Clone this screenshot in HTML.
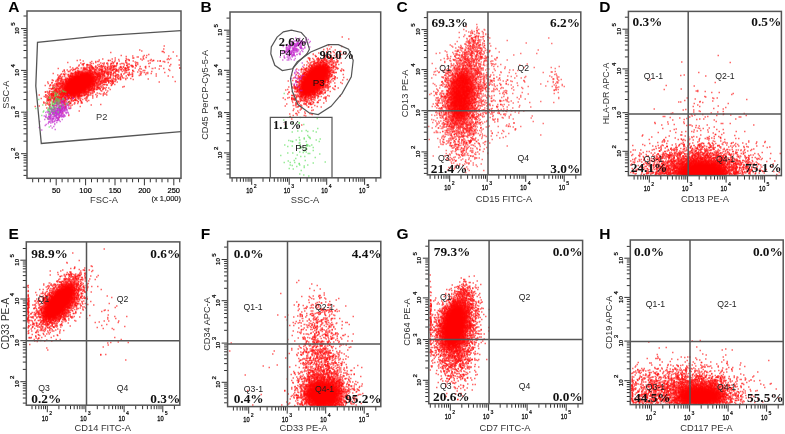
<!DOCTYPE html><html><head><meta charset="utf-8"><style>html,body{margin:0;padding:0;background:#fff;overflow:hidden}svg{display:block}</style></head><body><div id="w"><svg width="785" height="434" viewBox="0 0 785 434">
<rect width="785" height="434" fill="#fff"/>
<defs><filter id="b1" x="-50%" y="-50%" width="200%" height="200%"><feGaussianBlur stdDeviation="1"/></filter><filter id="b2" x="-50%" y="-50%" width="200%" height="200%"><feGaussianBlur stdDeviation="2"/></filter><filter id="b3" x="-50%" y="-50%" width="200%" height="200%"><feGaussianBlur stdDeviation="3"/></filter><filter id="b4" x="-50%" y="-50%" width="200%" height="200%"><feGaussianBlur stdDeviation="4"/></filter></defs>
<svg x="27" y="11" width="154" height="167.3" viewBox="27 11 154 167.3" overflow="hidden">
<ellipse cx="79" cy="84" rx="18" ry="11" transform="rotate(-30 79 84)" fill="#ff0000" opacity="1" filter="url(#b2)"/>
<path transform="scale(.5)" d="M220 105h3m18 6h3m7 2h3m38-2h3m1-2h3m37 3h3m-135 6h3m44-1h3m-2 2h3m11-3h3m4-2h3m-1 0h3m7 2h3m45 3h3m-1-2h3m-204 8h3m16-4h3m9 1h3m14 1h3m31-2h3m4 2h3m11-1h3m-3 0h3m12 3h3m28-5h3m39 3h3m-1 0h3m-2 1h3m-171 2h3m2 2h3m-3 0h3m-1-1h3m3 3h3m0 0h3m0-1h3m-1-2h3m13 2h3m1 2h3m8-4h3m6 0h3m0-1h3m-3 5h3m-2-4h3m-1 4h3m3-5h3m3 2h3m10-1h3m-3 4h3m-2 0h3m-2-3h3m0 1h3m-3-1h3m1 3h3m-3 0h3m-1 0h3m4-4h3m1-1h3m22 0h3m55 4h3m-221 4h3m2 2h3m3 1h3m3-5h3m2 4h3m8-2h3m3 3h3m-2 0h3m-1-5h3m-1 1h3m-3 4h3m-2-2h3m-1 2h3m0-3h3m1 2h3m-2 1h3m3-3h3m2-1h3m0 1h3m2 1h3m0-2h3m0 4h3m-1-4h3m-1 2h3m-1-2h3m-2 1h3m2-2h3m-3 1h3m6 1h3m0 3h3m0-3h3m0 2h3m0 1h3m-1-4h3m-2 1h3m-1 0h3m4 0h3m2 2h3m7-3h3m7 1h3m66 2h3m-237 7h3m6-3h3m8 1h3m0-2h3m7 4h3m3 0h3m-1-3h3m-2-2h3m0 0h3m1 1h3m-3 0h3m0 3h3m-3-1h3m-1-2h3m-2 1h3m1 3h3m4-3h3m3-1h3m-2 2h3m-2-2h3m0-1h3m-2 4h3m-2 0h3m-2-2h3m0 3h3m-3 0h3m3-5h3m3 0h3m2 3h3m-2-1h3m3 2h3m-3-2h3m1 2h3m-2-1h3m8 1h3m14-1h3m35 2h3m-200 4h3m12 2h3m3-1h3m6 1h3m1 0h3m-1-3h3m-2 2h3m-3-1h3m3-2h3m-1-1h3m-3 4h3m-3-1h3m-2 2h3m0 0h3m-2-4h3m-3 2h3m-2-2h3m2 4h3m-2-5h3m-3 5h3m-3 0h3m-2-1h3m-3-1h3m-2-3h3m-1 2h3m2 3h3m-2-4h3m-2 3h3m2 1h3m-3 0h3m-2 0h3m-2-2h3m0 1h3m-2-2h3m-2 3h3m-1-4h3m-2-1h3m-3 2h3m-2 3h3m-3-4h3m-2 3h3m-3-1h3m-2 2h3m-2-2h3m-2 2h3m-1 0h3m-2-3h3m-1-1h3m-3 4h3m0-2h3m-1-1h3m-3 0h3m-3 3h3m-2-1h3m-1-1h3m-3-3h3m-3 5h3m-3-2h3m-1-1h3m1 0h3m-1 3h3m-3-4h3m-2-1h3m8 3h3m0-3h3m2 5h3m-2 0h3m3-1h3m4-2h3m-1-1h3m-1 0h3m-1 4h3m6 0h3m8-5h3m2 4h3m-168 2h3m1 2h3m-2-1h3m15 1h3m-1 1h3m-3-3h3m0 2h3m-2 2h3m0 1h3m-3 0h3m-1-1h3m-3 0h3m1-1h3m-2-1h3m-2-1h3m-3 3h3m-1-1h3m-2 2h3m0 0h3m-3-2h3m-3-3h3m-2 0h3m-1 0h3m-3 3h3m-3-1h3m-2-1h3m-2 1h3m1 3h3m-3-3h3m1 1h3m-2-3h3m-2 1h3m0-1h3m-3 0h3m-3 3h3m-2 1h3m-3-2h3m-3 1h3m-2 2h3m1-5h3m-2 4h3m-2 1h3m0-2h3m0 2h3m-2-5h3m-3 4h3m-2 0h3m-3-1h3m-2 0h3m-1-1h3m-2-2h3m-2 2h3m-3 3h3m-3 0h3m13-4h3m-1 4h3m-1 0h3m-2-4h3m-3 1h3m5 0h3m-2 0h3m-1-2h3m-1 4h3m3 1h3m-3-2h3m-1-1h3m20 0h3m-164 8h3m5 1h3m0-3h3m-1-1h3m3 1h3m3 1h3m0 0h3m2 0h3m-2 1h3m-2-4h3m-2 3h3m-2 1h3m-3 1h3m-2-3h3m-3 2h3m-3 1h3m-2-2h3m1 1h3m-2-1h3m-3 0h3m-2-2h3m-3 0h3m-3 0h3m-2 4h3m-2-2h3m-3-3h3m-3 2h3m-3 1h3m-2 2h3m-3-4h3m-2 4h3m-3-5h3m-2 1h3m-2 2h3m-3 0h3m-3 0h3m-1 2h3m-3-5h3m-3 0h3m-3 1h3m-2-1h3m-3 5h3m-2-1h3m-2-2h3m-2-2h3m-2 3h3m-3-1h3m-3-1h3m-2 1h3m-3 2h3m-2-4h3m-3 4h3m-2 1h3m-2-5h3m-2 4h3m-3 0h3m0-2h3m-3-1h3m-1-1h3m-3 0h3m-2 2h3m-3 1h3m-3-3h3m-2 3h3m-3-3h3m-3 4h3m-2-1h3m-2 0h3m-3 0h3m1 1h3m-3-1h3m-2-1h3m-3 1h3m-2-3h3m-3 5h3m-3 0h3m-2-3h3m-1-2h3m-3 2h3m-3 2h3m0-2h3m-2 0h3m-2 2h3m-1-1h3m-3-3h3m-2 3h3m-2-3h3m2 0h3m-3 3h3m-3-1h3m7-1h3m-2-1h3m-3 2h3m-3 2h3m-3 0h3m0-4h3m14 4h3m4-3h3m0 2h3m11-3h3m9 3h3m27-1h3m-196 8h3m5-3h3m0 1h3m1 2h3m-2 1h3m-2-1h3m0 1h3m-3-2h3m-2 2h3m-1-4h3m-2 4h3m0-2h3m-3 1h3m-3-2h3m-2 3h3m-2-5h3m-3 0h3m-1 5h3m0-1h3m-2-2h3m-2 0h3m-2-2h3m-1 0h3m-3 4h3m-2-4h3m-3 3h3m-2-3h3m-2 4h3m-3-3h3m-2 3h3m-3-1h3m-2-1h3m-3 0h3m-2-1h3m-3 0h3m-3 2h3m-2 1h3m-2 1h3m-3 0h3m0-1h3m-3 1h3m-2-4h3m-2 0h3m-3 4h3m-2-5h3m-2 2h3m-3 2h3m-2-3h3m-2 0h3m-2 0h3m-3 0h3m-2 2h3m-1 1h3m-2-2h3m-3 1h3m-2 2h3m-3-4h3m-3 0h3m-2-1h3m-3 1h3m-2 4h3m-2-1h3m0 1h3m0 0h3m-2-3h3m-2-1h3m-2 2h3m-3 0h3m-2 2h3m-3-4h3m-3 4h3m-2-1h3m-3-2h3m-3-2h3m-2 2h3m-2 1h3m-3 0h3m-3 0h3m-2-1h3m-3 2h3m-2-3h3m-2 2h3m-2-1h3m-1-1h3m-2 2h3m-2-1h3m-1 0h3m-3-1h3m-1 3h3m-1 0h3m-2-3h3m2 1h3m-1-1h3m-2 3h3m1-2h3m0 1h3m2-3h3m-2 4h3m0-4h3m-2 5h3m-1-3h3m-2 1h3m-2-3h3m-138 9h3m7-1h3m5 1h3m1-2h3m-1 3h3m-3 0h3m-1-3h3m-3 4h3m-3-2h3m-2 0h3m-2-3h3m0 5h3m-1-2h3m-2 2h3m1-3h3m-3 1h3m0 2h3m0 0h3m-2-3h3m-1-2h3m-3 1h3m-2-1h3m-3 1h3m-1 2h3m-2 2h3m-3 0h3m-2-5h3m-3 5h3m-3-3h3m-3 0h3m-2 1h3m-2 0h3m-3 2h3m-3-3h3m-2 2h3m-3-1h3m-3 0h3m-2 2h3m-2 0h3m-3 0h3m-2-5h3m-3 5h3m-2-4h3m-3 2h3m-1 2h3m0-5h3m-3 5h3m-2-2h3m-3-3h3m-2 3h3m-3 1h3m-3-2h3m-3 2h3m-3-4h3m-3 0h3m-2 0h3m-3 2h3m-3-1h3m-3 4h3m-1-4h3m-3 1h3m-3 2h3m-1-4h3m-1 3h3m-3-1h3m-3 3h3m-2-1h3m-2-3h3m-2 1h3m-3 0h3m-3 2h3m-3-1h3m-2 1h3m-2 1h3m-1 0h3m-2-4h3m-3 1h3m-3-2h3m-3 4h3m-2 0h3m-2-4h3m-1 3h3m-3-2h3m-3 3h3m-3-3h3m-2 0h3m-3 4h3m-2-3h3m-2 0h3m-3-2h3m-2 3h3m-3-3h3m-3 1h3m-3 3h3m-3-2h3m-3 0h3m-2 3h3m-3-3h3m-2-2h3m0 0h3m-3 3h3m-3 1h3m-2-4h3m-3 3h3m-1-2h3m-3 1h3m-3-2h3m-1 0h3m-2 1h3m-2-1h3m-2 2h3m5 3h3m-2-5h3m-2 4h3m-2 0h3m2-3h3m2 0h3m-3 1h3m7 0h3m22 3h3m-148 5h3m-2-1h3m-2 1h3m-3-1h3m-1-1h3m-1 0h3m0 0h3m-1 1h3m-3 1h3m-2 0h3m-2-1h3m-1 0h3m-2-1h3m-2-2h3m5 0h3m-2 1h3m-2 3h3m-2-2h3m-2-1h3m-2 0h3m-2-1h3m-3 3h3m-3 2h3m-2 0h3m-3-3h3m-1 3h3m-2-3h3m-3 1h3m-3 0h3m-1-2h3m-2 1h3m-2 0h3m-3 0h3m-2 3h3m-2-2h3m-3 2h3m-2-3h3m-2 0h3m-2 3h3m-1 0h3m-2-5h3m-2 3h3m-3-2h3m-1-1h3m-3 3h3m-2-3h3m-2 0h3m-2 1h3m-2 4h3m-2-5h3m-2 4h3m-2-4h3m-2 0h3m-3 3h3m-1-2h3m-3 3h3m-2 0h3m-3-4h3m-2 0h3m-3 4h3m-2-4h3m-2 3h3m-3 2h3m-2-2h3m-3-3h3m-2 1h3m1 0h3m-1 1h3m-3-1h3m-2 3h3m-3 1h3m-1-5h3m-3 4h3m-2-4h3m-3 5h3m0 0h3m-2-1h3m-2-2h3m-2 0h3m-1 0h3m-2 3h3m-2-3h3m0 3h3m-1 0h3m-2-4h3m-2 0h3m0 1h3m-2 3h3m0-4h3m0 3h3m1-1h3m-1-2h3m2 1h3m0 3h3m22-5h3m-150 9h3m1 0h3m1 0h3m0-2h3m-2 1h3m-2-2h3m-2 3h3m-2 2h3m-3-3h3m1-2h3m-2 1h3m-2 3h3m-2 1h3m-3-4h3m-3 2h3m-2-2h3m-2 4h3m-3-5h3m-1 0h3m-3 0h3m-2 4h3m-3-3h3m-3 1h3m-3 3h3m-2-5h3m-2 5h3m-3-2h3m2-1h3m-2 3h3m-2-4h3m-3 3h3m-3-2h3m-1 3h3m-3-3h3m-2 3h3m-1-2h3m-2 2h3m-3 0h3m-3-4h3m-3 1h3m-3 3h3m-3-5h3m-3 2h3m-2 1h3m-3-1h3m-3-2h3m-2 4h3m-2-3h3m-2-1h3m-3 3h3m-2 0h3m-2-3h3m-3 0h3m-2 1h3m-3 0h3m-3 2h3m-3-2h3m-3-1h3m-2 3h3m-2-3h3m-3 4h3m-3-3h3m-2 3h3m-1-4h3m-3 3h3m-1-2h3m-2-1h3m-3 1h3m-2 4h3m-2 0h3m-3-5h3m0 2h3m-3-2h3m-2 4h3m-3-1h3m-3-3h3m-2 3h3m-3 2h3m-2-1h3m-3-2h3m-3 1h3m-3-2h3m-2 1h3m-3 2h3m-2-1h3m-1-1h3m-3 2h3m-2-1h3m-3-3h3m-2 2h3m-2 2h3m-3-3h3m-2 2h3m0 2h3m1-4h3m-1 0h3m-2 0h3m3 1h3m-2 1h3m10-2h3m-126 9h3m10 0h3m0 1h3m0-2h3m-2-2h3m-1 3h3m-1-3h3m-3 1h3m-1 3h3m-2 0h3m-3-1h3m-1-2h3m-3 3h3m-3-3h3m-1 2h3m-2-2h3m-3 3h3m-1 0h3m-1-5h3m-2 5h3m-3 0h3m2-3h3m-3 2h3m-2-3h3m-2 3h3m-2-1h3m1-1h3m-3 0h3m-3 0h3m-3-2h3m-1 2h3m-3-2h3m-2 2h3m-2 1h3m-3-1h3m1 0h3m-2-2h3m-3 1h3m-3 1h3m-3 2h3m-3-3h3m0 3h3m-3-3h3m-1 3h3m-2-2h3m-2 0h3m-3 1h3m0-3h3m-3 5h3m-2-5h3m-1 3h3m-3 2h3m-2-4h3m-3 4h3m-3-4h3m-3 1h3m-2-2h3m-3 2h3m-2-2h3m-3 3h3m-3 2h3m0-4h3m-3 4h3m-3 0h3m-1-4h3m-3 2h3m-2 2h3m-3-3h3m6 0h3m-2-1h3m-3 1h3m-2-1h3m-3 3h3m3-4h3m-2 5h3m1-5h3m-2 2h3m-3 2h3m1-3h3m13 1h3m-112 6h3m0 0h3m-2 0h3m-2 1h3m-3 0h3m-2 0h3m-1-2h3m-1 0h3m-3 1h3m1 0h3m-2 3h3m-2 0h3m-3-5h3m-2 3h3m-2-1h3m-3-1h3m-2 1h3m-2-1h3m-1-1h3m-2 4h3m-3-1h3m-1-1h3m-3-1h3m-1 1h3m-2-2h3m-1 3h3m-3-3h3m0 1h3m-1-1h3m-3 0h3m-2 3h3m-2-1h3m-3 2h3m-2-4h3m-2 2h3m-2-2h3m0 1h3m-2 4h3m-1-2h3m0 2h3m-1-3h3m-2 1h3m0-3h3m-2 2h3m3-1h3m-2 0h3m-3 3h3m-3-4h3m-2 5h3m-2-5h3m-2 4h3m-3-2h3m-2 0h3m-2-1h3m-2-1h3m-3 5h3m-2-5h3m-3 0h3m7 4h3m-1 0h3m-2-3h3m-84 5h3m-2 0h3m-3 3h3m-1-1h3m-2 2h3m-3 0h3m-1-3h3m-3 0h3m-2 3h3m-3 0h3m2 0h3m-1-4h3m2 0h3m-2 4h3m-3-2h3m-1-1h3m-1 2h3m-2-1h3m5-1h3m-3 3h3m0-3h3m-1-1h3m1 0h3m10 2h3m0 0h3m1 3h3m1-5h3m-3 3h3m-1 2h3m8-3h3m1 1h3m-93 5h3m0 0h3m6 2h3m-3 1h3m3-5h3m-3 2h3m-2-2h3m4 4h3m7-4h3m-2 0h3m-1 0h3m-2 1h3m-3 2h3m-1 0h3m1-3h3m1 0h3m-1 3h3m-1-2h3m5 0h3m10 1h3m36 3h3m-134 4h3m5-1h3m10-2h3m4 0h3m-2 2h3m-3 1h3m3-3h3m10 5h3m8-2h3m-2 1h3m8-2h3m0-2h3m35 0h3m-92 6h3m12 1h3m13 1h3m2-1h3m6 0h3m-23 18h3" stroke="#ff0000" stroke-width="3" stroke-opacity="0.6" fill="none"/>
<path transform="scale(.5)" d="M327 92h3m-52 8h3m1 2h3m38 1h3m1 2h3m15-1h3m-63 9h3m-1-2h3m62 1h3m-132 6h3m10 1h3m41-1h3m54 1h3m-181 1h3m28 3h3m1 0h3m-1 0h3m-2-3h3m26 5h3m0-5h3m18 2h3m-3 3h3m4-5h3m5 2h3m31-1h3m4 0h3m10 1h3m13 3h3m-181 5h3m3-1h3m-2 0h3m-2 2h3m4-1h3m-1 0h3m4 1h3m1-4h3m6 3h3m3-4h3m-2 5h3m9-5h3m-2 4h3m-3-3h3m3 2h3m-3 2h3m9-4h3m35 4h3m23-4h3m-184 10h3m37 0h3m9-2h3m-3 1h3m4-2h3m0 1h3m-2-3h3m-1 3h3m-2-2h3m-2 0h3m-1 2h3m11 2h3m-3-4h3m2 2h3m-3-3h3m-3 1h3m-2 0h3m-3 4h3m2 0h3m-3-4h3m2 3h3m0 0h3m0 0h3m-3 0h3m-1-4h3m1 1h3m0-1h3m5 4h3m-2 1h3m-2-3h3m-2-1h3m2 1h3m2 3h3m2-1h3m32-3h3m10 4h3m-2 0h3m14-5h3m-197 10h3m-3-1h3m5 2h3m11-4h3m15 0h3m-2 1h3m0-1h3m-1 3h3m2-1h3m0 0h3m-2-3h3m-1 1h3m0 3h3m-2-2h3m6 1h3m-3 0h3m0 0h3m-3-1h3m-2 2h3m-3 0h3m-1-3h3m-2 4h3m-3 0h3m0 0h3m-3 0h3m-2-1h3m-2-2h3m-2 2h3m1-1h3m1-2h3m-2 1h3m-3-2h3m-2 3h3m-1 0h3m0-3h3m-1 1h3m0 3h3m-2-3h3m-1 3h3m5-2h3m-1 3h3m4-5h3m-2 3h3m1-2h3m7 4h3m-2 0h3m7-3h3m0 3h3m-155 6h3m-2-5h3m12 4h3m2 0h3m-2 0h3m-2-2h3m-2 0h3m0-2h3m-2 0h3m-3 2h3m2-2h3m-3 5h3m-1-1h3m-2-2h3m-2 1h3m-1 1h3m-1-1h3m-2-3h3m-3 1h3m-2 4h3m-2-1h3m-2 0h3m-3-1h3m-3 0h3m-2-1h3m-1 2h3m-2-3h3m-3 1h3m-2 1h3m-3 1h3m-2 0h3m-2-4h3m-2 4h3m-3 1h3m-3 0h3m-3 0h3m-2-2h3m-2 0h3m-3 2h3m1-5h3m0 1h3m0 2h3m-1 1h3m-1 0h3m-1-3h3m-2 3h3m-2 1h3m-2 0h3m-1-4h3m0 3h3m-1-3h3m1 2h3m-2-3h3m0 4h3m-2-2h3m0-1h3m-3 4h3m-2-4h3m-2 3h3m3-3h3m10 4h3m2-1h3m8 1h3m-3-2h3m3-1h3m-2 2h3m13-4h3m-1 0h3m5 5h3m8-2h3m-189 8h3m-2-2h3m16-3h3m1 2h3m0 2h3m-1-4h3m-1 3h3m0-1h3m-3 1h3m-3 2h3m-1 0h3m-2-2h3m-1 0h3m-1 2h3m2 0h3m-2 0h3m-1-2h3m-2 0h3m-1-3h3m-2 3h3m-2-1h3m-1 2h3m-3-4h3m-1 0h3m-3 1h3m-2 0h3m0-1h3m-2 4h3m-3-3h3m-2 2h3m-2-2h3m-3 0h3m-2-1h3m-1 5h3m-2-1h3m-2 1h3m-2 0h3m0-2h3m1 2h3m-3-5h3m-3 4h3m-2-3h3m-2-1h3m-2 3h3m-3-2h3m-3-1h3m-2 4h3m-2-1h3m-3 2h3m-2-1h3m-3-2h3m1 2h3m-2-3h3m-2 1h3m-1-2h3m-3 0h3m-2 2h3m-3 0h3m-3-2h3m2 4h3m-3-1h3m-2 0h3m2 1h3m3-4h3m2 5h3m-3-4h3m3 0h3m4 4h3m-3-3h3m5 0h3m2-1h3m18 0h3m0-1h3m61 4h3m-242 7h3m5-2h3m-1 1h3m0-4h3m-1 0h3m-2 1h3m-1 2h3m-3 2h3m-2-2h3m-2 1h3m2-4h3m-3 3h3m-2-2h3m0 1h3m-1 2h3m2-2h3m-2 3h3m-1 0h3m-3 0h3m-2-3h3m-2 2h3m-2-1h3m-3-1h3m-2 3h3m-2-5h3m-2 4h3m-3-1h3m-3-3h3m-2 4h3m-2-4h3m-2 1h3m-3 1h3m-2-1h3m-3 1h3m-2 0h3m-3-1h3m-3 3h3m-2-3h3m-2 3h3m-3-2h3m-2 0h3m-2 3h3m-1-5h3m-3 0h3m-3 5h3m-3-4h3m-2 3h3m-3-2h3m-2 3h3m-3-5h3m-2 5h3m-2 0h3m-3-1h3m-2-4h3m-2 3h3m-3 0h3m-3-1h3m-2 0h3m-1 3h3m-2-4h3m-1 0h3m-3 0h3m-1 1h3m-3 3h3m-2 0h3m-1-5h3m-3 0h3m-3 5h3m0-1h3m-2-4h3m-3 3h3m-2 0h3m-2-2h3m-1 4h3m-1-5h3m-2 4h3m-2 0h3m0-1h3m-2 0h3m-3 2h3m-2-4h3m-1 4h3m-3-1h3m-1-3h3m1-1h3m-2 5h3m-1-1h3m0 1h3m-3-3h3m-3-1h3m-2 1h3m-2 3h3m-2-4h3m-3 0h3m-3 1h3m-2 3h3m-2 0h3m-3-5h3m-2 1h3m-3 1h3m0-1h3m-1-1h3m2 0h3m2 2h3m-2 2h3m1-2h3m2 1h3m-3-1h3m17-1h3m-169 7h3m-2 3h3m5-2h3m5 2h3m0 0h3m1-1h3m-2-4h3m-2 1h3m-1-1h3m-3 1h3m-1 4h3m-1 0h3m-3-1h3m2-3h3m-2 4h3m-3 0h3m-3-3h3m-1-1h3m-2 4h3m-3-2h3m-1 1h3m-3-1h3m-2 1h3m-3-1h3m-2-2h3m0 3h3m-3 0h3m-2-2h3m-2-2h3m-2 3h3m-2 0h3m-1 2h3m-3-1h3m-2-4h3m-2 0h3m-3 2h3m-3-1h3m-3 2h3m-3 1h3m-1 1h3m-3-5h3m-2 4h3m-3-4h3m-3 2h3m-2-1h3m-3 1h3m-2 3h3m-2 0h3m-2-5h3m-2 1h3m-2 0h3m-3 0h3m-2-1h3m-3 5h3m-3 0h3m-3-2h3m-3 1h3m-1 1h3m-2-4h3m-3 3h3m-3-4h3m-2 0h3m-2 5h3m-2 0h3m-3-4h3m-2 4h3m-2 0h3m-3-5h3m-2 0h3m-3 1h3m-3-1h3m-2 3h3m-2-1h3m-3 3h3m-2-4h3m-3 3h3m-2 0h3m-2-2h3m-1 1h3m-3 0h3m-3 2h3m-3 0h3m-2-3h3m-2 3h3m-2-3h3m-3-2h3m-3 0h3m-2 0h3m-2 1h3m-3 1h3m-2-1h3m-1 2h3m-3 1h3m-2 1h3m-3-4h3m-3-1h3m-2 4h3m-3-2h3m-3-1h3m-1-1h3m-2 0h3m-2 4h3m-2 0h3m1-3h3m1 0h3m-3 2h3m-3 1h3m-2 1h3m-3-2h3m-3 0h3m-2 2h3m-2-5h3m-3 0h3m-2 4h3m-3-1h3m-2-3h3m-3 3h3m-2-2h3m1 1h3m-2-1h3m3 1h3m4-2h3m-2 5h3m-2-1h3m-2-3h3m0 0h3m1 1h3m81 0h3m-222 8h3m-1-2h3m1 1h3m-2-1h3m2 3h3m-3-1h3m-2-1h3m-3 2h3m-1-4h3m-3 1h3m3-2h3m1 3h3m-3 0h3m-1-2h3m-1 4h3m0-2h3m0-2h3m-2 2h3m-3-2h3m-3 1h3m-3 1h3m-3-2h3m-2-1h3m-3 4h3m-3 0h3m-2-2h3m-3 1h3m-2 1h3m-1-1h3m-2 0h3m-3-3h3m-1 1h3m-3 2h3m-3-2h3m-2 4h3m-3-2h3m-2-2h3m-3 4h3m0 0h3m-2-2h3m-3-1h3m-2-1h3m-2 3h3m-2-4h3m-3 3h3m-2-1h3m-3 3h3m-3-5h3m-2 0h3m-2 4h3m-2 1h3m-2-4h3m-3 3h3m-3-3h3m-3 4h3m-2 0h3m-2-1h3m-3-2h3m-3 1h3m-2 2h3m-2-1h3m-3-4h3m-2 2h3m-3-1h3m-2-1h3m-2 2h3m-3-2h3m-3 2h3m-2-1h3m-3 3h3m-2-1h3m-2 0h3m-2-3h3m-3 4h3m-3 1h3m-2-1h3m-2-4h3m-3 5h3m-3 0h3m-2-1h3m-2-2h3m-3 3h3m-2-2h3m-2 0h3m-1-3h3m-3 3h3m-1-1h3m0 3h3m0-5h3m-2 1h3m-2 1h3m-1 3h3m-3-3h3m-3-2h3m-2 4h3m-2 0h3m-2 0h3m-1 0h3m-3-4h3m-3 0h3m-1 5h3m-2-3h3m-1-1h3m4 1h3m2-1h3m9 2h3m4-2h3m-134 8h3m-1 0h3m-1 1h3m0-1h3m-1-1h3m-2 3h3m-3-4h3m0 4h3m0-3h3m-1 3h3m-2-2h3m0-1h3m-3 0h3m-1-1h3m-1 1h3m-2 1h3m0 2h3m-3-2h3m-2 1h3m-3-3h3m-1-1h3m-3 5h3m-2-1h3m-3-4h3m-3 4h3m-2-1h3m-3-2h3m-3 1h3m0 2h3m-1-1h3m-3-1h3m-2 3h3m-3-2h3m-2 1h3m-3-3h3m-2 2h3m-3-1h3m-2 1h3m-3 2h3m-3-1h3m-1-3h3m-3 4h3m-3-4h3m-1 1h3m-3-2h3m-3 4h3m-1-3h3m-2 4h3m-3 0h3m-1-3h3m-2 3h3m-2-4h3m-3-1h3m-2 5h3m-3 0h3m-3-5h3m-3 3h3m-2 0h3m-2 1h3m-2-2h3m-1-2h3m-3 1h3m-2 0h3m-3 0h3m-1 3h3m-2-2h3m1 2h3m-2-3h3m-3 0h3m-2 1h3m-3 2h3m-2 1h3m-3-4h3m-3 4h3m2-4h3m-2 1h3m-2 2h3m-1-2h3m1 1h3m-2-3h3m-1 5h3m-2 0h3m-2 0h3m-2-3h3m-3 0h3m0 3h3m-2-1h3m-3-3h3m0 1h3m-1-1h3m-3 3h3m-1-1h3m5-1h3m-121 8h3m1-1h3m1 2h3m4-2h3m0-2h3m-3 3h3m-1 1h3m-1-5h3m-1 4h3m-1 0h3m-1-1h3m-2 2h3m-2-1h3m-2 0h3m1-1h3m-2 1h3m-3 0h3m-3-4h3m-2 5h3m-3-5h3m-2 3h3m-2 2h3m-3-3h3m-2-2h3m-3 1h3m-3 4h3m-2 0h3m-3 0h3m-2-2h3m-3 1h3m-2 1h3m-3-5h3m-3 5h3m-2-5h3m-2 4h3m-2-4h3m-3 2h3m-1 1h3m-3 0h3m-1 0h3m-2 0h3m-2-1h3m-3 1h3m-3-3h3m-3 2h3m-2 2h3m-2-2h3m-2 1h3m-3-3h3m-2 1h3m-3 4h3m-2 0h3m-1-2h3m-2 2h3m-3-4h3m-2 2h3m-1-3h3m-3 0h3m-1 4h3m-3 1h3m-3-5h3m-1 3h3m-3 1h3m-3-3h3m0-1h3m-3 2h3m-3 2h3m-2-4h3m-1 0h3m-3 1h3m0-1h3m-3 1h3m-1 3h3m-2-3h3m-3 0h3m2 3h3m0-2h3m-3 2h3m-2-4h3m-2 0h3m-1 1h3m-3-1h3m0 2h3m-2 3h3m0-1h3m17 1h3m2 0h3m-125 5h3m1-4h3m3 2h3m-1 3h3m-2-4h3m-2 1h3m-2-2h3m-2 5h3m1-2h3m-2 0h3m-2-1h3m2 0h3m-2-2h3m-2 0h3m-2 2h3m-1-1h3m-2 0h3m-3 3h3m-2-4h3m-3 3h3m-3-3h3m-3 4h3m-3 0h3m-3-1h3m-2 1h3m-1-2h3m-3 1h3m-3-1h3m-3-2h3m-1 1h3m-2 4h3m-2-5h3m-2 0h3m-2 2h3m-3-1h3m-2 4h3m-1 0h3m-2-5h3m-1 0h3m-3 2h3m-2 2h3m-3-2h3m-3 0h3m-3 3h3m-2-4h3m-1 2h3m-2-3h3m-2 4h3m-2-1h3m-3-3h3m-3 1h3m-2 4h3m-2-5h3m-1 2h3m-3-2h3m-2 0h3m-2 2h3m-2 0h3m0 3h3m-2-1h3m-3 0h3m-2-3h3m-3 3h3m1 0h3m-2-4h3m-3 5h3m0 0h3m0-2h3m-1-3h3m-2 3h3m0-1h3m3-2h3m0 5h3m3-2h3m0 2h3m1-4h3m5 1h3m2 0h3m-132 9h3m19-2h3m-2 1h3m-1 1h3m0-2h3m0 2h3m0-3h3m-1 2h3m0 0h3m-2 0h3m-1-1h3m-2-3h3m-2 0h3m0 2h3m-2 1h3m-3 2h3m3 0h3m-1-2h3m-3 2h3m-2-4h3m-2 0h3m-2 0h3m-3 4h3m-2-5h3m-2 4h3m-3-1h3m-3-2h3m0 3h3m-2-2h3m0-2h3m-2 4h3m1-4h3m-1 1h3m-3 1h3m9 3h3m0-1h3m-2-3h3m9 0h3m5 1h3m-103 8h3m-2-4h3m-1 3h3m-1-2h3m0-1h3m2 0h3m-2 2h3m-2 0h3m-3 1h3m-3-2h3m-1 0h3m-2-1h3m-3 3h3m-2-1h3m-2-2h3m-3 1h3m-2-1h3m-2 1h3m-3 0h3m4 3h3m-3-3h3m-1 3h3m-3-2h3m-3 2h3m-2-1h3m-3-2h3m-3 4h3m-2-4h3m0 2h3m-1 1h3m4 1h3m1-3h3m-3 1h3m-3 0h3m-2-3h3m1 3h3m0-2h3m-3 1h3m1 1h3m-3 0h3m4 0h3m1-2h3m3 1h3m0 3h3m-90 1h3m3 3h3m11-3h3m-1 2h3m-3-2h3m1 2h3m-2 1h3m-2 1h3m1-3h3m-2 2h3m-1-3h3m-2 4h3m1-3h3m-1-1h3m-3 5h3m5-5h3m0 3h3m5 1h3m-2-1h3m12-1h3m-58 5h3m0 1h3m15-2h3m-2 3h3m2-3h3m-3 0h3m21 3h3m-44 4h3m-1 4h3m7-5h3m7 0h3" stroke="#ff0000" stroke-width="3" stroke-opacity="0.6" fill="none"/>
<path transform="scale(.5)" d="M326 98h3m-4 5h3m-64 9h3m-38 4h3m23 3h3m6-3h3m19 2h3m2-3h3m7 4h3m36-2h3m-164 8h3m8 0h3m22-4h3m1 0h3m6 2h3m19-2h3m4 0h3m9 3h3m0 1h3m20-3h3m5 0h3m-1-1h3m6 1h3m2 0h3m35-2h3m-195 8h3m5 1h3m28-2h3m-1 3h3m-2-3h3m-3-1h3m11 1h3m8 3h3m-2-3h3m6 0h3m-2 0h3m0 0h3m-2 3h3m2 1h3m6 0h3m6-1h3m1-1h3m63 0h3m-191 7h3m-2-1h3m9 1h3m1 1h3m-2-1h3m-1 1h3m2-1h3m2-1h3m0 1h3m2-2h3m-3-2h3m-2 2h3m-1 1h3m0-2h3m3 1h3m3 2h3m2-2h3m3-1h3m-1 2h3m2 0h3m-3-1h3m-1-1h3m-1 4h3m8-2h3m4 2h3m-1-1h3m1-1h3m5-2h3m-1-1h3m-2 1h3m3-1h3m4 5h3m9-1h3m4-3h3m9 3h3m6-4h3m5 5h3m9-5h3m18 4h3m-235 4h3m7 3h3m-2 0h3m-2-2h3m-1-2h3m1 0h3m2 4h3m1-2h3m-2 1h3m-2 1h3m18-1h3m-2 0h3m-2-2h3m-1 2h3m-3 0h3m2-4h3m-1 4h3m-2-3h3m-3-1h3m-1 0h3m-2 2h3m-2 3h3m-2 0h3m4-4h3m-2 4h3m-3-3h3m-1 2h3m2 1h3m-2-5h3m-2 2h3m1-1h3m-1 4h3m2-5h3m-2 2h3m0-1h3m-2-1h3m1 2h3m-1 0h3m-1-1h3m1 0h3m0 0h3m1 1h3m-3-1h3m0 0h3m-2 3h3m-1-1h3m0-1h3m-1-1h3m4 2h3m14-3h3m1 3h3m0 0h3m26-3h3m16 1h3m-1 2h3m-219 7h3m2 1h3m0-1h3m8-1h3m-2 0h3m0 0h3m2-3h3m-3 0h3m0 2h3m0 2h3m-2-1h3m-2-3h3m-1 3h3m1 2h3m-3 0h3m-2 0h3m0-1h3m-1 1h3m-2 0h3m-3-1h3m-2 1h3m-2-2h3m-2-1h3m-3 0h3m-3 3h3m-2-1h3m0-3h3m-1 0h3m-2 1h3m-3-2h3m-2 0h3m-2 2h3m-1 2h3m-2 0h3m0-1h3m-3 0h3m-3-3h3m-2 3h3m-3-3h3m-2 5h3m-2-4h3m-2 1h3m-2 2h3m-2-3h3m-3-1h3m-1 4h3m-2 0h3m0-3h3m-1 3h3m2-2h3m0-2h3m-1 5h3m-2-3h3m-2 3h3m-3-3h3m-2-1h3m0 4h3m-2-5h3m-3 2h3m-2-2h3m1 3h3m-2-3h3m1 3h3m3-3h3m18 1h3m0 4h3m18-2h3m3-2h3m1 1h3m0 1h3m-3-2h3m14 3h3m14-3h3m-212 8h3m0 2h3m-2-2h3m1 0h3m-2-1h3m5 1h3m-1 2h3m-1-3h3m-2 0h3m-1 3h3m-3-3h3m1 1h3m-3 1h3m-2-1h3m-3 0h3m-2 0h3m-1-3h3m-2 1h3m-1 2h3m-2 0h3m0 2h3m-1-4h3m-1 2h3m-2 1h3m-3-2h3m-1 1h3m-1-3h3m-3 5h3m-3-3h3m-2 3h3m-3 0h3m-3-1h3m-1 1h3m-3 0h3m-3-3h3m1 2h3m-3 0h3m-2-1h3m-3-3h3m-3 2h3m-2-1h3m-2 1h3m1-1h3m-2 2h3m-2 2h3m-2-2h3m-2-3h3m-3 2h3m-2-1h3m-2 3h3m-3-1h3m-3 0h3m-1 1h3m-2 1h3m-1-1h3m-3-4h3m-3 3h3m-2-2h3m-3 0h3m-3 4h3m-2-2h3m-1-2h3m-3 1h3m-2 1h3m-2-2h3m-1 0h3m-3 0h3m-3 2h3m-3 0h3m-2 1h3m-2-2h3m-3 1h3m-1-3h3m-2 5h3m-1-3h3m-3-1h3m-2 2h3m9-3h3m2 2h3m2 1h3m0-3h3m-1 3h3m18-3h3m4 3h3m45-1h3m21 0h3m-224 9h3m-1-1h3m-3-4h3m0 2h3m-1 2h3m-3 1h3m5 0h3m0 0h3m-1-4h3m-2 4h3m-1 0h3m-2-3h3m-2-1h3m-2 4h3m-3 0h3m-2-2h3m-2 1h3m-2-2h3m-2 0h3m-3 2h3m-2 0h3m-2-3h3m-3 0h3m-2-1h3m-2 4h3m-3-3h3m-2 1h3m-3 0h3m-3 3h3m-2 0h3m-3 0h3m-3 0h3m-1 0h3m-2-2h3m-3 2h3m-3-3h3m-3-2h3m-3 3h3m-2-3h3m-3 2h3m-2 2h3m-3 1h3m-2-1h3m-2-2h3m-3 2h3m-2 1h3m2-5h3m-2 0h3m-3 5h3m-3 0h3m-2-3h3m1 0h3m-1-2h3m-3 1h3m-1 1h3m-3-1h3m-3 0h3m-1 2h3m-2 0h3m-2-2h3m-3 2h3m-2 2h3m-2-4h3m-2 4h3m-3-3h3m0 1h3m-3 0h3m-2 1h3m-1 0h3m-3-3h3m-2 1h3m0 2h3m-2 1h3m-3-4h3m-3 3h3m-2-2h3m1 2h3m-3-3h3m-2 1h3m1 3h3m-3-3h3m-1 0h3m-3 1h3m-2 1h3m-2-4h3m-3 5h3m0-1h3m-2-3h3m-2 0h3m-1 3h3m-3-3h3m-2 1h3m-3 1h3m-1-2h3m-2 4h3m-2 0h3m0 0h3m-2 0h3m-2-2h3m-1 2h3m-2-3h3m0 0h3m3-2h3m2 0h3m3 0h3m-2 0h3m1 1h3m-3 2h3m-138 5h3m-2 3h3m-3 0h3m1-5h3m-2 5h3m0-2h3m-2-1h3m2-2h3m-2 3h3m-1-2h3m-3-1h3m-1 3h3m-3 1h3m-2-3h3m-3 0h3m-3 2h3m-2 2h3m-2-3h3m-3 2h3m-2-1h3m-3 1h3m-2-3h3m-3 3h3m-1-3h3m-1 3h3m-1-4h3m-3 0h3m-1 3h3m-2 1h3m-3-2h3m-2 1h3m-2-1h3m-2 3h3m-3-3h3m-3 3h3m-3 0h3m0-4h3m-3-1h3m-2 2h3m-2 0h3m-1-1h3m-2 1h3m-3 3h3m-2-1h3m-2 1h3m-2-4h3m-3 2h3m-3-3h3m-2 5h3m-3 0h3m1-2h3m-2-2h3m-1 1h3m-3-1h3m-2 1h3m-3 1h3m-2 0h3m-2 2h3m-2-2h3m-3 0h3m-2 0h3m-2-3h3m-2 0h3m0 1h3m-2 0h3m-2 4h3m-2-5h3m-1 1h3m-2 4h3m-3-4h3m0 1h3m-1 2h3m-1-1h3m-1 0h3m-1-2h3m-3 4h3m-2-5h3m3 0h3m-2 3h3m-2 0h3m-2-2h3m-3-1h3m0 2h3m-1-2h3m0 2h3m1-1h3m0-1h3m-1 4h3m121-3h3m-246 10h3m-1-5h3m1 0h3m-1 0h3m-3 4h3m2-2h3m-3 3h3m-2-3h3m-3-2h3m-2 1h3m-2 2h3m-3 2h3m-2-5h3m-2 4h3m-2-2h3m-1-1h3m-1 0h3m-3 1h3m-2 1h3m-1-1h3m-3-2h3m-2 5h3m-3-3h3m-2 3h3m-3-2h3m-2-2h3m-3 1h3m-2-2h3m-1 5h3m-3-1h3m-3-1h3m-1 1h3m-3-4h3m-2 3h3m-3 1h3m-2 1h3m-3 0h3m-2-5h3m-3 4h3m0-3h3m-2 0h3m-2-1h3m-2 4h3m-1-2h3m-3-1h3m-2 1h3m-3 3h3m-3-3h3m-3-2h3m-3 2h3m-2 0h3m-3 2h3m-1-2h3m-3 0h3m-2 3h3m-3-1h3m-3 0h3m-2-3h3m-3 1h3m-2 0h3m-3-2h3m-2 2h3m-3 2h3m-2 0h3m-3-2h3m-2 1h3m-2 2h3m-2-5h3m-3 0h3m-3 5h3m-2 0h3m-3-2h3m-3-2h3m-3 2h3m-2 0h3m-3-2h3m-2-1h3m-3 3h3m-3 0h3m0 1h3m-2-3h3m-3 1h3m-2 0h3m-3 1h3m-3 2h3m-3-3h3m-2 1h3m-3-1h3m-3 0h3m-2 1h3m-3 0h3m-3-2h3m-2-1h3m-3 1h3m-3-1h3m-2 4h3m-3-3h3m-2-1h3m-2 0h3m-3 1h3m-3 0h3m-2 1h3m-3 2h3m-3-3h3m-3 4h3m-1 0h3m-3-3h3m-3 1h3m-1 1h3m-3-4h3m-2 1h3m-2 1h3m-2 2h3m-3-4h3m-3 0h3m-3 0h3m-1 1h3m-3 4h3m-2-1h3m3-1h3m-3-3h3m-1 2h3m-3-2h3m-1 2h3m-2-1h3m4 0h3m4 1h3m7-2h3m-122 8h3m-3-2h3m3 4h3m-2 0h3m3-4h3m-2 4h3m-3 1h3m-1-2h3m-1-3h3m-1 2h3m-2-1h3m-3 1h3m0 1h3m-1 0h3m-1-3h3m-3 5h3m-2-3h3m-3-2h3m-2 0h3m-3 4h3m-1-4h3m-3 0h3m-2 4h3m-3-3h3m-2-1h3m-3 4h3m-3-4h3m-3 4h3m-1-1h3m-3-2h3m-3 1h3m-2-2h3m-3 4h3m-2 1h3m-3-2h3m-1 2h3m-3 0h3m-3-3h3m-2-1h3m-2-1h3m-3 3h3m-2 2h3m-2-4h3m-2 1h3m-2-2h3m-3 4h3m-3 0h3m-2 1h3m-3-5h3m-3 4h3m-3 1h3m-2-1h3m-3-4h3m-3 0h3m-2 0h3m-3 4h3m-3 1h3m-2-2h3m-3-3h3m-1 4h3m-2-3h3m-3 4h3m-3-2h3m-3-2h3m-2 0h3m-3 4h3m-2-3h3m-2-1h3m-2 0h3m-3 0h3m-2 1h3m-3 2h3m-2-3h3m-1 0h3m0-1h3m-3 2h3m-2 3h3m-2-5h3m-2 4h3m-2 1h3m-3 0h3m1-5h3m-2 1h3m-3-1h3m-2 1h3m-2-1h3m-3 4h3m0 0h3m-2-3h3m-2 1h3m-1 1h3m-3 1h3m4-4h3m-2 0h3m-2 3h3m6 2h3m-2-3h3m-3-2h3m-118 10h3m5-2h3m5 2h3m0 1h3m-2-5h3m-3 2h3m-2-2h3m-2 3h3m-3-1h3m-2-1h3m-3 2h3m-1 2h3m-2-1h3m-2-3h3m-3 0h3m-1 2h3m0-1h3m-3 1h3m-1-3h3m-2 1h3m-3 0h3m-3 3h3m-2-2h3m-1 0h3m-2 3h3m-2-1h3m-2 1h3m-3-5h3m-2 1h3m-3 1h3m-3 3h3m-2-3h3m-3-1h3m-3-1h3m-2 0h3m-2 4h3m-2-3h3m-2 2h3m-2-1h3m-3 1h3m-3-3h3m-2 3h3m-2-2h3m-3 4h3m-3 0h3m-3-4h3m-1 4h3m-3-5h3m-3 4h3m-2-4h3m-3 2h3m-2 3h3m-2-2h3m-3 0h3m-3 1h3m-2-2h3m-3-1h3m-2 0h3m-3-1h3m-3 3h3m-1-3h3m-3 4h3m-2-2h3m-3 1h3m-3-3h3m-3 0h3m-2 4h3m-3 0h3m-3-1h3m-2-3h3m-3 3h3m0-3h3m-2 0h3m-3 3h3m-2-2h3m-3 4h3m-3-2h3m-2 2h3m0 0h3m3-3h3m-3-1h3m-3 0h3m-1 3h3m-2 1h3m-3-2h3m-1 0h3m0-1h3m-2 3h3m-2-4h3m3-1h3m-1 1h3m14 1h3m5-2h3m1 2h3m-120 9h3m-3 0h3m2-1h3m-3-2h3m-1-2h3m-3 4h3m-2-3h3m-2 1h3m1 2h3m-2-3h3m-3 2h3m-3-2h3m-3 1h3m-2-1h3m-1-1h3m-3 1h3m-3 0h3m-2 0h3m-2 0h3m-3 4h3m-3 0h3m-3-1h3m-3-2h3m0 0h3m-2 2h3m-2-3h3m-2 0h3m-2 2h3m-3-3h3m-2 4h3m-2-2h3m-2-1h3m-2 2h3m-3-1h3m-3-2h3m-3 4h3m-2-3h3m-1 4h3m-1-2h3m-3 1h3m-2-4h3m-2 0h3m-3 3h3m-2-2h3m-3 4h3m-3-4h3m-2-1h3m-2 0h3m-3 0h3m-3 3h3m0 1h3m-1-3h3m-3 3h3m-3-1h3m-1 2h3m-2-3h3m-2 1h3m-2 2h3m0-5h3m1 3h3m-1 1h3m-2-4h3m-3 5h3m-2 0h3m-3-4h3m5-1h3m-1 5h3m0-3h3m0 2h3m0 0h3m13-4h3m9 5h3m-1-3h3m2 2h3m-128 3h3m0 1h3m2 2h3m-2-2h3m0 2h3m-2 1h3m0 0h3m-3-3h3m-1-2h3m-2 5h3m-2 0h3m-3 0h3m-1 0h3m-3-3h3m-3 1h3m-3-1h3m-1-1h3m-1 1h3m-2 3h3m-2 0h3m-1-3h3m-3 0h3m-2 3h3m-2-5h3m-3 2h3m-3-1h3m-1 2h3m-2 0h3m-3-2h3m-3 3h3m-1-4h3m-1 4h3m-1 1h3m-2-1h3m-1-4h3m-3 2h3m-2 0h3m-3 0h3m-2-2h3m-2 3h3m-2 1h3m-3-3h3m5 2h3m-1 1h3m-2-4h3m-1 2h3m-3-2h3m4 1h3m0-1h3m-1 0h3m-1 0h3m19 4h3m-91 4h3m-3-1h3m-3 1h3m-2-2h3m-1 0h3m-2 2h3m4-1h3m-1 1h3m-2 2h3m-2-3h3m-2 4h3m0-1h3m-2 1h3m0-4h3m-2 1h3m-3 1h3m-1-2h3m2 3h3m0-2h3m-1-1h3m3 4h3m1-1h3m-2-2h3m-1 2h3m1-3h3m-2 2h3m3-3h3m-65 10h3m-3-3h3m-2 3h3m0-3h3m-2 4h3m11-3h3m-1 2h3m-3 0h3m-1-1h3m-1-3h3m2 0h3m1 0h3m-2 4h3m3-3h3m2 2h3m11 0h3m-2-3h3m4 0h3m-68 7h3m3-1h3m-1 1h3m10 2h3m1-1h3m-3 1h3m12-3h3m-42 6h3m23 10h3m30-4h3m-24 9h3" stroke="#ff0000" stroke-width="3" stroke-opacity="0.6" fill="none"/>
<path transform="scale(.5)" d="M110 196h3m17-3h3m11 3h3m-29 4h3m-2 2h3m2-4h3m-2 3h3m-2-1h3m-20 5h3m0 0h3m-2 2h3m-2 2h3m0-5h3m3 2h3m-3 0h3m6 3h3m0-3h3m-33 5h3m-2 1h3m6 2h3m0-4h3m-2 2h3m3 3h3m-3-5h3m3 2h3m-38 6h3m2 2h3m-2-3h3m-2 3h3m-1 1h3m-2-1h3m-3 1h3m-1-2h3m-2 2h3m-3-1h3m1 0h3m-3-2h3m-2 3h3m-3-1h3m-2-2h3m-3-1h3m-2 3h3m-3-2h3m-2 2h3m-3-3h3m-2 0h3m-1 3h3m-2-2h3m-2-1h3m-3 1h3m-1-1h3m0 3h3m-3-4h3m0 1h3m-3 2h3m-1 1h3m4-3h3m-52 8h3m3-2h3m-1 0h3m1 1h3m-1 3h3m-2-3h3m-1-2h3m-1 4h3m-2-2h3m-2 3h3m-2-1h3m3-2h3m-2 1h3m-3-3h3m-3 0h3m-1 5h3m0-4h3m-1-1h3m-2 1h3m-2 0h3m-1 2h3m-2 2h3m-38 6h3m-2-1h3m-1-3h3m-2 4h3m-3-2h3m-2-1h3m-2-1h3m-2 0h3m-2 0h3m-3 4h3m-1 0h3m0-5h3m-3 1h3m-3 1h3m-3 2h3m-1-4h3m-3 3h3m-1-2h3m-2-1h3m-3 1h3m-2 1h3m-1-2h3m-2 3h3m-2-1h3m-2 2h3m-2-3h3m-2-1h3m-3 4h3m-2-2h3m-1 2h3m-2 1h3m-41 6h3m3-1h3m1-3h3m-2 2h3m0-1h3m-3-2h3m-3 1h3m-1 3h3m-1-1h3m1-1h3m-1 0h3m-1 0h3m-3 0h3m-1 3h3m7-5h3m-33 10h3m0-2h3m-3 1h3m-1-1h3m-2-1h3m3 1h3m0-1h3m-1 0h3m-21 6h3m2-1h3m5 1h3m-3 2h3m-8 7h3m0-3h3" stroke="#c020cc" stroke-width="3" stroke-opacity="0.6" fill="none"/>
<path transform="scale(.5)" d="M125 197h3m17 0h3m-41 4h3m3-3h3m-1 1h3m15 1h3m-27 5h3m-1 0h3m2 2h3m2 0h3m-2-3h3m-1 5h3m-2-3h3m-2-2h3m3 3h3m-1 2h3m-39 4h3m5 2h3m-1 0h3m-2-5h3m-1 1h3m3 4h3m0-2h3m-1-1h3m-2-1h3m-2 1h3m-2 0h3m-2 3h3m-2 0h3m-3-1h3m0 0h3m-2 1h3m2-2h3m-39 4h3m-2-1h3m-2 4h3m-3 0h3m-1-1h3m-2 0h3m0-2h3m-2-1h3m-2 5h3m-3 0h3m-2 0h3m-1-4h3m-1-1h3m0 0h3m-3 5h3m-2-2h3m-2-3h3m-1 4h3m-2-4h3m1 4h3m-1 1h3m-1-2h3m-2-3h3m-39 7h3m0 4h3m-1-4h3m-1 0h3m0 3h3m-2-3h3m-3 0h3m-2 3h3m-2-3h3m-3 3h3m-2-4h3m-2 2h3m-2-2h3m-3 1h3m-1 0h3m-3 3h3m-3-4h3m0 4h3m-2-1h3m-2-1h3m-2 1h3m-2-2h3m-2 1h3m-1-2h3m5 3h3m-2-1h3m-38 5h3m4-1h3m-3 0h3m-2 0h3m-2 5h3m-3-2h3m-3-1h3m-2 2h3m-1 0h3m-1 0h3m-3-4h3m-2 2h3m0 0h3m-2 3h3m-2 0h3m3 0h3m0-3h3m-1 2h3m-42 2h3m-2 1h3m3 3h3m-2-3h3m-3 2h3m-1 0h3m1 0h3m2 2h3m0-3h3m-3-2h3m-1 5h3m-2-1h3m-3-1h3m-3 0h3m-15 8h3m-3-1h3m7-3h3m-3-1h3m-27 11h3m-15 4h3" stroke="#c020cc" stroke-width="3" stroke-opacity="0.6" fill="none"/>
<path transform="scale(.5)" d="M136 189h3m-17 12h3m8-3h3m-28 9h3m2 0h3m-1-2h3m4-1h3m0 5h3m-3 0h3m-3 0h3m1-4h3m-27 9h3m-3 0h3m-3-3h3m-2 2h3m-3 1h3m-2-1h3m2-2h3m-2 1h3m-2-1h3m-2 0h3m-2 0h3m-2 1h3m-3-1h3m-3 4h3m-2-4h3m-2 1h3m-1 3h3m-3-2h3m-3-1h3m-3 3h3m-2-4h3m-3 1h3m-3 3h3m0-2h3m-2 1h3m-2-4h3m3 1h3m-38 5h3m-2 2h3m0 1h3m-1 0h3m0-1h3m-2-2h3m-1 0h3m-2 1h3m-2 4h3m-2-2h3m-3-2h3m-3 2h3m-3 2h3m-2-1h3m-3 0h3m-3-1h3m-1-2h3m-3 2h3m-3 0h3m-2-1h3m-2-1h3m-3 2h3m-2 2h3m-3 0h3m-2 0h3m-3 0h3m-2-1h3m-1-4h3m-2 5h3m-3-2h3m-1-2h3m-2 2h3m3 1h3m0-4h3m-46 7h3m-2 2h3m-1 2h3m-1-1h3m-1 0h3m0-2h3m-2 0h3m-3 0h3m-3 3h3m-2-3h3m-3 3h3m-2-1h3m-2-4h3m-3 3h3m-2 2h3m-2-3h3m-3 2h3m-2-2h3m-1 3h3m-3-2h3m-1 1h3m-3-4h3m-3 0h3m-2 0h3m-2 4h3m-3-3h3m-2 0h3m-3 1h3m-2 2h3m-1-2h3m-2-1h3m-3 2h3m-2-3h3m-2 2h3m-2 2h3m8-1h3m-3 1h3m-51 6h3m0 1h3m-2-3h3m2 3h3m0-5h3m-2 3h3m3-2h3m-1-1h3m-2 3h3m-2 0h3m-1-3h3m1 5h3m-3-5h3m0 3h3m-1 0h3m-2 2h3m-3-5h3m1 1h3m-2 3h3m6-3h3m-45 6h3m-2 1h3m-2 3h3m-3-4h3m0-1h3m-2 5h3m0 0h3m-1-2h3m-3 1h3m-2-2h3m2-2h3m-2 1h3m-2 0h3m-1 0h3m-3 2h3m-2-1h3m-1-2h3m1 0h3m-2 5h3m-48 4h3m16 1h3m4-2h3m-2 2h3m-1-1h3m2 2h3m0-5h3m-1 1h3m-1 2h3m-31 6h3m6 3h3m-21 8h3m24-1h3" stroke="#c020cc" stroke-width="3" stroke-opacity="0.6" fill="none"/>
<path transform="scale(.5)" d="M124 181h3m0 2h3m-20 5h3m0-1h3m-19 9h3m9-3h3m-1 4h3m0 0h3m-41 2h3m35 3h3m9-4h3m-29 11h3m5-3h3m20 2h3m-1-1h3m-52 3h3m19 4h3m2 1h3m5-1h3m-28 6h3m2-1h3m-2-1h3m-1-1h3m2-1h3m-1 3h3m-27 5h3m9-2h3m-18 9h3m11-2h3m-2 25h3" stroke="#55dd55" stroke-width="3" stroke-opacity="0.6" fill="none"/>
<path transform="scale(.5)" d="M105 184h3m1 6h3m5 1h3m-21 6h3m3-1h3m2 7h3m-3-4h3m-2 0h3m4 2h3m3-3h3m-35 8h3m7 0h3m0 2h3m1-1h3m2 0h3m-17 6h3m0 1h3m10 1h3m5-5h3m-32 6h3m-1 2h3m3 0h3m13-1h3m-24 6h3m-2 3h3m-3 1h3m1-5h3m9 2h3m-3 1h3m-12 4h3" stroke="#55dd55" stroke-width="3" stroke-opacity="0.6" fill="none"/>
<path transform="scale(.5)" d="M106 175h3m0 10h3m7-1h3m3-1h3m2 1h3m-24 7h3m0 0h3m-17 3h3m1 8h3m4-1h3m-2 0h3m1-2h3m-2 4h3m-2-4h3m-2 1h3m-16 4h3m-3 5h3m0 0h3m0-3h3m3-2h3m-1 3h3m16-3h3m-42 8h3m14-2h3m-3 0h3m-48 7h3m22 3h3m-12 2h3m18 1h3m-16 14h3" stroke="#55dd55" stroke-width="3" stroke-opacity="0.6" fill="none"/>
</svg>
<svg x="230" y="12" width="150.7" height="165.8" viewBox="230 12 150.7 165.8" overflow="hidden">
<ellipse cx="314" cy="80" rx="21" ry="11" transform="rotate(-50 314 80)" fill="#ff0000" opacity="1" filter="url(#b2)"/>
<path transform="scale(.5)" d="M654 100h3m1-2h3m-25 8h3m13-2h3m5 2h3m2-3h3m12 0h3m-70 5h3m9 1h3m-3-1h3m3 5h3m15-1h3m1 0h3m15-4h3m8 1h3m-67 9h3m3-1h3m-1 2h3m3-1h3m-1-1h3m0 1h3m3 0h3m0 1h3m0 0h3m-3-3h3m0 3h3m1-3h3m1 3h3m-1-1h3m-2 0h3m6 1h3m3-2h3m-68 6h3m5 2h3m-2-1h3m0-1h3m0-1h3m2-2h3m-3 5h3m-2 0h3m-2-5h3m2 4h3m-2 1h3m-2-4h3m-1 1h3m-3 1h3m0-3h3m7 5h3m-3 0h3m-1-2h3m2-1h3m0 0h3m1 2h3m-2 1h3m-63 5h3m0-4h3m4 5h3m3-5h3m-3 5h3m-1-5h3m6 4h3m8 0h3m-2-3h3m7 2h3m-3 1h3m6-2h3m8-2h3m-68 7h3m6 1h3m-1 0h3m-3 3h3m-1 0h3m-1-4h3m0 0h3m-2 1h3m-3 1h3m-3 0h3m1-3h3m-3 5h3m-3-5h3m1 4h3m-3-4h3m-3 2h3m-2 2h3m-2 1h3m-3-4h3m-2 1h3m-3 0h3m0-1h3m0 3h3m-3 1h3m-2-3h3m-3-2h3m-2 5h3m-3-2h3m-2 2h3m-2-1h3m-3-3h3m-3 3h3m-1 0h3m-2-1h3m-2 2h3m-1-2h3m0 2h3m-3-4h3m-2 1h3m-3 1h3m2 1h3m-2 0h3m0 1h3m-77 3h3m3-2h3m2 0h3m-3 4h3m1-3h3m-3-1h3m-2 4h3m-2 0h3m-1-1h3m-3-3h3m-1 5h3m-2-4h3m-2-1h3m0 4h3m0-4h3m-3 4h3m-3-1h3m-3-2h3m-2 1h3m-2 0h3m-3-2h3m-3 5h3m-2 0h3m-2 0h3m-3-5h3m-1 1h3m-2 2h3m-2-1h3m-2 1h3m-3 0h3m-2-3h3m1 0h3m-3 4h3m-1-3h3m-2-1h3m-2 4h3m-3 1h3m-2-3h3m-2-1h3m-3 0h3m-2 2h3m-2 0h3m-1 1h3m-2-3h3m-1 0h3m-2 4h3m-1-1h3m-1-3h3m15 2h3m3 0h3m-98 8h3m-1-4h3m-2 1h3m4-2h3m1 5h3m-3-4h3m-3-1h3m-1 3h3m-1-2h3m0 4h3m-3-1h3m-3 0h3m2-1h3m-3-2h3m-2-1h3m-2 5h3m-3-2h3m-2 0h3m-2 2h3m-2-3h3m-2-2h3m-2 5h3m-3-3h3m-2 0h3m-3 2h3m-2-3h3m-2 3h3m-3-3h3m-2 2h3m0-2h3m-3-1h3m-2 4h3m-3-2h3m-2 0h3m-3 3h3m-3-1h3m-3 1h3m-2 0h3m-3-1h3m-2 1h3m-2-4h3m-3-1h3m-2 3h3m-3 2h3m-2-5h3m-1 1h3m-2-1h3m-3 0h3m-2 2h3m-3 3h3m-3-3h3m-2 1h3m-2 0h3m-3 2h3m-3-4h3m-2 0h3m-2 2h3m-3 0h3m-1 2h3m-3 0h3m-2-4h3m-1 3h3m-3 1h3m-1-1h3m-1-2h3m-2-2h3m-1 4h3m3-4h3m0 1h3m-3 1h3m-3 0h3m1-1h3m-77 10h3m-1-1h3m-1 0h3m1-2h3m-1 1h3m-2 1h3m-2 1h3m-3 0h3m2-2h3m-3 1h3m-1 0h3m-2-3h3m-3 2h3m0 2h3m-2-3h3m-3 3h3m-2-4h3m-3 3h3m-3-2h3m-3 2h3m-3-2h3m-1 2h3m-3-2h3m-3-2h3m-2 2h3m-1 1h3m-3-2h3m-2 4h3m-3-4h3m-3 3h3m-3-1h3m-2 0h3m-3-3h3m-3 3h3m-1 1h3m-3-4h3m-2 5h3m-3-4h3m-2-1h3m-3 2h3m-3 3h3m-2-5h3m-2 1h3m-3 0h3m-3 3h3m-2-2h3m-3 2h3m-1-1h3m-2 1h3m-3 0h3m-2-3h3m-3 4h3m-2-3h3m-2-2h3m-2 2h3m-2 2h3m-3 1h3m-2 0h3m-3-2h3m-3-3h3m-2 5h3m-3-1h3m-3 0h3m-3-3h3m0 1h3m-3-2h3m-2 3h3m-3 1h3m-2 1h3m-2-1h3m-1-4h3m-2 3h3m-1-1h3m1 1h3m-2 0h3m4 1h3m14 1h3m-95 3h3m5-1h3m1 3h3m-1-4h3m-2 1h3m-3 0h3m-2 1h3m-2-2h3m-2 5h3m-1-5h3m-2 2h3m-3 1h3m0-2h3m-3 1h3m-2 2h3m-2-4h3m-2 0h3m-3 2h3m-2-1h3m-2 4h3m-3-2h3m-2-3h3m-3 1h3m-2-1h3m-2 5h3m-1-4h3m-3 2h3m-3 2h3m-1-4h3m-3 3h3m-3-1h3m-3 1h3m-3-1h3m-1 0h3m-3 1h3m-2-3h3m-3 4h3m-2-2h3m-3 1h3m-3 1h3m-2-1h3m-3 1h3m-3-1h3m0-1h3m-2 0h3m-3-3h3m-2 2h3m-3 2h3m-2-2h3m-3 2h3m-2-3h3m-2 0h3m-2 0h3m2 3h3m-2-2h3m0 3h3m-3-4h3m-1 0h3m-2-1h3m-3 1h3m7 0h3m-1 1h3m-3 1h3m22 0h3m-104 5h3m3-2h3m-3 0h3m-1 0h3m1 3h3m0-2h3m-3 3h3m-2-4h3m-3 1h3m-2 3h3m-2 0h3m-1-3h3m-1-1h3m-3 4h3m-3-4h3m-2 2h3m-2 2h3m-2 1h3m-3 0h3m-3-1h3m-1-2h3m-3 2h3m-3-1h3m-2-1h3m-2-2h3m-2 5h3m-3-4h3m-2 0h3m-3 1h3m-3-2h3m-2 3h3m-2-2h3m-3 4h3m-3-5h3m-2 5h3m-3-5h3m-1 3h3m-2-2h3m-2 0h3m-3-1h3m-2 0h3m-3 0h3m-2 0h3m-3 0h3m-2 4h3m-3-4h3m-3 1h3m-2 4h3m-3-1h3m-2-2h3m-3 2h3m-3-3h3m-2 1h3m-3 2h3m-2-4h3m-3 5h3m-3-5h3m0 2h3m-2-1h3m-3-1h3m-2 2h3m-1 2h3m-2-4h3m-1 1h3m-2 3h3m-3-2h3m-2-2h3m-3 0h3m3 1h3m1 1h3m-2-2h3m-3 3h3m2-3h3m-86 6h3m2 2h3m12 2h3m-2-2h3m1 2h3m-3 0h3m-3-1h3m-2 2h3m-1-4h3m-3 4h3m-2 0h3m-3-3h3m-3 1h3m-1 1h3m-3-1h3m-2-2h3m-1-1h3m-3 4h3m-2 1h3m-3-3h3m-2-1h3m-3-1h3m-2 2h3m-3-2h3m-1 4h3m-1-2h3m-2 1h3m-3-3h3m-2 3h3m-3-1h3m-3 2h3m-3-1h3m-3-3h3m-2 1h3m-3-1h3m-2 4h3m-2-4h3m-1 5h3m-3 0h3m-2-2h3m-3-2h3m-2 3h3m-2-1h3m-3 2h3m-1-1h3m-2 0h3m-2-4h3m-3 1h3m-3-1h3m-1 0h3m-2 5h3m-2-4h3m-2 1h3m-3 0h3m-1-1h3m-2 3h3m-3 1h3m2-1h3m-2-2h3m-1 0h3m-1 2h3m-1-4h3m-2 5h3m-2 0h3m7 0h3m-89 3h3m2-1h3m-2 4h3m-2-2h3m-1 2h3m-3-4h3m-2 1h3m1-1h3m-2 2h3m-2 0h3m2-1h3m-3-1h3m-1 1h3m-1 2h3m-3-3h3m-3 2h3m-2 0h3m-2 2h3m-2-1h3m-3 1h3m-2-5h3m-3 0h3m-3 0h3m-2 5h3m-3-2h3m-3-1h3m-2 1h3m-3 2h3m-2-2h3m-1-3h3m-1 2h3m-2-2h3m-2 4h3m-3-4h3m-3 3h3m-3 1h3m-2-4h3m-1 4h3m-3-2h3m-3-2h3m-2 0h3m-2 4h3m-2-4h3m0 2h3m-2-2h3m-2 1h3m-2 2h3m0-3h3m-2 3h3m-2 0h3m3-2h3m0-1h3m-2 1h3m13 1h3m-1 2h3m-1 1h3m4-3h3m-102 9h3m14-2h3m-3-3h3m2 1h3m-1 2h3m-2-3h3m-2 2h3m-1 1h3m-2 1h3m0 0h3m-3-2h3m-3 0h3m-2 1h3m-3 1h3m-2-1h3m-3 0h3m-2-1h3m-3 2h3m-3 0h3m0-3h3m-1 4h3m-2 0h3m-3-1h3m0-2h3m-2-1h3m-3 0h3m-2 1h3m-2 2h3m-3-3h3m-3 2h3m-2 1h3m-3-2h3m-3-2h3m-3 3h3m-2 2h3m-3-5h3m-2 2h3m-3 2h3m-1 1h3m-3-5h3m1 4h3m-3 0h3m-2 0h3m-3-4h3m-2 0h3m-2 3h3m-2-1h3m-2-2h3m0 3h3m-3 2h3m-2 0h3m-2-3h3m5 0h3m1-1h3m-2-1h3m1 3h3m-79 8h3m0-2h3m10-3h3m1 3h3m-2 1h3m-1-4h3m-3 5h3m-2-3h3m-2 1h3m-1-2h3m-2 3h3m-3-2h3m-3-1h3m-3 1h3m0-2h3m-3 4h3m-1-4h3m-2 3h3m-2 1h3m-2 0h3m2-1h3m0 0h3m-2-1h3m-2 0h3m-3 0h3m-2 2h3m0-2h3m-2-1h3m-3-1h3m2 0h3m-3 2h3m0-1h3m0 1h3m-66 8h3m4 1h3m-1-3h3m1-1h3m2 0h3m-1 0h3m-1 0h3m1 4h3m-2-3h3m3-1h3m-3-1h3m-2 0h3m2 5h3m-1-3h3m2 1h3m-2 1h3m4-3h3m7 3h3m0 0h3m27-4h3m-95 7h3m-1 1h3m3 3h3m1 0h3m-3-5h3m4 0h3m-3 1h3m-1 3h3m1 1h3m8-4h3m10 2h3m11-3h3m-63 10h3m0-2h3m11 0h3m0 1h3m-1-2h3m-3-1h3m1 2h3m0 0h3m-1 3h3m0-1h3m-1-3h3m6 0h3m8 1h3m-58 8h3m1-1h3m3-2h3m-2 1h3m17 3h3m3-4h3m2 2h3m5 1h3m-58 4h3m12 0h3m-14 9h3m1-5h3m-19 6h3m12 2h3m25-2h3m-1 1h3" stroke="#ff0000" stroke-width="3" stroke-opacity="0.6" fill="none"/>
<path transform="scale(.5)" d="M696 78h3m-53 21h3m3 6h3m-1 2h3m21-4h3m-52 8h3m14-1h3m-2 3h3m-1-2h3m3 2h3m-43 3h3m17 2h3m10-1h3m1-3h3m0 1h3m-1 1h3m2 1h3m-2 2h3m-1-3h3m2-1h3m-39 8h3m-2-2h3m-3 0h3m-2-1h3m0 4h3m-1-4h3m1 5h3m-3-1h3m-1-4h3m-3 5h3m-2 0h3m0-3h3m0 1h3m0-2h3m-1 2h3m-3 1h3m-1-4h3m-2 0h3m-3 4h3m-2 0h3m-1 1h3m5-3h3m-2 2h3m-3-2h3m-70 8h3m7 1h3m-2-1h3m-3-1h3m-2-3h3m4 4h3m-3-4h3m-2 3h3m-3-2h3m-2-1h3m-2 1h3m3 0h3m-3 3h3m-3-3h3m-1 3h3m-2 1h3m-1-5h3m2 4h3m-1 0h3m0 0h3m-2 0h3m-2-1h3m3-1h3m2 2h3m-3-3h3m-2-1h3m-3 1h3m3 4h3m-2-2h3m2 0h3m-77 8h3m1-2h3m1 2h3m6-1h3m-1 1h3m-2-4h3m-2 2h3m-2-2h3m2 2h3m-3-2h3m-2 4h3m-3-4h3m-3 2h3m-2 2h3m-3-5h3m3 4h3m-1-1h3m-3-2h3m3-1h3m0 5h3m-2 0h3m-3 0h3m-2 0h3m-3-2h3m-3 2h3m-2-2h3m-1-1h3m-1-2h3m-2 2h3m-2 1h3m5-1h3m-2-1h3m-77 5h3m8 1h3m3 1h3m-3 0h3m-3 0h3m1 3h3m1 0h3m-1-1h3m-2 1h3m0-2h3m-3 1h3m-1 0h3m-3-1h3m-2 2h3m-3-4h3m-3 2h3m-2-2h3m-2 1h3m-2 1h3m-3 0h3m-2 2h3m-3-5h3m-3 1h3m-3-1h3m-2 4h3m-1-2h3m-3 0h3m-2 3h3m-2 0h3m-3-4h3m-1 0h3m-3-1h3m-3 3h3m-2-3h3m-3 2h3m-1 2h3m-2-1h3m-2-3h3m-3 3h3m-2 1h3m-3-4h3m0 1h3m-2 1h3m-2-2h3m1 4h3m-2 0h3m-2-1h3m-3 2h3m-3-5h3m-3 3h3m0 2h3m-2-2h3m-2-1h3m-3 1h3m-1 0h3m-1 0h3m3-2h3m10-1h3m-79 10h3m-1-3h3m-3 1h3m-2-1h3m0 2h3m0 2h3m-3-1h3m-2-4h3m-2 4h3m-3-3h3m-2 4h3m-2-4h3m-2 4h3m-2-4h3m-3 2h3m-3 2h3m-3 0h3m-2-1h3m0-2h3m-2 2h3m-2 1h3m-3-5h3m-3 5h3m-3 0h3m-2-2h3m-1-2h3m-2 2h3m-3-2h3m-3-1h3m-2 3h3m-3-3h3m-2 3h3m-3 0h3m-2-2h3m-2 3h3m-3-1h3m-3-3h3m-3 2h3m-2 2h3m-3 0h3m-3-3h3m-3 4h3m-1-4h3m-2 2h3m-1 2h3m-3-5h3m-2 2h3m-2-1h3m-3 0h3m-2 3h3m-3-1h3m-3 0h3m-3 2h3m-1-1h3m-3-4h3m-2 1h3m-3 0h3m-2-1h3m-3 1h3m-2 2h3m-2-3h3m-2 2h3m-1-1h3m1 1h3m-1 1h3m0-2h3m-2 4h3m-1-4h3m2 0h3m12 4h3m-91 4h3m4 0h3m-3-1h3m-2 2h3m0-4h3m0 0h3m0 5h3m-3-3h3m-2-1h3m-3 2h3m-3 0h3m-3-2h3m-2 0h3m-3 2h3m-3 1h3m-2-4h3m-1 0h3m-3 3h3m-1 0h3m-2-3h3m-3 5h3m-3-4h3m-2 3h3m-2 0h3m-2 1h3m-3-2h3m-2-1h3m-3 2h3m-3-2h3m-3 0h3m-2 2h3m-3-3h3m-2 2h3m-2 1h3m-3 0h3m-3-4h3m-3 0h3m-1 1h3m-3 3h3m-3-3h3m-3-1h3m-2 0h3m-2 4h3m-3-2h3m-3-2h3m-3 0h3m-3 2h3m-1 2h3m-2-2h3m-2 0h3m-2 0h3m0 0h3m-2-1h3m-3 0h3m-3 4h3m-2-1h3m-2-3h3m-3 3h3m-1-1h3m-3 2h3m-2-4h3m-2-1h3m-2 4h3m-2-1h3m-2 1h3m-2-3h3m0 4h3m-2-4h3m-2 1h3m-2 3h3m1-4h3m2 1h3m-1 2h3m-70 6h3m-2-4h3m-2 2h3m-1 0h3m-3-2h3m-1 4h3m-3-3h3m-3 3h3m-2 0h3m-3 0h3m-3-1h3m-3 2h3m-2 0h3m-2-2h3m-3 1h3m-2 1h3m0-2h3m-3 0h3m-3 2h3m-2-4h3m-2 1h3m-2 3h3m-3 0h3m-3-4h3m-3 1h3m-1-2h3m-3 3h3m-3 2h3m-3-2h3m-3-1h3m-2 3h3m-3-1h3m-1-4h3m-3 1h3m-2 0h3m-3 2h3m-3-1h3m-2 3h3m-3-1h3m-3 0h3m-2-4h3m-3 1h3m-2 1h3m-2 3h3m-3-4h3m-3 3h3m-2-1h3m-2 1h3m-3 0h3m-3 1h3m-1-3h3m-2 2h3m-3 0h3m-2-3h3m-3 4h3m-2-4h3m0 1h3m-2 1h3m-2-1h3m-2 3h3m-3-3h3m-2 3h3m-2-2h3m-1 0h3m-2-2h3m-2 0h3m-3 4h3m-2-4h3m-3 1h3m-3-2h3m-2 2h3m-2 2h3m-2-2h3m-1-1h3m-1 3h3m4-1h3m3-3h3m-3 1h3m2-1h3m8 4h3m-97 2h3m-1 1h3m0 1h3m-3 0h3m-2 0h3m-1 0h3m1-1h3m-2 1h3m-2 3h3m-2-3h3m-3 1h3m-2-1h3m0 2h3m-2-1h3m-2 2h3m-3 0h3m0-3h3m-2 1h3m-3-3h3m-2 1h3m-3 0h3m0 2h3m-3 2h3m-2-3h3m-2-2h3m-2 4h3m-2-1h3m-2-2h3m-3-1h3m-3 3h3m-3-1h3m-2 2h3m-3 1h3m-2-1h3m-3-1h3m-1 2h3m-3-3h3m-3 2h3m-1 0h3m-3 1h3m-2 0h3m-2 0h3m-3-2h3m0 1h3m-1 1h3m-3-3h3m-3-1h3m-2 4h3m-3-5h3m-3 0h3m0 3h3m-2 1h3m-3-4h3m-2 3h3m-3-3h3m-2 0h3m-3 3h3m-2-3h3m-3 4h3m0-3h3m3 2h3m-1-2h3m-3 3h3m24 1h3m-99 5h3m-3 0h3m4 1h3m0-3h3m0-1h3m-1 4h3m0-2h3m-3-2h3m1 2h3m-2 2h3m-3-1h3m-2-1h3m-3-1h3m-2 0h3m-3 1h3m-3-2h3m-2-1h3m-3 0h3m-1 0h3m-3 0h3m-3 2h3m-1 1h3m-3-3h3m-2 1h3m-2 1h3m-3 1h3m-3 1h3m-2-1h3m-3-3h3m-3 1h3m-3-1h3m-2 2h3m-3 1h3m-3 0h3m-2-3h3m-3 2h3m-3 0h3m-2 3h3m-3-5h3m-2 2h3m-3-1h3m-2 1h3m-2 3h3m-3-4h3m-1-1h3m-2 0h3m-2 3h3m-1-3h3m-3 3h3m-1 2h3m-2-1h3m-3-3h3m-2 3h3m-3 0h3m-2 0h3m-3 0h3m-2 1h3m-3-1h3m-2-4h3m-2 0h3m-3 3h3m-1 1h3m-2 0h3m-2-2h3m-2 3h3m-3-5h3m-3 5h3m-2-5h3m-2 0h3m-2 2h3m-2 3h3m-3 0h3m-2-3h3m-2 2h3m-1-1h3m-2 1h3m-81 2h3m4 0h3m3 2h3m-3-2h3m2 0h3m-2 5h3m1-5h3m-1 0h3m-1 1h3m0 4h3m-2-1h3m-3 0h3m-3 1h3m-1-2h3m-3 2h3m-3-2h3m-1 1h3m-3 0h3m-1 1h3m-2-1h3m-1-3h3m-3 2h3m-2 2h3m-3-3h3m-2 2h3m-3-3h3m-2 2h3m-3 2h3m-3-3h3m-2-2h3m-3 2h3m-3 3h3m-3 0h3m-3-2h3m-2-1h3m-2-2h3m-2 0h3m-3 2h3m-2 0h3m-2-2h3m-2 3h3m-1 0h3m-2-3h3m-2 4h3m-2-2h3m-3-1h3m-2 2h3m-2 2h3m-3-2h3m-3-3h3m0 4h3m-3-3h3m-1 0h3m3 0h3m-2-1h3m0 5h3m-1-4h3m0 1h3m0-1h3m-89 5h3m4 4h3m13-1h3m0 1h3m-2-4h3m-3 3h3m-2-3h3m-2 3h3m-1 2h3m-1-4h3m-1 0h3m-3 2h3m-2-1h3m-2 1h3m-3-2h3m-2 3h3m-1-4h3m-3 2h3m-3 1h3m-2 1h3m-3-4h3m-1 2h3m-2-1h3m-3 0h3m-3-1h3m-2 2h3m-2 1h3m-2-3h3m-1 3h3m-2-3h3m-3 4h3m-2-1h3m0 0h3m-2-2h3m-3 1h3m-3-2h3m-2 0h3m-3 5h3m-2-3h3m-3 1h3m-3 1h3m-1 1h3m0 0h3m-2-3h3m1-2h3m-2 4h3m-1-2h3m0 1h3m-2 2h3m-1-4h3m-2 0h3m-1 4h3m-78 3h3m12 2h3m9-4h3m-3 4h3m1 0h3m-3 0h3m-2-1h3m0-1h3m5 3h3m-2-2h3m-3-2h3m-2 3h3m-3-3h3m-3 2h3m-2 1h3m0-4h3m-1 0h3m-3 1h3m-2 3h3m-3-3h3m-2-1h3m-2 2h3m-3-2h3m3 5h3m1-3h3m-3-2h3m7 0h3m3 5h3m-83 5h3m5 0h3m4 1h3m-2 0h3m-2 0h3m4-2h3m-2-1h3m-2-1h3m-2-1h3m-1 2h3m1 1h3m0 0h3m-3-2h3m4 4h3m-1-4h3m4 3h3m-2-4h3m-1 1h3m-50 6h3m-1 0h3m0-1h3m1 0h3m5 3h3m-1 0h3m-2-3h3m0 4h3m1-3h3m-1-1h3m3 4h3m1-2h3m15 0h3m-70 8h3m31 0h3m-1 0h3m9 0h3m-2-4h3m10 0h3m-68 8h3m22 2h3m0-2h3m15 2h3m7 6h3m-32 5h3m9-1h3m7 3h3m-19 23h3" stroke="#ff0000" stroke-width="3" stroke-opacity="0.6" fill="none"/>
<path transform="scale(.5)" d="M683 74h3m-30 17h3m2 3h3m18-1h3m-32 4h3m13 3h3m-27 3h3m19 2h3m16 2h3m1 0h3m-63 6h3m21 0h3m3-1h3m-3-1h3m4 0h3m4-1h3m-60 8h3m-3-2h3m-2 1h3m14-1h3m9 1h3m8-1h3m1-1h3m9-1h3m3 2h3m19-2h3m-87 7h3m6 2h3m3 2h3m0-2h3m-1-3h3m-1 5h3m-1 0h3m-3-4h3m-1 1h3m-2 1h3m0 2h3m-1-4h3m-1 0h3m-3 3h3m6-2h3m5 3h3m2-3h3m-57 8h3m-2 1h3m0-1h3m-1-2h3m-3 0h3m2-2h3m-2 2h3m-2 3h3m1-3h3m-3-2h3m-2 2h3m-2 2h3m3-2h3m-3 3h3m-2-5h3m-2 3h3m-3-2h3m0 4h3m-3-3h3m-2 3h3m-2-2h3m-3-1h3m0-2h3m4 4h3m1 1h3m-3-4h3m-3-1h3m-57 9h3m-3 2h3m2-3h3m0 2h3m-2 0h3m-2-3h3m-1 3h3m0 0h3m-3 0h3m1-1h3m-2-2h3m-3 0h3m-1 3h3m-2-2h3m-2-1h3m-2 2h3m-3-3h3m-2 5h3m-3 0h3m-2 0h3m-3-3h3m-2 0h3m-3 2h3m-1-1h3m-1 1h3m-2-1h3m-3-1h3m-2 3h3m-1-3h3m-3-1h3m-1 3h3m-3 0h3m-2 1h3m0-3h3m-3 1h3m5 0h3m2-2h3m-2 0h3m-1 1h3m-2 1h3m-2 0h3m-3 0h3m-74 4h3m2 1h3m0-2h3m-2 3h3m4-1h3m-1 1h3m-1 1h3m-1-3h3m-2 2h3m-3-1h3m-2 2h3m-2 0h3m0-4h3m-3 0h3m-3 4h3m-3-1h3m-1-2h3m-3-1h3m1 0h3m-2 0h3m-1 3h3m-3-3h3m-2 3h3m-3 2h3m-2-4h3m-3 4h3m-3-4h3m-3 0h3m-1 0h3m-3 2h3m-2-2h3m-3 0h3m-2 4h3m-3 0h3m-2-4h3m1-1h3m-3 0h3m-3 3h3m-3 0h3m-2 2h3m-3-2h3m-3 1h3m-3-3h3m-3 0h3m-2 3h3m-2-2h3m-3 2h3m-2-3h3m-1 3h3m-3-1h3m8 0h3m4-3h3m5 4h3m1-2h3m-84 9h3m-3-1h3m0 0h3m-2-3h3m-1 4h3m0-5h3m1 1h3m-1 2h3m-1-3h3m-3 2h3m-3-2h3m-2 3h3m-2-2h3m-2 3h3m-3-2h3m-3-2h3m-2 1h3m-3 1h3m-3-2h3m-2 5h3m-2 0h3m-3-3h3m-2-1h3m-3 0h3m-3 3h3m-3 0h3m-3-1h3m-2 2h3m-3-3h3m-3 0h3m-3-1h3m-3 3h3m-2-2h3m-2 3h3m-1-1h3m-2 1h3m-3-3h3m-2 1h3m-2 1h3m-3-2h3m-2-2h3m-3 1h3m-2 2h3m-3 1h3m-3-2h3m-2 2h3m-2-4h3m-3 4h3m-2 1h3m-3-3h3m-2-2h3m-2 0h3m-3 4h3m-3-2h3m-3-2h3m-2 5h3m-2-1h3m-3-2h3m-3 3h3m-3 0h3m-3-2h3m-2 0h3m-3 1h3m0-2h3m-1 2h3m-3-3h3m-1 4h3m-3-3h3m0-2h3m0 4h3m-3-4h3m-1 5h3m2-5h3m-87 6h3m4 5h3m3-4h3m-3 1h3m2-1h3m-1 3h3m-3 1h3m-2-1h3m-2 1h3m-3-2h3m-1 0h3m-2 2h3m-3-2h3m-2 1h3m0-1h3m-2 0h3m-3-3h3m0 5h3m-3-5h3m-1 3h3m-2 1h3m-1 1h3m-2-1h3m-3 1h3m-1-1h3m-3-3h3m-2 2h3m-3 1h3m-2-2h3m-3-1h3m-3 1h3m-3 2h3m-1 1h3m-3-4h3m-3 1h3m-2 3h3m-2-2h3m-3 1h3m-3-4h3m-2 5h3m-3 0h3m-3-3h3m-2 0h3m-3-1h3m-2 1h3m-2 1h3m-2 2h3m-3-4h3m-3 4h3m-2-4h3m-3 0h3m-3 2h3m-1 2h3m-2 0h3m-2-3h3m-3 3h3m-2-2h3m-2-3h3m-2 2h3m-2-1h3m-2 1h3m-3-1h3m0 1h3m-2 0h3m-2-2h3m-1 1h3m-2-1h3m-3 4h3m-2-2h3m-3 2h3m-3 1h3m1-5h3m-3 1h3m0 2h3m-3-1h3m-2 0h3m-3-1h3m-2 0h3m-81 10h3m-1-5h3m7 0h3m-1 4h3m-2-4h3m-2 5h3m-1-2h3m-3-2h3m1-1h3m-3 2h3m-3 0h3m-1 2h3m-1-4h3m-3 1h3m-3 3h3m-2-4h3m-3 2h3m-3 1h3m-3-1h3m-1 0h3m-2-2h3m-2 4h3m-2-1h3m-3-3h3m-2 0h3m-3 0h3m-2 4h3m-3-2h3m-2-2h3m-2 5h3m-2 0h3m-2 0h3m-3-3h3m-3 2h3m-2 0h3m-2-2h3m-3 3h3m-3-5h3m-3 0h3m-3 2h3m-3 1h3m-3 1h3m-3-3h3m-2-1h3m-3 1h3m-2 3h3m-2-4h3m-3 0h3m-2 0h3m-3 5h3m-3-4h3m-2 3h3m-1-2h3m-3 2h3m-3 1h3m-1-4h3m-2 3h3m0-2h3m-3 2h3m-2-1h3m-2-2h3m-3 4h3m-3-1h3m-2 1h3m-3 0h3m-2-5h3m-2 3h3m-1-2h3m0 1h3m3 1h3m-3-2h3m-1 4h3m-3-4h3m-3 1h3m-2 1h3m5-2h3m-92 5h3m13 0h3m0 2h3m0 3h3m2-1h3m-3 1h3m-2 0h3m-3-4h3m-2 4h3m-3-3h3m-2 3h3m-2 0h3m-2-2h3m-3 1h3m0 1h3m-3 0h3m-3-1h3m0-1h3m-3-1h3m-2 0h3m-3 3h3m0 0h3m-3-5h3m-2 1h3m-2-1h3m-3 2h3m-2 0h3m-2 2h3m-3-4h3m-2 1h3m-3 0h3m-3 2h3m-2 0h3m-3-3h3m-2 2h3m-3-1h3m-3 3h3m-2-2h3m-3 0h3m-2 2h3m-3 0h3m-1-3h3m-2-1h3m-3 1h3m-3-1h3m-2 4h3m-2-3h3m-3-1h3m-2 5h3m-3-5h3m-3 0h3m-2 0h3m-3 1h3m-2 3h3m-2-4h3m-3 0h3m-2 4h3m-2-2h3m-3-2h3m-2 5h3m-2-4h3m-3 1h3m-2 3h3m-3-1h3m-3-2h3m-2 1h3m-2 1h3m-2-2h3m-3 2h3m-2 1h3m-3-1h3m-2 0h3m-2-3h3m0 1h3m1 1h3m0-2h3m9 3h3m9-1h3m-96 8h3m-2 0h3m1-3h3m1 3h3m-3-1h3m-1-1h3m1-3h3m-2 0h3m-1 4h3m0-3h3m-2-1h3m-2 2h3m-2 2h3m-3 0h3m-2-2h3m-1-1h3m-2 1h3m-3 0h3m-3 0h3m-3 1h3m-3 2h3m0-1h3m-3-2h3m-3-2h3m-1 5h3m-3-4h3m-3 1h3m-2 0h3m-3 2h3m-2 1h3m-3-5h3m-3 3h3m-3 1h3m-2-4h3m-2 3h3m-2-3h3m-3 0h3m-2 0h3m-2 4h3m-3 0h3m-2 0h3m-2 1h3m-3-2h3m-2-1h3m-3 3h3m-2 0h3m-1-1h3m-3-4h3m-3 1h3m-3 1h3m-2-1h3m0-1h3m-3 4h3m-3 1h3m-3-1h3m-3-3h3m-2-1h3m-3 2h3m-3-1h3m-1-1h3m-3 5h3m-2-4h3m-3 3h3m-2-2h3m-1 2h3m-3 1h3m7-4h3m12 3h3m-98 7h3m9-3h3m-1 1h3m-1-1h3m-2 0h3m-1-1h3m-3 1h3m2 3h3m-2 0h3m-2-1h3m-2 0h3m0-1h3m-3-1h3m0 2h3m-3 0h3m-1 0h3m0 0h3m-2-4h3m-3 3h3m-3-3h3m-2 2h3m-3 1h3m-3-3h3m-3 5h3m-1-2h3m-3-2h3m-1 1h3m-3 0h3m-1-2h3m-2 0h3m-1 4h3m-2-3h3m-3 4h3m-3-5h3m-2 4h3m-3 0h3m-3 1h3m-2-2h3m-2 1h3m-3-2h3m-3-1h3m-3-1h3m-1 0h3m-3 0h3m-3 4h3m-1-2h3m-3 1h3m-3-1h3m-1 0h3m-3 3h3m-1-3h3m-2 0h3m-2 0h3m-3-1h3m0 1h3m-2 2h3m-2-2h3m-3 0h3m-1-1h3m-3 4h3m-1-1h3m4-4h3m-1 3h3m-3-1h3m-75 7h3m2 0h3m0 1h3m0-3h3m4 0h3m-3 3h3m-1-2h3m-2 3h3m-3-4h3m-2 0h3m-2 4h3m-3 0h3m-2-5h3m-2 1h3m-1 4h3m-2 0h3m-2-1h3m-3 0h3m-2 1h3m-2-3h3m-3-2h3m-2 0h3m-3 1h3m-2-1h3m-2 4h3m-2-3h3m-3 2h3m-1 1h3m0 1h3m-1-5h3m-2 3h3m-1 2h3m-2-1h3m-3-2h3m-2 0h3m-2-1h3m-3-1h3m-1 1h3m3 4h3m-1 0h3m5 0h3m-70 6h3m0 0h3m3 0h3m-1-1h3m0 1h3m-1-3h3m-1 2h3m-1 0h3m-2-3h3m1-1h3m-3 0h3m-2 0h3m0 5h3m-3-5h3m-3 2h3m-3-2h3m-2 3h3m-3-2h3m0-1h3m-3 4h3m-3 0h3m-2-4h3m-3 3h3m-2-1h3m-2-2h3m-1 4h3m-2 1h3m-2-3h3m-2-1h3m-2-1h3m-3 3h3m0 1h3m-2-2h3m0 3h3m0-4h3m-1 2h3m-2-2h3m1-1h3m-79 10h3m9-1h3m5 1h3m-2 1h3m-3-5h3m3 2h3m-3 0h3m-2-2h3m1 1h3m1 0h3m-3 1h3m-1 2h3m3 0h3m-2-3h3m-2 1h3m0 1h3m-2-3h3m-2 4h3m1-1h3m-2-1h3m-1 1h3m-2-1h3m0 0h3m4 2h3m-3-4h3m-2 1h3m3 0h3m5 1h3m-2 3h3m-2-3h3m3-2h3m-91 7h3m10-1h3m-2 4h3m1-2h3m4 2h3m-3 1h3m2-5h3m-1 3h3m0 0h3m1 0h3m-2-2h3m-3 2h3m-2 2h3m-1-3h3m-2 2h3m-2-1h3m-2-3h3m2 0h3m-2 2h3m0 3h3m-1-4h3m-1 1h3m20 2h3m-70 3h3m3 0h3m-2 2h3m2-3h3m-2 3h3m9 2h3m-1-1h3m-1-4h3m0 4h3m-1-1h3m-2 2h3m-3-3h3m-2 2h3m2-3h3m5 0h3m-51 6h3m1 0h3m-1-1h3m6 0h3m-3 0h3m9 1h3m1 3h3m-34 7h3m11-1h3m-1-4h3m18 5h3m-33 6h3m14 0h3m-33 6h3m3-2h3m19 0h3m0 1h3m-31 6h3m-16 10h3" stroke="#ff0000" stroke-width="3" stroke-opacity="0.6" fill="none"/>
<path transform="scale(.5)" d="M580 80h3m4 2h3m13 0h3m-24 3h3m-3 0h3m-1 2h3m1 0h3m2 2h3m-2-3h3m-3-1h3m1 4h3m-2-1h3m-31 7h3m1 0h3m-2-3h3m0 0h3m-2-2h3m-3 2h3m-2-2h3m-3 1h3m-1 1h3m1 1h3m-1 1h3m-1-2h3m1 0h3m1 0h3m-3 1h3m-2-2h3m-3 4h3m15-1h3m-49 6h3m-2-3h3m-2-1h3m-2 3h3m-1 1h3m-2-4h3m3 4h3m-3 1h3m-3-2h3m-3 2h3m-2-5h3m-2 4h3m-3-3h3m-1-1h3m-2 1h3m-3-1h3m-2 0h3m-1 2h3m-3 3h3m-1 0h3m-1-1h3m1-3h3m-1 4h3m0-3h3m0-2h3m-39 7h3m3 0h3m-1 4h3m-2 0h3m-2-3h3m-3-1h3m-2 1h3m0 2h3m-3 0h3m1-2h3m-1-2h3m-3 2h3m-3 0h3m4 0h3m2-1h3m-40 9h3m7-1h3m-2-3h3m0 4h3m-2-2h3m-3 2h3m0-4h3m-1 2h3m8-1h3m-42 5h3m5 1h3m5 1h3m-2 1h3m4-3h3m3 3h3m-28 3h3m9 0h3m8 0h3m0 31h3m9 1h3m0-1h3m-26 6h3m8-1h3m2 1h3m0 1h3m-17 12h3m9 11h3" stroke="#c020cc" stroke-width="3" stroke-opacity="0.6" fill="none"/>
<path transform="scale(.5)" d="M611 76h3m-22 4h3m5 3h3m16 0h3m-39 6h3m0-2h3m1 2h3m-2 0h3m-2-3h3m-3 1h3m-1-1h3m-2 2h3m-1 0h3m-3-1h3m-3-1h3m0 1h3m-2-2h3m-2-1h3m-1 5h3m0-4h3m0-1h3m-2 0h3m3 1h3m-43 6h3m-2 3h3m5-4h3m-2 5h3m-2-3h3m0 0h3m2-2h3m-1 5h3m-2 0h3m-1-3h3m-3 2h3m-28 4h3m-2 0h3m-2 2h3m-3-1h3m2-3h3m-1 5h3m-3-1h3m-3 1h3m-2-3h3m-2 3h3m-3-4h3m0 4h3m-3-1h3m9-3h3m-42 10h3m-3-4h3m0 1h3m-3-1h3m0 1h3m-3 2h3m-3-4h3m-2 0h3m0 2h3m-2-1h3m-1 0h3m-2 2h3m-2-2h3m-2 4h3m-1-1h3m1-2h3m-1-1h3m7 4h3m-29 1h3m-1 1h3m1-1h3m-1 0h3m2 4h3m-2-1h3m-2 0h3m-3-1h3m0 2h3m0-3h3m-2 0h3m-23 5h3m5 5h3m6 21h3m-2 3h3m-6 2h3m-2 9h3m-1 3h3m3 1h3m-10 7h3m-1 8h3m7 8h3" stroke="#c020cc" stroke-width="3" stroke-opacity="0.6" fill="none"/>
<path transform="scale(.5)" d="M590 76h3m5 1h3m-17 6h3m3-1h3m-2 0h3m-2 0h3m1-1h3m0 1h3m1 1h3m4-3h3m2-1h3m-45 10h3m5-1h3m4 0h3m-1 0h3m-3 0h3m1 0h3m-3 0h3m-2-2h3m-2 1h3m1-1h3m-1-2h3m-3 4h3m1-2h3m5 2h3m-52 5h3m4 0h3m2-2h3m0 2h3m-1-3h3m2 1h3m0 1h3m-3 0h3m-3-2h3m0 1h3m-1-1h3m3 5h3m-3 0h3m4-1h3m-40 4h3m-2-2h3m-1 4h3m-1 1h3m-2-3h3m-1-2h3m0 5h3m-3 0h3m0-4h3m-2 3h3m0 0h3m-2-3h3m-3 1h3m-2 3h3m-3-1h3m-3 0h3m-3 1h3m-2-4h3m-1 2h3m3-3h3m-1 0h3m-37 8h3m-1 0h3m3 0h3m0 3h3m-2-2h3m-3-2h3m-1-1h3m-3 4h3m1-1h3m-2 1h3m-3 1h3m4-4h3m-22 8h3m-1 2h3m2-5h3m-1 2h3m-1 0h3m-2-2h3m9 0h3m-34 8h3m-3 0h3m8 0h3m-9 4h3m27 6h3m-2 7h3m-11 7h3m-11 7h3m4-1h3m-1 2h3m1 7h3m-13 8h3m3-1h3m-13 6h3m2 1h3m2 6h3" stroke="#c020cc" stroke-width="3" stroke-opacity="0.6" fill="none"/>
<path transform="scale(.5)" d="M567 187h3m63 50h3m-52 10h3m10-1h3m6 3h3m-7 13h3m6-1h3m0 2h3m-1 11h3m-21 6h3m18-3h3m9 3h3m5-2h3m-62 4h3m28 1h3m-40 10h3m37-3h3m5 0h3m-16 9h3m-5 3h3m-50 9h3m11-5h3m52 9h3m-45 6h3m-11 9h3m1 1h3m20 19h3" stroke="#55dd55" stroke-width="3" stroke-opacity="0.6" fill="none"/>
<path transform="scale(.5)" d="M566 240h3m28 6h3m-31 10h3m11 8h3m45 0h3m-20 7h3m-41 10h3m12-1h3m13-4h3m-26 7h3m12 6h3m10 0h3m-15 7h3m-2-1h3m7-1h3m-2 4h3m-4 6h3m11-3h3m-44 5h3m51 2h3m-41 5h3m6 8h3m-45 4h3m9 0h3m6 0h3m6 3h3m-8 5h3m3-3h3m6 5h3m-33 2h3m21 4h3" stroke="#55dd55" stroke-width="3" stroke-opacity="0.6" fill="none"/>
<path transform="scale(.5)" d="M578 234h3m18 1h3m-31 19h3m60 3h3m-43 5h3m28 0h3m-31 13h3m18 0h3m-14 3h3m-27 5h3m11 3h3m-2-1h3m36-2h3m-72 7h3m12 2h3m26-2h3m-1 2h3m1 0h3m-23 2h3m5 1h3m16 0h3m-30 9h3m4 1h3m-15 5h3m19-3h3m0 0h3m-31 10h3m15-4h3m-36 9h3m19 5h3m25-1h3m21-2h3m-45 8h3m4-2h3m-32 8h3m10 10h3m15 4h3" stroke="#55dd55" stroke-width="3" stroke-opacity="0.6" fill="none"/>
</svg>
<svg x="427.4" y="12" width="153.39999999999998" height="162.8" viewBox="427.4 12 153.39999999999998 162.8" overflow="hidden">
<ellipse cx="461" cy="96" rx="25" ry="12" transform="rotate(-84 461 96)" fill="#ff0000" opacity="0.9" filter="url(#b3)"/>
<path transform="scale(.5)" d="M926 59h3m7 5h3m24-1h3m-26 4h3m0-1h3m-20 7h3m12 4h3m-3-1h3m-1 1h3m-1-2h3m2-2h3m-1 0h3m-1 0h3m-2 0h3m2 1h3m3-1h3m5 1h3m1 2h3m-45 6h3m3 0h3m-2 0h3m-1-1h3m0 2h3m-2-1h3m-2-2h3m4 2h3m-3-2h3m0 0h3m4 2h3m5-2h3m-69 8h3m19-4h3m3 3h3m-3-3h3m9 2h3m-2 1h3m3-3h3m-2 0h3m-1 5h3m-3-5h3m-58 10h3m13-3h3m-2 2h3m11-2h3m-2 4h3m-3 0h3m0-3h3m3-2h3m-3 0h3m-1 1h3m1-1h3m3 1h3m-3 1h3m-2-2h3m4 4h3m-3 0h3m12-2h3m-60 4h3m-3 1h3m3 1h3m-2 2h3m-1-4h3m4 3h3m-2 2h3m-3-4h3m6 0h3m-3 2h3m1-1h3m-3-1h3m5-1h3m14 5h3m94-1h3m-189 2h3m12 3h3m7-2h3m7 3h3m1-1h3m0-1h3m-2 1h3m-1 1h3m-2-3h3m-2 0h3m4 0h3m-3 3h3m-2-1h3m3-2h3m-1-1h3m-1 2h3m-2-2h3m-1 5h3m-1-4h3m-3 3h3m0-4h3m8 3h3m0-1h3m-2 0h3m17 0h3m40 3h3m-143 6h3m5-1h3m2-4h3m1 2h3m1 0h3m-2 0h3m2-1h3m-2 3h3m1 0h3m-1-3h3m-2 4h3m2-3h3m-3-1h3m-1 3h3m-1 0h3m0-4h3m-3 0h3m-3 0h3m2 5h3m-3-4h3m-2 0h3m5 4h3m18-1h3m-92 6h3m-2-4h3m13 1h3m-1 2h3m-1 0h3m12 1h3m0-1h3m1 2h3m5-1h3m-1 1h3m4 0h3m-1-3h3m-2 0h3m-3-2h3m-1 5h3m-3 0h3m-3-5h3m0 0h3m-2 0h3m2 3h3m1-1h3m0-2h3m-97 6h3m5 3h3m16-3h3m-2 1h3m7-1h3m-2 0h3m-1 1h3m3 3h3m-2-1h3m-2 2h3m-2 0h3m-2-4h3m-1 0h3m-2-1h3m-2 4h3m0-4h3m-3 2h3m0 1h3m-2 0h3m-1 0h3m-2 0h3m-2-3h3m-3 3h3m3-3h3m-3 0h3m6 4h3m3-2h3m0-2h3m-110 7h3m35 3h3m-2 1h3m4 0h3m1-2h3m0-3h3m3 3h3m-2 2h3m-2-5h3m4 5h3m-3 0h3m-2-1h3m-2 1h3m-2-3h3m-3 0h3m0-2h3m-2 4h3m-3-2h3m-2 1h3m-3 1h3m-1-4h3m1 3h3m1 1h3m-2-4h3m-2 4h3m2-3h3m-1 0h3m-1 3h3m5 1h3m10-4h3m1 1h3m0 1h3m-1-1h3m7 1h3m35 1h3m-171 7h3m34-3h3m-2 3h3m1 0h3m-2-1h3m-1-1h3m-3-2h3m4 4h3m-1-1h3m-2-2h3m-3-2h3m-2 0h3m1 2h3m-1-2h3m-3 5h3m3-4h3m-2 1h3m-2 1h3m-2-2h3m-2-1h3m-2 0h3m-2 5h3m0-4h3m3 4h3m-3-2h3m2-2h3m2 4h3m-1 0h3m-3-1h3m5 1h3m-3-5h3m10 1h3m78 2h3m47-2h3m-247 9h3m15-2h3m0-2h3m-2 5h3m2-1h3m8-1h3m-2-3h3m-3 3h3m-3 2h3m-2-4h3m-2 3h3m-3-4h3m-1 0h3m-1 2h3m1-1h3m-3 4h3m-1-5h3m-3 2h3m-3 1h3m1-3h3m-1 4h3m-1 0h3m-2-4h3m-1 2h3m-3 1h3m-2-1h3m-1 2h3m-2-3h3m-2 3h3m-3-4h3m-2 0h3m-3 4h3m-2-3h3m-3 4h3m3-2h3m0 0h3m0-2h3m-1 3h3m59-2h3m13 1h3m72 2h3m-246 6h3m8-5h3m10 1h3m-3 3h3m2-4h3m-2 0h3m0 2h3m1 2h3m1-2h3m-2 0h3m-3 1h3m-2-1h3m-2 0h3m-3 3h3m-2-3h3m-1 1h3m2-1h3m-3 3h3m0-1h3m-3 0h3m-2-2h3m-2 3h3m0-4h3m-3 4h3m-1-3h3m-1 1h3m1-2h3m-3 1h3m-3 1h3m-2 1h3m-3-3h3m-2-1h3m-2 3h3m0 0h3m-3 2h3m-2 0h3m2 0h3m-2-2h3m0 1h3m-3-1h3m-1-2h3m-3-1h3m-3 5h3m-3-2h3m-2 2h3m-1-2h3m-3-3h3m-1 0h3m-1 4h3m-3-1h3m-1 2h3m8-4h3m9 0h3m121 4h3m-241 1h3m11 5h3m2-5h3m6 2h3m3-2h3m-3 4h3m-1-4h3m-3 1h3m0 2h3m-3 1h3m-3 0h3m-2 0h3m1-2h3m-3-2h3m-2 4h3m-1-4h3m-2 2h3m-2-1h3m-3 3h3m-1-3h3m-2 3h3m-3-4h3m-2 1h3m-2 4h3m-2-3h3m-2 0h3m-3 0h3m-2 1h3m-2 2h3m-3-5h3m-3 0h3m-3 5h3m1-4h3m-1 1h3m-1 1h3m-2-3h3m-1 2h3m-2 2h3m-1 0h3m-1-1h3m-3-1h3m-2-2h3m1 3h3m-3-3h3m1 4h3m-1-1h3m-3 2h3m0-3h3m-1 3h3m-3-2h3m0 0h3m-1 0h3m-2 2h3m23-1h3m19-2h3m4 1h3m8-1h3m63 0h3m-211 4h3m-2 4h3m-3-3h3m-1 4h3m-2 0h3m-2-4h3m5 1h3m-1 3h3m-3 0h3m-1-2h3m-3 2h3m0-3h3m-3-2h3m0 0h3m-3 5h3m-2-3h3m-2 1h3m-2-1h3m-1-1h3m-1 2h3m-2-2h3m-3 1h3m-2 3h3m-2-1h3m-2 1h3m-3-1h3m-2-2h3m-3 1h3m-2 2h3m-3-1h3m0-3h3m-2 2h3m-3-2h3m-2-1h3m-3 5h3m-2-2h3m-3 0h3m-1 0h3m0 0h3m-3-3h3m-2 1h3m-2 3h3m0-4h3m-1 1h3m-3 4h3m-2-5h3m-1 3h3m1-2h3m-2 0h3m10 0h3m3-1h3m1 2h3m-3 0h3m2 2h3m-2 1h3m-1 0h3m9-1h3m1 0h3m11 0h3m89-2h3m6 1h3m-1 2h3m-254 6h3m14-3h3m9 0h3m-3 0h3m3-2h3m-2 5h3m-3 0h3m-1-2h3m-3 0h3m0-1h3m-2-2h3m-3 4h3m-3 1h3m-1-3h3m-1-1h3m-3-1h3m-2 4h3m1-4h3m-1 4h3m-3-4h3m-2 3h3m-3-3h3m-1 0h3m0 2h3m-1 0h3m-1 3h3m-1-2h3m-3-2h3m-2 4h3m-1-5h3m-3 4h3m-2-4h3m-1 5h3m-3-1h3m-2 0h3m-3-3h3m1 0h3m-3 3h3m-2-2h3m-2 0h3m-1-2h3m1 2h3m-3-2h3m-1 4h3m1 1h3m1-3h3m-2-2h3m4 5h3m6-1h3m32 1h3m33-5h3m-179 10h3m8-2h3m-1-2h3m-3 4h3m4-1h3m1-3h3m-2 1h3m-3 2h3m0-1h3m-3 1h3m-2 2h3m-1-1h3m-3-3h3m-2 0h3m-3-1h3m-2 1h3m4 2h3m-2-3h3m-2 3h3m-1 1h3m-1 0h3m-2 1h3m-3-2h3m-1-1h3m2 2h3m-2 0h3m-2 1h3m-2-2h3m-3 2h3m-1-3h3m-3 3h3m0-1h3m-3-3h3m-3 2h3m-1 2h3m1-5h3m-3 4h3m-2-1h3m0 2h3m-3-5h3m-2 3h3m-3 2h3m-2-4h3m-2 2h3m-2-1h3m-2-1h3m-1-1h3m2 5h3m-2-4h3m1-1h3m-3 5h3m0-3h3m-2 3h3m-2-2h3m-2-1h3m-2 2h3m-1-3h3m5 1h3m13 1h3m4-1h3m77-2h3m24 2h3m1 1h3m9 0h3m-3-2h3m1 4h3m-252 3h3m18-1h3m-3 2h3m-2-1h3m-3 0h3m-2 3h3m0-3h3m-2 1h3m-1-3h3m-1 0h3m-2 1h3m-2 0h3m-2 1h3m-3 1h3m-2 1h3m-1 0h3m-2-3h3m3 3h3m-3-2h3m-3-1h3m-2 1h3m-3 2h3m-3-2h3m-1-2h3m-3 5h3m0 0h3m-2-5h3m-1 2h3m-1 1h3m-3 2h3m0-4h3m-3 4h3m-3-4h3m-2 4h3m-1 0h3m-3-3h3m-1 0h3m-3-1h3m-3 2h3m0 2h3m1-5h3m-3 2h3m0 1h3m2 0h3m-1-3h3m-3 4h3m-2 0h3m-1-1h3m0-1h3m2 1h3m-3-2h3m-1 0h3m0 1h3m12 3h3m0-2h3m5 0h3m19 0h3m0-3h3m16 3h3m63 2h3m-2-3h3m-1-1h3m0-1h3m-245 6h3m7 2h3m6 0h3m4 1h3m2-1h3m-3-1h3m-3 0h3m-2 1h3m-3-1h3m-2 3h3m-2 1h3m-2 0h3m0-3h3m-2-1h3m-2 1h3m-2 2h3m-2 0h3m-3-3h3m-2 4h3m-2-4h3m-3 0h3m-3-1h3m-2 5h3m0-1h3m-3 0h3m-2-4h3m-3 4h3m-1 1h3m-2-3h3m-2-2h3m-3 3h3m-3-3h3m-2 0h3m-1 2h3m-2 3h3m-3 0h3m-3-4h3m-2 0h3m-3 4h3m-3-3h3m-2-1h3m-1 0h3m-2 1h3m-3 1h3m-2-3h3m-1 0h3m-3 2h3m-3 1h3m2-1h3m-2 3h3m-2 0h3m-3-4h3m6 1h3m2 2h3m-2-4h3m-2 2h3m21 1h3m16 2h3m-1-3h3m2 0h3m100 3h3m-260 4h3m11 0h3m3 0h3m-2-3h3m2 1h3m-1 2h3m2-1h3m-2 0h3m-2 2h3m0 0h3m-3 0h3m0-4h3m-2 2h3m-3-2h3m0 2h3m-2 3h3m-1 0h3m-3-2h3m-1-1h3m-3 0h3m0-2h3m-2 3h3m-3 0h3m-2 0h3m-3 1h3m-2-2h3m-2 1h3m-3 0h3m-2 1h3m-3-3h3m-2 0h3m-2-1h3m-3 3h3m-2-1h3m-3 3h3m-3-1h3m-3-3h3m0 4h3m1-3h3m-1 0h3m-3 2h3m0-1h3m-1 1h3m-3 1h3m-3-3h3m-2 0h3m-2 1h3m-1 1h3m2-4h3m-1 5h3m-2 0h3m-1-1h3m-3 0h3m-1-3h3m-3-1h3m2 0h3m-3 0h3m1 1h3m0 1h3m48-1h3m92 0h3m-239 9h3m7-1h3m-3-3h3m0 1h3m-2 3h3m-3-1h3m-1-2h3m-2 3h3m-2-3h3m5 1h3m0-1h3m-2 1h3m-3 0h3m-1-1h3m-1 1h3m-3-2h3m-3 4h3m-2-1h3m-2-3h3m-1 4h3m-3-1h3m-3 2h3m-1-3h3m-3 0h3m-2 3h3m-3-5h3m-2 0h3m-3 1h3m-3 1h3m-2 0h3m-2-1h3m-3 1h3m-2-2h3m-2 4h3m-3-2h3m-3 3h3m0-4h3m-2 0h3m-2 0h3m-3 0h3m-3 2h3m-2-1h3m-3 2h3m-3-4h3m-3 4h3m-1 1h3m-1-1h3m-3 0h3m-1 1h3m-2 0h3m-3-5h3m-3 5h3m-2-3h3m-1 0h3m-1 3h3m-1-2h3m-3 0h3m4-2h3m-2 1h3m-2-2h3m-2 5h3m-2-4h3m5 3h3m-1-2h3m2-2h3m0 0h3m4 4h3m2-3h3m1 3h3m-108 5h3m2-1h3m-2 2h3m-2 1h3m-1-1h3m-1-1h3m-2-2h3m-3-1h3m-2 3h3m0 2h3m-2-3h3m0-1h3m0 0h3m1 4h3m-2-2h3m-3 1h3m-2-3h3m-1 0h3m-3 2h3m-1 2h3m-2-2h3m-2 0h3m-3 2h3m-3-5h3m-3 4h3m-1-2h3m-2-2h3m-3 4h3m-2-4h3m-3 4h3m-2-4h3m-3 3h3m-2-1h3m-2 0h3m-3-1h3m-3 0h3m-2 4h3m-3-5h3m-2 5h3m-3-3h3m-3 2h3m-2 0h3m-2 0h3m-3-4h3m0 5h3m-3-3h3m-1-1h3m-2 1h3m-2-2h3m-1 3h3m-3 2h3m2-2h3m-2-2h3m-2 4h3m0-5h3m-2 3h3m-2-3h3m1 2h3m-1-2h3m-3 3h3m-3 0h3m-3 2h3m0 0h3m1-2h3m-1 2h3m-1-1h3m-1-1h3m16 2h3m13-2h3m-2 1h3m4-1h3m1-2h3m-2 2h3m-1 2h3m-3-3h3m64 3h3m-210 5h3m0-2h3m4-1h3m6 2h3m-1-1h3m-2-1h3m1 1h3m-2 2h3m-3 1h3m-2-3h3m-1 1h3m-3 2h3m-2-3h3m-3 3h3m0-2h3m-3 2h3m-2-2h3m-3-1h3m-1 1h3m-3-3h3m2 0h3m0 0h3m-2 1h3m-1 2h3m3-3h3m-1 5h3m-2-2h3m-1-2h3m-3 2h3m-1-1h3m-2 1h3m0 2h3m-1-2h3m0 1h3m1-4h3m6 4h3m3 0h3m-1 1h3m1-5h3m-3 1h3m7 3h3m-118 5h3m6-3h3m-1 1h3m5 4h3m-1-4h3m2 0h3m2-1h3m-3 1h3m1 1h3m-1 1h3m-3-3h3m-2 0h3m0 0h3m-2 1h3m-2 1h3m-1-1h3m-1-1h3m-2 2h3m-3-1h3m-2 1h3m3-1h3m-3 0h3m-3 4h3m-3-3h3m-2-2h3m-2 0h3m-2 2h3m1 0h3m-3 0h3m-2-2h3m-2 5h3m-1-5h3m-2 4h3m-3 0h3m-3-4h3m-2 5h3m-3-1h3m-2-3h3m1 4h3m-2-4h3m0 0h3m0 0h3m-2 4h3m-2 0h3m1-5h3m7 2h3m-2 0h3m29 1h3m-1 0h3m16 1h3m-144 2h3m4 2h3m3 3h3m8-4h3m-3-1h3m0 5h3m-2-1h3m0-1h3m-2-1h3m-2-2h3m-3 2h3m-3 0h3m-2 0h3m-1 3h3m-2-5h3m-3 5h3m-1 0h3m-1-1h3m-3-2h3m2 0h3m-1 2h3m-2 1h3m-2-3h3m-2-2h3m-2 2h3m-3 0h3m-2 1h3m-3-1h3m-2 1h3m-1 2h3m-2-2h3m-2 0h3m0-1h3m-1 0h3m-3 1h3m-2 0h3m1-2h3m-1 3h3m-3-1h3m-2-2h3m0-1h3m0 2h3m0-1h3m-3 3h3m-2 1h3m-3-5h3m0 3h3m4 1h3m0 0h3m14-3h3m9 2h3m22 2h3m-146 3h3m-3 2h3m2 0h3m5-1h3m-2-1h3m3-1h3m-3 2h3m-1-2h3m-3-1h3m0 0h3m-2 3h3m2-2h3m-3 4h3m-3-2h3m-1-3h3m-3 0h3m-2 5h3m-2-2h3m-3 0h3m-3-3h3m1 5h3m-3-2h3m-2 1h3m0-2h3m-3 1h3m-3-3h3m-2 0h3m-1 2h3m-3 0h3m-3-1h3m-2-1h3m-2 1h3m-2 0h3m3 1h3m0 3h3m0-3h3m-3 0h3m-2 3h3m-1-2h3m-3-1h3m-1-1h3m-3-1h3m-1 4h3m-1-3h3m0 0h3m-2 3h3m16 1h3m9-4h3m-3 0h3m11 0h3m-2 4h3m5-5h3m4 1h3m21 3h3m7-4h3m-177 8h3m3 1h3m6-1h3m5 0h3m-2 0h3m-2 0h3m-3 2h3m-2-1h3m2 2h3m-1-5h3m-2 5h3m-3-3h3m-2 3h3m-3-1h3m-3-1h3m1 0h3m-3 2h3m-1-4h3m-2 0h3m-2 3h3m-2-1h3m-2 2h3m0-3h3m-2 1h3m-3 0h3m-2 2h3m-3-2h3m-3 0h3m-3 1h3m-1 0h3m-3-4h3m-1 4h3m-2 1h3m-3-4h3m-3 1h3m1-2h3m-2 1h3m-1 3h3m-3-3h3m-2 4h3m5-2h3m1-1h3m2 3h3m12 0h3m30-4h3m6 2h3m8-2h3m-3 1h3m-134 7h3m-2 1h3m-1-4h3m1 5h3m-2-3h3m-2-1h3m-2 4h3m-3-2h3m-1 1h3m1 0h3m0-2h3m-2-2h3m-3 1h3m-3 4h3m-3-2h3m-2 0h3m-1-1h3m-2 2h3m-2-4h3m-2 2h3m-1-1h3m0 4h3m-3-1h3m-2 0h3m-3-1h3m-1-3h3m0 3h3m-3 1h3m2 0h3m-3-3h3m-2 1h3m-2 0h3m-2-2h3m-2 4h3m-2 1h3m0-4h3m-3 2h3m3-3h3m-2 0h3m0 4h3m-2-1h3m0-3h3m8 0h3m-3 0h3m12 1h3m35 1h3m-154 4h3m17 1h3m-2 0h3m1 1h3m0 2h3m-2-3h3m-3 2h3m-2-2h3m1 0h3m-2 4h3m-3-2h3m-3 2h3m-2 0h3m-2-5h3m-2 3h3m-3 2h3m-2-4h3m-2 3h3m-3-2h3m-3-2h3m-2 1h3m0 2h3m0-3h3m-3 0h3m-3 0h3m-1 1h3m0 0h3m-2 0h3m-2 1h3m1 1h3m-2-2h3m-2 1h3m-1-2h3m-1 2h3m-2 1h3m0-2h3m-1-1h3m6 4h3m2 1h3m15-1h3m17 0h3m3-4h3m-114 7h3m-3 1h3m1 2h3m2 0h3m-2-2h3m-3-1h3m-3 2h3m3-1h3m-1-1h3m-2 4h3m1-5h3m-2 3h3m-3-3h3m-1 0h3m-2 2h3m-1 1h3m-1-2h3m0-1h3m-2 2h3m-1 0h3m-2 1h3m-3 1h3m-2-2h3m-1 1h3m-3 0h3m-2-3h3m-1 2h3m-2-2h3m0 3h3m-2 1h3m-2 0h3m1 0h3m-1-3h3m-3 3h3m0-2h3m1 1h3m-3 0h3m-2-2h3m9-1h3m-2 4h3m54-2h3m6-2h3m-154 10h3m1-4h3m-1 5h3m7-3h3m0-2h3m-2 5h3m-1-5h3m-3 5h3m-3-4h3m-1 0h3m-3 3h3m-2 1h3m-2-4h3m-2 2h3m-3-2h3m1 0h3m-3 4h3m2-5h3m-2 3h3m1-1h3m0 1h3m-3 1h3m-3-4h3m-2 2h3m0-2h3m-2 2h3m-3 1h3m2-3h3m-1 5h3m-2-1h3m2 0h3m1-3h3m-3 3h3m2-3h3m1-1h3m7 4h3m32-3h3m18-1h3m-135 11h3m2-2h3m-3 0h3m-1 1h3m-2-1h3m-1 0h3m1 1h3m-3 0h3m-3-4h3m-1 5h3m0-5h3m-1 5h3m4-1h3m10 1h3m-2-5h3m-2 1h3m-2-1h3m-2 2h3m-1 2h3m-1-1h3m-2 1h3m0-4h3m-2 4h3m-1-2h3m-1 0h3m-2 1h3m0 2h3m0-4h3m1 2h3m2 0h3m4-3h3m36 3h3m-128 4h3m7 3h3m-3 1h3m0-4h3m12 4h3m-2-5h3m-1 3h3m3-1h3m3 0h3m1-1h3m-1 2h3m1-2h3m-1-1h3m-2 0h3m0 3h3m-3 1h3m-3-3h3m-2 2h3m3 1h3m-2 1h3m1-2h3m-2-2h3m1 2h3m5 1h3m29-3h3m-113 6h3m-2 2h3m-2 2h3m12-4h3m5 3h3m-1-2h3m-3-2h3m-2 2h3m0 3h3m-1-2h3m-1 0h3m-1-3h3m-3 1h3m-2 3h3m-3 0h3m-1-2h3m-2 1h3m4 0h3m-2 2h3m-1-4h3m5 2h3m11-2h3m2 3h3m15-2h3m-110 5h3m2 3h3m3-1h3m8-1h3m3-1h3m-1 0h3m3 2h3m9 2h3m-2-1h3m14 1h3m-2 0h3m-2-5h3m-2 4h3m-2 0h3m-1-2h3m-2 2h3m-71 4h3m3 1h3m7-3h3m1 5h3m-2-2h3m4-3h3m-1 4h3m14-1h3m-2-1h3m-3 2h3m-1 0h3m-2 1h3m-1-2h3m2-3h3m-2 3h3m-3 1h3m-2-2h3m-3 1h3m6 2h3m0-4h3m3 4h3m-77 2h3m-1 0h3m3-1h3m5 0h3m0 4h3m4-3h3m-2 4h3m-2-4h3m2 1h3m6 0h3m0 3h3m-1-3h3m8 0h3m0 0h3m12 3h3m6-4h3m42 3h3m-113 4h3m1-1h3m0 3h3m13-1h3m3 1h3m0-3h3m15 3h3m11 0h3m-69 5h3m5 0h3m9-1h3m1-1h3m-1 0h3m1 4h3m7-4h3m10 3h3m-59 4h3m1-2h3m6 1h3m1 2h3m-1 2h3m2-1h3m-1-3h3m6 3h3m0 1h3m9-3h3m23-1h3m-3-1h3m-78 9h3m22-3h3m10 4h3m5-4h3m0 3h3m1 1h3m-63 3h3m2 1h3m7-1h3m0 3h3m8-2h3m5 3h3m16-5h3m-49 9h3m30-1h3m-1 0h3m-3 0h3m-8 8h3m10-4h3m3 0h3m-26 7h3" stroke="#ff0000" stroke-width="3" stroke-opacity="0.52" fill="none"/>
<path transform="scale(.5)" d="M917 65h3m11-3h3m6 2h3m9-3h3m-2 2h3m-15 8h3m0-4h3m1 2h3m1-3h3m2 1h3m5 1h3m2 1h3m-3-1h3m2 1h3m-46 8h3m2-4h3m-1-1h3m1 5h3m3-3h3m-2 3h3m-3-3h3m2 3h3m-3-2h3m-2-3h3m4 2h3m-53 9h3m17-1h3m-3-4h3m0 5h3m-1-4h3m-3 3h3m1-3h3m0 2h3m-3 1h3m6-1h3m8-3h3m45 3h3m-86 7h3m1-3h3m3 0h3m-3 0h3m1 4h3m-2-1h3m-3-3h3m-1-1h3m-2 1h3m1 3h3m-2-2h3m-2-1h3m7 2h3m-3-1h3m11 1h3m121 0h3m-203 5h3m11 2h3m20-3h3m-2 4h3m-1-2h3m-2-1h3m-2 2h3m-2 0h3m-2 0h3m-3 0h3m0 0h3m-2-1h3m-1 0h3m0-2h3m9 4h3m-2-4h3m-52 5h3m-1 1h3m11 1h3m-1-1h3m-2 2h3m0 2h3m0-4h3m-2 2h3m-3-1h3m-2 2h3m-2 0h3m2 0h3m2-4h3m-2 0h3m-1 1h3m-1 4h3m4 0h3m-3-4h3m-94 9h3m28-4h3m-1 5h3m-2-4h3m0-1h3m0 3h3m1-3h3m0 2h3m1 2h3m9 1h3m-2-5h3m-3 3h3m-3-1h3m2-2h3m-2 1h3m-2-1h3m1 3h3m1 2h3m1 0h3m2-4h3m-2 4h3m-3-2h3m8-3h3m91 5h3m-182 2h3m10-1h3m1 0h3m-2 2h3m2 0h3m4 2h3m1 1h3m-2-5h3m-2 3h3m0-2h3m4 2h3m0-3h3m-2 3h3m5 2h3m-3-2h3m5 1h3m-2-3h3m0-1h3m-3 5h3m60-3h3m-114 7h3m0 0h3m-3 1h3m-2 0h3m1 1h3m-3-4h3m-2 2h3m-3-1h3m-1-2h3m-1 1h3m-3 3h3m-3-4h3m-3 1h3m-2 0h3m-2 4h3m-3-1h3m1-1h3m-2 1h3m-3-3h3m3 0h3m-3 0h3m-1 2h3m-2 0h3m2-3h3m-3 5h3m-2-1h3m-2-2h3m5 1h3m-1-3h3m-2 2h3m4 1h3m-2 0h3m-2-2h3m1-1h3m10 4h3m-2 1h3m0-3h3m-97 5h3m5-1h3m2 4h3m-2 1h3m2-3h3m-1-2h3m-3 1h3m-2 4h3m-2-3h3m-1-2h3m-1 3h3m-2-2h3m0 2h3m-1 2h3m1-4h3m-2 0h3m-2 4h3m0-2h3m-3 0h3m-2 1h3m-2-4h3m2 5h3m-3-5h3m1 1h3m-3 2h3m-3-3h3m2 1h3m-2 1h3m-3 0h3m6 2h3m3-3h3m5 2h3m-1-1h3m-1 0h3m3-2h3m20 0h3m-134 11h3m18 0h3m-1 0h3m4-4h3m-1 2h3m0-3h3m-2 2h3m4-2h3m-1 3h3m-1 2h3m2-1h3m-2 1h3m0 0h3m0-3h3m-2 3h3m-3 0h3m-3-1h3m0-4h3m-2 4h3m-3 0h3m0 1h3m-3 0h3m-1-1h3m-3-3h3m11 3h3m-2-4h3m13 5h3m68-3h3m-151 9h3m1-1h3m0 0h3m-2 0h3m0-2h3m-2-2h3m-2 3h3m-3-2h3m3 2h3m-2-3h3m0 5h3m-2-1h3m-3-1h3m-2 2h3m1 0h3m-2-2h3m-3-3h3m-2 1h3m-1 0h3m-1 2h3m-3 2h3m3 0h3m-2-4h3m7 1h3m-1-1h3m0 3h3m44-2h3m97 3h3m-243 6h3m11-2h3m12-1h3m-2 1h3m-1 2h3m-3-1h3m2 0h3m-3-4h3m-1 1h3m-1-1h3m-1 1h3m-2-1h3m-3 4h3m1-3h3m-2-1h3m-2 0h3m2 0h3m-2 0h3m-3 5h3m0-1h3m-2-3h3m-2 1h3m-2-1h3m-2 4h3m-3 0h3m-2-5h3m-2 4h3m4-4h3m-3 1h3m0 3h3m-1-1h3m-2-1h3m-1-1h3m-2 3h3m0-2h3m0 2h3m-3-2h3m-2-2h3m-2 0h3m-1 4h3m0-2h3m-1 0h3m2 0h3m14-2h3m35 2h3m-161 4h3m6 1h3m14 2h3m2-2h3m3 3h3m4-2h3m-1 2h3m-2-4h3m-1 0h3m-2 3h3m-2-3h3m-3 3h3m0-3h3m-1 4h3m-2-4h3m-3 2h3m-2 0h3m-3 2h3m-3 0h3m-1-4h3m-1 3h3m-1 0h3m-3 0h3m-2 0h3m-3 2h3m-2-4h3m-2 1h3m4 0h3m0 2h3m3-3h3m0 3h3m-3-4h3m-1 2h3m-1 1h3m1-1h3m8 3h3m-1 0h3m126-5h3m5 4h3m-226 3h3m0 1h3m1 1h3m-2-3h3m-1 1h3m-1 0h3m-1 4h3m-2-5h3m3 3h3m2-2h3m-1 1h3m0 0h3m-1 0h3m1 3h3m-3-5h3m-3 2h3m-2 3h3m-3-4h3m0 2h3m-2-2h3m-2 4h3m-3-1h3m-1 1h3m-2-5h3m3 4h3m-2 0h3m-2-1h3m-2-3h3m-1 3h3m-2-2h3m-3 3h3m-2-3h3m-3 2h3m-1-3h3m1 4h3m2-4h3m-1 5h3m5-3h3m-2-2h3m0 3h3m-1-1h3m1 2h3m67 1h3m51-1h3m8 0h3m-226 2h3m5 5h3m-2 0h3m-1-4h3m1 1h3m-3 0h3m-2 2h3m1 1h3m-2-1h3m-2-1h3m-3 0h3m-2 0h3m1 2h3m-3-4h3m-2-1h3m-2 1h3m-2-1h3m-1 0h3m-2 0h3m-2 0h3m-3 0h3m-3 0h3m-2 3h3m-3 0h3m-1-2h3m-1 2h3m0 1h3m-2-1h3m-2 0h3m-3 0h3m-3 2h3m-1-1h3m-3-3h3m-1-1h3m-3 4h3m-3-3h3m-2 3h3m-3-1h3m3 1h3m0 0h3m-1 1h3m-3-4h3m-2 0h3m-3 2h3m1-1h3m0 2h3m5-1h3m-2 2h3m-2-1h3m15 1h3m-3-4h3m8 0h3m28-1h3m10 0h3m61 2h3m-2 0h3m4-1h3m-233 7h3m-1 2h3m1-4h3m-2 1h3m1 3h3m3-3h3m-2 2h3m-3-3h3m-3 2h3m-3 1h3m-1-1h3m-3 3h3m-1-1h3m-1-2h3m-1 3h3m-3-2h3m-3-3h3m-1 5h3m-1-5h3m-3 1h3m-3 1h3m-2-1h3m-2-1h3m-2 5h3m2 0h3m-3-1h3m-3-1h3m-1 0h3m-3-3h3m-2 0h3m-3 1h3m-3 1h3m-2 2h3m-2-4h3m-2 5h3m0-1h3m-3-4h3m-2 4h3m-2 1h3m-2-3h3m-3 0h3m-2 3h3m-2-2h3m2-2h3m-2 2h3m-2-1h3m-1 1h3m-2 0h3m4-1h3m-2 3h3m9-1h3m-2 0h3m-1-2h3m8 0h3m-1-2h3m-1 2h3m1-2h3m8 5h3m4-5h3m25 4h3m74 1h3m-1-3h3m-1 2h3m-249 3h3m8 2h3m-1-1h3m3-1h3m1 0h3m1 1h3m-2 1h3m3-2h3m-3-1h3m1 3h3m-2 2h3m-2 0h3m2-4h3m1 3h3m-1-2h3m-2-2h3m-1 1h3m-2-1h3m-3 3h3m-1-3h3m-2 4h3m-1-4h3m3 0h3m-3 0h3m-1 5h3m-1-4h3m-1 1h3m-2 1h3m-1-3h3m-2 4h3m-1-2h3m-3 0h3m-1 0h3m-2 1h3m-2 2h3m2 0h3m-2-4h3m-3 0h3m2 2h3m4-1h3m6 0h3m0-2h3m0 2h3m1-2h3m-3 3h3m-1 2h3m23-4h3m3 1h3m-152 8h3m13-4h3m-2 0h3m2 0h3m-1 3h3m-2 0h3m0-1h3m-1 0h3m-3 0h3m-3 2h3m-1 0h3m-2-1h3m-1 1h3m-1 1h3m0-2h3m2-2h3m-3 0h3m-1 3h3m-1 0h3m-1-2h3m-3 1h3m-3-3h3m-2 5h3m-3-2h3m-2-3h3m-3 0h3m-3 1h3m-3 4h3m-2-5h3m-3 0h3m-1 1h3m-1-1h3m-2 1h3m-3-1h3m-2 3h3m-3-3h3m-2 1h3m-3 1h3m-2 2h3m-3 0h3m-2-2h3m-2 2h3m-2-4h3m0 4h3m-2-4h3m-2 2h3m-2 2h3m-1 1h3m-2-3h3m-2 1h3m1-3h3m1 0h3m-3 5h3m-3-3h3m1 1h3m-2 1h3m0-2h3m0 1h3m-3-1h3m0 2h3m-2-3h3m3 3h3m14 1h3m6-4h3m105-1h3m-243 11h3m2-3h3m4 0h3m-3 2h3m8-2h3m-1-1h3m-2 3h3m-3 1h3m-2-5h3m2 0h3m-1 0h3m-3 4h3m-2-4h3m-3 1h3m-2 0h3m-2 1h3m-3-1h3m-2 3h3m-2 0h3m-1-3h3m-3 3h3m-3 1h3m2-4h3m-3 1h3m-3 3h3m0-3h3m-2-1h3m-1-1h3m-2 3h3m-3-2h3m-2 0h3m-3 3h3m-2-1h3m-2 2h3m-2 0h3m-3-3h3m-1 0h3m-3 2h3m-2 1h3m-1-4h3m-2 1h3m-1 0h3m-1-1h3m-2 3h3m-1 0h3m-2-3h3m-2 3h3m-2-3h3m-1 3h3m-3-1h3m-3 0h3m-2 1h3m-3-1h3m-3 2h3m-2-1h3m-2 1h3m-1-4h3m0 1h3m-1-2h3m-2 2h3m0-2h3m2 1h3m4 2h3m0 0h3m32 2h3m-2-4h3m13-1h3m78 1h3m1-1h3m-244 8h3m8 2h3m2-3h3m4 0h3m-3 2h3m-2 2h3m-1 0h3m0-5h3m-1 0h3m-1 3h3m-3 2h3m-1-1h3m-3 0h3m-1-2h3m-3 0h3m1 1h3m0-2h3m-3 2h3m-3 1h3m-2 0h3m-3 0h3m-1-4h3m-2 3h3m-3 2h3m-1-1h3m-2-1h3m-1 0h3m-3 1h3m-2-1h3m-2-2h3m-1 2h3m-3 2h3m-3-1h3m-2-4h3m-1 0h3m-2 2h3m-1 3h3m-3-1h3m-3-3h3m-3 2h3m0-2h3m-1 0h3m1 2h3m-2 1h3m-3-2h3m-3 2h3m-3-4h3m-2 3h3m0-1h3m-2 2h3m1 0h3m-1-3h3m-2 3h3m-2-4h3m-2 5h3m-3-1h3m0-3h3m6 3h3m-3 1h3m2-1h3m-1 1h3m25-4h3m17 0h3m13 4h3m-170 5h3m4 1h3m-2-5h3m-2 1h3m2 1h3m0 1h3m-3-3h3m-2 4h3m1-1h3m-2 0h3m-3 2h3m0-2h3m-3 1h3m-1-1h3m-3 1h3m3-3h3m-2 3h3m-3-2h3m-2-2h3m-3 2h3m0 0h3m-3 2h3m-2-4h3m-2 4h3m-3-4h3m0 5h3m-3-5h3m-3 1h3m-1 1h3m-1 1h3m-3 2h3m-3-5h3m-3 2h3m-2-1h3m-2 3h3m-1 0h3m-1-2h3m-2 3h3m-1-4h3m-2 2h3m-3-3h3m-1 4h3m1 1h3m-1-3h3m0 0h3m-2 0h3m-1 0h3m-1 2h3m-1 1h3m-2 0h3m-2-5h3m-2 2h3m-2-1h3m-2-1h3m-3 2h3m-2 1h3m-1 2h3m0 0h3m-1-2h3m5-3h3m8 5h3m-2-5h3m21 1h3m5 4h3m23-3h3m-170 8h3m-2-1h3m-2-2h3m-2 2h3m-2-3h3m7 5h3m5-1h3m-2-4h3m-2 1h3m-3-1h3m-2 1h3m-3 1h3m-1 1h3m-1-3h3m-1 1h3m1 2h3m-2 0h3m0 2h3m-2-3h3m-1 3h3m-1-5h3m-3 5h3m-2-2h3m-3-3h3m-2 1h3m-3 0h3m-2 1h3m-3 2h3m-3 0h3m-2-2h3m-3 2h3m-1 1h3m-3 0h3m0-2h3m-2-3h3m-3 0h3m-2 4h3m-2 1h3m-3 0h3m-3-1h3m-3-3h3m5 2h3m1 2h3m-3-3h3m-2 3h3m-2-2h3m-3-3h3m-3 2h3m-2 2h3m-2-2h3m-2 3h3m0-5h3m-3 1h3m-2-1h3m8 1h3m-2 4h3m1-3h3m1 1h3m12 0h3m-2-1h3m0 2h3m7 1h3m35-5h3m-175 10h3m5-2h3m-1-1h3m10 1h3m0 0h3m0-1h3m0-1h3m1 5h3m-3-5h3m-2 1h3m-3 2h3m-1-3h3m-2 1h3m-2 0h3m-1-1h3m-3 3h3m-2-1h3m0-1h3m-2 2h3m-2-2h3m-1 0h3m-3 2h3m-1-1h3m-3-2h3m-1 5h3m-2-3h3m-3-1h3m-1-1h3m-2 5h3m-1-2h3m-3 2h3m-2-4h3m-2 2h3m-1 2h3m-1-2h3m0-3h3m-2 2h3m-3 3h3m-3-5h3m-2 3h3m-2 2h3m-1-2h3m-1-3h3m-1 3h3m-3-2h3m0-1h3m-2 3h3m-2-2h3m0-1h3m-3 4h3m2-3h3m1 0h3m7 1h3m26 3h3m-134 4h3m3-1h3m6-1h3m-1-1h3m-2 3h3m-1 2h3m-3-1h3m-3-1h3m-2 2h3m-1 0h3m-3-2h3m-2-1h3m-2-1h3m-1-1h3m-3 4h3m-2-2h3m-1 3h3m-1 0h3m-2-2h3m-1 0h3m-1-1h3m-1 3h3m-3-3h3m-2-2h3m-2 3h3m-2-1h3m-1-1h3m-3 4h3m-2-5h3m-3 2h3m-1-2h3m-2 0h3m-2 2h3m-3-2h3m0 1h3m-2 1h3m-2-1h3m-2 0h3m-3 3h3m-3-1h3m-1-1h3m0 3h3m-3-1h3m0 0h3m-2-2h3m-2 2h3m5-3h3m-2 3h3m0-2h3m-2 3h3m-1-4h3m0 4h3m-1-1h3m-2-3h3m-1 0h3m12 1h3m-2 0h3m17 3h3m9-2h3m8-3h3m18 4h3m-162 2h3m0 0h3m-1 2h3m5 0h3m0 3h3m0-4h3m-3 3h3m-1-1h3m0 0h3m-3 0h3m4 0h3m-1 2h3m-3-1h3m-2 0h3m1-3h3m0 2h3m-3 1h3m-1-1h3m-3-1h3m-3 3h3m-1-5h3m-3 1h3m-2-1h3m-3 0h3m-3 0h3m-2 2h3m-2-1h3m-1 3h3m-2-2h3m-3-2h3m-2 4h3m1-2h3m-2 3h3m-3 0h3m-1-4h3m2-1h3m-1 4h3m-2-3h3m-3 3h3m-2-3h3m-1 2h3m0-3h3m3 3h3m-1-3h3m4 4h3m-1-4h3m-3 4h3m2-3h3m1 3h3m21-1h3m2-1h3m4 1h3m-146 6h3m-2-2h3m-1 3h3m6-4h3m1 0h3m0 3h3m-2-1h3m-2 2h3m1 0h3m-3-2h3m-3 1h3m-2 1h3m1 0h3m-2 0h3m-2-4h3m-3 4h3m-1 0h3m-2-2h3m-2-2h3m-3 3h3m-2 1h3m-2-3h3m-2 4h3m-2-4h3m-1 2h3m-3 2h3m-2 0h3m-2-3h3m0-2h3m-2 4h3m-3-1h3m-3-3h3m-2 3h3m-2-1h3m-2 2h3m-3 0h3m-2-3h3m1 3h3m-3-1h3m-3 2h3m-3-3h3m0-1h3m-3 2h3m-2-1h3m-3-2h3m0 4h3m-1-4h3m-2 1h3m-1-1h3m-3 4h3m-2 0h3m-1-4h3m0 4h3m10-3h3m15-1h3m32 0h3m-135 6h3m-2 3h3m0-1h3m-3 2h3m0-1h3m-2-3h3m0 0h3m-1 3h3m-3-1h3m5 2h3m-2-1h3m-2 0h3m1 2h3m-3-4h3m-2 4h3m-3-2h3m-3-3h3m-2 4h3m-2-4h3m-1 4h3m1-4h3m-3 3h3m-2-3h3m-2 3h3m-2 0h3m-3-3h3m-2 1h3m-2 0h3m-1 3h3m-2 0h3m-3-3h3m-3 2h3m-2 1h3m-1 0h3m-3-4h3m-2 2h3m-3-1h3m-2 1h3m-2 0h3m-3-1h3m-1 2h3m-3 1h3m-2-1h3m0-3h3m-3 1h3m-1 4h3m-2-3h3m1 0h3m-2 3h3m-2 0h3m-2 0h3m-3-2h3m-3-2h3m-2 3h3m4 1h3m-1-1h3m-2 0h3m-2-3h3m-3 4h3m1-3h3m0 2h3m17-4h3m-2 5h3m19-4h3m1-1h3m50 4h3m-204 7h3m14-4h3m2-1h3m2 5h3m-2-4h3m-2 3h3m-3-2h3m2-1h3m-2-1h3m-1 0h3m-2 2h3m-1-1h3m-3 2h3m-2-3h3m-3 5h3m-2-5h3m-2 4h3m2-4h3m-2 2h3m-2 1h3m2-3h3m-3 1h3m-3 4h3m-2-4h3m-3 1h3m-3 2h3m-1-2h3m-1-2h3m-1 3h3m-3-2h3m-2 3h3m-3-4h3m-1 4h3m-2-1h3m-3-2h3m-2 3h3m-2 0h3m8-4h3m-3 1h3m-2 4h3m-2-2h3m-3-3h3m-2 1h3m-3 2h3m-2-2h3m0 0h3m0-1h3m-3 4h3m-1 1h3m-2-5h3m-3 0h3m-1 3h3m0 2h3m27-1h3m2 0h3m8-2h3m17 2h3m-164 7h3m3-3h3m3 1h3m1-1h3m7 1h3m0 2h3m-1 0h3m1 0h3m-2-5h3m0 2h3m-2-1h3m-3 3h3m-3-2h3m-2-2h3m0 4h3m-2-2h3m-2-1h3m-2 4h3m-2 0h3m-3-4h3m1 1h3m-2-1h3m-1 3h3m-3-1h3m-2-2h3m-3 3h3m-2-4h3m1 5h3m-1-1h3m3 1h3m1 0h3m-3-1h3m2 1h3m8-1h3m-3-1h3m1-2h3m-1 4h3m0-1h3m8-3h3m9-1h3m-116 6h3m-3 4h3m2-4h3m6 0h3m-3 3h3m-1 0h3m-1-1h3m2 0h3m2 0h3m0 3h3m-2-4h3m-1 0h3m-2 4h3m-2-1h3m-2-2h3m-2-1h3m-3 0h3m-1-1h3m-3 3h3m-2 2h3m-2-1h3m-1 0h3m-1-3h3m-1-1h3m-3 2h3m-3 1h3m-2 0h3m-3-2h3m-2-1h3m-1 3h3m-2 1h3m1-3h3m-1-1h3m-2 5h3m-2-1h3m-2-3h3m-3 0h3m-2 3h3m-3-1h3m2-1h3m5 3h3m-1-5h3m59 4h3m12-4h3m-167 10h3m17-2h3m-2 3h3m-2-5h3m-2 2h3m3-1h3m1 0h3m-1-1h3m0 2h3m-1 1h3m-2-3h3m-2 3h3m-2 1h3m-1-1h3m4-2h3m-3 1h3m-2 3h3m-1-1h3m-2-1h3m-3 0h3m-2-1h3m-3-2h3m-2 1h3m1 0h3m-1 3h3m0 1h3m-1-4h3m-2 3h3m-2-3h3m-3-1h3m0 4h3m-1-1h3m-3 0h3m-3 2h3m-1-2h3m-2 1h3m-2 0h3m-1-3h3m29-1h3m31 0h3m11 2h3m-136 7h3m-2-3h3m0 2h3m3 0h3m-2 2h3m3 0h3m-2-2h3m-1 1h3m-1 0h3m-3-1h3m-2 1h3m-3-3h3m-3 5h3m-2 0h3m5-5h3m-3 0h3m-3 2h3m-2 1h3m-3 0h3m3-3h3m-2 2h3m-3-2h3m0 1h3m-2-1h3m-3 0h3m-2 3h3m-1-3h3m0 4h3m-3-2h3m1-2h3m-2 3h3m-1 1h3m29 0h3m22 1h3m20-3h3m-2-2h3m-159 7h3m17-1h3m-3 1h3m1 0h3m0 2h3m0-2h3m1 3h3m-3 1h3m2-3h3m-3-2h3m1 3h3m2-2h3m0 4h3m6-1h3m-1 0h3m8-1h3m-1-3h3m7 5h3m21-3h3m16 1h3m11 0h3m-136 6h3m9-3h3m3 1h3m0 3h3m9-4h3m5 2h3m-2 2h3m-3-4h3m-3 3h3m-2-3h3m5 1h3m9-1h3m15 1h3m4 2h3m31 2h3m-151 4h3m22-3h3m14 4h3m-3-2h3m-1 2h3m0-2h3m-2-1h3m9 2h3m2 0h3m-1 1h3m-2 0h3m7 1h3m6-3h3m3-2h3m2 4h3m4-3h3m33-1h3m-107 10h3m-1-1h3m1 1h3m5-3h3m-2 0h3m3-1h3m-2 1h3m3 0h3m-3 4h3m-3-2h3m1-3h3m-3 4h3m1-4h3m-1 4h3m-3 1h3m2-1h3m-2-4h3m-2 3h3m-1-3h3m8 1h3m0 3h3m7 0h3m0-2h3m4-2h3m-78 9h3m-2 0h3m0 0h3m4-2h3m-1 0h3m-1 4h3m-3-4h3m2 2h3m3-2h3m-1 4h3m6 0h3m6-2h3m-44 5h3m2 2h3m-1-3h3m-2 1h3m-2 2h3m-1 1h3m-3-5h3m2 2h3m4 0h3m13 1h3m11 2h3m11-4h3m-84 6h3m10 1h3m3-2h3m-2 1h3m-3 0h3m7 3h3m0-2h3m-2-2h3m3 0h3m-3 2h3m-3-2h3m5 2h3m0 2h3m-1-3h3m-3 1h3m3 3h3m-58 6h3m1-1h3m15 0h3m1-1h3m3 2h3m-2-2h3m-3 2h3m3-4h3m13 2h3m-65 3h3m2 5h3m10-2h3m0-1h3m4 2h3m21-4h3m7 4h3m-54 4h3m1-1h3m-2 2h3m2 1h3m24-3h3m-38 5h3m24 4h3m1-2h3m1 2h3m22 0h3m-55 4h3m5-1h3m33 2h3m-57 3h3m26 1h3m6 4h3m-10 4h3" stroke="#ff0000" stroke-width="3" stroke-opacity="0.52" fill="none"/>
<path transform="scale(.5)" d="M931 53h3m18-4h3m-3 8h3m-2-3h3m0 5h3m8 0h3m-28 2h3m-2 3h3m1-1h3m3-2h3m9 4h3m0-5h3m-43 10h3m21 1h3m0-5h3m-2 1h3m-42 8h3m17-3h3m-2 0h3m1 4h3m3-1h3m-2-2h3m-3 2h3m13-2h3m7 1h3m118 2h3m-155 3h3m-1 1h3m-3 2h3m-2-2h3m-1 1h3m4-1h3m8 2h3m-42 6h3m5-2h3m-2 2h3m-2-2h3m-1 1h3m2-3h3m-1 3h3m2 2h3m-1-3h3m-2 1h3m1 2h3m5-2h3m81-1h3m-155 4h3m18 5h3m7-1h3m-2-4h3m0 2h3m1 1h3m-2-1h3m1 2h3m-1-3h3m-2 1h3m-3-2h3m-2 5h3m-2 0h3m1 0h3m0-1h3m-1-4h3m-2 2h3m2-2h3m1 1h3m-60 5h3m0 5h3m-2-1h3m-1 0h3m1 0h3m1-3h3m1 4h3m-2-1h3m3-3h3m-2 4h3m-3 0h3m2-3h3m0-2h3m-3 0h3m-2 1h3m8-1h3m-1 5h3m-2-5h3m-1 3h3m-1-1h3m7 2h3m14-3h3m-122 10h3m18-3h3m33-2h3m-3 4h3m0 1h3m-2-3h3m0-2h3m-1 2h3m-2 3h3m-3 0h3m-3-2h3m0 1h3m-3-1h3m-2 1h3m-2-3h3m-2 0h3m-3 4h3m-1-1h3m3-3h3m-2 2h3m-3 2h3m-1-5h3m0 3h3m0 0h3m-71 7h3m12 1h3m-2-1h3m-3 1h3m1-3h3m2 2h3m1 0h3m-2 0h3m-3-2h3m-2-1h3m2-1h3m-2 5h3m-3-4h3m3-1h3m-1 1h3m0 0h3m-3 2h3m5 0h3m-2 2h3m-1-3h3m0 1h3m1-2h3m3 0h3m1 4h3m-3-1h3m1 1h3m-89 4h3m5 0h3m1 0h3m3 2h3m1 0h3m4-3h3m2-1h3m1-1h3m-2 3h3m-2-2h3m-3 4h3m-2-1h3m-2-3h3m-2 4h3m0-3h3m-3 3h3m2-2h3m-2 0h3m-1 1h3m-2-4h3m-2 2h3m-3 0h3m3 1h3m-2 1h3m1 0h3m3-4h3m-2 4h3m-3-1h3m-3-3h3m0 2h3m8-1h3m15 0h3m-108 10h3m9-3h3m8-1h3m-1 1h3m-1 0h3m2-1h3m5 3h3m0-3h3m-3 4h3m-2-5h3m-2 3h3m-1 0h3m-2-2h3m-1 3h3m2-3h3m-2 0h3m-2 3h3m-3 1h3m-1-2h3m-3-2h3m4 3h3m-1-3h3m9 0h3m-2 1h3m1 1h3m-75 4h3m2 1h3m4-2h3m1 5h3m-1 0h3m-3-3h3m0-1h3m-2 1h3m-1 1h3m-1-2h3m-2 4h3m-2 0h3m-1-4h3m-2 2h3m-3-2h3m0 3h3m-3-4h3m-1 1h3m-2 3h3m-2-2h3m10-2h3m-2 0h3m0 5h3m-3-3h3m-2 1h3m0-1h3m3 1h3m4 0h3m-1-1h3m5 0h3m-90 5h3m1 1h3m4 1h3m0-3h3m0 0h3m2 1h3m-1-1h3m2 4h3m-3-4h3m0 5h3m1 0h3m-3-2h3m-3 2h3m1-5h3m-2 5h3m-2-4h3m0-1h3m-2 4h3m0 1h3m0 0h3m-3 0h3m-2-4h3m-2 0h3m-2 4h3m-2-4h3m-2 4h3m-1-1h3m1-1h3m-2 2h3m-3 0h3m31-4h3m11 4h3m36-2h3m51 0h3m-218 8h3m-1-3h3m2 3h3m0 0h3m-1-4h3m2 1h3m3 0h3m-3 3h3m-2-1h3m3-3h3m-3 1h3m-2-2h3m0 4h3m-1-3h3m-3 1h3m-2 2h3m-1-3h3m-1 4h3m-2-3h3m-2-2h3m-2 2h3m-2 2h3m-2 1h3m-3-5h3m0 5h3m-2-3h3m2 3h3m-1-5h3m-2 0h3m0 0h3m-2 5h3m-1-3h3m-2 1h3m-1 2h3m-2-1h3m-2-1h3m-3-2h3m3-1h3m12 0h3m-3 0h3m10 3h3m-100 6h3m0-1h3m-3 2h3m5-3h3m-3 1h3m-2 2h3m-3 1h3m3-1h3m-2-1h3m-2 0h3m2 1h3m-2-2h3m-3 0h3m0 2h3m-3-3h3m1 3h3m0 0h3m1-4h3m-3 3h3m-2-2h3m-1-1h3m-1 0h3m-2 3h3m-3-3h3m-2 2h3m-3 0h3m-1 0h3m-1 3h3m-2-3h3m-1 0h3m-1-2h3m-1 2h3m-2 3h3m-3-1h3m-2 0h3m-1-2h3m-2 0h3m-2 0h3m-1-2h3m-2 1h3m-1 2h3m-2 1h3m1-1h3m31-3h3m-2 1h3m13 0h3m10 2h3m52-2h3m13-1h3m-222 10h3m0 0h3m6 1h3m4-5h3m1 3h3m-3 1h3m-1 0h3m-3-3h3m-2 4h3m-2-3h3m2-1h3m-2 3h3m-3-4h3m-3 1h3m1 4h3m-2-2h3m-3 1h3m-2-4h3m-2 3h3m-3 1h3m-2-3h3m-3 3h3m-3-4h3m-1 1h3m0 2h3m-3-1h3m-2 1h3m-3 0h3m-3 2h3m-1-2h3m-3-3h3m-2 0h3m-2 3h3m-3-1h3m-1 2h3m0 0h3m-2-1h3m0-2h3m1 2h3m-2 2h3m3-5h3m0 3h3m-2 2h3m5-5h3m0 4h3m1-3h3m4 2h3m-2-3h3m3 0h3m9 0h3m49 3h3m59-2h3m1 3h3m-257 2h3m21 0h3m-1 4h3m-1 0h3m-2-2h3m-2 0h3m-1-2h3m-2 4h3m-2 1h3m0-3h3m-3 0h3m3 3h3m-3-4h3m-2 2h3m4-1h3m-3 3h3m-2-1h3m-2-4h3m0 0h3m-2 4h3m-1-4h3m-3 4h3m-3-4h3m-2 5h3m-2 0h3m-2-5h3m-2 5h3m-2-4h3m-2 2h3m-3 2h3m-2-3h3m-2 2h3m-3-2h3m-3 0h3m-2 1h3m-3 1h3m-3-1h3m-2-1h3m-2-2h3m-2 3h3m-2-2h3m-2 0h3m-2 2h3m-3 2h3m-3-3h3m-2 0h3m1 0h3m-3-1h3m-2 1h3m-2 3h3m-2-5h3m-3 3h3m-1-3h3m0 2h3m-3-2h3m-2 4h3m-2-3h3m-2 3h3m5-1h3m-1 0h3m2-2h3m3 1h3m0 2h3m8-3h3m8-1h3m13 4h3m29 1h3m72-2h3m-241 4h3m3 0h3m0 2h3m1 1h3m2-3h3m-2 0h3m-2 2h3m-3 2h3m-2-3h3m-2 3h3m-3-3h3m-2 2h3m-1-3h3m-3 1h3m-1-1h3m-1 3h3m-3-4h3m1 5h3m-3-2h3m-2-1h3m-2-2h3m0 3h3m-1 1h3m-2-4h3m-3 5h3m-3-5h3m-2 2h3m-2 0h3m-2 0h3m-3 1h3m-3-2h3m-1 3h3m-2-3h3m-2 2h3m-3-3h3m-3 4h3m-3 1h3m-1-4h3m-3 0h3m-3 4h3m-3-4h3m-2 2h3m-1 2h3m-2-5h3m-2 3h3m-2 1h3m-2-4h3m-3 3h3m-1 2h3m-3 0h3m2-2h3m-3 0h3m-1-3h3m-1 3h3m1-2h3m-1 2h3m-2 1h3m-1-2h3m2 1h3m-2-2h3m-3-1h3m3 4h3m-1-4h3m-1 5h3m2-5h3m27 1h3m6-1h3m0 1h3m22 1h3m43-1h3m8 0h3m-3 2h3m6-1h3m-227 9h3m0 0h3m2 0h3m1-2h3m-3 1h3m-2 1h3m0-4h3m-3 2h3m-2-2h3m-1 3h3m-3-4h3m-1 5h3m0-3h3m-2-2h3m-3 0h3m-2 2h3m-3 1h3m-1 0h3m-3-1h3m-1 2h3m-3 1h3m-3-3h3m1-2h3m-3 2h3m-2 2h3m0-2h3m-3-2h3m-2 0h3m-3 0h3m0 5h3m0 0h3m2-4h3m-2 1h3m-2 2h3m0-4h3m-2 5h3m4-3h3m-1 3h3m-3 0h3m-2-2h3m-1-1h3m-2 3h3m-1 0h3m5-5h3m0 5h3m-3-2h3m25-2h3m8-1h3m20 3h3m18 2h3m32-1h3m10 1h3m-214 1h3m1 4h3m-1 0h3m3-1h3m-2 1h3m-3-3h3m-1 4h3m-3-1h3m-3 0h3m-2-3h3m-2 0h3m-3-1h3m-2 3h3m-3-2h3m-3 0h3m-2 3h3m-1 1h3m-2-3h3m-3 2h3m0-3h3m0 0h3m-3 2h3m0-2h3m-1 1h3m-3 1h3m-3 0h3m-3-2h3m-2 2h3m-2 1h3m-3-4h3m-3 2h3m1 3h3m-2 0h3m-3-5h3m-3 0h3m-3 2h3m-3-2h3m-2 4h3m0-1h3m-3 0h3m-2 1h3m-3 0h3m-2-2h3m-3 2h3m-2-1h3m-3 1h3m-2-2h3m-3-1h3m-1-1h3m-2 3h3m-2-2h3m-3 3h3m-2 0h3m-3-1h3m-3-1h3m-1-1h3m-2 4h3m-2-1h3m-3-2h3m-3-2h3m-2 2h3m-2 2h3m-2-1h3m0-2h3m-2 3h3m-3-3h3m-2 2h3m-3-3h3m2 0h3m11 3h3m7 0h3m16-1h3m34-1h3m70 4h3m-252 4h3m4 2h3m16-4h3m-1 4h3m-3-3h3m-2 0h3m-3 2h3m2-2h3m-2 1h3m-1 2h3m-2-2h3m0 2h3m-1-1h3m-3 1h3m-1-2h3m-3 1h3m-3-1h3m-2 2h3m-3-2h3m-3 1h3m-2-2h3m-3 3h3m-1-3h3m-1 1h3m-3 1h3m-3 1h3m-3 0h3m-1 0h3m-3-1h3m4-1h3m-1 2h3m-1-1h3m-1-2h3m-2 1h3m-2-2h3m-2 2h3m-1 0h3m-3-1h3m-3-2h3m-3 0h3m1 5h3m-3-5h3m-3 1h3m-2 1h3m-3-2h3m-2 0h3m6 2h3m-2 3h3m4-2h3m1-3h3m3 0h3m3 3h3m3 0h3m-2-1h3m0-2h3m8 2h3m11 3h3m29 0h3m61-5h3m-249 7h3m3 4h3m1-5h3m7 1h3m8 2h3m-2-3h3m-1 1h3m0 2h3m-3-3h3m-1 3h3m-1 1h3m-3-4h3m-2 0h3m0 1h3m1 0h3m-3 3h3m-2-2h3m-3 0h3m-2-1h3m-3 3h3m-1 1h3m-3-5h3m-3 3h3m-2 1h3m-2-4h3m0 5h3m-2-5h3m-2 5h3m-1-1h3m-2-4h3m-2 1h3m-2 3h3m-3-3h3m-2 4h3m3-3h3m-2 0h3m-3 3h3m-1-2h3m-2-3h3m0 4h3m-3-3h3m-1 4h3m2-4h3m-2 3h3m-2-4h3m-2 3h3m-2-2h3m-3 3h3m0 0h3m-3-3h3m-3 3h3m-1-3h3m6 1h3m19 3h3m8-4h3m6 2h3m45-1h3m-183 7h3m5-2h3m2-1h3m-3 1h3m-2 4h3m-2-4h3m-1 2h3m-2-2h3m1 3h3m0-2h3m0 3h3m-2 0h3m-2-1h3m-2-1h3m-3 0h3m-2 2h3m-1-4h3m-3 1h3m-1-2h3m-3 4h3m-1 0h3m-2 0h3m-1-2h3m-2 0h3m-2 2h3m-3-1h3m-2-2h3m-3 0h3m-2 4h3m-1 0h3m-3 0h3m-3-3h3m-1 3h3m-1 0h3m-3-2h3m-1-2h3m-3-1h3m-3 5h3m-2-4h3m-2 3h3m-2 0h3m-3-4h3m1 5h3m-3-3h3m-3 2h3m1-3h3m-2 1h3m-1-1h3m-3 4h3m1-5h3m-1 4h3m2-3h3m-3 2h3m16 0h3m27 0h3m9 0h3m16 0h3m80 0h3m-3 2h3m-249 3h3m3 2h3m6-3h3m3 4h3m-1-2h3m-2 2h3m-2-4h3m3 1h3m-3-1h3m3 4h3m0-5h3m-3 5h3m-3 0h3m-2-2h3m-2-2h3m-3 0h3m0 2h3m-3-2h3m-2 2h3m-3 1h3m-3-2h3m-3-1h3m-2 0h3m-3 2h3m-3 0h3m-1-2h3m-1 2h3m-3 2h3m-2-5h3m-1 0h3m-2 0h3m-3 1h3m-2 0h3m-2 2h3m-3-2h3m-2 1h3m0 3h3m1-2h3m-3 2h3m-1-1h3m5-2h3m-1-1h3m-1 1h3m-2-2h3m2 5h3m1-3h3m2 3h3m-2-1h3m13 0h3m-2 0h3m14-1h3m0 1h3m16 0h3m25-4h3m-182 9h3m6-1h3m1 1h3m3 2h3m0-1h3m6-2h3m-3 3h3m-1-3h3m-2-2h3m-2 3h3m-2-1h3m-3-2h3m-3 3h3m-3-3h3m0 3h3m-3 0h3m-2-3h3m-2 2h3m-3 2h3m0 0h3m-3 1h3m-1-3h3m-3-2h3m-2 5h3m-3-1h3m-2 1h3m-2-3h3m-1 0h3m-2-1h3m-3 2h3m-1-2h3m-2 2h3m-2-2h3m-3 2h3m-2-1h3m-2-2h3m-3 5h3m-2-2h3m1-1h3m-2-2h3m-3 1h3m-3 3h3m-1 0h3m-2 0h3m-3 1h3m-2-4h3m-2 0h3m-3 2h3m-1-3h3m-1 3h3m0-2h3m-3 2h3m-1-2h3m-1 0h3m2-1h3m3 2h3m2 3h3m-1 0h3m2-4h3m-2 4h3m-2 0h3m16 0h3m3 0h3m4 0h3m6-5h3m6 2h3m7-2h3m20 1h3m45 0h3m-236 5h3m9 4h3m1 0h3m2-2h3m-2 1h3m1-1h3m0-1h3m0-1h3m-2 1h3m-3-1h3m-1 0h3m-2 4h3m-2 0h3m-2-4h3m-3 3h3m1-3h3m-3 1h3m-1 1h3m-3-2h3m-2 0h3m-3 5h3m-2-1h3m-3-1h3m-1-2h3m-2 1h3m-3 0h3m-3 3h3m-2-5h3m-2 3h3m-2 2h3m-3-3h3m-3 1h3m-3 0h3m-2-1h3m-2 2h3m-3-4h3m1 2h3m-2 0h3m-2 3h3m-3-3h3m-1 2h3m-2-2h3m1 2h3m-1-3h3m-2 2h3m-2 1h3m2-1h3m-3-2h3m3 1h3m2-1h3m0 1h3m1-2h3m8 0h3m-2 1h3m2 0h3m5 2h3m8-3h3m32 1h3m19 3h3m-187 3h3m2 1h3m-3 0h3m-2-2h3m-3 0h3m8 0h3m-3 2h3m-3-1h3m-2-1h3m-2 3h3m-1-2h3m-3 2h3m0-2h3m0 3h3m-3-1h3m-2 1h3m-2-3h3m-3 0h3m-1 4h3m-2-1h3m-3-4h3m-3 3h3m-3 0h3m-2 2h3m2-3h3m-2 3h3m-2 0h3m-3 0h3m-1-3h3m-3 2h3m-3-1h3m-3-1h3m0 1h3m-2 0h3m0 1h3m-3-4h3m-1 4h3m-2-2h3m-2-2h3m-3 1h3m0 1h3m-2-2h3m-3 2h3m-2-1h3m-2-1h3m-1 4h3m-1 1h3m-3-4h3m-3 3h3m-2-4h3m4 3h3m-3 2h3m-2-2h3m-3-1h3m-2-1h3m-2 1h3m4 3h3m17-2h3m1-1h3m-3 3h3m40-5h3m-148 7h3m-1 2h3m1-3h3m-2 3h3m1 2h3m-2 0h3m1-1h3m4-3h3m-2-1h3m2 1h3m-2 2h3m-3 1h3m-1-3h3m-3 0h3m-2 2h3m1-1h3m-3-1h3m-2 4h3m-2 0h3m-3-2h3m-3 2h3m-2-3h3m-1-1h3m-2 3h3m-2 0h3m0 0h3m0 0h3m-3-4h3m-2 5h3m-2 0h3m-3-3h3m-2 1h3m-2 2h3m5-5h3m-1 0h3m0 0h3m-1 2h3m1-1h3m-1 4h3m3 0h3m1-1h3m0-1h3m0-1h3m-2 3h3m-2-1h3m-1-2h3m0 1h3m2 0h3m0 0h3m-1-1h3m4 2h3m0 0h3m22-4h3m4 2h3m5-2h3m-178 8h3m3 1h3m6-3h3m8 1h3m-1 0h3m2-1h3m-3 5h3m5 0h3m-2-3h3m-2 0h3m-2 1h3m-2-2h3m-3 4h3m-3-1h3m1-3h3m-1 2h3m-3-3h3m-2 3h3m-2-3h3m2 4h3m-3 0h3m-3-1h3m0 0h3m-1 2h3m-2 0h3m-2-1h3m1 0h3m-3-3h3m0 0h3m-3 1h3m-3-2h3m-1 1h3m-3 4h3m-2-5h3m2 4h3m-3-1h3m-1-1h3m-2 2h3m-3-2h3m-2-2h3m-2 2h3m1-1h3m2 1h3m0 0h3m3-1h3m12-1h3m2 3h3m19-3h3m7 5h3m-147 3h3m5 0h3m0-2h3m-2 3h3m2 1h3m-1 0h3m-2-1h3m7-3h3m-3 0h3m-2 1h3m-3 4h3m-2-3h3m-2-1h3m1 2h3m-1-2h3m-3 2h3m-2 1h3m-2-4h3m-3 4h3m-2 1h3m-2-2h3m-3 1h3m-2-2h3m0-1h3m-2 1h3m-2 1h3m-1 1h3m-2 0h3m-2-4h3m-2 2h3m-2-1h3m-2 3h3m0 1h3m-2-2h3m2-2h3m-3 2h3m-3-2h3m-2 0h3m-3 2h3m2-3h3m1 4h3m-3-4h3m-2 1h3m-1 2h3m-3 1h3m30 0h3m16-3h3m55 1h3m-179 9h3m5-1h3m-2-4h3m0 3h3m2-2h3m-3 2h3m-3-2h3m0-1h3m1 4h3m-3 1h3m0-1h3m-3-3h3m-2 3h3m-1-3h3m-2 3h3m-3 1h3m-1 0h3m0-4h3m-1 2h3m-1-1h3m-1-2h3m-3 3h3m-3 2h3m0-4h3m-1 4h3m-1-2h3m2-1h3m-3 3h3m-2-2h3m-3 2h3m-2-2h3m-2-3h3m-2 2h3m-3 1h3m-2 2h3m3-1h3m-3-2h3m1 2h3m15-1h3m12-3h3m4 3h3m68 0h3m-194 5h3m11 0h3m-3-1h3m2 2h3m1 0h3m-2 1h3m-2-2h3m0 1h3m0-2h3m-1 1h3m-2 3h3m-2-1h3m-1-4h3m-3 2h3m-1 0h3m-2-2h3m-3 3h3m-1 2h3m3-2h3m-2-2h3m-3 1h3m-2 0h3m-1-1h3m1 1h3m-3-2h3m-2 2h3m-3 1h3m0 1h3m-2 0h3m-1-3h3m-3-1h3m-2 4h3m-2-3h3m-2 2h3m1-3h3m-1 4h3m0-2h3m-2-1h3m-2 1h3m-2 1h3m0-3h3m-1 2h3m-2-2h3m3 1h3m118 0h3m-232 6h3m11 0h3m3 3h3m8-2h3m-2 0h3m7-2h3m1 2h3m-2 2h3m-2-2h3m-3 0h3m-2 1h3m-3-1h3m-1-2h3m2 5h3m-1-2h3m-1 2h3m-2-5h3m-2 1h3m1 2h3m-1 0h3m-1 2h3m-1-1h3m0-3h3m-1 1h3m-2 2h3m2-3h3m-3 4h3m-2-3h3m-2-2h3m-1 4h3m-2-4h3m2 2h3m1 0h3m4 2h3m-2-1h3m7-1h3m1 0h3m37-1h3m1 0h3m18 0h3m-172 9h3m-2 1h3m9 0h3m13-4h3m2 0h3m-2 3h3m-2 1h3m-3-1h3m8 1h3m-3-4h3m-2 0h3m-2 3h3m2 0h3m1-4h3m0 2h3m-3 3h3m0-2h3m-3 1h3m0 0h3m-3-1h3m-1-1h3m5 1h3m0-3h3m8 2h3m64-2h3m-165 7h3m1 0h3m15 0h3m0 4h3m0-3h3m0 2h3m0 1h3m-1-5h3m1 5h3m1-2h3m-2 2h3m-3-3h3m1-1h3m-3-1h3m0 2h3m-2 2h3m-2-4h3m-3 5h3m-1-3h3m0-2h3m-2 2h3m-1-1h3m4-1h3m-1 0h3m-2 4h3m-1 1h3m-2-3h3m-2-2h3m-2 4h3m-2 1h3m-2-3h3m12-2h3m19 3h3m-97 6h3m7-2h3m0 3h3m3-1h3m4 0h3m-1 1h3m-1 1h3m0-2h3m2-1h3m0 0h3m-1 1h3m2-2h3m0 4h3m-3-5h3m25 1h3m21 0h3m15 2h3m67-3h3m-197 9h3m10-3h3m5 0h3m-3 5h3m1-3h3m3 1h3m-3-1h3m6-1h3m-2 1h3m-2 1h3m9 1h3m-1-4h3m-1 1h3m2 3h3m-3-2h3m31 1h3m-102 4h3m0 2h3m2-3h3m2 0h3m6 3h3m6-1h3m-2-1h3m-1 4h3m-3-1h3m6-3h3m1 3h3m-3-1h3m3-2h3m-1 1h3m-2-2h3m-3 2h3m-2-1h3m26 0h3m5 3h3m-101 2h3m15 3h3m0 2h3m3-1h3m-2-3h3m-2 1h3m3-1h3m-1 2h3m13-2h3m-2 1h3m12 3h3m5-5h3m-2 2h3m-85 4h3m34 5h3m-2-4h3m3 4h3m-1-3h3m-1 1h3m5-3h3m-2 3h3m4-1h3m-3 1h3m9-1h3m-33 8h3m0 0h3m-1-4h3m13 5h3m-2 0h3m11-5h3m4 3h3m-77 4h3m0 4h3m15-2h3m8 2h3m-3-5h3m-1 4h3m0-3h3m26 1h3m-95 4h3m34 5h3m14-3h3m18-2h3m1 1h3m10 3h3m-49 5h3m10-3h3m3 2h3m7 2h3m20-3h3m-60 7h3m4 3h3m2-1h3m9-4h3m12 2h3m-52 9h3m25-5h3m-33 10h3m10-2h3m-2-2h3m23 2h3m29 3h3" stroke="#ff0000" stroke-width="3" stroke-opacity="0.52" fill="none"/>
</svg>
<svg x="628.4" y="11.4" width="153.0" height="164.2" viewBox="628.4 11.4 153.0 164.2" overflow="hidden">
<ellipse cx="702" cy="172" rx="25" ry="12" transform="rotate(0 702 172)" fill="#ff0000" opacity="1" filter="url(#b3)"/>
<path transform="scale(.5)" d="M1362 124h3m31 21h3m-32 5h3m59 15h3m-105 14h3m61 3h3m0-1h3m65 8h3m0-2h3m-60 6h3m81 6h3m-108 8h3m-5 6h3m62 2h3m-146 3h3m55 2h3m58-3h3m16 1h3m-27 8h3m21-3h3m-123 10h3m60-3h3m23 3h3m74-2h3m-96 7h3m8-4h3m65 0h3m0 0h3m-149 10h3m7-4h3m84 3h3m-87 6h3m-26 8h3m56-5h3m12 5h3m-54 2h3m1-1h3m16 5h3m9 0h3m2-3h3m55-1h3m40 4h3m-141 2h3m33-1h3m41 5h3m13-3h3m-165 4h3m15 4h3m55-4h3m19 4h3m-2 1h3m14-5h3m14 3h3m19 2h3m-87 4h3m4 0h3m1 0h3m16 1h3m10-3h3m12 1h3m-1-2h3m4 0h3m23 3h3m19-2h3m-175 10h3m26-3h3m35 1h3m10 2h3m22-1h3m0 1h3m8 0h3m3-1h3m14-4h3m2 3h3m5 1h3m40-2h3m-3-2h3m12 5h3m-2-3h3m-251 7h3m21 0h3m13 1h3m14 0h3m-1-2h3m7 3h3m21-3h3m6 0h3m-2-1h3m4 3h3m4 1h3m-3-1h3m2-1h3m-2 0h3m6-1h3m8 1h3m-2 1h3m1 1h3m10-3h3m-2-1h3m5 3h3m6-4h3m-2 1h3m18 3h3m0-2h3m-1 3h3m13 0h3m2-5h3m-174 11h3m-3-5h3m-2 4h3m-3-2h3m16 2h3m-2-2h3m-1 3h3m1-2h3m0 2h3m-3-4h3m0 0h3m19-1h3m1 1h3m1 2h3m3 0h3m-2 0h3m0 0h3m-3-2h3m5 4h3m0-5h3m12 1h3m3 0h3m1 0h3m8 1h3m-3-2h3m2 5h3m-1 0h3m-3-2h3m2 2h3m78-4h3m-251 10h3m29-3h3m1-2h3m1 5h3m8-4h3m17 4h3m14-5h3m-3 0h3m0 3h3m2-1h3m0 2h3m4-3h3m1 4h3m-1-5h3m0 2h3m-3 1h3m-2 0h3m-1 2h3m4-2h3m-1-3h3m-1 3h3m-1-3h3m10 5h3m1 0h3m-2-3h3m-1 0h3m-1-1h3m12 4h3m8-2h3m3 1h3m0 1h3m11-4h3m10 0h3m20 4h3m-248 1h3m0 2h3m20 3h3m-2-2h3m0-3h3m8 5h3m1-2h3m-1-1h3m-1 1h3m-2 2h3m-3-2h3m-2-2h3m0 3h3m0 0h3m0 1h3m-2-2h3m-3 0h3m0 1h3m-3 0h3m-2 1h3m-3-2h3m-1 2h3m-1-3h3m-3-2h3m4 1h3m-3 3h3m0 0h3m-3-2h3m-3-1h3m-1 0h3m-3 2h3m-1-3h3m4 2h3m0 0h3m0 0h3m-3 2h3m-3 0h3m11 0h3m-3-3h3m-2 0h3m0 0h3m-1 2h3m-1-3h3m-3 3h3m-2-2h3m0 2h3m0 1h3m-3-1h3m0 2h3m-3-4h3m1 3h3m-2-1h3m-2 2h3m-3-1h3m-2-2h3m-3-2h3m1 4h3m-2-3h3m3 0h3m-2 1h3m-2 0h3m-3 2h3m3-4h3m-1 4h3m-2 0h3m0-3h3m-1-1h3m9 2h3m1 1h3m1 2h3m-2-2h3m-2-1h3m5-1h3m0 2h3m-2 1h3m8-2h3m0 3h3m5 0h3m41-4h3m-273 9h3m5-3h3m4 0h3m-1 4h3m2-5h3m6 5h3m3-1h3m-2-4h3m0 4h3m-1-2h3m1 2h3m-2 0h3m-1-3h3m-3 4h3m0 0h3m-3-3h3m5-2h3m3 4h3m-2-2h3m1 2h3m0-4h3m-1 5h3m-3-2h3m-3-2h3m2 0h3m8 1h3m0-2h3m-3 0h3m-2 5h3m0 0h3m-3-4h3m1 2h3m-3-1h3m-1 0h3m2 1h3m-3-1h3m-1-1h3m-3 2h3m-3 1h3m-2-4h3m2 0h3m-1 5h3m-3-4h3m-1 3h3m-1-3h3m1 2h3m-1 1h3m-3-3h3m-3 0h3m-1 3h3m-1 1h3m-1-4h3m-1 0h3m-2 2h3m-2 0h3m-2-3h3m-3 4h3m-1-1h3m-3 1h3m-2-1h3m-3-3h3m0 3h3m-3 0h3m4 1h3m0-1h3m-1 1h3m1-4h3m0 3h3m-1-2h3m-3-1h3m0 4h3m-1-1h3m-2 0h3m2-2h3m-2 1h3m0 2h3m-2 0h3m7 0h3m5-3h3m-2 0h3m-2 1h3m1-2h3m-2 1h3m9 2h3m17 2h3m4-3h3m-241 5h3m3 1h3m8 3h3m-1-2h3m0 1h3m0 1h3m-1-2h3m-2 0h3m1-2h3m1 2h3m0-2h3m7 3h3m3-1h3m0 2h3m-2 0h3m-1 0h3m-2 0h3m-3-5h3m-3 5h3m-2-5h3m-3 5h3m0-2h3m-1 0h3m-1 1h3m-3 0h3m0 0h3m-3-1h3m-2-3h3m-3 4h3m-3-2h3m-2 3h3m-1-3h3m-2 2h3m-1 0h3m-2-3h3m-2 0h3m-2 2h3m-3-3h3m-2 1h3m3 1h3m-2 0h3m-2-2h3m-3 4h3m0-1h3m-2 2h3m-3-2h3m0-1h3m-3-1h3m-1 3h3m-3 1h3m-1 0h3m-2-5h3m-3 0h3m-2 2h3m-3 3h3m-2-2h3m-2-2h3m-2 0h3m-3 4h3m-3-5h3m-2 0h3m-3 4h3m-1 1h3m-3-3h3m-3 1h3m-1-3h3m-1 3h3m-3 1h3m-3 1h3m0-5h3m-1 1h3m-3-1h3m-2 5h3m-2 0h3m-2-5h3m-2 1h3m-2 4h3m-3-4h3m-2 1h3m0 0h3m-3 1h3m-2 0h3m0 2h3m-3-1h3m-3 0h3m-2-2h3m-2 1h3m-1-1h3m-2 3h3m-2-1h3m-1-4h3m-3 0h3m-1 5h3m-2 0h3m-2-2h3m-1 0h3m-2 2h3m2-4h3m-3 0h3m-3 2h3m-2 2h3m-2 0h3m-2-4h3m-3 4h3m-2-4h3m-2 2h3m-2-2h3m0-1h3m-3 2h3m0 2h3m-1 0h3m-3 0h3m-2 1h3m-2-4h3m-3 0h3m-2 2h3m4 1h3m-2 1h3m-2-3h3m-2 1h3m-3-3h3m-1 3h3m-3 1h3m0 1h3m3-2h3m2 2h3m-2-1h3m3-1h3m3-3h3m4 1h3m3 2h3m7-2h3m-248 5h3m11 0h3m1 5h3m2-3h3m11 3h3m5-5h3m1 1h3m-3-1h3m2 3h3m0 1h3m-3 1h3m-2-5h3m0 5h3m-3 0h3m1-4h3m-2 1h3m-2-2h3m-2 0h3m0 4h3m-3 0h3m-1-1h3m-2 0h3m-3 2h3m-3 0h3m-3-3h3m-3-2h3m-1 5h3m-1-2h3m-1-3h3m1 3h3m-2-2h3m-3 2h3m-2 1h3m-1-2h3m-2 0h3m-2 2h3m-2 1h3m-3-4h3m-2 1h3m-2-2h3m-3 5h3m-3-4h3m-3 3h3m-2-1h3m-2 2h3m-2-4h3m-3 0h3m-2 4h3m-2 0h3m-2-4h3m-3-1h3m-2 2h3m-2 3h3m-2-1h3m-2-1h3m-3 2h3m-2-5h3m-3 2h3m-2-1h3m-3 4h3m-1-2h3m-2-2h3m-3 4h3m-2-5h3m-2 0h3m-2 2h3m-3 2h3m-2 0h3m-2-2h3m-2 2h3m-3 0h3m-2 0h3m-1 1h3m-2-4h3m-2-1h3m-2 4h3m-3 0h3m-1 1h3m-3-4h3m-3 4h3m-2-1h3m-3 0h3m-2 0h3m0 0h3m-2 1h3m-2-4h3m-2 2h3m-3-3h3m-3 4h3m-2 0h3m-2-4h3m-2 2h3m-3 0h3m-3-1h3m-1 1h3m-1-2h3m-3 3h3m-2 1h3m-2-2h3m-3 2h3m-2 0h3m-2 1h3m-2-5h3m-2 3h3m-2 0h3m-3 0h3m-3-3h3m-2 5h3m-3-2h3m-3 0h3m-3 1h3m0-4h3m-3 1h3m-1 3h3m-2 1h3m0-2h3m-2 1h3m-2 0h3m-3 1h3m-3-5h3m-1 4h3m-3-2h3m-2 3h3m-2-2h3m-3-1h3m-2 2h3m-2 0h3m-2 0h3m-3 1h3m-2 0h3m-3-2h3m-3-2h3m-2 1h3m-2-2h3m-2 1h3m-3 2h3m-2 0h3m-3 1h3m-3-1h3m-3-2h3m-2 4h3m-1-4h3m-2-1h3m-3 3h3m-2 0h3m-2-3h3m-1 1h3m-3 1h3m-3 1h3m-1 2h3m-1-2h3m1 2h3m-1-3h3m-3 3h3m0-5h3m-3 3h3m-2 2h3m-3-1h3m-2-4h3m-2 0h3m-1 0h3m-2 0h3m-1 5h3m-2-2h3m-1-1h3m-1 3h3m-3-2h3m-3 2h3m6-1h3m-3-3h3m-1 2h3m-2 2h3m-1-4h3m7 3h3m-2 1h3m0-5h3m-2 2h3m0 3h3m2-2h3m-229 7h3m13-1h3m5-1h3m-1 3h3m-1-3h3m0 3h3m4-2h3m-2 0h3m0-1h3m-3 1h3m5 2h3m-2-2h3m-2 0h3m-2 0h3m-2 2h3m4-1h3m-2-2h3m-3 0h3m-1-1h3m-2 2h3m-3 2h3m-2-5h3m-2 5h3m-3-2h3m-3 1h3m-2 1h3m-3-1h3m-3-2h3m-2 3h3m-2-3h3m-2 0h3m-3 0h3m-3 3h3m-3-3h3m0 3h3m-2 0h3m-3 0h3m0-2h3m-3 2h3m-2-3h3m-3 1h3m-2-2h3m-3 4h3m-2-1h3m-3-2h3m-3 1h3m-3 1h3m-1-2h3m-2 3h3m-1-3h3m-2 3h3m-2-4h3m-3 0h3m-2 3h3m-3-4h3m-3 5h3m-3-4h3m-3 1h3m-2 0h3m-2-1h3m-2 0h3m-3 1h3m-3-2h3m-2 0h3m-1 5h3m-2-1h3m-3-1h3m-2 2h3m-3-3h3m-3 0h3m-2 3h3m-1-3h3m-2 2h3m-3-2h3m-2-1h3m-1 2h3m-3-2h3m-2 0h3m-3 1h3m-2-1h3m-3 4h3m-1-5h3m-3 5h3m-3-5h3m-2 2h3m-1 3h3m-2-1h3m-2-3h3m-3 4h3m-3-1h3m-2-1h3m-3 0h3m-2-1h3m-2 3h3m-3 0h3m-2-4h3m-2 4h3m-2 0h3m-3-2h3m-3 0h3m-3 0h3m-3-2h3m-2 4h3m-3-1h3m-2-1h3m-2-2h3m-2 4h3m-2-4h3m-3 3h3m-3-1h3m-2 0h3m-3-1h3m-3 1h3m-2 0h3m-2 1h3m-3-3h3m-2-1h3m-3 3h3m-2 0h3m-3 2h3m-3-3h3m-3 1h3m-2 1h3m-2-1h3m-3 2h3m-2-3h3m-2 2h3m-2 1h3m-3-1h3m-3-1h3m-3-2h3m-3 3h3m-1 0h3m-3-3h3m-2-1h3m-3 0h3m-3 4h3m-2-1h3m-3-1h3m-2 2h3m-3-4h3m-2 5h3m-1-5h3m-2 4h3m-3 1h3m-2-4h3m-3 1h3m-3-2h3m-1 3h3m-3-1h3m-1-1h3m2 0h3m-3 2h3m-3-2h3m-2 4h3m-1-3h3m1-1h3m-2-1h3m-2 0h3m-3 0h3m-3 0h3m0 5h3m-3-2h3m-2 2h3m-2 0h3m-3-3h3m-3 3h3m-2-1h3m-2-3h3m-3 1h3m-2-1h3m-3 4h3m-1-3h3m-2-1h3m-1 3h3m-2 1h3m1-2h3m-2 2h3m-3-4h3m-3 2h3m-3 1h3m-3 1h3m2-3h3m-3 0h3m-2 2h3m-2 1h3m-3 0h3m-2-1h3m-2-3h3m-3 2h3m-1 2h3m2 0h3m-1-4h3m1 4h3m4-1h3m-2 1h3m-2-3h3m1 3h3m20-5h3m-258 10h3m3-1h3m-2 2h3m19 0h3m14-4h3m5 0h3m-2 0h3m-3-1h3m-3 0h3m3 3h3m-3-2h3m-3 2h3m-2 2h3m0-3h3m-1 3h3m-1-3h3m-3 3h3m-2-5h3m-2 5h3m-3-3h3m-1 0h3m-2-1h3m-2 0h3m0 3h3m-2 1h3m-2-5h3m-3 3h3m-3-3h3m-1 1h3m-2 4h3m-3-4h3m-1-1h3m-3 1h3m-2 4h3m2-5h3m-2 3h3m-2-3h3m-1 0h3m-2 1h3m-2 4h3m-3-1h3m-1-1h3m-3 2h3m-2-5h3m-1 4h3m-3-3h3m-2 1h3m-3 0h3m-2 2h3m-2-1h3m-2-3h3m-2 3h3m-3-2h3m-2-1h3m-2 4h3m-3-2h3m-3-2h3m-2 1h3m-3 2h3m-3-3h3m-2 1h3m-3 2h3m-3-1h3m-2 3h3m-3-4h3m-2 3h3m-3-1h3m-3 2h3m-2-3h3m-3 1h3m-3 0h3m-2-3h3m-3 2h3m-3-2h3m-1 4h3m-3-1h3m-2-1h3m-2 3h3m-3 0h3m-3-3h3m-2 1h3m-3-3h3m-1 5h3m-3 0h3m-1-5h3m-2 2h3m-3 2h3m-2-4h3m-3 4h3m-2-2h3m-2-1h3m-2 2h3m-3-3h3m-3 4h3m-2-1h3m-3 1h3m-3-2h3m-2 2h3m-3-2h3m-2-2h3m-2 5h3m-3-2h3m-2 1h3m-2-3h3m-3 0h3m-2 1h3m-1 1h3m-3 0h3m-3-1h3m-3 3h3m-2-1h3m0-1h3m-3 2h3m-2-1h3m-2-1h3m-2 2h3m-3-2h3m-3-3h3m-3 2h3m-2-1h3m-3 3h3m-3-1h3m-2 1h3m-3-4h3m-2 4h3m-3 1h3m-2-4h3m-3 2h3m-3-3h3m-2 4h3m-2-1h3m-2-1h3m-3 2h3m-2 1h3m-2-2h3m-3-3h3m-3 4h3m-3 0h3m-3 1h3m-2-2h3m-3-2h3m-3-1h3m-2 5h3m-3 0h3m-3-2h3m-2-3h3m-3 0h3m-1 3h3m-1-1h3m-2 2h3m-2-4h3m-3 4h3m-2 1h3m-2-5h3m-3 5h3m-3-5h3m-2 0h3m-3 0h3m0 3h3m-2 0h3m-3 1h3m-1 1h3m-3-5h3m-3 4h3m-2 0h3m-3-1h3m-2-1h3m0 0h3m1 2h3m-3-2h3m-1 3h3m-2-4h3m-3 3h3m0 1h3m-1-4h3m-1 1h3m-3 3h3m-3-1h3m-1 0h3m-2 0h3m-2-1h3m-3 1h3m-2 0h3m-2-1h3m-2-1h3m-3 3h3m-2-1h3m-3 0h3m-2-4h3m-2 5h3m-3-4h3m-3 2h3m-3 1h3m-3-3h3m-2 2h3m0 0h3m-3-1h3m4 1h3m1-3h3m1 1h3m-3 2h3m5-3h3m-1 2h3m-2 0h3m-2 2h3m2 1h3m-3-1h3m2-4h3m9 2h3m-257 7h3m24-3h3m-1 5h3m-2 0h3m-3-4h3m-3 0h3m-2 2h3m3-1h3m-2 1h3m-1 1h3m-3-1h3m4-2h3m-2 3h3m1-3h3m-2 2h3m-1 0h3m-2-3h3m-2 2h3m-3 0h3m-3-2h3m-2 2h3m-1 0h3m-3-1h3m0 4h3m-2-4h3m-2 3h3m-2-4h3m-3 4h3m-3 1h3m-2-4h3m1 3h3m-2 0h3m-2 0h3m-2-2h3m-2 2h3m-3-2h3m-3-2h3m1 4h3m-2 0h3m-3-1h3m-1-1h3m-2-1h3m-2 2h3m-3-3h3m-2 4h3m-3-4h3m-1 4h3m-3-1h3m-2-2h3m-3 0h3m-3 3h3m-3-4h3m-2 5h3m-3 0h3m-2 0h3m-2-3h3m-3 1h3m-2 1h3m-3-1h3m-2-1h3m-3 1h3m-2 1h3m-2 1h3m-2-3h3m-3 2h3m-2-1h3m-3 2h3m-2-2h3m-2-2h3m-3 1h3m-3 0h3m-2-1h3m-2 1h3m-3 2h3m-2-2h3m-3 3h3m-2-2h3m-3 1h3m-1-2h3m-1 3h3m-3-1h3m-3 0h3m-2 0h3m-1-4h3m-1 5h3m-3-2h3m-3 2h3m-2-4h3m-3-1h3m-3 4h3m-2-2h3m-3-1h3m-3 2h3m-3 2h3m-2-2h3m-2 1h3m-3-1h3m-2-1h3m-3 2h3m-3 1h3m-3-3h3m-3 3h3m-2-5h3m-2 4h3m-3-2h3m-2 0h3m-2 1h3m-2 0h3m-3 2h3m-3-2h3m-2 2h3m-3-3h3m-2 3h3m-3 0h3m-2 0h3m-3-4h3m-3 1h3m-3 0h3m-3-2h3m-2 1h3m-2-1h3m-3 1h3m-3 2h3m-3 2h3m-2-3h3m-3-1h3m-3 4h3m-2-2h3m-2 1h3m-3-4h3m-3 2h3m-3-1h3m-2 4h3m-3-5h3m-2 2h3m-2 2h3m-3-4h3m-3 1h3m-2 4h3m-3-2h3m-2 0h3m-3 0h3m-2-3h3m-3 0h3m-2 0h3m-3 4h3m-1 0h3m-3-4h3m-3 0h3m-3 3h3m-2 0h3m-3 2h3m-2-3h3m-3 2h3m-3-3h3m-2 2h3m-2 0h3m-3-3h3m-3 2h3m-2-2h3m-2 1h3m-2 0h3m-3 1h3m-3 2h3m-1-4h3m-3 5h3m-3-3h3m-3-2h3m-2 1h3m-2 3h3m-3 1h3m-1-1h3m-3-1h3m-2-3h3m-2 1h3m-3 0h3m-1 1h3m-2 2h3m-3-3h3m0 3h3m-3-4h3m-3 1h3m-2 0h3m-3-1h3m-3 0h3m-2 5h3m-1-5h3m-3 2h3m-2 3h3m-2 0h3m-3-3h3m-2 3h3m-1-3h3m-3 2h3m-2-3h3m0-1h3m-2 0h3m-2 0h3m-3 2h3m-3 2h3m-3-3h3m-2 1h3m-3-2h3m-3 1h3m-2 3h3m-2-4h3m-3 1h3m-2-1h3m-3 5h3m-1-4h3m-2 4h3m-2-5h3m-1 5h3m-3 0h3m-3 0h3m-2-1h3m-3 0h3m-2 1h3m-2-4h3m0 3h3m-3-2h3m-2 3h3m-2 0h3m-3 0h3m-1 0h3m2-2h3m-3 2h3m-1-4h3m-2-1h3m-2 5h3m-3-3h3m-2 2h3m-1-1h3m-3 0h3m-3-2h3m-1 2h3m1 2h3m2-3h3m2-1h3m5-1h3m-2 3h3m-1-1h3m3 1h3m2 1h3m11-3h3m-246 6h3m2 0h3m3-1h3m5 1h3m6 0h3m-2 0h3m2-1h3m16 1h3m0 0h3m-1-1h3m8 0h3m0 1h3m8-1h3m-3 0h3m-1 1h3m2-1h3m-3 1h3m-2-1h3m-3 0h3m-3 0h3m-1 0h3m-2 0h3m-2 1h3m4 0h3m3 0h3m-2 0h3m-2-1h3m1 0h3m-1 0h3m-2 1h3m-3-1h3m-2 1h3m0-1h3m-2 0h3m-3 0h3m-1 0h3m-2 1h3m-2-1h3m-2 0h3m-3 1h3m-2-1h3m-3 1h3m-1-1h3m-3 1h3m0-1h3m-1 0h3m-3 1h3m-2 0h3m2 0h3m-2 0h3m0-1h3m-2 1h3m2 0h3m-2-1h3m-1 0h3m-2 0h3m-2 1h3m-3-1h3m0 0h3m-1 0h3m-2 0h3m-1 0h3m-3 1h3m0-1h3m-1 1h3m-3-1h3m5 0h3m0 1h3m-2 0h3m-2 0h3m2-1h3" stroke="#ff0000" stroke-width="3" stroke-opacity="0.6" fill="none"/>
<path transform="scale(.5)" d="M1459 125h3m-102 26h3m-64 8h3m107 24h3m10 2h3m12 0h3m-67 11h3m48 0h3m-1 1h3m4-1h3m-68 5h3m53 1h3m-71 2h3m1 0h3m35 0h3m3 1h3m48 2h3m-64 3h3m1 3h3m-60 14h3m53-5h3m-1 1h3m32 1h3m50 3h3m-162 6h3m50-4h3m-1 3h3m59-3h3m-109 6h3m16 1h3m6 3h3m8-5h3m89 4h3m-165 7h3m116-5h3m-108 10h3m66 1h3m47-4h3m15 0h3m-72 8h3m12 2h3m19-3h3m-91 8h3m51 0h3m4-1h3m11-1h3m20 3h3m-25 1h3m11 5h3m10 0h3m-76 3h3m4 2h3m7-1h3m47 0h3m-142 6h3m27 0h3m31-1h3m0 3h3m2 0h3m4 0h3m-1-3h3m16 1h3m16 1h3m-2-3h3m-92 5h3m3 0h3m38 0h3m-3 2h3m6 2h3m7-2h3m0-2h3m5 5h3m7 0h3m-2-2h3m-3 1h3m5 1h3m1-4h3m30 4h3m1-2h3m16 1h3m41-1h3m-247 4h3m45 4h3m15-5h3m13 2h3m-2-1h3m-3 2h3m24 1h3m0-1h3m-2-3h3m-2 5h3m-2-4h3m16 0h3m-2 4h3m-2-1h3m1 0h3m9-1h3m12-1h3m19-1h3m-1 3h3m13 1h3m30-1h3m-199 4h3m3 3h3m2-1h3m3 1h3m18-1h3m1-2h3m5 0h3m-2-2h3m0 4h3m-2-1h3m2-3h3m1 2h3m-2 0h3m8-2h3m0 3h3m6-1h3m-1-2h3m0 1h3m0 2h3m-3 2h3m-1 0h3m24 0h3m-1-5h3m4 1h3m29-1h3m40 0h3m-276 6h3m12 0h3m9 3h3m2 0h3m18-1h3m8 1h3m9 2h3m-2-4h3m1 0h3m-1 1h3m1-2h3m-3 3h3m6 2h3m-1-2h3m-1 1h3m-1-2h3m6 2h3m0-1h3m0 2h3m-3-5h3m0 0h3m1 3h3m-2-1h3m3 1h3m0-3h3m7 2h3m-2-1h3m-3-1h3m-1 2h3m3-1h3m0-1h3m6 2h3m-1 3h3m-3-2h3m10 0h3m8 2h3m-1-5h3m4 3h3m3-3h3m6 1h3m-2-1h3m1 4h3m6-2h3m-233 7h3m9 2h3m12-2h3m18 1h3m0-2h3m-1 3h3m4 0h3m4-4h3m2 4h3m-1-4h3m-2 4h3m6-5h3m-2 2h3m-2-1h3m-2 1h3m-2-1h3m-2 2h3m1-3h3m-1 3h3m1-3h3m-3 0h3m2 2h3m6 1h3m2 2h3m-2 0h3m-1-4h3m-3 3h3m-2 1h3m0-1h3m-2-3h3m0-1h3m-3 0h3m-2 1h3m-1 3h3m0-4h3m2 2h3m-2-1h3m-1-1h3m-3 0h3m0 5h3m0-1h3m-3-2h3m2 1h3m-2-2h3m-2 4h3m-3 0h3m0-5h3m0 3h3m2-3h3m-3 4h3m-1 1h3m0 0h3m-3-4h3m-1 4h3m0-1h3m-1-4h3m0 3h3m0 2h3m6-3h3m-1 2h3m3-2h3m2-2h3m26 4h3m2 0h3m51-3h3m-276 8h3m6-2h3m11 4h3m0-4h3m-2 4h3m-1 0h3m-2-1h3m5-3h3m7 0h3m-1 2h3m-1 1h3m-3 0h3m5 1h3m-3-2h3m5 1h3m-2 0h3m-2-1h3m-2-2h3m-2 4h3m-2-2h3m-3-2h3m0 3h3m0-4h3m-2 3h3m-2-1h3m-3 1h3m1-3h3m1 3h3m-2-3h3m-2 4h3m-2 0h3m1-2h3m-2-1h3m-3-1h3m-2 3h3m-2 2h3m-1-1h3m-1-2h3m-3 0h3m2 2h3m-3 1h3m-2-4h3m-3 2h3m-2 1h3m-1 0h3m-2 0h3m-3-3h3m2 2h3m-2 0h3m0 1h3m-2 1h3m-3 0h3m-2-1h3m-2 1h3m0-4h3m-3 2h3m-3 0h3m-2-2h3m-1 2h3m-1 0h3m-1-1h3m1 2h3m-2 0h3m0 0h3m-2-4h3m-2 2h3m6 2h3m0 0h3m-3-4h3m-1 0h3m-3 1h3m0 3h3m-1 1h3m7-3h3m-3 0h3m-1 0h3m11-1h3m-1 3h3m8-3h3m4 4h3m-3-1h3m4-1h3m17 2h3m-266 5h3m5-2h3m-3-2h3m3 5h3m0-4h3m-2 3h3m13-3h3m7 4h3m-2-5h3m3 2h3m1-2h3m1 5h3m-2-1h3m-1 0h3m-2 1h3m5-5h3m-1 5h3m-2-1h3m-1 1h3m-3-5h3m-3 0h3m1 3h3m-3-1h3m-3 0h3m-2 2h3m-3-3h3m-1 4h3m-1-1h3m-3-4h3m0 4h3m-1 0h3m3 1h3m-2 0h3m-3 0h3m-3 0h3m0-1h3m-3-3h3m1 4h3m2-1h3m-1-4h3m-1 2h3m-2-2h3m-2 4h3m-3 1h3m-1-5h3m-2 3h3m-2 0h3m-3-1h3m-2-1h3m-3 2h3m-3 0h3m1 1h3m-2-2h3m-3 1h3m-2-3h3m-3 5h3m-2-3h3m-2 0h3m-2 2h3m-3-2h3m-1 3h3m-3-5h3m-2 2h3m-1 0h3m-2 2h3m-2 1h3m1-1h3m-3 0h3m-3 1h3m-2-5h3m-3 4h3m-3-3h3m-1 0h3m-2 2h3m-3 2h3m-2 0h3m-2 0h3m-1-5h3m-3 2h3m-3-2h3m-2 2h3m-3 1h3m-2 0h3m2 1h3m0-4h3m0 3h3m-2 1h3m-2 0h3m-1 0h3m-2-4h3m-1 5h3m-3-4h3m-1 4h3m-3-2h3m-3 1h3m-1-1h3m-2 0h3m-3-3h3m-2 0h3m-3 4h3m-2 0h3m-3 1h3m1-4h3m-3 3h3m-2-1h3m-2-1h3m-1 3h3m-1-1h3m0-2h3m-2 0h3m0 0h3m-2 2h3m-2 1h3m-2-5h3m-2 3h3m-2-1h3m-3 3h3m2 0h3m-3-4h3m2 2h3m-2-2h3m-2 1h3m1 0h3m-1 2h3m7-1h3m0 1h3m-2 1h3m-1-1h3m-3 0h3m-2 0h3m-1-2h3m20-2h3m1 1h3m8 4h3m-273 5h3m26-1h3m1-1h3m0 2h3m11 0h3m8 1h3m-1-5h3m-1 1h3m-3 3h3m-1-4h3m0 2h3m2-2h3m1 5h3m0-3h3m-1 0h3m2 1h3m-3-1h3m-3 1h3m-1-1h3m-1-1h3m-2 2h3m-1 2h3m0-2h3m-3 0h3m-2 0h3m-1 2h3m-3-3h3m-1-1h3m-3 0h3m-3-1h3m1 5h3m-1-3h3m0 2h3m-3-1h3m-3 2h3m-2-1h3m-3-2h3m-2 1h3m-3-2h3m-2 0h3m-3-1h3m-3 1h3m-3 4h3m-2-3h3m-3 2h3m-2-1h3m-1-1h3m-2-2h3m0 2h3m-2-2h3m-2 5h3m-2-1h3m-3 0h3m-2-4h3m-2 1h3m-1 1h3m-2 0h3m-2-1h3m-1 3h3m-3 0h3m-2 0h3m-1-1h3m-3-1h3m-3 0h3m-2 2h3m-3-3h3m-1 0h3m-2 2h3m-3 0h3m-3 2h3m0-1h3m-3-1h3m-3 2h3m0 0h3m-3-5h3m-3 3h3m-2 0h3m-3 1h3m-3 0h3m-1-4h3m-2 5h3m-2-5h3m-3 5h3m-3-3h3m-2-2h3m-2 4h3m2 0h3m-3 1h3m-3-3h3m-2 3h3m-2-1h3m-2 1h3m-2-4h3m-3-1h3m-1 5h3m-2-1h3m-3-1h3m1 2h3m-2-1h3m-3-3h3m-2-1h3m0 3h3m-2-1h3m-2-2h3m-3 1h3m-3 4h3m-1-3h3m-3 1h3m-3 2h3m-1-5h3m-2 5h3m-2 0h3m-3 0h3m-1-2h3m-2-2h3m-3 2h3m1 2h3m5 0h3m-3 0h3m-1-5h3m1 4h3m0-2h3m-2 3h3m-2 0h3m-1-1h3m-2-1h3m3 1h3m6-3h3m2 1h3m0 3h3m1-3h3m6-2h3m-1 2h3m0 3h3m26-1h3m-288 2h3m12 1h3m1 3h3m-1-1h3m5 0h3m13-2h3m-3 0h3m5 3h3m5 0h3m-1 0h3m-3-1h3m-2-3h3m-2 0h3m-1 1h3m-1 4h3m-1-5h3m-2 2h3m-3-2h3m-2 1h3m-1-1h3m-2 4h3m-1-2h3m-2-1h3m-3-1h3m5 2h3m-2 0h3m-3-2h3m-2 5h3m-3-3h3m-3 1h3m-3 0h3m-1-1h3m-3 2h3m-2-4h3m-3 1h3m-2 1h3m-3 1h3m-2-2h3m-3 1h3m8 1h3m-3 2h3m-1-2h3m-1 1h3m-1-2h3m-3 3h3m-2-3h3m-3-1h3m-3 3h3m-2-4h3m-3 2h3m-3 3h3m-3-4h3m-2 4h3m-3 0h3m-3-1h3m-1-2h3m-2 0h3m-3 0h3m-3-2h3m-1 1h3m1 2h3m-2-1h3m-2 2h3m-2 0h3m-2-2h3m-3 1h3m-1 2h3m-3-2h3m-3 1h3m-2-2h3m-3 0h3m-3-1h3m-2 3h3m-2-4h3m-3 1h3m-2-1h3m-1 3h3m-3 1h3m-3-2h3m-2-2h3m-3 3h3m-1 2h3m-2-1h3m-3-2h3m-3 2h3m-2 0h3m-3-2h3m-1-1h3m-2 2h3m-2-2h3m-2 2h3m-1 0h3m-3-1h3m-1 0h3m-3 3h3m-1-3h3m-3 1h3m-2-1h3m-3 3h3m-3-4h3m-2 3h3m-2-3h3m-2 1h3m-3 1h3m-2-1h3m-3 2h3m-3-1h3m-3 0h3m-2 1h3m-2-1h3m-3-3h3m-3 1h3m-1 0h3m-3 1h3m-3 0h3m-2-1h3m-2 0h3m-3 4h3m-2-4h3m-2 0h3m-2 4h3m-2 0h3m-1-3h3m-2-1h3m-3 2h3m-3 2h3m-2-3h3m-3-2h3m-2 2h3m-2-1h3m-2 3h3m-2-2h3m-3 2h3m-1 1h3m-2-4h3m-3-1h3m-2 4h3m-2-3h3m-3 4h3m-1-2h3m-2 2h3m-2 0h3m-2-5h3m-2 1h3m-2-1h3m-2 5h3m0-1h3m3 0h3m-2-3h3m-1 3h3m-2 0h3m-3-1h3m-1-3h3m0 5h3m-3 0h3m-3-3h3m4 1h3m-1 2h3m-3 0h3m0-5h3m-2 5h3m-3-4h3m3 3h3m-1 1h3m-3-4h3m-2-1h3m1 3h3m-1 0h3m-1 0h3m4 1h3m-242 3h3m8 1h3m2 2h3m1-1h3m2-1h3m2-1h3m11 2h3m1 0h3m-2-3h3m0 5h3m-3 0h3m-1 0h3m-1 0h3m0-3h3m-2 2h3m-2-1h3m-2 1h3m-1-2h3m0-1h3m-3 2h3m-2 0h3m1-1h3m-2 0h3m-3 2h3m-3-1h3m-2-2h3m-2-1h3m-3 0h3m-2 5h3m-1-1h3m-1 0h3m-1 0h3m-3-3h3m-3-1h3m-3 4h3m-2 0h3m-2-1h3m-3-1h3m1 3h3m-2-5h3m-2 1h3m-1 2h3m-3 0h3m-3-2h3m-2 0h3m-3 2h3m-1-1h3m-3 3h3m0-1h3m-2-3h3m-1 2h3m-2 0h3m0-1h3m-2 1h3m-3-1h3m-3 3h3m-1-2h3m-3 2h3m-3-1h3m-2-1h3m-2 1h3m-3 1h3m-1-1h3m0 1h3m-2-3h3m-3-2h3m-2 1h3m-3 2h3m-2-2h3m-3 0h3m-3 3h3m-2-3h3m-3 3h3m-2 0h3m-3-3h3m-2 1h3m-3 3h3m-3-3h3m-2 0h3m-3 2h3m-2-1h3m-2-3h3m-2 5h3m-3 0h3m-3-5h3m-3 5h3m-2-2h3m-2 2h3m-3-3h3m-3 0h3m-3 2h3m-2 1h3m-3-4h3m-3 2h3m-2-3h3m-2 2h3m-1 2h3m-3-4h3m-2 5h3m-3-3h3m-3 1h3m-1 0h3m-3 0h3m-2 0h3m-2-1h3m-3 2h3m-2-1h3m-2 0h3m-3 0h3m-2 2h3m-2-3h3m-2 3h3m-3-3h3m-3-2h3m-2 0h3m-3 2h3m-3-1h3m-3 2h3m-1 2h3m-1-1h3m-3-3h3m-3 1h3m-3-2h3m-2 5h3m-3-2h3m-2 2h3m-3-5h3m-2 2h3m-3 2h3m-2-2h3m-3 2h3m-2 0h3m-2-1h3m-3 2h3m-2-5h3m-3 5h3m-1-3h3m-1 3h3m-2-4h3m-3 1h3m-3 0h3m1-1h3m-3 2h3m-2 1h3m-2-1h3m-3 0h3m-1-1h3m-3-2h3m-2 2h3m-2 1h3m-2 2h3m-3-2h3m-2-1h3m0 1h3m-3 1h3m-3 0h3m-2-1h3m-2 2h3m-3-4h3m-1 4h3m-3-3h3m-3-1h3m-2 0h3m-1 2h3m-2 2h3m-2 0h3m-3-1h3m-1-1h3m-3 1h3m-2-2h3m-3 2h3m-1 0h3m-1-3h3m1 0h3m-3 3h3m-1 1h3m-1-3h3m-3 1h3m0-3h3m-2 0h3m-3 2h3m1-2h3m-2 4h3m-2-1h3m-2-2h3m11 2h3m2-1h3m-2-2h3m-2 5h3m1 0h3m-3-1h3m-3 0h3m-3-2h3m-2 2h3m1-1h3m-2 2h3m3-3h3m9 3h3m-264 4h3m2 1h3m-2 0h3m13 0h3m6 1h3m-2-3h3m0 2h3m4 1h3m-2 0h3m4 0h3m-2-1h3m-3-2h3m-3 1h3m5 1h3m-1-4h3m-1 2h3m-2 3h3m-3-5h3m0 5h3m-2-4h3m-2 2h3m-1 2h3m-2-1h3m0 0h3m-3-3h3m-1 3h3m-2 0h3m-2-3h3m1 4h3m-1-1h3m-3 1h3m-2-3h3m-3 2h3m-2 1h3m0-5h3m-3 1h3m-2 3h3m1 0h3m-3-3h3m-3 0h3m-2 2h3m-2-3h3m-3 5h3m-3-1h3m-2-4h3m-3 4h3m-3-2h3m-2 1h3m-3-2h3m-3 4h3m-1-2h3m-1 1h3m-2 1h3m-1-5h3m-2 1h3m-3 1h3m-3 1h3m-2-3h3m-2 4h3m-3 0h3m-3 1h3m-2-5h3m-3 0h3m-2 1h3m-3 1h3m-2-1h3m-3-1h3m1 5h3m-2 0h3m-3-3h3m-3 1h3m0 0h3m-3-3h3m-3 1h3m-2 3h3m-3-1h3m-2 0h3m-3 0h3m-3-2h3m-3 2h3m-2-3h3m-3 0h3m-3 5h3m-2-2h3m-3 1h3m-3 1h3m-1 0h3m-3-1h3m-3 1h3m-3-3h3m-3 3h3m-2-4h3m-3 4h3m-3-5h3m-3 0h3m-2 3h3m-2 0h3m-2-2h3m-3 3h3m-2-4h3m-3 4h3m-3-2h3m-2-1h3m-3 4h3m-2-1h3m-3-3h3m-2 4h3m-3-1h3m-3 0h3m-2 1h3m-1-2h3m-1-3h3m-3 3h3m-2-1h3m-3 2h3m-2 1h3m-2-3h3m-2 0h3m-3 3h3m-2-3h3m-2-1h3m-3 4h3m-3-1h3m-2-1h3m-2 1h3m-1-1h3m-2 1h3m-3-4h3m-2 4h3m-3 1h3m-2 0h3m-3-4h3m-2 3h3m-3-3h3m-3 1h3m-2-1h3m-2 3h3m-2 0h3m-3 0h3m-3 0h3m-2-2h3m-2 2h3m-2 1h3m-3-2h3m-3 2h3m-2-4h3m-1-1h3m-1 1h3m-2 4h3m-2-1h3m-3-1h3m-2-2h3m-2 2h3m-2 1h3m-3 1h3m-3-1h3m-3 0h3m-3 1h3m-2-1h3m-1 0h3m-3 0h3m-2-3h3m-3 3h3m-2-3h3m-1-1h3m-1 2h3m-2-1h3m-3 3h3m-2-1h3m-3 1h3m-1-3h3m-2 0h3m-3-1h3m-3 0h3m-3 5h3m-2-1h3m-2-2h3m-3 1h3m-3-3h3m-3 0h3m-2 5h3m-3 0h3m-3-4h3m-3 4h3m-2-5h3m-2 5h3m-3-4h3m-1 3h3m-1-1h3m-3-2h3m-2 3h3m-2-1h3m0-2h3m-2 2h3m-3 1h3m-3 1h3m-3 0h3m-2-2h3m-3-3h3m-1 0h3m2 1h3m-1 3h3m0-1h3m-2-2h3m-1 2h3m-2 2h3m-2-5h3m-1 0h3m-2 4h3m1-2h3m-2 3h3m2-1h3m-2 0h3m-1-2h3m-2 0h3m0 3h3m-1-2h3m-1-3h3m6 5h3m45-2h3m-291 3h3m15 1h3m22-1h3m3 1h3m1-1h3m7 0h3m1 0h3m1 0h3m2 0h3m0 0h3m1 0h3m-3 0h3m2 0h3m0 0h3m-1 1h3m-2-1h3m-2 0h3m-1 1h3m0-1h3m-2 0h3m-2 1h3m-2-1h3m-3 0h3m2 0h3m-2 1h3m1 0h3m-2 0h3m-3-1h3m-1 1h3m-2-1h3m-1 0h3m-2 0h3m3 1h3m-2-1h3m0 1h3m-2 0h3m-2-1h3m-2 0h3m-3 1h3m-2-1h3m-3 1h3m-3-1h3m-1 1h3m-3 0h3m-1 0h3m-2 0h3m-2 0h3m1-1h3m-2 0h3m0 0h3m-3 1h3m3 0h3m-3 0h3m-2 0h3m-1 0h3m-1-1h3m-2 0h3m-2 1h3m-2-1h3m1 0h3m-3 0h3m-2 1h3m-1-1h3m2 1h3m2-1h3m-3 1h3m-1-1h3m-3 0h3m13 0h3m-1 0h3m0 0h3m25 0h3m7 0h3m40 1h3" stroke="#ff0000" stroke-width="3" stroke-opacity="0.6" fill="none"/>
<path transform="scale(.5)" d="M1435 111h3m-28 41h3m-82 19h3m53 1h3m-29 6h3m30 5h3m13 11h3m-24 4h3m7 5h3m33 9h3m-68 7h3m13 1h3m-45 6h3m39-2h3m15 5h3m25 2h3m11-3h3m11 2h3m-91 7h3m17 2h3m11-1h3m-43 6h3m-60 3h3m23 1h3m29-1h3m2 4h3m2-1h3m0 0h3m30 0h3m28-3h3m59 3h3m-114 6h3m-1-4h3m17 4h3m12 3h3m36 4h3m-159 2h3m44-1h3m60 2h3m-145 6h3m44 3h3m4-3h3m22-2h3m27 4h3m18 1h3m11-2h3m10 2h3m25-4h3m-145 9h3m20-4h3m57 1h3m15 0h3m10 0h3m33 0h3m-165 8h3m6-1h3m-2-2h3m5 5h3m26 0h3m37 0h3m21-5h3m2 5h3m15-3h3m-1 2h3m9 0h3m5 1h3m56-4h3m-222 10h3m2-2h3m7 0h3m5 2h3m7-3h3m5 2h3m2 0h3m-1-3h3m3-1h3m-1 5h3m-1 0h3m5-2h3m-2-2h3m15 0h3m-1 4h3m-2-3h3m0 1h3m-2 2h3m13-3h3m-1 2h3m11-1h3m-1 0h3m21 1h3m49 0h3m-209 7h3m-2 0h3m1-2h3m2-1h3m-2 0h3m31 0h3m-1 3h3m-3 0h3m4-2h3m2 2h3m-1-2h3m22 0h3m-2 1h3m-1 1h3m0-4h3m-1 3h3m-1 0h3m-3-2h3m-2-2h3m-3 4h3m1 1h3m2-2h3m1-2h3m-2 0h3m5 3h3m-1-2h3m5 3h3m0-5h3m22 5h3m21-4h3m-2 4h3m-3 0h3m11 0h3m1-1h3m-249 6h3m6-4h3m31 0h3m12 2h3m7 1h3m2-1h3m2 3h3m6-5h3m0 5h3m5-3h3m-2 2h3m8-2h3m-2-2h3m5 5h3m0-4h3m-2 4h3m1-1h3m-2-4h3m-1 2h3m-3 0h3m-3 1h3m-1 2h3m-1 0h3m3 0h3m-1 0h3m3-3h3m-2-2h3m-2 4h3m0-4h3m-1 5h3m2 0h3m-3-5h3m4 4h3m5 1h3m11-2h3m-2-2h3m1 2h3m18-3h3m11 5h3m-230 6h3m13-1h3m20-4h3m10 2h3m-3 0h3m-2 0h3m7 0h3m-2 0h3m4 1h3m0 1h3m-1 0h3m-3 1h3m-3 0h3m0-1h3m-1-3h3m1 4h3m0 0h3m4 0h3m-3-3h3m-1 3h3m-1-3h3m2-2h3m6 2h3m-3-1h3m-1-1h3m-3 1h3m0 0h3m1 1h3m-2 1h3m0 2h3m-3-1h3m1-1h3m-2 1h3m-1-1h3m-2-3h3m-3 5h3m-2-1h3m-1 1h3m3-2h3m-1-3h3m-3 4h3m0-4h3m-2 4h3m-2-2h3m-2 3h3m0 0h3m-3-4h3m3 1h3m-1 3h3m0-1h3m-2 0h3m-2-2h3m-1 2h3m-3-1h3m-2-1h3m0 2h3m2-4h3m3 5h3m-1-2h3m-2-2h3m5 0h3m-2 3h3m4 1h3m13-4h3m2 0h3m19 0h3m4 1h3m-1 3h3m-225 1h3m20 1h3m0 3h3m-1 0h3m-1 0h3m-3-4h3m-2 0h3m-3 2h3m-1 3h3m-1-2h3m-3-1h3m-1 0h3m0 0h3m-2-2h3m-3 3h3m-1-1h3m-3-2h3m0 0h3m-2 0h3m-3 1h3m2 2h3m3-3h3m-3 0h3m-2 3h3m7-3h3m-2 4h3m-3 0h3m-2 0h3m0-4h3m0 2h3m-1 3h3m-3 0h3m-1 0h3m-2-4h3m-2 3h3m-3-3h3m-1 4h3m-3-1h3m0 1h3m-2-5h3m1 2h3m-3 1h3m-1 1h3m-2-4h3m-2 0h3m-3 5h3m-1-1h3m-2-1h3m0 2h3m-3-4h3m0 3h3m-3 0h3m-2-1h3m-2 1h3m1-1h3m-3 2h3m-2-4h3m-2 0h3m-3 2h3m4-3h3m0 3h3m-3-2h3m-2 0h3m-2-1h3m-3 5h3m0 0h3m-2-2h3m1 0h3m0-3h3m-3 2h3m0 0h3m0-2h3m-3 4h3m-2 1h3m-1-1h3m-2-4h3m-1 0h3m-2 4h3m0-1h3m-1-1h3m-2-2h3m5 4h3m1 0h3m1 1h3m19-2h3m-1 1h3m1-1h3m-2 1h3m-2-4h3m9 3h3m3 2h3m21 0h3m-278 2h3m19 1h3m23-1h3m-1-1h3m-1 3h3m-2-2h3m5 3h3m11-1h3m0 2h3m-3-3h3m-3 1h3m1-1h3m-3 2h3m-2 1h3m-2-1h3m0-3h3m-1 0h3m-2-1h3m-1 3h3m-3-3h3m2 1h3m-3 1h3m-2-2h3m-2 5h3m-2 0h3m-2 0h3m-2-5h3m-2 4h3m-3 0h3m-3 0h3m-2-4h3m-3 5h3m-3-4h3m-2 1h3m-2 2h3m-2-2h3m-3-1h3m-1 3h3m-2-1h3m-2 0h3m0 2h3m0-3h3m-3-2h3m-2 3h3m-1 1h3m-2-4h3m-2 2h3m-3 3h3m-3-3h3m-2 1h3m0 1h3m-2 1h3m-2 0h3m1-2h3m-2 0h3m-3 2h3m-1-2h3m-3-1h3m0-2h3m-2 1h3m1 4h3m-2 0h3m-2-1h3m-2-2h3m3-2h3m-2 4h3m-1-1h3m-1-1h3m-2 3h3m2-4h3m0 3h3m-1-1h3m2-1h3m-1 3h3m-2-1h3m-1-2h3m-2 1h3m-3-1h3m-3 0h3m-3-2h3m-3 1h3m-1 1h3m-1-2h3m-3 4h3m-2 1h3m0-2h3m7-1h3m-3 3h3m4-5h3m0 3h3m-3 2h3m-2-5h3m-1 3h3m1 0h3m11 2h3m0-3h3m-2 3h3m5 0h3m41-1h3m-286 2h3m-1 2h3m16 2h3m0-4h3m1 4h3m0 1h3m-1-3h3m6 1h3m-2-3h3m-3 5h3m3 0h3m-2-1h3m0 1h3m1-2h3m-2-1h3m-2 2h3m-1 1h3m1-2h3m1 0h3m-3-2h3m3 1h3m-2 0h3m0 1h3m-3-2h3m-1 2h3m0 2h3m-2-1h3m0 0h3m-3 0h3m-1 0h3m0 0h3m-1-1h3m-3 0h3m-3 1h3m-2-3h3m-2 3h3m-2-1h3m-3 1h3m-3-4h3m-2 1h3m-2-1h3m-3 1h3m-2 3h3m-3-1h3m1 1h3m-1-1h3m-2 1h3m-3 0h3m-2-2h3m-3-1h3m-1 4h3m-2-1h3m-2 1h3m-1-4h3m-3 3h3m-3-1h3m-2-1h3m-3-2h3m-3 3h3m-2-3h3m-3 4h3m-3 0h3m-2-2h3m-3-1h3m-3 1h3m-2 2h3m-3 0h3m-3-2h3m-2 1h3m0 1h3m-1-1h3m-2-2h3m-2 0h3m-3 0h3m-2 1h3m-2-1h3m-3 3h3m-2-2h3m-3 3h3m-1 0h3m-3-4h3m-2 2h3m-1 2h3m-2-3h3m-2-2h3m-2 5h3m-3-1h3m0-4h3m-3 0h3m1 5h3m-1-3h3m-2-2h3m-2 1h3m-3 4h3m-1-3h3m1-1h3m-2 1h3m-3 1h3m-2-1h3m-3 0h3m-3 3h3m-3-1h3m-3-2h3m-3-1h3m-2 2h3m-3 0h3m-3 1h3m0 0h3m-2-2h3m-2 2h3m-2-3h3m-3-1h3m-2 4h3m-2-2h3m-3-1h3m-2 1h3m0-1h3m0 0h3m1 3h3m-3-3h3m-3 3h3m-3-4h3m-1 5h3m-2-3h3m-3 3h3m-2-4h3m-1 4h3m2-4h3m-3 3h3m-2 1h3m-1 0h3m-3-2h3m-3-1h3m-1 1h3m-3-3h3m1 1h3m0 0h3m-3 0h3m-2 3h3m0-1h3m-2-3h3m-2 5h3m-3-1h3m-1-4h3m-2 4h3m-2-2h3m-1 2h3m-1-4h3m0 1h3m1 4h3m3-2h3m-2 0h3m-2-3h3m-2 1h3m8 4h3m7-1h3m-235 7h3m-1 0h3m2-2h3m-1-3h3m4 5h3m8-5h3m0 1h3m0 2h3m-2-2h3m-2 3h3m-2-1h3m0 2h3m-1-1h3m-3 1h3m-1-4h3m-3 0h3m-1 4h3m-1-3h3m-2 2h3m-2-1h3m-2-2h3m-3 0h3m-2 2h3m-1-2h3m-2 0h3m0 1h3m-3 2h3m-2-1h3m-3 0h3m-3-2h3m-2 2h3m-2 0h3m-2-3h3m-2 4h3m-3-2h3m-2-2h3m-2 4h3m-2-2h3m-3-2h3m-3 2h3m1 3h3m-1-2h3m-2-2h3m-2-1h3m-3 1h3m-2 2h3m-2 2h3m-1-1h3m-3-3h3m-2 4h3m-3-1h3m-2-3h3m-1 4h3m-2-1h3m-2 1h3m-2-1h3m-3-4h3m-3 3h3m-2-2h3m-3 2h3m-3 2h3m-3 0h3m-2-2h3m-2-2h3m-2-1h3m-2 3h3m-3-2h3m-2-1h3m-1 0h3m-3 3h3m-2 2h3m-3-5h3m-3 2h3m0-2h3m-3 5h3m-3-4h3m-1 2h3m-2 2h3m-2 0h3m-1 0h3m-3-3h3m-3 1h3m-1 1h3m-2-2h3m-3-2h3m0 1h3m-3-1h3m-2 0h3m-2 2h3m-2 0h3m-3-1h3m-2 3h3m-3-3h3m-3 1h3m-2 2h3m-3-3h3m-2 1h3m-3-1h3m-2-1h3m-3 5h3m-2-4h3m-2-1h3m-3 5h3m-3-1h3m-3-2h3m-2 3h3m-3-1h3m-3-4h3m-3 4h3m-2 1h3m-3 0h3m-3-2h3m-2 2h3m-3-4h3m-2 2h3m-3-2h3m-1 3h3m-2 1h3m-3-4h3m-1-1h3m-3 5h3m0-4h3m-3 2h3m-2 2h3m-2-4h3m-3 0h3m-2 3h3m-3-4h3m-3 4h3m-2-3h3m-1 4h3m-3-3h3m-3 0h3m-2 0h3m-2-2h3m-3 5h3m0-2h3m-3-2h3m-2 3h3m-3-3h3m-3 3h3m-3 0h3m-2 0h3m-3 1h3m-3-1h3m-3-3h3m-2 1h3m-3 0h3m-2 2h3m-3-1h3m-2 1h3m-2-4h3m-3 3h3m-2-1h3m-2-2h3m-3 0h3m1 1h3m-2 2h3m-3 2h3m-3 0h3m-1-4h3m-3 4h3m-3 0h3m-2-4h3m-3 1h3m-1 2h3m-2-4h3m-2 4h3m-1-4h3m-3 5h3m-3-1h3m-2-3h3m0 4h3m-3-2h3m-3 2h3m-3 0h3m0 0h3m2-1h3m-1 1h3m0-2h3m-2 1h3m-1 0h3m-2-3h3m-1 0h3m-1 3h3m-2-1h3m11 1h3m-3-4h3m2 3h3m13-3h3m-2 0h3m-2 0h3m0 5h3m-2-2h3m5 1h3m-2 0h3m16 0h3m-2 0h3m-260 2h3m5 2h3m0 1h3m4 1h3m-1-4h3m5 5h3m-3-2h3m-2-3h3m-3 2h3m0-1h3m-1 0h3m-2 1h3m1 3h3m-2-5h3m0 5h3m1-4h3m-2 4h3m-2-2h3m-1-3h3m-1 1h3m-3 0h3m-2 1h3m-2 1h3m-2-1h3m0 2h3m-3 1h3m-3 0h3m-1-3h3m-2-1h3m-2-1h3m-1 1h3m-2-1h3m-3 0h3m-2 2h3m-3 0h3m-2 3h3m-3-5h3m-3 5h3m-2-3h3m-2 3h3m-3 0h3m-2-3h3m-3 3h3m-1-1h3m-3-4h3m-1 3h3m-3-1h3m-3 0h3m-2 0h3m-3-1h3m-2 0h3m0 2h3m-1 0h3m-2 2h3m-2-1h3m-3-3h3m-3 4h3m-2-5h3m-2 2h3m-2-1h3m-2 0h3m-3 3h3m-2 0h3m-2-2h3m-2 2h3m-3-4h3m-2 2h3m-3 0h3m-3 2h3m-2-1h3m-3 0h3m-1 0h3m0 0h3m-1-1h3m-2 0h3m-3 0h3m-3-1h3m-3 2h3m-2-2h3m-2 1h3m-2 3h3m-3-3h3m-2-2h3m-1 5h3m-3-5h3m-1 2h3m-2 2h3m-3-4h3m-3 2h3m-3 2h3m-2 1h3m-3-2h3m-1 2h3m-3-1h3m-3 0h3m-3-1h3m-2 0h3m-3-3h3m-3 0h3m-3 1h3m-1 0h3m-3 3h3m-3 1h3m-2-2h3m-2 1h3m-3 0h3m-3-2h3m-2-2h3m-3 4h3m-2 1h3m-2-5h3m-3 2h3m-3 2h3m-3-3h3m-1 0h3m-3-1h3m-1 5h3m-3 0h3m-3 0h3m-2-4h3m-1 3h3m-1-3h3m-1 2h3m-3 1h3m-3-4h3m-3 5h3m-2-1h3m-2-3h3m-2 3h3m-2-4h3m-3 3h3m-2 1h3m-3 1h3m-3-3h3m-2 0h3m-2 0h3m-3 1h3m-3 0h3m-3 2h3m-2 0h3m-2-3h3m-2 3h3m-2-1h3m-3 0h3m-1-2h3m-2 2h3m-2-4h3m-3 2h3m-3-1h3m-2 0h3m-3 2h3m-2 0h3m0 2h3m-1-4h3m-2-1h3m1 5h3m-3-2h3m-3-1h3m0 3h3m-2-3h3m-3-2h3m-2 4h3m4 1h3m4 0h3m-2-2h3m-3 1h3m1-3h3m0 0h3m-3 2h3m-3 1h3m4-3h3m0 4h3m-2-2h3m4-3h3m-3 1h3m3 0h3m1 2h3m0-3h3m12 4h3m11-1h3m18-1h3m-284 4h3m-3 5h3m9-3h3m7 2h3m3 0h3m3-1h3m-2 0h3m1 2h3m-3-2h3m-1 1h3m-1-4h3m-1 4h3m0 1h3m-1 0h3m-3 0h3m-2-1h3m-1 1h3m-2-3h3m-1-2h3m-2 0h3m-1 5h3m-2-1h3m-2-3h3m-2 1h3m-2-1h3m-3 2h3m-1 0h3m-1 0h3m-2-2h3m-2 2h3m-1 2h3m-2 0h3m-3 0h3m-2 0h3m-3-5h3m-2 4h3m0 1h3m-3-5h3m-3 2h3m-3 3h3m-1-5h3m-3 3h3m-3 0h3m2 2h3m-3-2h3m-3 2h3m-3-5h3m-2 3h3m-3-2h3m-2-1h3m-3 3h3m-1 0h3m-3-3h3m-2 1h3m-3 0h3m-2 1h3m-3 2h3m-2-2h3m-3 1h3m-2-2h3m-3 4h3m-1-3h3m-3-1h3m-3 1h3m-3 1h3m-3 0h3m-2 1h3m-1-4h3m-3 0h3m-2 1h3m-2 3h3m-3-4h3m-3 1h3m0 3h3m-2-2h3m-2 2h3m-3-1h3m-2-1h3m-3 1h3m-1-1h3m-3 1h3m-2 1h3m-3 1h3m-2-3h3m-3-2h3m-3 0h3m0 2h3m-3 2h3m-3 0h3m-3 1h3m-2-1h3m-1-4h3m-3 5h3m-3-4h3m-3 4h3m-3-4h3m-1 4h3m-3-4h3m-2 3h3m-3-3h3m-2-1h3m-2 4h3m-2 1h3m-2-1h3m-3-2h3m-3 0h3m-1-2h3m-3 0h3m-3 1h3m-3 2h3m-3 1h3m-3-2h3m-1-2h3m-3 1h3m-2 4h3m-3-1h3m-3-2h3m-2 3h3m-3-2h3m-1 2h3m-3-4h3m-3-1h3m-1 3h3m-3-2h3m-2 2h3m-3 1h3m-3 1h3m-2 0h3m-2 0h3m-2-2h3m-2-2h3m-3 1h3m-3 2h3m-2-2h3m-3 2h3m-2-1h3m-3-1h3m-3-1h3m0 0h3m-2 2h3m-2 2h3m-3-3h3m-3 0h3m0-1h3m-3-1h3m-2 3h3m-3-1h3m-3-2h3m-2 4h3m-3 1h3m-3-2h3m-3-2h3m-2-1h3m-2 1h3m-1 4h3m-3-4h3m-3 2h3m-2 2h3m-3-5h3m-2 4h3m-3-3h3m-3 0h3m-2 1h3m-2-2h3m-3 3h3m-2-1h3m-2 1h3m-3-1h3m-1 3h3m-2-3h3m-2 2h3m-2-3h3m-2 0h3m-2 0h3m0 2h3m-3-2h3m-2 4h3m-2-2h3m-3 2h3m-2-2h3m-2 2h3m-2-4h3m-3 3h3m-2-3h3m-2 1h3m-3-2h3m-2 4h3m-3-3h3m-2 2h3m-3-1h3m-2-1h3m-3 4h3m-3-3h3m-2 1h3m-2 1h3m-3-1h3m-2 0h3m-3-1h3m-3 3h3m-2-4h3m4 4h3m2 0h3m-3-2h3m-3 2h3m-1-1h3m-3-2h3m-2 3h3m-2-5h3m-3 4h3m-2-1h3m0 0h3m-3-2h3m-2 1h3m5-2h3m-1 3h3m-2 0h3m-1-1h3m2-2h3m1 5h3m17-1h3m4-4h3m0 4h3m16-3h3m-239 6h3m3-1h3m0 1h3m-2-1h3m3 0h3m-2 0h3m-3 0h3m3 1h3m0-1h3m-1 1h3m-1 0h3m-2-1h3m3 0h3m4 0h3m-1 1h3m-1-1h3m3 0h3m-2 0h3m-1 1h3m-3-1h3m-2 0h3m0 1h3m1-1h3m-1 1h3m-1-1h3m-2 0h3m-1 1h3m-2-1h3m-2 1h3m-1 0h3m2 0h3m-2-1h3m-1 0h3m-1 0h3m-2 0h3m2 0h3m-2 1h3m-3 0h3m0 0h3m-1-1h3m-2 1h3m2-1h3m-2 0h3m-3 0h3m-2 0h3m-3 0h3m-1 0h3m-2 0h3m1 0h3m-2 0h3m-2 1h3m-1-1h3m-2 0h3m-3 0h3m4 0h3m-3 0h3m-1 1h3m-1-1h3m3 1h3m-2-1h3m1 0h3m4 1h3m8 0h3m-1-1h3m-2 0h3m-1 0h3m-2 0h3m5 0h3m0 1h3" stroke="#ff0000" stroke-width="3" stroke-opacity="0.6" fill="none"/>
</svg>
<svg x="26.3" y="241.9" width="153.5" height="163.29999999999998" viewBox="26.3 241.9 153.5 163.29999999999998" overflow="hidden">
<ellipse cx="59" cy="302.5" rx="23" ry="10.5" transform="rotate(-51 59 302.5)" fill="#ff0000" opacity="1" filter="url(#b2)"/>
<path transform="scale(.5)" d="M207 498h3m-66 8h3m10 15h3m23 12h3m-39 4h3m-2-3h3m17 2h3m-31 8h3m22-4h3m-69 10h3m13-1h3m9 2h3m-3-2h3m1 0h3m1-1h3m0 1h3m-1 0h3m-3-2h3m-2 4h3m6-3h3m0 3h3m0 0h3m0 0h3m7-2h3m-3-3h3m23 5h3m-79 2h3m7-1h3m-1 5h3m10-3h3m-2 3h3m1-2h3m-3-2h3m1 0h3m-1 2h3m-3 0h3m5 0h3m3 1h3m-1-2h3m18 0h3m-83 9h3m0-1h3m4 1h3m-1 0h3m2-5h3m-3 1h3m-2 4h3m4-2h3m3-1h3m-1 3h3m-3-3h3m3-2h3m-2 1h3m-2-1h3m-2 3h3m-3-3h3m2 5h3m-2 0h3m-2-4h3m0 1h3m2-2h3m4 4h3m10-3h3m-95 7h3m-2 0h3m6 2h3m0 1h3m1-5h3m1 0h3m-1 5h3m-2-4h3m-2 3h3m-1 0h3m-1-3h3m-2 4h3m-3-4h3m1 2h3m0-1h3m-3-1h3m2 4h3m-2 0h3m-3-4h3m-1 3h3m2-3h3m-2 3h3m-2 0h3m-3 0h3m-3-3h3m0 2h3m-1 1h3m-2 0h3m2-1h3m9 0h3m-121 5h3m45-1h3m0-1h3m2 3h3m-1-2h3m1 3h3m-2 0h3m-2-4h3m-1 3h3m-2 2h3m0-4h3m-1 2h3m-2-1h3m-2-2h3m-3 1h3m-1 1h3m-2-2h3m-2 2h3m-3-2h3m-2 3h3m-3-1h3m-2 2h3m-3 1h3m-3-1h3m-3-1h3m-2 0h3m-3 0h3m-2 2h3m-2-4h3m-1 3h3m-3-2h3m-1 0h3m-1 2h3m-3-2h3m-3 1h3m-1 2h3m-2 0h3m-2 0h3m-3-2h3m1 2h3m-1-5h3m0 5h3m-1-2h3m0-3h3m2 4h3m4-4h3m-2 5h3m5-2h3m9 0h3m-112 6h3m7-2h3m0 3h3m5-4h3m4 3h3m-2 2h3m-1 0h3m-2 0h3m1-5h3m-2 0h3m-3 2h3m-2 1h3m-2 0h3m-1 0h3m-1 0h3m-2-3h3m-1 0h3m-3 5h3m-2-2h3m-1 2h3m-3-2h3m-3-2h3m-2 1h3m-3-1h3m-2-1h3m-3 1h3m-1 4h3m0-2h3m-2 0h3m-3 0h3m-1 1h3m-3 1h3m0-1h3m-3 1h3m-3-3h3m-2 0h3m-2 3h3m-2-4h3m0 4h3m0-3h3m-1-2h3m0 0h3m-109 7h3m12 2h3m12 2h3m1-1h3m-2-1h3m4 1h3m0-1h3m1-3h3m0 1h3m-2 2h3m-3-1h3m-1-1h3m-3 4h3m-1-1h3m-3-1h3m-2 0h3m-2-1h3m1-2h3m-3 3h3m-3 1h3m-3-4h3m-2 0h3m-3 5h3m-1-3h3m-1-2h3m-3 0h3m-3 4h3m1 0h3m-2-1h3m-2 2h3m-2-3h3m-2 0h3m-3 2h3m-3 0h3m-2-4h3m0 5h3m-1-3h3m-3 0h3m-3 2h3m-2-1h3m-3 0h3m-2 2h3m-3-2h3m-3 1h3m-2 0h3m-2-1h3m-3 2h3m1-2h3m-2 2h3m2-2h3m1-1h3m-3 1h3m-2-3h3m2 4h3m-2 1h3m-1 0h3m0-5h3m-115 10h3m-3-3h3m-3 3h3m14-2h3m15 1h3m0 1h3m-2-4h3m0 1h3m-2 1h3m-1 3h3m0-1h3m-3 1h3m-3-1h3m-2-1h3m-2-3h3m0 2h3m-2 1h3m-2-3h3m-2 0h3m-3 5h3m-2-3h3m-2 1h3m-2-3h3m-3 5h3m-3-1h3m-2-3h3m-2 0h3m-2 0h3m-2 4h3m-3-2h3m-1 1h3m-3-1h3m-2-2h3m0 2h3m-3-2h3m-2 4h3m-2-4h3m-3 2h3m-3 0h3m-2 0h3m-2-1h3m-2 3h3m-3-2h3m-1 0h3m-2 2h3m0-5h3m-2 0h3m-2 3h3m-3 0h3m-3 0h3m1 2h3m-3-1h3m-2-4h3m-1 2h3m-1 0h3m-2 2h3m-2-3h3m-2-1h3m0 3h3m-2-3h3m-1 4h3m4 0h3m48 0h3m-161 6h3m-3-1h3m-2 1h3m22-4h3m0 5h3m-2-2h3m0 0h3m-3-1h3m-3 3h3m0-3h3m-2 3h3m-1 0h3m-1-1h3m-2-2h3m-3 3h3m2-3h3m-2 2h3m-1 1h3m-3-5h3m-2 5h3m-3-3h3m-2-2h3m-2 0h3m-3 0h3m-1 5h3m-3-2h3m-3 0h3m-1 1h3m-3 0h3m-2 1h3m-2 0h3m-3 0h3m-2-3h3m-2 1h3m-3-1h3m-2 1h3m-3 1h3m1-4h3m-3 5h3m-2-3h3m-3 3h3m-3-2h3m-2-1h3m-2 2h3m-3-3h3m-2 4h3m-3-3h3m-3 2h3m-2-3h3m-1 0h3m-3 0h3m-2 2h3m-3-3h3m-3 2h3m-2 3h3m-3-5h3m-3 2h3m-2 1h3m-2 1h3m-1 1h3m-3-3h3m-1-2h3m-2 5h3m0-1h3m-2-1h3m-3-2h3m-1 2h3m-3-3h3m-2 3h3m-2 0h3m-2-1h3m-3 3h3m-2-2h3m-2 2h3m-1-4h3m-2 2h3m-3 1h3m-3 0h3m-1 1h3m-3-3h3m-1 0h3m2-2h3m0 3h3m3-1h3m0-2h3m-2 4h3m46-3h3m-170 6h3m-2 2h3m-3-3h3m16 2h3m1-1h3m3 2h3m-3-1h3m-1 3h3m-2-3h3m-2 0h3m-2 1h3m-1 2h3m-2-5h3m0 4h3m-2 0h3m-3 1h3m-3-1h3m-1 1h3m-3-4h3m-3 3h3m-1-2h3m-2 2h3m-2-4h3m-3 5h3m-3-2h3m0-3h3m-2 1h3m-3 4h3m-3-2h3m1-2h3m-2 0h3m-3 4h3m-2-4h3m-3 3h3m-1-3h3m-3 0h3m-3 2h3m-3 0h3m0 1h3m-3-3h3m-1 4h3m-3 0h3m-2-5h3m-2 5h3m-3-3h3m-3 3h3m-2 0h3m-3-2h3m-3 2h3m-1-5h3m-2 3h3m-2-1h3m-3 0h3m-2 3h3m-2-5h3m-3 2h3m-3-1h3m-2 4h3m-2 0h3m-2 0h3m-3-2h3m-1-3h3m-3 1h3m-3 0h3m-2 4h3m-3 0h3m-1 0h3m-3-2h3m-3-3h3m-2 5h3m-2-4h3m-3 1h3m-3-1h3m-3 3h3m-1 1h3m-3-3h3m0 3h3m0-3h3m-3 1h3m-3 0h3m-2 2h3m0-1h3m8-1h3m-2 0h3m-112 4h3m-2 3h3m-3 0h3m-3 1h3m-3-5h3m-2 1h3m-3 2h3m10 0h3m-1-3h3m3 5h3m-1-3h3m2-1h3m1-1h3m-1 2h3m-3-1h3m-2-1h3m-2 2h3m-1 2h3m-2 1h3m-3-1h3m0-4h3m-1 1h3m-3-1h3m-2 1h3m-3 4h3m-3-1h3m-3-1h3m-2-3h3m-2 1h3m-3 4h3m-3-4h3m-2 3h3m-3-1h3m-3-1h3m-2 0h3m-2-2h3m-2 4h3m-2 0h3m-2-3h3m-3 4h3m-2 0h3m-2-2h3m-3-2h3m-3 3h3m-2 1h3m-3-5h3m-2 4h3m-3 1h3m-3-2h3m-2-1h3m-2 1h3m-3 1h3m-2-1h3m-2-3h3m-3 4h3m-2-2h3m-2 2h3m-2-2h3m-3-1h3m-3 1h3m-2-2h3m-2 3h3m-3-2h3m-3 4h3m-2-5h3m-2 1h3m-2 0h3m-3-1h3m-3 2h3m-3 2h3m-2-1h3m-3-1h3m-2 2h3m-3 0h3m-3-1h3m-2-3h3m-3 2h3m-3 0h3m-3-1h3m-2 3h3m-2-1h3m-3 2h3m-3-5h3m0 2h3m0-2h3m-2 5h3m-3-5h3m-2 2h3m-3 1h3m-3-2h3m-3 4h3m-3-1h3m-2-3h3m1 1h3m-1-2h3m1 3h3m-2 1h3m-3-2h3m-1-1h3m1 0h3m4-1h3m-112 11h3m-2-4h3m-3 4h3m-2-2h3m-3 0h3m7 2h3m-1-1h3m-2-1h3m-2-3h3m6 1h3m0 4h3m-2-2h3m0 2h3m-3 0h3m-1 0h3m-2-2h3m-1 1h3m-2 1h3m-2-4h3m-2-1h3m-2 4h3m-3-4h3m-3 2h3m-2 0h3m-3-2h3m-3 5h3m-2-2h3m0-3h3m-3 4h3m-3 0h3m0 0h3m-3-4h3m-3 4h3m-2-2h3m-2 3h3m-1-1h3m-2-3h3m-3-1h3m-1 4h3m-2-4h3m-3 5h3m-2-4h3m-2 2h3m-3 1h3m0-2h3m-2 3h3m-3 0h3m-3-5h3m-2 3h3m-2 1h3m-2 0h3m-3 0h3m-2-2h3m-3 2h3m-1-1h3m-1 0h3m-2 0h3m-3-3h3m-2 3h3m1 0h3m-2-2h3m-1 3h3m-2 1h3m-3 0h3m-3-3h3m-2-1h3m-2 3h3m-3-1h3m-2 0h3m0-3h3m-1 5h3m-2-5h3m-2 5h3m-2-3h3m-1-1h3m-3 1h3m9-2h3m1 2h3m-112 8h3m-3 1h3m21-4h3m-3 1h3m-1 0h3m-3 3h3m-3-1h3m2 1h3m0-1h3m-3 1h3m-2-2h3m-3-3h3m-1 2h3m-2 2h3m-2-4h3m-1 3h3m0 1h3m-1-1h3m-3 2h3m-2 0h3m-2-2h3m-2 0h3m-2-1h3m-3 2h3m-3-3h3m-3 2h3m-2-3h3m-2 0h3m-2 0h3m-3 3h3m-3 0h3m-3 2h3m-1-2h3m-3 2h3m-1-2h3m1 2h3m-3-1h3m-2-1h3m-3-1h3m-2 2h3m-3-1h3m-2-3h3m-2 4h3m-1-4h3m-2 5h3m-3-5h3m-2 2h3m-2 0h3m-3-1h3m-1 2h3m-2-3h3m1 2h3m0 1h3m-3 1h3m-3-1h3m-2 2h3m-3 0h3m-2-2h3m-3 0h3m8-2h3m-1 4h3m12-3h3m39 1h3m-155 5h3m3 1h3m6 1h3m-2-1h3m0-3h3m-1 3h3m-1 2h3m0-4h3m0 2h3m-3-1h3m-2-2h3m-2 3h3m-2 0h3m1-2h3m-1 1h3m-3 1h3m-2-1h3m-2 2h3m-3-1h3m-2-2h3m-3 4h3m-2-5h3m-2 1h3m-1 2h3m-3 2h3m-2-2h3m-3-3h3m-2 5h3m-2-5h3m-2 1h3m-2 2h3m-3-2h3m-1 3h3m-3-1h3m-3-1h3m-2 3h3m-2-1h3m-1-4h3m-2 2h3m-2-1h3m-3 3h3m-3 1h3m-2-2h3m-2 0h3m-2 0h3m0-1h3m1 0h3m-3 3h3m-2-2h3m1 0h3m-2-3h3m-3 0h3m-2 5h3m-3 0h3m-2-5h3m-2 3h3m1-3h3m0 1h3m-3 4h3m-87 6h3m-2-5h3m4 4h3m4-4h3m3 3h3m0 2h3m-1 0h3m-2-3h3m-2 2h3m-2-3h3m-3 3h3m-2 0h3m-3-2h3m-3 1h3m-1-1h3m-2 2h3m-1-4h3m-2 1h3m-3 3h3m-2-4h3m0 4h3m-2-4h3m-1 3h3m-1-2h3m-2-1h3m-2 2h3m-3-1h3m-2-1h3m-1 5h3m-3-2h3m-2 1h3m-1-3h3m-3 1h3m-2 3h3m-2-4h3m1 1h3m-1 0h3m-2 1h3m-3 2h3m-3 0h3m-2-1h3m-1-1h3m-3-2h3m-3 4h3m-2-2h3m2-2h3m-2 2h3m-2-1h3m-2-1h3m-2 1h3m-3-1h3m-1 1h3m4 0h3m-88 6h3m-2 3h3m-3-5h3m-2 4h3m-1 1h3m7 0h3m1-5h3m0 5h3m7 0h3m-2-4h3m-2 3h3m-2 1h3m-2-4h3m-3-1h3m-2 2h3m-2 3h3m1-3h3m-1 0h3m-2-2h3m-2 1h3m-1 3h3m-1-1h3m-1 2h3m-2-4h3m-3 0h3m-2-1h3m-1 0h3m-2 5h3m-3-5h3m-2 4h3m-2-2h3m1 1h3m-2 0h3m-3 2h3m0-4h3m2 3h3m-1 0h3m-2-2h3m5 2h3m3-4h3m-91 7h3m-2 1h3m-2 2h3m-3-3h3m12 2h3m-3 2h3m-2-1h3m5-1h3m2 1h3m-2-3h3m-2 1h3m0 3h3m-1-3h3m-2 2h3m2-1h3m-1-2h3m-2 1h3m-2 2h3m-3 1h3m-3-2h3m2-2h3m-3 3h3m3-3h3m1-1h3m2 5h3m-3 0h3m4-4h3m-1-1h3m1 4h3m78-4h3m16 3h3m-2-3h3m-183 9h3m6-3h3m4 2h3m-2 2h3m2-3h3m0 2h3m1-3h3m-2 1h3m-2 0h3m2 2h3m-1-3h3m-3 1h3m0-1h3m3 3h3m-3-2h3m3 4h3m-3-3h3m10-2h3m123 5h3m-187 1h3m1 3h3m3-3h3m7 1h3m-3 1h3m3 2h3m1-4h3m-2 2h3m0 0h3m-3-2h3m4 0h3m4 0h3m5 0h3m-61 8h3m6 3h3m-2-2h3m10-2h3m-1 2h3m-1-2h3m6 0h3m2 1h3m12 1h3m5-2h3m-54 8h3m8 0h3m3-1h3m18 2h3m-55 5h3m12 1h3m27-4h3m-36 11h3m4-2h3m5 1h3m1-2h3m119 6h3m38-1h3m-43 5h3m-126 6h3m-1 4h3m103 10h3" stroke="#ff0000" stroke-width="3" stroke-opacity="0.6" fill="none"/>
<path transform="scale(.5)" d="M132 525h3m-2 1h3m4 11h3m-29 8h3m7-5h3m33 2h3m4-2h3m7 0h3m2 3h3m-53 6h3m2 0h3m1-1h3m2 1h3m0 1h3m5 1h3m-2-4h3m0 2h3m4 2h3m-52 2h3m0-1h3m13 0h3m0 0h3m5 4h3m-2-3h3m2-1h3m4 3h3m3-3h3m-2 3h3m-56 4h3m-1-1h3m6 0h3m-3 0h3m-3 2h3m-1-2h3m3 0h3m-2 5h3m-1-5h3m-3 4h3m-1 1h3m-1 0h3m3 0h3m-2-1h3m-3-3h3m-3 0h3m-1 3h3m-3-2h3m-2-2h3m1 0h3m2 1h3m5 3h3m6-4h3m-80 10h3m5 1h3m2 0h3m-3 0h3m4-4h3m-3 4h3m-3-4h3m6 0h3m-1 2h3m-3 2h3m-2-5h3m-1 4h3m-1 0h3m0 0h3m-3 1h3m-2-1h3m-2-2h3m-2-1h3m-3-1h3m-3 4h3m-2 0h3m-2-3h3m4 4h3m1 0h3m-3-5h3m4 5h3m-1-2h3m7 0h3m-123 8h3m33-1h3m3-1h3m9-3h3m-3 2h3m3 2h3m-2-2h3m-2-2h3m1 2h3m-2-2h3m-1 3h3m1 0h3m1 2h3m-3-1h3m-1-3h3m2 0h3m-2-1h3m-1 0h3m-3 2h3m-2 3h3m-2 0h3m-2-2h3m-2-3h3m0 2h3m-1 1h3m-2-3h3m-1 3h3m-3 1h3m2-3h3m-2 1h3m2 3h3m-3-1h3m3-3h3m-96 8h3m15-3h3m1 1h3m-2 4h3m1-1h3m-3 0h3m-3-3h3m-2 0h3m0 4h3m-1-1h3m-3-1h3m-3 0h3m-2-2h3m-2-1h3m-1 4h3m0 0h3m-2 0h3m-2-4h3m-2 1h3m-2-1h3m-3 0h3m1 5h3m-2-1h3m-3 0h3m0-3h3m-2 1h3m-3-1h3m-3-1h3m-2 0h3m-2 0h3m-3 0h3m-1 4h3m-2-3h3m-2 0h3m-3-1h3m-2 5h3m-2 0h3m-2-5h3m-2 5h3m-1-3h3m-3-2h3m0 5h3m-3 0h3m-2-5h3m-2 3h3m-2 0h3m-3-1h3m0-1h3m-3 2h3m-1 1h3m-1 0h3m-3-4h3m-1 2h3m-1 3h3m-2-1h3m1 1h3m-1-1h3m2 1h3m-2-1h3m-95 7h3m-1 0h3m-2-3h3m15 2h3m-2-3h3m-2 4h3m-2-2h3m-3-1h3m1 1h3m-2 2h3m-2 0h3m-3-1h3m-3-1h3m-2-1h3m-3 1h3m-2 0h3m-3-2h3m-2 2h3m-2 1h3m-2-3h3m-2 3h3m-3 1h3m-2-3h3m-2-1h3m-2 1h3m-3 2h3m-3-4h3m-2 0h3m-3 0h3m-2 5h3m-3 0h3m-3-1h3m-2 1h3m-3 0h3m-3-4h3m-1 2h3m-2 0h3m-3-1h3m-2 3h3m-2-2h3m-3 1h3m-2-1h3m-2 1h3m-2-4h3m-3 2h3m-3 1h3m-3-2h3m-2 4h3m-3-4h3m-3-1h3m-2 3h3m-3-2h3m-2 4h3m-3-1h3m-3-2h3m-2 2h3m-3 1h3m-1-2h3m-2-3h3m-3 2h3m-2 3h3m-3-2h3m-2-2h3m-3 3h3m-1 1h3m-2 0h3m-3-5h3m-1 0h3m-2 1h3m-3 2h3m-2 0h3m-2-3h3m-3 5h3m3 0h3m-1-4h3m5 0h3m1 1h3m-86 8h3m3 0h3m1-2h3m-2 1h3m-2-1h3m-2-1h3m-3 4h3m-2-2h3m-1 2h3m-2-5h3m3 5h3m-3-2h3m-2 1h3m-2-3h3m-3 1h3m-2-1h3m-2 2h3m-3 1h3m-2-4h3m-2 4h3m-3-3h3m-3 4h3m0-5h3m-3 5h3m-3-4h3m-2 4h3m-2-3h3m-3 3h3m-1-2h3m-2 2h3m-2-2h3m-2-1h3m-3-1h3m-3 1h3m-3 0h3m-2-2h3m-3 0h3m-3 4h3m-3 0h3m-3-1h3m-2-2h3m-3 2h3m-3 2h3m-2-3h3m-3 1h3m0 0h3m-3-3h3m-2 4h3m-3-3h3m-2 2h3m-3 2h3m-2-4h3m-3 0h3m-3 3h3m-1 0h3m-2-3h3m-3 4h3m-2-1h3m-2 1h3m-2-4h3m-2-1h3m-1 2h3m-1 0h3m-2 0h3m-3-2h3m-2 1h3m5-1h3m-2 3h3m4-3h3m-2 4h3m1 1h3m-116 5h3m-2 1h3m26-3h3m-2 0h3m-1 1h3m-2 1h3m-3 0h3m-2-2h3m-3 2h3m5-4h3m-3 2h3m0 3h3m-2-2h3m-3 0h3m-3-2h3m-2-1h3m-3 2h3m-2 0h3m1 1h3m-3-1h3m-3-1h3m-2 3h3m-3-1h3m-2 2h3m-3-1h3m-2-1h3m-3 1h3m-2-2h3m-2 2h3m-2 0h3m-3 0h3m-3-4h3m-2 5h3m-3-2h3m-2 1h3m-2-3h3m-2 2h3m-2 2h3m-3 0h3m-2-4h3m-3 3h3m-2 0h3m-3-2h3m-3 2h3m-3 1h3m-2-1h3m-2-1h3m-3 1h3m-3-1h3m-2 2h3m-2-2h3m-2 0h3m-3-2h3m-3 2h3m0-1h3m-3 3h3m-3-5h3m-2 2h3m-3 1h3m-3 2h3m-2 0h3m-3-3h3m-2 3h3m-3-2h3m-3 0h3m-1 1h3m-3-3h3m-2 0h3m-3 0h3m-2 0h3m-2 2h3m-3-1h3m-3 3h3m-3-1h3m-2-3h3m-2 1h3m-2-1h3m-2-1h3m-3 5h3m-3-1h3m-2 1h3m-2-3h3m-2 3h3m-2-2h3m-3 0h3m0-2h3m-2 3h3m-3 0h3m0-3h3m-2 2h3m2 2h3m-1-3h3m-2 0h3m3 0h3m-2-2h3m1 2h3m-2 1h3m-121 8h3m-2-4h3m-2 1h3m9 0h3m6 0h3m6-2h3m-2 4h3m0-2h3m0-1h3m-2-1h3m-3 4h3m-1-2h3m-3-1h3m-2 3h3m-3-4h3m-2 2h3m-2 2h3m-2 1h3m-3-1h3m-3-1h3m-2-3h3m-3 3h3m-2-1h3m-3 3h3m-2 0h3m-3 0h3m-3-1h3m-2-2h3m-3 2h3m-2 1h3m-3-3h3m-3 1h3m-3-3h3m-2 3h3m-3 2h3m-2-1h3m-3 1h3m-2-5h3m0 4h3m-3 0h3m-2-1h3m-3 1h3m-3-3h3m-3 0h3m-2 0h3m-3 3h3m-2 1h3m-3-2h3m-2-3h3m-2 4h3m-2-4h3m-3 5h3m-3-4h3m-2 0h3m-3 3h3m-3-2h3m-2 0h3m-3 0h3m-2 1h3m-3-3h3m-3 2h3m-3 2h3m-2-3h3m-2 4h3m-2-5h3m-3 0h3m-3 3h3m-3-1h3m-3 1h3m-2 0h3m-2 0h3m-3-2h3m-3 2h3m-3-1h3m-3 2h3m-3-2h3m-3 2h3m-3-2h3m-2-2h3m-3 1h3m-2 4h3m-2-1h3m-2-1h3m-2-2h3m-3-1h3m-2 4h3m-2 1h3m-2-3h3m-3 3h3m-1-4h3m-2 3h3m-2-2h3m-3 1h3m1 2h3m-3-4h3m-1 0h3m-2-1h3m-3 3h3m-3 1h3m-2-1h3m-3-1h3m-2 2h3m-3-3h3m1 4h3m-1-5h3m-1 0h3m-3 0h3m-1 3h3m-1-3h3m-107 10h3m-3-2h3m-3-1h3m-2 3h3m-3 0h3m-2 1h3m5-1h3m10-1h3m1-2h3m4 4h3m-3 0h3m-2-5h3m-2 3h3m-3-3h3m2 3h3m-2-2h3m-2 2h3m-2-1h3m-3-1h3m-1 2h3m-2 2h3m-1-3h3m-1-2h3m-2 3h3m-3-1h3m-3-2h3m-1 3h3m-3 1h3m-3-1h3m-2 1h3m-2-4h3m-2 5h3m-3-3h3m-2 1h3m-3-2h3m-3 1h3m-2 3h3m-3-5h3m-2 4h3m-3 1h3m-3-2h3m-2 2h3m-2-4h3m-3 3h3m-2-3h3m-1 2h3m-2 1h3m-2 0h3m-3-4h3m-3 1h3m-3 0h3m-2-1h3m-3 5h3m-3 0h3m1-5h3m-3 5h3m-2-3h3m-3-1h3m-2-1h3m-3 5h3m-1-4h3m-3 4h3m-2-1h3m-2-2h3m-3-1h3m-2 3h3m-3-3h3m-2 1h3m-2 1h3m-3-3h3m1 4h3m-2-2h3m1 3h3m0-2h3m-3-1h3m-2 3h3m-1-5h3m-2 5h3m-1-4h3m5 4h3m-109 3h3m-2 0h3m18 1h3m-3 1h3m-1-2h3m-1-1h3m-2 4h3m-2-1h3m0-3h3m-2 1h3m-3-1h3m0 2h3m-2-1h3m-2 2h3m-3-3h3m-3 4h3m-2-2h3m-2 0h3m-2 2h3m-3-4h3m-2 0h3m-3 1h3m-2-1h3m-2-1h3m-3 0h3m-2 4h3m-3-2h3m-3 0h3m-2-2h3m-3 3h3m-3 0h3m-3-2h3m-2-1h3m-2 2h3m-2-2h3m-3 3h3m-3 0h3m-2 2h3m-3-2h3m-2 1h3m-3-1h3m-2 0h3m-2-1h3m-3 1h3m-3-3h3m-2 3h3m-3-3h3m-1 5h3m-3-2h3m-2 1h3m-1-1h3m-3 2h3m-2-4h3m-3 4h3m-2-4h3m-3 4h3m-2-2h3m-3 1h3m-2-4h3m-1 5h3m-3 0h3m-3-5h3m-3 4h3m-2-2h3m-3 3h3m0-1h3m-3 1h3m-3-2h3m-3 2h3m-3-4h3m-3-1h3m-1 0h3m-1 5h3m-1-4h3m-2 1h3m1-1h3m-3-1h3m-3 4h3m-1-2h3m-2 1h3m-2-2h3m-1 3h3m-2-4h3m7 1h3m-2 3h3m0 1h3m9-3h3m0 2h3m59-4h3m-180 6h3m13 4h3m0 0h3m-1 0h3m-2 0h3m-1-1h3m-2-3h3m-3 3h3m-2-1h3m-1-2h3m-1 5h3m-2 0h3m-1-2h3m-3-2h3m-3 3h3m-2-2h3m-2 2h3m-3-4h3m-3 3h3m-2 1h3m1 0h3m-2-1h3m-2 2h3m-2-5h3m-2 1h3m-3 4h3m-3-3h3m-2 3h3m-2 0h3m-2-3h3m-2 2h3m-2-1h3m-3-3h3m-1 0h3m-1 3h3m-1-1h3m-3 1h3m-2-3h3m-2 0h3m-2 3h3m-2-3h3m-2 3h3m-3 0h3m-3-1h3m-3 0h3m-2 2h3m-3-3h3m-3 0h3m-1 0h3m-3 3h3m-2-2h3m-3-1h3m-3 2h3m-1-3h3m-3 2h3m-3-2h3m-1 5h3m-1-3h3m-3 3h3m-2-4h3m-1-1h3m-3 2h3m-2 1h3m-3 1h3m2-3h3m-2 2h3m2 0h3m-2-2h3m-1 2h3m6-2h3m9-1h3m35 5h3m4-3h3m-158 9h3m-2-2h3m-3-2h3m-3 2h3m9-2h3m-1 3h3m-1-3h3m-3-1h3m-1 0h3m-1 0h3m-2 0h3m-3 4h3m-2-4h3m-2 3h3m2 0h3m-1-1h3m-1 3h3m-2-5h3m-3 4h3m1-4h3m-2 3h3m-3-1h3m-2 0h3m-3 2h3m-2-2h3m2-1h3m-3-1h3m-2 2h3m-2 2h3m-1 0h3m-3 0h3m-3 0h3m-1-2h3m-3-2h3m-2 1h3m-3 1h3m0 0h3m-3 1h3m-2-2h3m-3 4h3m-2-2h3m-2 2h3m-3-2h3m-2-3h3m-2 1h3m-3 1h3m-3 0h3m-2 3h3m-3 0h3m-2-2h3m-2 2h3m-3-5h3m-2 0h3m1 4h3m-2 0h3m-2 0h3m-3-3h3m-2 4h3m-2-2h3m-1-2h3m-2 1h3m-3 2h3m0 0h3m-2-3h3m8 2h3m2-2h3m7 1h3m-107 6h3m3 3h3m-2 0h3m-1-2h3m10 2h3m-3-1h3m-2 0h3m3-3h3m-3 4h3m-2-2h3m-3 0h3m-3 0h3m-2 1h3m-2 0h3m-2-2h3m-3 0h3m0-1h3m-3 2h3m-2-3h3m-1 1h3m-1 2h3m-3-2h3m-2 2h3m-3-1h3m-1 1h3m0-1h3m-3-2h3m-1 1h3m-2 4h3m-3 0h3m-3-3h3m-2-2h3m-2 5h3m-1-4h3m-3 0h3m-2 3h3m0 1h3m1-3h3m-2 3h3m-3-5h3m-1 2h3m-3-2h3m-1 3h3m0 2h3m-3-3h3m4 1h3m0-2h3m2 3h3m14 0h3m17-3h3m71 2h3m-201 3h3m-3 4h3m-1 1h3m2 0h3m1-5h3m9 5h3m-1-2h3m2-2h3m-1 2h3m0-1h3m-1 1h3m1-2h3m-2 3h3m-1-2h3m-1 3h3m1-4h3m-3-1h3m-2 5h3m-2-4h3m-3-1h3m-1 1h3m-2 2h3m-3-1h3m-1-1h3m1 3h3m-3-4h3m0 3h3m-2-2h3m5 0h3m-1 2h3m16 2h3m21-4h3m39 1h3m13-1h3m-170 5h3m-2 3h3m-2 2h3m4 0h3m7-5h3m0 0h3m-2 3h3m1-3h3m2 1h3m0 2h3m-2 1h3m3 0h3m-1 1h3m-1-4h3m1 4h3m-1-3h3m32-2h3m36 3h3m5-1h3m7-2h3m-150 8h3m1 3h3m0-3h3m12-1h3m-1-1h3m-3 5h3m3-3h3m-2 3h3m-2-5h3m-1 2h3m-1 0h3m13 0h3m5-1h3m-2 1h3m-3-1h3m15 3h3m60-1h3m7-2h3m-160 5h3m3 4h3m-1-3h3m11-1h3m0 4h3m-1 1h3m-3-2h3m2 2h3m-1-2h3m-3-1h3m1-1h3m1 0h3m6-1h3m-2 1h3m83 0h3m9 2h3m15 0h3m-171 6h3m17 1h3m-23 3h3m5 2h3m48 2h3m-60 4h3m10-3h3m-2 4h3m2 1h3m149-2h3m-173 14h3m159-4h3m12-1h3m-28 25h3" stroke="#ff0000" stroke-width="3" stroke-opacity="0.6" fill="none"/>
<path transform="scale(.5)" d="M181 532h3m-36 4h3m6 3h3m-61 3h3m18 0h3m10 3h3m2-1h3m-1 1h3m16 0h3m6-4h3m13 0h3m-51 9h3m2-1h3m-1-1h3m9 1h3m0 1h3m0-4h3m4 1h3m-42 7h3m4 1h3m-2 2h3m-3-4h3m0 2h3m-2-1h3m0-1h3m-1 3h3m-3-2h3m-1-2h3m-2 4h3m-1 1h3m-2-4h3m-3 1h3m0 3h3m0-3h3m19-2h3m-70 10h3m8 1h3m0-5h3m-3 4h3m0-2h3m-1 0h3m-3-2h3m-2 0h3m-1 2h3m-3 1h3m-2-2h3m-1 0h3m-1 4h3m-2-3h3m0-2h3m-2 0h3m-1 1h3m-2 3h3m4 1h3m1-3h3m2-2h3m-81 10h3m29-4h3m-2 0h3m0 4h3m-1 1h3m0-1h3m-1 0h3m-1-4h3m-2 0h3m1 4h3m-2 1h3m-1-5h3m-2 3h3m-3-2h3m-1 4h3m1 0h3m-3-2h3m-2 1h3m-3-3h3m-2 4h3m-2-1h3m-2 0h3m-2 0h3m-2-1h3m-3-1h3m-2 1h3m-3-2h3m-3 3h3m-2 0h3m-3-2h3m-2 1h3m-3 0h3m2 0h3m-1-2h3m-110 6h3m28-1h3m5 3h3m-3-1h3m-1-1h3m1-1h3m1 3h3m0 2h3m-3-5h3m0 5h3m5-2h3m1-2h3m-1 0h3m-3 2h3m-3-3h3m-3 5h3m-1-3h3m-3 2h3m0 1h3m-2-4h3m-3 3h3m2-2h3m-2 2h3m-3-1h3m-3-3h3m2 4h3m-1-3h3m-2-1h3m-2 0h3m-3 1h3m-2-1h3m3 3h3m-3-2h3m0 0h3m1 1h3m3 1h3m-2-2h3m-1 4h3m3-2h3m-122 8h3m35-2h3m7-1h3m1 0h3m5 3h3m-3-1h3m-1-4h3m-2 3h3m0 2h3m-3 0h3m-1-2h3m-2 2h3m-2-1h3m-3-2h3m-3-2h3m-3 1h3m-1 4h3m-3-1h3m-2 1h3m-3-1h3m-2-2h3m-3-1h3m0 0h3m-3 1h3m-1-1h3m-3 0h3m-2-1h3m-3 1h3m-2 0h3m-3-1h3m-2 4h3m-2-1h3m3 0h3m-3 2h3m0-5h3m-2 5h3m-1 0h3m-1-2h3m-1 0h3m-2 2h3m-1-3h3m-2 2h3m0-1h3m-1 0h3m-1 1h3m-1-3h3m3 0h3m25 2h3m-149 3h3m34 1h3m-2 0h3m1 3h3m-2-4h3m0 3h3m-2 1h3m-1-1h3m1 2h3m0-4h3m-2 1h3m0 0h3m-1 3h3m-3-3h3m-2 2h3m-3 1h3m-2-1h3m-2-4h3m-1 1h3m-3-1h3m-3 1h3m-2 4h3m-2 0h3m-2-4h3m-3 4h3m-2-2h3m-1 0h3m-3 2h3m-3-3h3m-3-1h3m-3 4h3m-1-1h3m-3 0h3m-1-2h3m-3 2h3m-2-1h3m-2 0h3m-3 0h3m-3-1h3m-3-2h3m-2 4h3m-3-1h3m-2 1h3m-3-3h3m-3 3h3m-3-3h3m-1 0h3m-3 2h3m-2 1h3m-2-1h3m-2 2h3m-3 0h3m-3-2h3m-3-3h3m-1 1h3m-3 2h3m-3-3h3m-1 5h3m-1-4h3m-2 4h3m0-1h3m-2-2h3m-1 3h3m4 0h3m5-3h3m-2 1h3m8-1h3m-129 7h3m20 0h3m7-2h3m-2-1h3m-2 4h3m0-1h3m2-1h3m0 1h3m-1 1h3m0-4h3m-1 5h3m1-2h3m-1 2h3m-2-5h3m-2 3h3m-2-2h3m-3 1h3m-2 2h3m-2-3h3m-3 3h3m-3 1h3m-1-2h3m-3 0h3m-2 2h3m-3-4h3m-3 1h3m0 1h3m-2 0h3m-2-2h3m-3-1h3m-3 0h3m-3 0h3m-3 4h3m0 1h3m-3 0h3m-3-5h3m-3 3h3m-3 0h3m-3-2h3m0 1h3m0 1h3m-3 0h3m-2 1h3m-3-2h3m-2-1h3m-3 3h3m-3-1h3m-3 2h3m-2-4h3m-2 4h3m-2-2h3m-3 0h3m2 1h3m-3 1h3m-1-3h3m-2 1h3m-2 2h3m-1 0h3m-2-3h3m0-1h3m-3 3h3m-2-2h3m-2 0h3m-106 4h3m-2 3h3m-3-1h3m13 2h3m2-1h3m8 1h3m-3-3h3m1 1h3m0 3h3m3 0h3m-3-5h3m-3 1h3m-3 4h3m-2-1h3m-3-1h3m-3-2h3m-2 1h3m-2-1h3m-3 3h3m-3-3h3m-2 3h3m-2-1h3m-3-3h3m-3 3h3m-3-1h3m-2 2h3m-1 0h3m-3 0h3m-2-2h3m-3 1h3m-2-1h3m-2-2h3m-2 0h3m-3 2h3m-2-1h3m-3 4h3m-2-5h3m0 0h3m-3 4h3m-3-2h3m-2 0h3m-2-2h3m-3 4h3m-3-2h3m-3 1h3m-2-1h3m-3 1h3m-3-2h3m-3-1h3m-2 2h3m-3 1h3m-2-1h3m-3-1h3m-3 0h3m-2 4h3m-2-3h3m-2-2h3m-2 0h3m-3 0h3m-2 5h3m-3-4h3m-3 0h3m-2 4h3m-2-3h3m-2-1h3m-2 0h3m-1 4h3m-3-2h3m-1-1h3m-3 3h3m-3 0h3m3 0h3m-3-4h3m-3-1h3m-2 4h3m-3-2h3m-3 2h3m-2 1h3m-3 0h3m-2-5h3m-1 0h3m-3 4h3m-2-3h3m-1-1h3m-2 1h3m-2 1h3m-3 0h3m-1-2h3m-2 1h3m-3 0h3m-1 3h3m0-3h3m-3 0h3m-2-1h3m4 3h3m-116 7h3m-3 1h3m-3-3h3m-2 1h3m11-1h3m1 1h3m-2 2h3m-1-4h3m5 0h3m-1 4h3m4 0h3m-2-2h3m-3 2h3m-3 0h3m-1-3h3m-3 0h3m-1 2h3m-2-1h3m-2-1h3m-2-1h3m-3 3h3m0-2h3m-3 2h3m-2-3h3m-2 4h3m-3-5h3m-2 0h3m-3 0h3m-2 0h3m-3 1h3m-2 0h3m-3-1h3m-2 3h3m-2-3h3m-3 3h3m-1 2h3m-2-1h3m-2-2h3m-3 2h3m-3 0h3m-3-3h3m-3 1h3m-1 1h3m-3 0h3m-2-3h3m-2 5h3m-3-1h3m-3-4h3m-3 1h3m-2-1h3m-3 2h3m-2 0h3m-3 3h3m-3-1h3m-2-4h3m-3 2h3m-3-2h3m-3 3h3m-3-1h3m-2-2h3m-3 0h3m-3 0h3m-2 4h3m-2-1h3m-2 1h3m-3-3h3m0 1h3m-2-1h3m-3 3h3m-3 1h3m-2-2h3m-2 2h3m-3 0h3m-3-3h3m-1 3h3m-1-2h3m-2-1h3m1 2h3m-3 0h3m-2 0h3m-2 0h3m-3-1h3m-1 1h3m-1-4h3m-2 2h3m2 1h3m9-1h3m11 1h3m-129 6h3m-2-2h3m-2-1h3m-3 4h3m8 0h3m5-3h3m8 3h3m-1-2h3m-2-2h3m-2 1h3m-3 4h3m-1-2h3m-2-1h3m-3 2h3m-3-4h3m-1 0h3m-3 4h3m-2-2h3m-3 0h3m-1 2h3m-3 1h3m-3-1h3m-2-4h3m-2 0h3m-3 2h3m-2-1h3m-3 0h3m-2 0h3m-3 3h3m1 0h3m-2-4h3m-3 1h3m-2 1h3m-3-1h3m-2 1h3m-3-2h3m-3 1h3m-3-1h3m-2 3h3m-3-2h3m-3 4h3m-2-4h3m-3 1h3m-3 0h3m-2-2h3m-2 2h3m-3 2h3m-3-3h3m-3 3h3m-3-2h3m-2-2h3m-3 5h3m-3-5h3m-2 4h3m-3 0h3m-3-1h3m-2 2h3m-2-1h3m-2 0h3m-3-4h3m-2 2h3m-2 2h3m-3-2h3m-2 1h3m-3-2h3m-3 2h3m-3 2h3m-2-4h3m-2 1h3m-3 3h3m1-4h3m-3 3h3m-2-4h3m-2 3h3m-3-2h3m-2 0h3m-3 0h3m-1 1h3m-3 1h3m-3-3h3m-1 5h3m-2 0h3m-2-4h3m-3 0h3m-2 1h3m-3-2h3m-2 5h3m-2-3h3m-1 2h3m-1-4h3m-2 2h3m2-1h3m-3 3h3m-1 1h3m0-2h3m-3-2h3m2 1h3m-3 1h3m2-1h3m2-1h3m2 2h3m9 1h3m28-3h3m-166 9h3m-1-1h3m8 2h3m1 0h3m2-1h3m4-4h3m-3 1h3m-2-1h3m-3 0h3m-3 0h3m-2 3h3m-2 1h3m-2 1h3m-1-1h3m-3-3h3m-2 4h3m-2-2h3m-2-1h3m-3 1h3m-2 1h3m-3-1h3m-2 1h3m-1-3h3m-1 1h3m-3 1h3m-3-1h3m-3 2h3m-2-2h3m-3 1h3m-3 0h3m-3 1h3m-2 0h3m-3 1h3m-2-5h3m-2 2h3m-2 1h3m-3 1h3m-2 1h3m0 0h3m-2-2h3m-3-1h3m-3-2h3m-3 2h3m-2 1h3m-3-2h3m-2 0h3m-1 3h3m-3-4h3m-3 5h3m-2-4h3m-3 3h3m-3 1h3m-2 0h3m-3-4h3m-3 0h3m-3 0h3m-3-1h3m-2 1h3m-3 1h3m-1 1h3m-3-1h3m-1-2h3m-3 2h3m-3 0h3m-2 1h3m-3 0h3m-2 1h3m-3-3h3m-1 1h3m-1 0h3m-1-2h3m0 3h3m-2-1h3m-1 0h3m-2 0h3m-2-1h3m-2 2h3m-1 0h3m-3 2h3m1-2h3m7-3h3m4 4h3m67-1h3m-178 6h3m-3-2h3m-3 4h3m-2-2h3m-3 1h3m14-3h3m-3 1h3m5-2h3m-1 5h3m-3-2h3m0-1h3m-1-2h3m0 0h3m-2 1h3m-3 0h3m-1-1h3m-2 3h3m-3 1h3m-2 0h3m0-3h3m-2 4h3m-2-4h3m-1 1h3m-2-2h3m-3 0h3m-3 3h3m-2 1h3m-1-4h3m-3 3h3m-2 1h3m-3-4h3m-2 2h3m-3 3h3m-2-3h3m-2-1h3m-3 0h3m-2 4h3m-3-5h3m-3 1h3m-2-1h3m0 1h3m-2 0h3m-1-1h3m-2 3h3m-2-3h3m-2 2h3m-2-2h3m-2 3h3m-3 1h3m-2-2h3m-3-1h3m-2 0h3m-2 1h3m1-1h3m-2 1h3m-1 3h3m-2-1h3m7 0h3m68-1h3m-162 4h3m-3-1h3m1 4h3m0-3h3m1 4h3m4-1h3m-2-3h3m2 4h3m-1-3h3m-1 0h3m1-1h3m-2 2h3m-3-3h3m-3 4h3m1-4h3m-1 3h3m-2-2h3m-2 4h3m-3-5h3m-3 4h3m-3-4h3m-2 5h3m0-4h3m-3 0h3m-2-1h3m-1 5h3m-3 0h3m-2 0h3m-3-5h3m-3 2h3m-3-2h3m-2 2h3m-2-1h3m-2 1h3m-3-2h3m2 2h3m-3 2h3m-2-2h3m-3 3h3m-2-5h3m-2 0h3m-3 3h3m-3-3h3m-2 5h3m-2-3h3m-2-1h3m-1 0h3m-2 3h3m-3-3h3m-1-1h3m-2 4h3m-3 1h3m-2 0h3m-2-5h3m-3 4h3m-3-3h3m-2 1h3m1-1h3m1 0h3m-3 3h3m-2-4h3m6 3h3m-1 0h3m-1-1h3m-98 7h3m-2 2h3m1-1h3m5-4h3m-2 2h3m0 2h3m-1 0h3m-1-4h3m0 4h3m0-4h3m0 0h3m-1 3h3m0-2h3m-2-1h3m-3 5h3m0-5h3m-3 1h3m-1 1h3m-3 3h3m-2 0h3m0-5h3m-3 4h3m-2-3h3m-2 3h3m-3 1h3m-2-1h3m-3 0h3m-3 0h3m-2-4h3m-1 2h3m-2 1h3m-3-3h3m-3 4h3m-2-2h3m-3 3h3m-2-1h3m-3-2h3m0 3h3m-2-5h3m0 3h3m-2-3h3m0 2h3m-2 3h3m0 0h3m0 0h3m-1-3h3m-2-1h3m-3 3h3m2-1h3m2 1h3m0-1h3m-2 2h3m0-2h3m64 2h3m-2-5h3m10 3h3m-177 5h3m12 1h3m11 2h3m-1-2h3m3-1h3m2-1h3m-2 4h3m-2-4h3m-3 2h3m2 1h3m-1-1h3m-3 1h3m-3-1h3m-2 1h3m-1-1h3m-3-2h3m2 3h3m-3-2h3m-1-1h3m-2 0h3m-2 2h3m-3 0h3m-2-2h3m-2 0h3m2 2h3m-2-1h3m0 0h3m-2-1h3m-2 3h3m3-3h3m-72 10h3m8 0h3m-1-5h3m-3 3h3m-1-2h3m-3-1h3m-2 4h3m1-4h3m-1 3h3m-1-1h3m0-1h3m-3 4h3m-1-4h3m-2 0h3m-2 1h3m-1-1h3m-3 2h3m-1 1h3m-2-1h3m4 2h3m-3-5h3m-2 4h3m3-4h3m2 1h3m-1 1h3m-71 8h3m-2 1h3m4-4h3m4 3h3m1-1h3m-1-3h3m2 5h3m4-4h3m-2 0h3m1 1h3m-2-1h3m2 3h3m0-1h3m-3-1h3m-3 2h3m-2-4h3m4 3h3m-1 1h3m3-2h3m1 1h3m-71 5h3m21-2h3m-2 1h3m15 4h3m-1-2h3m-2 0h3m-1 2h3m0-5h3m5 4h3m109 1h3m-173 2h3m11 4h3m0-4h3m-2-1h3m2 1h3m0 0h3m-3-1h3m9 2h3m-2 3h3m1 0h3m4-3h3m1-2h3m6 0h3m-66 6h3m17 4h3m-1 1h3m4-4h3m9 1h3m18-2h3m-64 10h3m0 0h3m7-3h3m9 2h3m4-3h3m9 3h3m-37 4h3m-2 3h3m3-4h3m25 4h3m6-3h3m5 0h3m119 0h3m-39 15h3m-8 15h3m47 11h3" stroke="#ff0000" stroke-width="3" stroke-opacity="0.6" fill="none"/>
</svg>
<svg x="227.6" y="241.4" width="153.20000000000002" height="165.20000000000002" viewBox="227.6 241.4 153.20000000000002 165.20000000000002" overflow="hidden">
<ellipse cx="323" cy="394" rx="18" ry="14" transform="rotate(0 323 394)" fill="#ff0000" opacity="1" filter="url(#b3)"/>
<path transform="scale(.5)" d="M596 561h3m28 20h3m17 5h3m-14 7h3m-20 2h3m16 0h3m9 3h3m23-1h3m-87 7h3m21-4h3m-2 5h3m51-5h3m-78 10h3m37 1h3m3-5h3m9 4h3m3-1h3m-56 8h3m0-1h3m-1-3h3m-2 1h3m3 2h3m9-4h3m-1 4h3m11 1h3m9-1h3m-24 2h3m0 0h3m-1 0h3m-1 3h3m0 1h3m-1-2h3m-1 1h3m2 2h3m-1 0h3m10-4h3m2 3h3m-79 7h3m8-2h3m5 1h3m-1-1h3m4 0h3m4 2h3m-2 0h3m-2-4h3m0 0h3m4 0h3m5 0h3m-73 9h3m14-4h3m19 2h3m22-1h3m13-1h3m-1 1h3m-98 9h3m27-3h3m-2 0h3m22 2h3m0-3h3m-2 5h3m-1-2h3m3 1h3m5-4h3m-1 1h3m8 0h3m3 0h3m7 0h3m-96 8h3m3-2h3m1 3h3m3 0h3m28-1h3m-2 1h3m-2-3h3m2-1h3m0 4h3m-3-4h3m7 4h3m-3-3h3m16 4h3m-2-1h3m18-1h3m-89 4h3m-2 0h3m1 1h3m2 0h3m11 3h3m-1-2h3m4-1h3m8 3h3m-3-5h3m3 4h3m-58 7h3m18 0h3m-1-5h3m-1 3h3m0-3h3m1 0h3m7 5h3m16 0h3m3-1h3m-87 4h3m23-2h3m14 1h3m1 4h3m1 0h3m19-1h3m1 1h3m-82 6h3m14-4h3m3 1h3m12-2h3m4 2h3m5 1h3m9-1h3m-1 2h3m10-3h3m3 2h3m-2-3h3m0 4h3m-1-2h3m-83 8h3m11 0h3m12-2h3m0 1h3m-3-3h3m16 3h3m0 1h3m8-3h3m10 4h3m4-2h3m12-2h3m-91 5h3m-1 1h3m-1 3h3m-1 0h3m6-4h3m-1 1h3m7 3h3m-1 0h3m-1 1h3m1 0h3m-2 0h3m0 0h3m8-1h3m2-4h3m17 0h3m18 4h3m-97 6h3m-1-1h3m10-3h3m-1 2h3m-2-2h3m1 0h3m1 1h3m0 4h3m4-1h3m1 0h3m2-1h3m-2-3h3m-2 5h3m-2 0h3m-1-4h3m17 4h3m-85 3h3m-1 3h3m7-4h3m-1 4h3m17-2h3m8-1h3m-2-1h3m32 2h3m-73 7h3m1-2h3m7 0h3m-3 1h3m-1-3h3m-2 5h3m-1 0h3m-1-2h3m-1 1h3m-3 1h3m10-3h3m-1-1h3m0-1h3m-2 2h3m1 0h3m1 3h3m-2 0h3m1-5h3m-71 10h3m2-2h3m2 1h3m2-2h3m0 2h3m0-1h3m0-2h3m0 0h3m-2 5h3m-3-4h3m5 3h3m-1 0h3m-2 1h3m-3-1h3m-3-2h3m2 2h3m-1-2h3m0 1h3m-1 2h3m1-3h3m-3-1h3m-1 1h3m-3-2h3m2 5h3m-3-3h3m-2-2h3m-3 4h3m0 0h3m-71 5h3m4-2h3m21 0h3m4 0h3m-2 0h3m-2-1h3m5 1h3m1 0h3m1 4h3m-3 0h3m3-4h3m2 4h3m0-1h3m-1-1h3m2 1h3m2-3h3m-2 4h3m-83 4h3m5 1h3m-2 0h3m-2-1h3m2 0h3m1-1h3m1 0h3m8 1h3m-1-3h3m-2 3h3m-3-2h3m1 3h3m2-2h3m-1-2h3m1 1h3m-1 0h3m-3 4h3m-2 0h3m-2-1h3m-2 0h3m2 1h3m-3-2h3m-3-3h3m2 3h3m2 1h3m19 0h3m-96 5h3m-1-3h3m8 5h3m-3-4h3m1 3h3m1-3h3m-1 0h3m-1 3h3m6-1h3m-2 2h3m-1-3h3m-1 0h3m10-2h3m13 0h3m-115 10h3m34 1h3m7-4h3m4 0h3m-1 3h3m0-3h3m1 2h3m1-2h3m2 2h3m-1-3h3m1 2h3m-2 1h3m7 0h3m-1-1h3m-2 3h3m1-2h3m-1 2h3m-2-1h3m-3 1h3m0-3h3m-3 3h3m-2 0h3m5-5h3m3 0h3m9 2h3m-3 2h3m29 1h3m-180 4h3m72 0h3m16-2h3m-2 0h3m-3 0h3m1-1h3m-1 5h3m-2-1h3m3-4h3m-3 2h3m-2 2h3m1-4h3m2 5h3m8-2h3m6 0h3m-1-1h3m7 2h3m17 0h3m-124 7h3m26-1h3m-1-2h3m0 1h3m-3 0h3m-3 2h3m-3-2h3m0 2h3m-3 0h3m-3-2h3m-2 1h3m-1 0h3m-2-1h3m-2-1h3m-1 2h3m-3-4h3m-2 5h3m1-5h3m-1 5h3m-3-2h3m-3 1h3m-2 0h3m-1-2h3m-3 1h3m-2-2h3m-1 4h3m0-3h3m-2 2h3m0-4h3m1 2h3m-2 0h3m-3-1h3m-3-1h3m0 4h3m6-2h3m-2 3h3m-2 0h3m5-3h3m0 0h3m10 2h3m-108 4h3m24 3h3m-3-4h3m-2 0h3m2-1h3m1 3h3m-3-1h3m-2-2h3m-3 5h3m-1 0h3m-1-1h3m-1 0h3m-1 0h3m-2-2h3m3 2h3m-2 1h3m-2 0h3m-1-1h3m-3 1h3m-2-4h3m-2-1h3m1 1h3m-3 1h3m-1 1h3m-2 0h3m-2-1h3m-2 0h3m-2-2h3m-3 0h3m1 1h3m-3-1h3m-2 2h3m-3 3h3m-3-3h3m0-1h3m-2-1h3m-3 2h3m0 1h3m-1 0h3m-2-3h3m0 3h3m0-3h3m8 2h3m1 2h3m0 1h3m8-1h3m-221 2h3m107 3h3m-3 2h3m-2-3h3m0 1h3m-1-3h3m7 2h3m-2 2h3m-2 0h3m1-2h3m-2 0h3m-2 3h3m-1-1h3m1-3h3m-3 3h3m-1-4h3m-3 1h3m-2 2h3m-2 2h3m-1-4h3m-1 0h3m0 0h3m-3-1h3m-3 4h3m-3-2h3m2 3h3m-3-4h3m-1 2h3m-3 1h3m4-1h3m-3-2h3m-2-1h3m-1 4h3m-1 1h3m0-2h3m-3 1h3m7-4h3m-1 3h3m-3-3h3m-3 5h3m-3-2h3m1 2h3m-2 0h3m-3-3h3m4 0h3m-2 0h3m-117 6h3m6 3h3m10-2h3m-3 0h3m0-1h3m1 1h3m4-3h3m1 3h3m-2-2h3m0 4h3m-3-2h3m-2 0h3m-2 2h3m-1 0h3m-2-5h3m0 0h3m-2 5h3m-1-3h3m-3-2h3m-3 5h3m1-5h3m-1 5h3m-2-3h3m-3 0h3m-3 2h3m-2 1h3m-2-3h3m-2 1h3m-2 1h3m-3 1h3m-1-5h3m-2 0h3m0 3h3m-2 1h3m-3 1h3m-3 0h3m-3 0h3m-2-3h3m3 3h3m-2-5h3m-1 5h3m-2-1h3m-3-2h3m-2 1h3m-2-3h3m4 4h3m-3-4h3m-2 1h3m-3 3h3m0 1h3m-2-3h3m1 3h3m-1-5h3m-3 4h3m-2-1h3m-2-2h3m-1 3h3m-1-3h3m3 1h3m-108 7h3m8-1h3m-2-2h3m7 5h3m2-4h3m-2-1h3m0 0h3m-3 0h3m-2 3h3m0-1h3m0 3h3m-3-5h3m-3 4h3m-2 0h3m-3-3h3m0-1h3m-1 5h3m-2-1h3m-3 0h3m0-1h3m-3 1h3m-2 0h3m-2-2h3m-2 3h3m-1-3h3m-3-2h3m-2 2h3m-2 0h3m-3 1h3m-3 2h3m-3-5h3m-2 1h3m-3 3h3m-1-3h3m-3 1h3m-2 2h3m-2 0h3m-3 1h3m-2-4h3m-3 2h3m-1-2h3m-3 1h3m-2 3h3m0-2h3m-2-3h3m0 3h3m-3-3h3m-2 0h3m-2 2h3m-3-1h3m-3 1h3m-3-2h3m-2 5h3m-3 0h3m-3 0h3m-2 0h3m-3-2h3m-2 0h3m-2 2h3m-3-2h3m-2-1h3m-3 2h3m-1 0h3m-3-3h3m-3 1h3m-3 2h3m-2 1h3m-3-3h3m0 3h3m-2-5h3m-2 4h3m-1-3h3m0 0h3m-1 1h3m-2 2h3m-2-2h3m2 3h3m7-3h3m1-2h3m9 1h3m-124 10h3m6-4h3m0 1h3m-3 2h3m4 1h3m-1-4h3m-3 4h3m-2-1h3m-1-2h3m0-1h3m-3 3h3m0-1h3m-2 1h3m-3-3h3m-3 4h3m-1 0h3m-2-1h3m-3-3h3m-3-1h3m0 2h3m-2 3h3m-1 0h3m-1 0h3m-2 0h3m-2-3h3m-3 3h3m-3 0h3m-2-3h3m-2-2h3m-2 1h3m-3 2h3m-2 1h3m-2-1h3m-2-3h3m-1 3h3m-1 0h3m-2 0h3m-3-3h3m-2 3h3m-3 2h3m-1-1h3m-2 1h3m-3-5h3m-2 2h3m-2 2h3m-1-2h3m-1 1h3m-1-3h3m-2 3h3m-1-2h3m0 4h3m-2-1h3m-2-2h3m-2 2h3m-1-3h3m-2 1h3m-1 3h3m-3-5h3m-2 4h3m-1-4h3m-1 5h3m-3-1h3m-3-1h3m-1-2h3m-3-1h3m-2 5h3m-3-1h3m0-3h3m-3 3h3m-2 1h3m-1-3h3m10 0h3m2 2h3m2 0h3m-2-4h3m12 0h3m-134 8h3m5-2h3m4 2h3m-1 0h3m1 0h3m-3-2h3m-2 4h3m-1-1h3m-3 2h3m-2-5h3m-2 1h3m-1 2h3m-1 2h3m-1-3h3m-2-2h3m0 0h3m-3 2h3m1 1h3m-2-1h3m-2 3h3m-2-2h3m-3 2h3m-1-2h3m-2-1h3m-2-2h3m-2 4h3m-3-1h3m-2-1h3m-3 3h3m-2-1h3m-3 0h3m-2-2h3m-2 1h3m-2 0h3m-3 0h3m-1-1h3m-3 1h3m-1-2h3m-2 3h3m-2-3h3m0 4h3m-2-4h3m-1 2h3m-2-1h3m-2 3h3m-3 0h3m-2-2h3m-3-2h3m-2 2h3m-2-2h3m0 3h3m-1-3h3m-1-1h3m-3 1h3m0 3h3m-1-3h3m-2 0h3m-1 4h3m0-3h3m-2 2h3m-2 1h3m0-1h3m-2-4h3m-1 2h3m5 2h3m-2 1h3m3-2h3m1-1h3m-142 6h3m23 2h3m-3-4h3m4 0h3m-3 2h3m-2 0h3m3 2h3m1-2h3m-1 0h3m-2 1h3m-1-1h3m-2-2h3m0 0h3m-2 0h3m-2 2h3m-1 1h3m-1 1h3m-3-4h3m-3 5h3m-3-5h3m-2 4h3m-3-2h3m-2 2h3m-2-2h3m-3 0h3m-2 2h3m-2-1h3m-2-1h3m-2 2h3m0-2h3m-3 0h3m-3 1h3m-3 2h3m-3-2h3m-2-2h3m-3 1h3m-3 0h3m-2 2h3m-3-3h3m-3-1h3m-2 1h3m-2 3h3m-2-2h3m-3-1h3m-2 0h3m-2 4h3m-3-5h3m-2 2h3m-3 3h3m-2-4h3m-1 1h3m-3 3h3m-1 0h3m-2 0h3m-3-4h3m-2 4h3m-3-3h3m-2 1h3m-2-1h3m-2 1h3m-3-3h3m0 3h3m-3 0h3m-2 1h3m-2-1h3m-3 0h3m-3 1h3m-2 1h3m2-2h3m-2 0h3m-2-3h3m-3 4h3m-2 1h3m-3-1h3m0-2h3m-3 1h3m-2-3h3m-1 3h3m-2-1h3m-2-2h3m-2 3h3m-1 0h3m-3 0h3m0-1h3m-1 2h3m2-4h3m0 3h3m-2-3h3m0 2h3m-2 2h3m10 0h3m-131 7h3m0-3h3m3 3h3m0 0h3m2-5h3m-2 2h3m3-1h3m-2 1h3m-3 3h3m-3-4h3m-2 1h3m-2 1h3m-2 2h3m-1-4h3m-2 1h3m1-2h3m-3 2h3m-2-2h3m-1 2h3m-3 2h3m0-2h3m-1 3h3m-2-4h3m-1-1h3m-1 3h3m-2 2h3m-3 0h3m-2-2h3m-2 0h3m-2-2h3m-3-1h3m-2 0h3m-2 5h3m-3-1h3m-3-4h3m-2 4h3m-3 1h3m-2-1h3m-2 0h3m-2 0h3m-2-2h3m-3-1h3m-2 3h3m-1-1h3m-2-3h3m-3 3h3m-3 1h3m-3-2h3m-2 1h3m-3 1h3m-2-3h3m-1 0h3m-2-1h3m-2 5h3m-2-5h3m-3 3h3m-3 1h3m-3-2h3m-1 3h3m-3-2h3m-2 2h3m-2-5h3m-3 1h3m-2 4h3m-2-1h3m-3-4h3m-2 4h3m-3 0h3m-2-2h3m-3-2h3m-1 4h3m2-3h3m-3 2h3m-2-3h3m-2 2h3m-2 1h3m-2-2h3m0 3h3m-2-3h3m-1 0h3m-2 1h3m-1 2h3m-3-4h3m-2 5h3m1-3h3m-1-1h3m13-1h3m13 3h3m-142 4h3m2 1h3m3 3h3m-3-2h3m-2 0h3m-1 0h3m1-1h3m-2-2h3m-2 0h3m-2 1h3m-3 4h3m-2-3h3m-2 0h3m-2-1h3m6-1h3m0 1h3m-3-1h3m-1 0h3m-3 1h3m-1-1h3m-2 5h3m-1-4h3m-2 3h3m-3 0h3m-3-1h3m-1-3h3m1 3h3m-3 1h3m-3-2h3m-2 0h3m0 1h3m-2 1h3m-3-4h3m-2 3h3m-2-2h3m-2 1h3m-2 1h3m-2-2h3m-2-1h3m-3 3h3m-2-3h3m-2 0h3m-3 5h3m-3-1h3m-3-3h3m-2 4h3m-3-1h3m-2-1h3m-3-1h3m-3 0h3m-2 1h3m-3 0h3m-2-3h3m-3 2h3m-2 3h3m-3 0h3m-2-5h3m-2 5h3m-2-1h3m-3 1h3m-2 0h3m0-4h3m-3 3h3m-2-4h3m-2 0h3m-1 5h3m-2-5h3m-3 0h3m-3 0h3m-2 0h3m-3 5h3m-1-2h3m-2 2h3m-3 0h3m-1-5h3m-2 5h3m-3-3h3m-2 3h3m-1-4h3m-1 1h3m-3 0h3m-3-1h3m0-1h3m-2 0h3m-3 0h3m-2 5h3m-2-2h3m-1-1h3m-3 1h3m0-2h3m-2-1h3m-3 3h3m3-3h3m-2 4h3m-1-1h3m7 0h3m-128 3h3m10 0h3m10 2h3m-3 1h3m-2-3h3m0 0h3m-3 1h3m-1 4h3m-1-4h3m-1 4h3m-3-1h3m-1-1h3m-3 2h3m-2-3h3m0 2h3m-1 1h3m-3 0h3m-2 0h3m-1-5h3m-3 2h3m0 2h3m-2-1h3m-3-3h3m-2 0h3m-3 5h3m-2-4h3m-3 3h3m-2 0h3m0-4h3m-3 1h3m-1 4h3m-3-1h3m-3-3h3m-2-1h3m-3 3h3m-1 1h3m-3-3h3m-2 2h3m-3-3h3m-2 3h3m-3 2h3m-2-5h3m-3 5h3m-3-2h3m-2-1h3m-2-1h3m-1 1h3m-2-1h3m0 2h3m-3 0h3m-2-1h3m-2 1h3m-3 0h3m-1 2h3m-3-2h3m-3-2h3m-2 1h3m-2 0h3m-2 0h3m-3-1h3m-2 1h3m-2 0h3m-3-2h3m0 1h3m-2 3h3m-2 1h3m-2-2h3m-2 2h3m-3-4h3m-2 4h3m-2-1h3m-2 1h3m-3-5h3m-2 0h3m-2 3h3m-1 0h3m-2 1h3m-3 1h3m-2-3h3m-3 3h3m-1-4h3m-2 2h3m-2-2h3m-3-1h3m4 5h3m8-5h3m9 1h3m-119 7h3m1 2h3m6-1h3m-1-1h3m4 1h3m-2-2h3m3 4h3m-2-2h3m-3-2h3m-2 1h3m0-2h3m-2 2h3m-2 0h3m-2-2h3m-2 1h3m-2 2h3m-1-3h3m-3 5h3m-2 0h3m-3-3h3m-2-2h3m-2 5h3m-3-4h3m-3 3h3m-2-3h3m-3 4h3m-2-5h3m-2 5h3m-3-1h3m-2-3h3m-1 4h3m-3-2h3m-2-3h3m-2 2h3m-2 1h3m-3 0h3m-1-1h3m-3 1h3m-3-2h3m-1 2h3m-3-1h3m1 3h3m-3 0h3m-2-4h3m-3-1h3m-2 3h3m-3-3h3m-2 1h3m-1 3h3m-3-2h3m-3-2h3m-1 2h3m-3 1h3m-2 2h3m-1-5h3m-3 1h3m1-1h3m-3 2h3m-2 2h3m-2 1h3m-3-2h3m-1-2h3m-3 0h3m-2 0h3m-1-1h3m-1 5h3m-3-5h3m-2 5h3m-1-4h3m-1 2h3m-2 2h3m12-4h3m-3 2h3m18 0h3m-162 3h3m38 1h3m13-1h3m0 0h3m-2 0h3m6 0h3m0 0h3m-2 0h3m-1 0h3m-2 0h3m-2 1h3m-3 0h3m-1-1h3m0 0h3m-2 1h3m1-1h3m1 1h3m1-1h3m-2 0h3m-3 1h3m-2-1h3m1 0h3m-3 1h3m0-1h3m-1 1h3m-1-1h3m-3 1h3m-2-1h3m0 0h3m0 0h3m0 0h3" stroke="#ff0000" stroke-width="3" stroke-opacity="0.6" fill="none"/>
<path transform="scale(.5)" d="M639 578h3m-82 9h3m39 6h3m20-1h3m11-1h3m-16 7h3m9-1h3m0-2h3m4 1h3m-18 9h3m1-1h3m10 0h3m-66 6h3m6-1h3m22 2h3m6-4h3m8-1h3m12 5h3m-1-1h3m-36 6h3m2-2h3m-25 8h3m13 0h3m14-2h3m-3 0h3m7 2h3m3-3h3m1 2h3m5 0h3m-70 3h3m14 5h3m2-2h3m-1 2h3m6-4h3m1 3h3m2-4h3m1 3h3m-3 1h3m12-4h3m-112 6h3m12 4h3m2-4h3m22 3h3m-3-3h3m1 3h3m4 1h3m-1-3h3m7 0h3m1-1h3m-1 4h3m26-1h3m-2-3h3m-63 11h3m16-1h3m5-2h3m-2 2h3m0-2h3m-1-1h3m-3 3h3m10-1h3m-1 0h3m-3-3h3m1 3h3m0 1h3m-1 1h3m3-3h3m-3 2h3m-75 7h3m6-2h3m3-3h3m6 0h3m1 4h3m0 1h3m5 0h3m6-4h3m9 0h3m-74 8h3m5 0h3m12 1h3m18-1h3m-2-3h3m1 4h3m-3-2h3m-3 3h3m24-4h3m5 0h3m1 4h3m14-3h3m11-1h3m-104 7h3m6 3h3m-1-3h3m11-1h3m2 1h3m1-1h3m0 2h3m19 0h3m-1-2h3m22 2h3m-84 3h3m21 4h3m3-4h3m1 3h3m1-3h3m-2 1h3m-1-1h3m5 2h3m-3 3h3m-25 3h3m0-2h3m0 4h3m0-3h3m9 2h3m-1 2h3m-1-3h3m-2 3h3m-3-3h3m-3-1h3m4 0h3m0 4h3m-1-2h3m4-3h3m10 5h3m0-2h3m13-1h3m-104 7h3m7 0h3m1 1h3m2 1h3m-2-1h3m-3 0h3m2 0h3m-2-4h3m6 1h3m8-1h3m8 3h3m-1 0h3m7-2h3m-71 5h3m4 5h3m11-3h3m0 1h3m-3-2h3m-1 1h3m-2 1h3m21-3h3m2 0h3m6 2h3m1 1h3m-62 7h3m-2-4h3m0 5h3m2 0h3m-2 0h3m0-2h3m1-2h3m-2 3h3m-3-4h3m5 3h3m9 0h3m10-3h3m7 1h3m6 4h3m3 0h3m-69 5h3m-2-1h3m0-3h3m-1 5h3m-1-3h3m3-2h3m-3 3h3m6 0h3m-2-1h3m-2 0h3m5-2h3m1 4h3m26-4h3m6 4h3m-121 6h3m21-2h3m14 3h3m-2-1h3m7-1h3m-3 0h3m-2 2h3m-2 0h3m-3-2h3m0-1h3m-3-1h3m-3 4h3m0-1h3m-1 1h3m0-2h3m-1 0h3m-2 1h3m-195 2h3m116 5h3m23-1h3m-2 0h3m-1-2h3m2 1h3m-2-3h3m6 0h3m2 4h3m-3-2h3m-2-2h3m-3 0h3m-2 1h3m-3 3h3m-1 1h3m5-3h3m-3-2h3m0 2h3m-3 0h3m-2 0h3m-2-2h3m2 4h3m0-2h3m-3 1h3m1-3h3m-2 3h3m-1 0h3m11-2h3m1 3h3m-1-1h3m-3-3h3m-89 7h3m6 1h3m10 2h3m6-1h3m1 1h3m2-1h3m-3 1h3m-2-1h3m-2-1h3m2 1h3m-1 0h3m-1 0h3m1-3h3m-1 2h3m7 3h3m1 0h3m-1-1h3m-3-4h3m9 2h3m7-2h3m1 4h3m-124 4h3m35 2h3m1-4h3m3 3h3m-1-2h3m-3-1h3m2 4h3m1-1h3m-3 2h3m-3-2h3m0-2h3m-1 1h3m-3 0h3m0-1h3m-2 0h3m0 2h3m0 0h3m3-1h3m-1 3h3m-2-1h3m-2-2h3m-1 0h3m-2 3h3m-2-3h3m-3 2h3m4-3h3m1-1h3m-2 3h3m2-1h3m-79 5h3m0-1h3m7 1h3m0 4h3m0-4h3m2 4h3m2-3h3m-3 0h3m5 2h3m2 0h3m-2-2h3m2 3h3m-2-1h3m-1 1h3m-2-4h3m0 2h3m-2 1h3m5-3h3m2 3h3m16 1h3m-85 1h3m-2 4h3m3-2h3m0-2h3m-1 0h3m-1 3h3m-1-3h3m4 0h3m0 5h3m1-2h3m-3 1h3m4 1h3m3-2h3m3-2h3m5 1h3m0 2h3m-2-2h3m2-1h3m-3-1h3m-1 3h3m0 1h3m1-3h3m8 2h3m-169 3h3m81 4h3m-1-2h3m-2 0h3m10 3h3m1-1h3m3 0h3m-3-3h3m2 2h3m-3-2h3m0 1h3m4-1h3m-1-1h3m-2 3h3m-2-3h3m-3 3h3m-1 2h3m-3-3h3m-3 2h3m-2-3h3m-2 3h3m1 1h3m-3 0h3m-3 0h3m8-2h3m2 2h3m-1-1h3m9-2h3m-93 9h3m9-3h3m-2-2h3m2 2h3m-1 1h3m-2 1h3m-2-1h3m2-2h3m-2 0h3m-1 1h3m3 0h3m1 0h3m-2 1h3m-2 1h3m-3 0h3m-1-1h3m-2 2h3m-3-4h3m1 3h3m-2-1h3m-2-2h3m3 2h3m3-2h3m-3 0h3m0 3h3m2-1h3m10-2h3m11 2h3m-116 5h3m-1 3h3m3-4h3m0 2h3m-1-3h3m0 1h3m10 1h3m-2-1h3m-2 3h3m6-3h3m-3 4h3m-3-1h3m1-2h3m-2 3h3m-3-1h3m0 1h3m0-1h3m-2 0h3m-2-2h3m-2 2h3m2-3h3m-3 2h3m-2 1h3m-2 1h3m-2 0h3m-2-2h3m-1 1h3m-2-2h3m0 3h3m-3 0h3m-1-5h3m-1 3h3m-2 1h3m-1-1h3m-1 1h3m-1-4h3m-3 1h3m-2 4h3m9 0h3m3-3h3m3 0h3m6 3h3m3 0h3m-103 5h3m3-4h3m-3 4h3m-2-4h3m-1 3h3m0 1h3m-3-3h3m0 1h3m-2 0h3m-2-2h3m-2 4h3m-2-2h3m-2 3h3m-2-3h3m1 3h3m-3-5h3m-1 3h3m-3-2h3m-2 2h3m-1 2h3m-3-3h3m-2-1h3m-2 1h3m1 1h3m-2-3h3m-2 0h3m-1 4h3m-1 0h3m4-2h3m-2-2h3m-3 4h3m-3-3h3m-2 4h3m0-3h3m0 3h3m-2-2h3m-2 0h3m-3-2h3m-1 1h3m11 2h3m-1 0h3m5-4h3m-110 6h3m6 1h3m5 1h3m2-1h3m5-1h3m-2 1h3m-2 1h3m-3 3h3m-2-3h3m4-2h3m-1 3h3m-3-3h3m-1 4h3m-1-1h3m-2-3h3m-2 0h3m-3 2h3m-1 3h3m1 0h3m0-1h3m-3-2h3m-3-2h3m1 2h3m-2-1h3m-3 2h3m-1 1h3m-2-2h3m-2 0h3m-1 1h3m2-2h3m-1 2h3m1-1h3m-2 3h3m-1-3h3m3 1h3m-3 2h3m-2-4h3m-1 3h3m-3-1h3m0 1h3m2 0h3m2-3h3m0 0h3m1 3h3m1-3h3m-108 8h3m-2-3h3m4 1h3m-2 4h3m0-5h3m1 0h3m3 5h3m-2-1h3m-3-3h3m-3 3h3m-2-1h3m-2 2h3m-1 0h3m-3-5h3m1 5h3m-1-3h3m-2 0h3m-2 3h3m-2-1h3m-2-2h3m-3-1h3m-1 2h3m-2 2h3m-2-1h3m-1 0h3m-3 1h3m-2-4h3m-3 0h3m-2 4h3m-2 0h3m-3 0h3m-2-4h3m-3 3h3m-2-3h3m-2 3h3m-1 0h3m2 1h3m0 0h3m-2-2h3m3-1h3m-3 1h3m-3-2h3m-2 2h3m-3-1h3m-3-1h3m-3-1h3m-2 1h3m-2 4h3m-3-5h3m-1 0h3m-2 1h3m-2 2h3m-1 1h3m-2 1h3m-2-3h3m-3 1h3m-3 0h3m-1-2h3m0 4h3m-3-2h3m-1-1h3m-1 2h3m-3-1h3m-3-1h3m-2 3h3m-1 0h3m6 0h3m8-3h3m7 1h3m-123 6h3m8-2h3m-2 0h3m-2 0h3m0 3h3m0 1h3m-1 0h3m-2-1h3m-3 0h3m0 0h3m-2-3h3m-2 1h3m-3-1h3m-2 0h3m-2 4h3m-2-1h3m-2-3h3m-2 3h3m-2-3h3m-2 2h3m-3 1h3m0-4h3m-2 2h3m-2 1h3m-2-2h3m-2 4h3m-2-2h3m-3-3h3m0 3h3m-3 0h3m-3 1h3m-2-3h3m-3 4h3m-2-5h3m-3 1h3m-1 0h3m-3 1h3m-1 2h3m-3-2h3m-3 0h3m-2-2h3m-2 4h3m-2-2h3m-2-1h3m0 2h3m-3 1h3m-2-3h3m-3-1h3m-2 4h3m-2-1h3m-3 0h3m-3-3h3m-2 2h3m-3-1h3m-2 4h3m-3-3h3m-2 0h3m-2 1h3m-3 1h3m-1 0h3m-2 1h3m-3-1h3m-3 0h3m-1 0h3m-3 1h3m-2-4h3m3 4h3m5-2h3m-3-3h3m-1 3h3m1-3h3m8 1h3m12 0h3m8 3h3m-143 6h3m-3-3h3m3-1h3m10 3h3m4 1h3m-1 1h3m6-1h3m-1 1h3m-2-1h3m2 0h3m0-2h3m-3 1h3m-1 1h3m-3 1h3m-2-1h3m-2 0h3m-3-1h3m-3-2h3m-3 2h3m-2-1h3m-2-2h3m-2 4h3m-1 0h3m-3 0h3m-2-4h3m-3 3h3m-2 0h3m-3 0h3m-1-3h3m-2 2h3m-2 3h3m-3-5h3m-3 2h3m-2-2h3m0 3h3m-3 0h3m-1 1h3m-3-2h3m-3-1h3m-2-1h3m-1 1h3m-3 0h3m-2-1h3m-2 4h3m-2 0h3m-1-2h3m-2 0h3m0 3h3m-1-2h3m-3 2h3m0-3h3m1-1h3m-2 2h3m-1-1h3m-1-2h3m-3 2h3m-2 0h3m9 3h3m3-3h3m6 3h3m5-1h3m-2 1h3m0-4h3m-132 10h3m-3-4h3m-1-1h3m7 3h3m0-1h3m-3-2h3m-2 2h3m0-1h3m-2 2h3m-3 0h3m-3-2h3m3 4h3m-2 0h3m-2-2h3m1-2h3m0 1h3m-2 3h3m-3-3h3m-1-1h3m-2 0h3m-2 0h3m-3-1h3m-1 5h3m-3-3h3m-3-2h3m-2 5h3m-3-1h3m-2 0h3m-2-3h3m-3 3h3m-3-2h3m-2-1h3m-3 1h3m-3 1h3m-3-3h3m-3 3h3m-3-1h3m0 2h3m-1-2h3m-3-1h3m-3 0h3m-2 3h3m-3-3h3m-1-1h3m-3 3h3m-2-1h3m-3 2h3m-2-2h3m-1-1h3m-3-1h3m-3 2h3m-3 0h3m0 3h3m-1-1h3m-3-3h3m-2 2h3m-3 2h3m-3-1h3m-2-3h3m-2-1h3m-1 3h3m-3 0h3m-3 0h3m-2-3h3m-1 4h3m-3-3h3m-3-1h3m-2 0h3m-2 0h3m-3 3h3m-1 0h3m-3 2h3m-2-2h3m-2 0h3m-3-2h3m-1 1h3m-2-2h3m-2 1h3m-2-1h3m2 0h3m-2 2h3m-2 1h3m1-2h3m0 2h3m-1-2h3m-2 2h3m-3 0h3m-3 0h3m-2-3h3m-2 4h3m0 1h3m0-2h3m9-3h3m7 1h3m-133 10h3m0 0h3m-2-2h3m8 1h3m1 1h3m-3-1h3m-1-1h3m-3-2h3m-2 2h3m-2-1h3m-1 3h3m-2-3h3m-2 1h3m-2 1h3m-3 1h3m-3 0h3m-2-1h3m0 0h3m-3-1h3m-2-2h3m-3 0h3m-2 0h3m-1-1h3m-3 4h3m-2-2h3m-1 2h3m-2 0h3m-2-3h3m-3 2h3m-2 2h3m-3-4h3m-3 3h3m-1 0h3m-2 0h3m-2 0h3m-2-2h3m-1 0h3m-3 0h3m-3 1h3m0-2h3m-3 1h3m-3-1h3m-3 0h3m0 2h3m-1-2h3m-2 2h3m-3 0h3m-2 1h3m-2-1h3m-2 2h3m-2-1h3m-2 0h3m-3-3h3m-2 3h3m-3-4h3m-3 4h3m-2-1h3m-3-3h3m-1 2h3m-2 1h3m-3 0h3m-3-2h3m-3-1h3m-3 1h3m-1-1h3m-2 4h3m-3 0h3m-3-4h3m-2 3h3m-2 1h3m-3-1h3m-3-3h3m-3 5h3m-1-4h3m-3 4h3m-3-4h3m-1 0h3m-3 2h3m-3 0h3m-3 1h3m-2-1h3m-3-1h3m-2 3h3m-3-5h3m-3 2h3m-2-1h3m-3 3h3m-2-3h3m1 2h3m-3 1h3m-3 1h3m-3-4h3m-2 0h3m-2 2h3m-1-3h3m-1 2h3m-1-1h3m-2 0h3m5 4h3m-1-3h3m-2 3h3m1-4h3m16 3h3m-1-1h3m4-2h3m-133 10h3m12-1h3m0 0h3m-3-4h3m1 4h3m-2-3h3m-2 0h3m-3 0h3m-2-1h3m-3 5h3m-3-2h3m-3 1h3m-2-4h3m-2 4h3m-3-4h3m-3 3h3m-2 0h3m1-2h3m-3 3h3m-3 1h3m-2-1h3m-3-1h3m-3 2h3m-2-1h3m-2-4h3m-2 5h3m-3-5h3m-3 0h3m-2 2h3m-3 3h3m-3-4h3m-2 0h3m-2-1h3m-3 5h3m-2-4h3m-3 3h3m-3-2h3m-2 3h3m-3-5h3m-2 5h3m-2-2h3m-3-2h3m-3-1h3m-1 2h3m-2-1h3m-2 4h3m-3-3h3m-2-1h3m-3-1h3m-3 1h3m-2-1h3m-3 2h3m-2-2h3m-2 4h3m-3 1h3m-3-4h3m-2 2h3m-2 1h3m-3-2h3m-3 0h3m-3 2h3m-1 0h3m-2-1h3m-3-1h3m-3-2h3m-3 3h3m-3-3h3m-2 1h3m-3 1h3m-2 0h3m-2-1h3m-3 3h3m-2 1h3m-1-4h3m-3 2h3m-2 2h3m-2 0h3m-3 0h3m-1-3h3m-2 1h3m0-1h3m-2-1h3m-1 2h3m-1-1h3m-1 2h3m-2 0h3m-1 0h3m-1-1h3m1-3h3m4 3h3m-1-2h3m2 1h3m11 0h3m-3 1h3m1 2h3m-125 5h3m9 0h3m-1-3h3m0 0h3m0 1h3m-2 0h3m-2 2h3m-3 0h3m-1-3h3m-3 0h3m-3 4h3m-3 0h3m1-4h3m-3 3h3m-2 0h3m-1-2h3m-3 1h3m-1 1h3m-1-4h3m-2 1h3m2 4h3m-3-1h3m-3-2h3m-2 2h3m-3-4h3m-2 4h3m-3 0h3m-3 1h3m-2-3h3m-2-2h3m-3 5h3m-2-5h3m0 0h3m-2 4h3m0 0h3m-2-2h3m-3 0h3m-2-1h3m-2 1h3m-3-2h3m-3 0h3m-2 5h3m-3-4h3m-3-1h3m-1 2h3m-3-2h3m-3 4h3m-2-3h3m-1 1h3m-2-1h3m-3 2h3m-1-1h3m-2 1h3m-3-3h3m-3 3h3m-2 2h3m-3-4h3m-2 0h3m1 4h3m-2-2h3m-3-2h3m-3 4h3m-3-4h3m-2-1h3m-1 1h3m-2 4h3m-3-2h3m1-2h3m-3 0h3m-3 1h3m-3 0h3m-1-2h3m-2 1h3m-2 2h3m-1-3h3m1 2h3m-3-2h3m-2 3h3m-1-1h3m-3-2h3m-1 2h3m-3-1h3m-1 4h3m0 0h3m-1-5h3m0 4h3m2 1h3m2-5h3m-133 10h3m-1-2h3m12 0h3m2 2h3m1 0h3m-3-2h3m-2-1h3m-3 4h3m2-5h3m-1 1h3m0 0h3m-1 0h3m-2 2h3m-2 2h3m1-3h3m-2-1h3m-2-1h3m-1 5h3m0-3h3m-2 3h3m-2-1h3m-3-3h3m-2 4h3m-3-2h3m-3-3h3m-1 4h3m0-2h3m-2-2h3m-3 3h3m-3 2h3m-2 0h3m-2-1h3m-3-3h3m1 2h3m-2-2h3m-2 1h3m-1 2h3m-3-3h3m-2 2h3m-2 0h3m-3 0h3m-1-1h3m-3 3h3m-1-2h3m-2 0h3m-3 1h3m1-4h3m-3 0h3m-1 2h3m-2-2h3m-2 5h3m-3 0h3m-1-4h3m-2 0h3m-2 2h3m-1-2h3m-1 2h3m-3 1h3m-2-1h3m0 0h3m-2 1h3m-3-2h3m-3 2h3m-2-1h3m-3 0h3m-1 1h3m-1-4h3m-2 1h3m3-1h3m-2 1h3m-1 3h3m-2-3h3m-3 1h3m8 2h3m-201 2h3m81 1h3m31-1h3m-1 0h3m1 0h3m2 1h3m-2 0h3m-2-1h3m-2 1h3m2-1h3m1 0h3m-2 1h3m-3 0h3m-2-1h3m-3 1h3m1 0h3m-3 0h3m2-1h3m1 0h3m0 0h3m2 0h3m-2 1h3m6 0h3m1 0h3m0-1h3m23 0h3" stroke="#ff0000" stroke-width="3" stroke-opacity="0.6" fill="none"/>
<path transform="scale(.5)" d="M592 565h3m27 3h3m8 3h3m-18 6h3m-4 16h3m17-2h3m7-1h3m-28 7h3m33 6h3m-56 8h3m15-2h3m-1 1h3m3 0h3m0 0h3m-2-1h3m18-1h3m-64 5h3m13 4h3m8-2h3m11-1h3m27-2h3m21 0h3m-98 9h3m-1-3h3m21 4h3m17-2h3m0 0h3m7 0h3m0 1h3m2 1h3m4 0h3m1 1h3m-77 5h3m30-2h3m0 0h3m1 1h3m20 1h3m-71 4h3m6 0h3m18-1h3m7 3h3m12-4h3m53 3h3m-91 5h3m6-2h3m13 4h3m8-4h3m8 1h3m-47 5h3m2 3h3m3-1h3m-1 2h3m-2-1h3m4-2h3m0 3h3m3-2h3m3 1h3m3 0h3m18-2h3m4 2h3m-78 6h3m1 2h3m1-3h3m2 1h3m2 2h3m3 0h3m0-4h3m2 2h3m7 2h3m-1-1h3m-3-4h3m0 3h3m-1-2h3m-54 5h3m-2 1h3m3 4h3m7-3h3m-1 3h3m6-2h3m-2 1h3m-2-2h3m-3 2h3m14-4h3m3 1h3m-75 9h3m1 1h3m0-1h3m27 0h3m2 0h3m4-1h3m1-3h3m2 4h3m-3 0h3m-3-4h3m0 4h3m-2 0h3m-2-3h3m-2 0h3m2-1h3m-55 8h3m0 0h3m-1 1h3m1-2h3m5 3h3m2 1h3m7 0h3m-3 0h3m-1-2h3m2 0h3m-2 2h3m16-4h3m11 4h3m-81 5h3m-2-2h3m17 1h3m-3-2h3m0 1h3m-3 1h3m-3-1h3m8 3h3m10-5h3m-2 3h3m6 2h3m-1-1h3m-95 3h3m11 3h3m34 1h3m-1-4h3m4-1h3m-2 4h3m3 1h3m-1-1h3m5-4h3m-1 5h3m0-1h3m2-4h3m13 5h3m14-1h3m-236 4h3m143 3h3m0-1h3m-2-3h3m13 0h3m-1 2h3m0-2h3m4 0h3m0 0h3m-3 4h3m-1-1h3m-3-1h3m-1 0h3m5-1h3m-2-2h3m-52 9h3m8-2h3m-2 1h3m-1-2h3m0 4h3m-2 0h3m0-2h3m1 3h3m0-2h3m3-3h3m-2 2h3m-2 0h3m-3-2h3m-3 0h3m9 2h3m1-2h3m0 3h3m1 0h3m13-3h3m13 5h3m-118 2h3m10 1h3m3-2h3m9 2h3m3 0h3m3 2h3m13-1h3m1-3h3m-1 2h3m-2-1h3m0-1h3m10 5h3m3-4h3m21 3h3m-150 2h3m57 0h3m1 2h3m2 1h3m5-1h3m2 2h3m-2-1h3m1-3h3m-3 5h3m-2-1h3m0-3h3m-2 2h3m-2 2h3m0-5h3m-1 5h3m-2-5h3m-1 5h3m-3-2h3m2-1h3m-3 3h3m-2-2h3m-2 2h3m2-1h3m10 0h3m6 0h3m-141 2h3m55 2h3m0-2h3m4 3h3m-1-3h3m5 1h3m3-1h3m-2 0h3m2 5h3m-1-4h3m-1 4h3m2 0h3m-2-1h3m3-4h3m1 3h3m0 0h3m6 0h3m-1-2h3m1 4h3m-62 4h3m3 1h3m-3-3h3m4 4h3m-3-3h3m7 3h3m0-1h3m-2-3h3m-2 3h3m1-1h3m-2-2h3m-2 2h3m-2 2h3m1 0h3m-2-4h3m-3 1h3m-3 2h3m0-4h3m-3 0h3m4 0h3m12 5h3m-2-2h3m3 2h3m7-5h3m-93 11h3m7-3h3m4-1h3m0 0h3m2 0h3m-3 1h3m2-1h3m3 3h3m-2 1h3m2-3h3m0-1h3m-3 3h3m0-1h3m-2 0h3m5 2h3m4-3h3m4-2h3m-3 5h3m4-1h3m-82 4h3m2 0h3m9-2h3m5 3h3m0-1h3m3-2h3m-3 3h3m7 0h3m-2 1h3m1 0h3m-2-3h3m-3 4h3m1-4h3m-2 2h3m4-3h3m0 0h3m1 5h3m5 0h3m-2-4h3m-107 7h3m16 1h3m5 1h3m-2-1h3m1-1h3m-2-1h3m-3 3h3m-2 0h3m-3-4h3m1 2h3m1-1h3m-3 3h3m-2 0h3m-2 0h3m-2-3h3m6 2h3m-1 2h3m-2-1h3m-1-3h3m0 1h3m-3 1h3m-2 1h3m7 1h3m1-4h3m-2 1h3m-3 0h3m-2 0h3m-2 3h3m0-2h3m-2-1h3m4-2h3m-1 5h3m18-1h3m27-1h3m-118 8h3m-2-3h3m-1 2h3m-2 0h3m4-2h3m3 3h3m2-5h3m2 2h3m-2 2h3m-3-2h3m5 3h3m-1-2h3m-2 0h3m3 0h3m-1-1h3m-3-1h3m-1 0h3m-1 3h3m3-4h3m6 4h3m-2 0h3m-3 0h3m-3-2h3m11 1h3m11 0h3m-124 8h3m12-1h3m13-1h3m1-1h3m-2 0h3m-1-1h3m2 4h3m-3-4h3m-2 4h3m-2-5h3m0 4h3m1-3h3m-1 3h3m-2 1h3m-3 0h3m-1 0h3m-2-5h3m2 0h3m1 4h3m1 0h3m-3 0h3m-2 1h3m-3-5h3m-2 0h3m0 2h3m-2-1h3m1 1h3m4 2h3m-2-2h3m-2 3h3m-1-1h3m-2-4h3m4 0h3m-92 10h3m5 1h3m11-2h3m1 1h3m-3 1h3m0-5h3m-3 0h3m-1 3h3m1-2h3m-2 0h3m-1 4h3m-1-1h3m-1-1h3m-2 2h3m3-1h3m-2-3h3m-1 3h3m-2-1h3m-3 0h3m-2 0h3m-2 2h3m0-5h3m-3 4h3m-3 0h3m1 1h3m-2-4h3m-3 1h3m-2 3h3m-1 0h3m0-1h3m-1 0h3m4-1h3m-2 1h3m-1-3h3m-2 0h3m8 0h3m9 3h3m20-1h3m-130 8h3m9-4h3m0 3h3m-2 0h3m-3-3h3m-2 1h3m-2 0h3m-3 2h3m0-1h3m0-1h3m-3 3h3m1-3h3m-2-1h3m4 1h3m0 1h3m-2-3h3m1 5h3m-2-5h3m-3 5h3m-2-5h3m-2 1h3m-3-1h3m-2 2h3m-3 3h3m-1-3h3m-1-1h3m-3-1h3m-2 1h3m-3 3h3m-2 1h3m-3-4h3m2 2h3m-2 1h3m0-3h3m-3 2h3m-3-1h3m-3 1h3m-2 0h3m-2 1h3m-2-3h3m-2 1h3m-1 3h3m-3-3h3m-3 0h3m-2 3h3m-1-3h3m-2 3h3m-2-4h3m-2 1h3m-2-2h3m-2 0h3m5 4h3m15-1h3m-3-1h3m-114 8h3m17-2h3m-1 0h3m7 1h3m2 0h3m0 2h3m-3 0h3m-3-4h3m-2 3h3m-3-2h3m-2-2h3m1 3h3m-1 2h3m-2-1h3m-3-2h3m-3-2h3m-2 3h3m0 2h3m-3-2h3m-2 1h3m-3 0h3m1 0h3m-3 1h3m-3-2h3m-3-1h3m-3 0h3m-1 0h3m-2-1h3m-3-1h3m1 2h3m-2 2h3m-3-1h3m-1-2h3m-2-1h3m-2 1h3m-1 4h3m1-2h3m-1-1h3m-3-1h3m-2-1h3m-2 2h3m-3 0h3m-2-2h3m-1 3h3m-2 2h3m0-4h3m-3 3h3m0 0h3m-3-4h3m-2 1h3m-3 1h3m-2-1h3m-3 3h3m1-1h3m-1 2h3m-2-5h3m-2 2h3m-2 0h3m-2 2h3m9-2h3m-105 9h3m0-2h3m0-1h3m-2 3h3m-3-3h3m-3 2h3m-3 0h3m-2 1h3m3-3h3m-2 1h3m-3 1h3m-2-3h3m-2 0h3m-3 0h3m1 1h3m-3 1h3m-2 0h3m-3 1h3m-3-4h3m-2 1h3m-3 3h3m-1-2h3m-3 0h3m0 1h3m-2-2h3m-3 3h3m-2 1h3m-3-4h3m-2 0h3m-3 3h3m-2-4h3m-3 3h3m-1-3h3m-3 4h3m-3-1h3m-2-2h3m-2 2h3m-1 1h3m-2-2h3m-3 1h3m-3-2h3m-2 0h3m-2 4h3m-3-5h3m-3 5h3m-2-4h3m-2 2h3m1-2h3m-3 2h3m-2-2h3m-3 2h3m-2-3h3m-2 4h3m-3 1h3m-2 0h3m-3-1h3m-3-1h3m-1-2h3m-1 3h3m-3-1h3m-3 0h3m-2-2h3m-2 2h3m-2-3h3m1 2h3m-2 3h3m-3-1h3m-3-4h3m-3 3h3m-3 0h3m-2-1h3m-3 2h3m-3-1h3m-2 1h3m-2-3h3m-3 0h3m-2 4h3m-3-3h3m-1 0h3m-2 3h3m0-3h3m-2-2h3m-2 5h3m-2-2h3m-1-1h3m-3-2h3m-2 4h3m-2 0h3m-3 1h3m-2-3h3m-3 0h3m1 1h3m-3 1h3m-2-3h3m-3 4h3m-2 0h3m4 0h3m-2-4h3m1 3h3m-3-2h3m1 2h3m-2 1h3m14 0h3m-132 5h3m-1-2h3m-1 1h3m3-1h3m-2-2h3m-3 0h3m-3 2h3m-1 2h3m0-4h3m-2 1h3m0 3h3m-2 1h3m-3-1h3m-2-2h3m3 0h3m-2 0h3m-1-1h3m-3 3h3m-1 1h3m0 0h3m0-2h3m-2-3h3m-2 4h3m-3-2h3m-3-2h3m1 4h3m-3-3h3m-3 2h3m-2-1h3m-3 0h3m-3 2h3m-2-1h3m-2-1h3m-2 1h3m-2 2h3m-3 0h3m-1-5h3m-1 5h3m-3 0h3m-3-4h3m-1 0h3m-3 1h3m-2 1h3m-3-3h3m-2 5h3m-2-3h3m-3 0h3m-2-1h3m-3 1h3m-2-1h3m-3 4h3m-3-1h3m-1-2h3m0 1h3m-3-1h3m-2 0h3m-3-1h3m-2 0h3m-2 1h3m-2 1h3m-2-1h3m-2 2h3m-1-1h3m-3-1h3m-1-1h3m-3 3h3m-2-1h3m-3 1h3m-2-4h3m-2 3h3m-2-3h3m-2 4h3m-2-1h3m-3 2h3m2 0h3m-2-1h3m0-1h3m-2 2h3m2-1h3m-3 1h3m4-5h3m4 5h3m3-1h3m-215 3h3m71 0h3m25 4h3m7-2h3m-3 2h3m0-1h3m0-1h3m-1-3h3m-3 1h3m-3 3h3m-2-1h3m-1 2h3m-3-5h3m-1 2h3m-3 1h3m-3-1h3m-2 0h3m-2 1h3m-3-1h3m-3 2h3m-2-3h3m6 3h3m-3-4h3m-3 0h3m-2 3h3m0-3h3m-3 0h3m-3 5h3m-2-3h3m-2 1h3m-3-3h3m-2 4h3m-3 1h3m-2-5h3m-3 5h3m-1 0h3m-2-1h3m-1-3h3m-3 2h3m-3 2h3m-2-5h3m-2 2h3m-3 3h3m-3-3h3m-2-2h3m-3 4h3m-3-4h3m-1 4h3m-3 1h3m-3-2h3m-3-2h3m-2 1h3m-3 3h3m-2-4h3m-3 4h3m-1-3h3m-3-1h3m-2 3h3m-3-2h3m-3-1h3m-2 2h3m-3 0h3m-2 2h3m-3-1h3m-1-4h3m-3 3h3m-2-3h3m-2 0h3m-2 5h3m-3-4h3m-3 1h3m-3-2h3m0 3h3m-2-3h3m-1 5h3m-1-4h3m-2 2h3m-1-1h3m-3-2h3m0 0h3m-2 0h3m-3 3h3m0 0h3m-3-1h3m-1 0h3m-2 0h3m-3-1h3m-2 4h3m-1-1h3m-1 0h3m-2 0h3m-1 0h3m-2-1h3m1-2h3m10-1h3m1 3h3m0-3h3m-197 9h3m51-1h3m14 2h3m-1 1h3m3-1h3m3-2h3m-1 0h3m-3 1h3m-3 2h3m-1-3h3m-1-1h3m-3-1h3m-3 3h3m-2-1h3m-2 1h3m-3-1h3m-2 0h3m-3 2h3m-2 1h3m-2-4h3m-2 2h3m-2-3h3m-3 3h3m-3-3h3m-2 0h3m-3 5h3m-2-1h3m-2-2h3m-2 3h3m-3-3h3m-2-2h3m-3 5h3m-3-1h3m-2 1h3m-2 0h3m-1 0h3m-3-3h3m-1-2h3m-2 3h3m-2 0h3m-3 1h3m-2-1h3m0-1h3m-1 0h3m-2 1h3m-3-1h3m-1 3h3m-2-5h3m-3 2h3m-1 3h3m-2 0h3m-2 0h3m-3-3h3m-3-2h3m-3 2h3m-2-1h3m-3-1h3m-2 3h3m-1 1h3m-3-2h3m-2 1h3m-3 2h3m-2-4h3m-2 1h3m-3 0h3m0-1h3m-3 4h3m-2-4h3m-3 2h3m-2-1h3m-2 0h3m-2-1h3m-1 4h3m-3 0h3m-2-1h3m-3-2h3m-2-2h3m-1 0h3m-2 0h3m-3 3h3m-1-1h3m-2 2h3m-3-3h3m-2 3h3m-3-3h3m-1-1h3m-2 5h3m-3-5h3m0 0h3m-1 1h3m-1 0h3m-1 1h3m7 1h3m-109 7h3m3-1h3m-1-1h3m0 1h3m-2 1h3m0-1h3m3-3h3m-3 1h3m-1 3h3m-1 0h3m-2-2h3m-1-2h3m-2 5h3m-3-2h3m-2 1h3m-3-3h3m-1-1h3m-1 0h3m-3 1h3m-3 0h3m-2 1h3m-3 2h3m-2-1h3m0 2h3m-3-2h3m-2-1h3m-3 2h3m-2-4h3m-3 0h3m-2 3h3m-3 2h3m-2 0h3m-3-5h3m-3 1h3m-3 1h3m-2-1h3m-3 3h3m-2-2h3m-3 2h3m-2-3h3m-3 0h3m-3 1h3m-2 3h3m-1-3h3m-3-2h3m-2 4h3m-2-3h3m-3 2h3m-3-2h3m-2 0h3m-3 0h3m-1 4h3m-2-2h3m-2-2h3m-2 3h3m-3 0h3m-3-1h3m-2-1h3m-3 2h3m-3 1h3m-3-5h3m-2 2h3m-3 1h3m-3-1h3m-2-2h3m-3 3h3m-1-2h3m-3 4h3m-2-3h3m-3-2h3m-2 1h3m-3 2h3m-3 0h3m-2 1h3m-2 1h3m-3-2h3m-2 1h3m-3 0h3m-2-4h3m-3 4h3m-3-3h3m-2-1h3m-3 1h3m-2 0h3m-3 2h3m-2-1h3m-2 0h3m-2-1h3m-2-1h3m-3 1h3m-1 3h3m-2-3h3m-3 2h3m-2-1h3m-1 0h3m-2 2h3m-3 1h3m-2-1h3m-3-2h3m-2-2h3m-3 0h3m4 4h3m1-3h3m-1 0h3m3-1h3m0 4h3m11 1h3m0-5h3m-118 9h3m14 2h3m-3-3h3m1 0h3m0-1h3m3 1h3m-3 0h3m-2 2h3m-2-1h3m-3-1h3m-2-2h3m-3 3h3m-2-1h3m-3 3h3m-1-2h3m-2 0h3m-3 2h3m-2-1h3m-3 0h3m-3-3h3m-2 4h3m-3 0h3m-2 0h3m-2-5h3m-2 4h3m-3 0h3m-1-3h3m-2 2h3m-2-2h3m0 3h3m-2-4h3m-3 5h3m-3-1h3m-2-2h3m-3-1h3m-3 3h3m-2 1h3m-3 0h3m-2-2h3m-3 1h3m1-1h3m-3 0h3m-1 1h3m-3-2h3m-2-1h3m-3 0h3m-1 0h3m-2-1h3m-3 3h3m-2 2h3m-3-2h3m-2 0h3m-2 1h3m-2 0h3m-3-3h3m-2 3h3m-3-3h3m-3 4h3m-2 0h3m-3-4h3m-3 3h3m0 1h3m-3 0h3m-3-5h3m-3 3h3m-1-3h3m-3 5h3m0-1h3m-3-2h3m-1-1h3m-3-1h3m-2 5h3m0-3h3m-1 3h3m-2-5h3m-3 5h3m3-1h3m0-1h3m3-3h3m1 3h3m-2-2h3m4 1h3m-2 2h3m-139 2h3m19 5h3m4-5h3m-3 4h3m-2-2h3m-1 3h3m-3 0h3m1 0h3m-2-2h3m-2 0h3m-1 0h3m-3 0h3m0-2h3m-2 1h3m-2 2h3m-2 1h3m-3-4h3m-2-1h3m-2 1h3m-2 4h3m-2-4h3m-1 2h3m-2 0h3m-1 2h3m-1-3h3m-3 2h3m1 0h3m-3 1h3m-2 0h3m-3-4h3m-3 2h3m-2 0h3m-3-2h3m-2 3h3m-2-4h3m-1 2h3m-2 1h3m-3-3h3m-2 2h3m-3-2h3m-1 4h3m-2 0h3m-3 1h3m-2 0h3m-3-5h3m-3 3h3m-2-1h3m-2-1h3m-3 1h3m-2 1h3m-3 0h3m-3-2h3m2 3h3m-2-2h3m-3-1h3m-3 3h3m-1-3h3m-3 1h3m-2 2h3m-3 1h3m-1 0h3m-3-5h3m-3 1h3m-2 4h3m-2 0h3m-2-5h3m-1 5h3m-3-2h3m-3 2h3m-2-2h3m-3 0h3m-2-2h3m-3 1h3m-1-2h3m-1 4h3m-3 0h3m-1-1h3m-2-3h3m-2 5h3m-1-5h3m-2 4h3m1 0h3m-2-1h3m-1-2h3m5 1h3m10 2h3m-1-1h3m-111 3h3m3 1h3m4-1h3m5 1h3m2-1h3m-1 0h3m-2 0h3m3 1h3m-2-1h3m-3 1h3m1-1h3m-2 0h3m6 0h3m3 1h3m-1 0h3m1 0h3m-2-1h3m2 0h3m-3 1h3m-1-1h3m-3 1h3m-2-1h3m12 0h3m1 1h3" stroke="#ff0000" stroke-width="3" stroke-opacity="0.6" fill="none"/>
</svg>
<svg x="428.8" y="240.4" width="153.8" height="163.29999999999998" viewBox="428.8 240.4 153.8 163.29999999999998" overflow="hidden">
<ellipse cx="454" cy="326" rx="24" ry="13.5" transform="rotate(-80 454 326)" fill="#ff0000" opacity="1" filter="url(#b3)"/>
<path transform="scale(.5)" d="M859 550h3m59 6h3m-65 7h3m64 0h3m-11 1h3m4 3h3m2-3h3m-2 4h3m3-3h3m-80 9h3m51-1h3m-1 1h3m5 1h3m-2-5h3m8 5h3m-2 0h3m-2-3h3m-39 9h3m15-2h3m-1-1h3m0 3h3m-3-4h3m-2 2h3m0-2h3m-3 2h3m1-3h3m-1 0h3m4 5h3m-1-4h3m-57 10h3m20-4h3m-2 3h3m-2 0h3m-3-2h3m-1 0h3m1 3h3m-1-1h3m0 1h3m-2-3h3m-1-1h3m-3-1h3m-1 1h3m-2 3h3m-3 1h3m0-2h3m-3 2h3m-2-2h3m2 0h3m-1 2h3m-46 6h3m10-3h3m-1-1h3m-2 2h3m0 2h3m-2-5h3m-3 5h3m0-2h3m-2-1h3m0-2h3m0 0h3m-1 3h3m-2-2h3m1-1h3m2 4h3m-1-2h3m0 0h3m3 3h3m-57 5h3m0-4h3m-3 3h3m1-3h3m-3 3h3m0-2h3m-1 3h3m0-1h3m1-2h3m-1 1h3m-3-2h3m-2 2h3m-2 3h3m-1-5h3m-3 4h3m-2 0h3m-3-1h3m-1-2h3m-1 3h3m0-4h3m-3 3h3m4 2h3m-2-3h3m-1 2h3m14-3h3m-102 6h3m6-1h3m23 0h3m-1 5h3m-1-5h3m3 1h3m-2 3h3m-2 1h3m-2-2h3m-2-1h3m1-2h3m-2 3h3m-2-2h3m-2 2h3m-1 1h3m-2-2h3m-2 3h3m-3-1h3m-2-4h3m-3 3h3m-2 2h3m-2-5h3m-3 2h3m-2-1h3m-3-1h3m-3 0h3m-3 5h3m-3-1h3m-2-4h3m-3 5h3m-2-5h3m-1 4h3m-2 1h3m-1-4h3m6 0h3m-2 1h3m-2-1h3m-2-1h3m0 1h3m2 4h3m7-5h3m-3 5h3m-104 2h3m-3 0h3m-2 3h3m13-2h3m12 0h3m6 0h3m-2 3h3m1 0h3m0-1h3m-3 0h3m-2-4h3m-2 4h3m-3-4h3m-2 5h3m-3-3h3m-2 2h3m-3-2h3m-1-1h3m-3-1h3m-2 2h3m0 1h3m-3 0h3m-2 0h3m-1-1h3m-3 0h3m-3 0h3m0 2h3m-3-1h3m-2 2h3m-3 0h3m-3 0h3m-2-1h3m-3-1h3m-2 0h3m-3 0h3m-2-1h3m-2 2h3m1-4h3m-3 0h3m-3 3h3m-1 0h3m-1 2h3m-2-4h3m-2 3h3m-1-1h3m0-2h3m-2 0h3m0 4h3m-1-4h3m5 0h3m-103 5h3m-3 5h3m-2-4h3m-3 0h3m22 4h3m1-5h3m-2 4h3m0-3h3m-3 1h3m-2 0h3m-1 2h3m-2 1h3m2-3h3m-2-1h3m-2 2h3m-3-3h3m-2 2h3m-1 1h3m-3 0h3m-2-1h3m-2 2h3m-2-4h3m-2 1h3m-1 1h3m-2 0h3m-3-2h3m0 4h3m-3 0h3m-3-1h3m-2 2h3m-2 0h3m-2-5h3m-3 4h3m-3-4h3m-3 4h3m-3 1h3m-2-3h3m-3 0h3m-3 2h3m-3 1h3m-3-4h3m-2-1h3m-2 1h3m-3 1h3m-3 1h3m-3 2h3m-3-1h3m-2 0h3m-3 0h3m-2 0h3m-3 0h3m-2 0h3m-3 1h3m-2 0h3m-2-4h3m-3-1h3m-2 2h3m1 2h3m-2 1h3m-3 0h3m-3-3h3m-2 1h3m-2 1h3m-3-2h3m-3 2h3m-2-3h3m-2 2h3m-1 1h3m-3-3h3m-2-1h3m-3 2h3m-3-1h3m-2 3h3m-3-4h3m-2 5h3m-3-4h3m-2 3h3m2-4h3m-1 3h3m-94 6h3m-2-3h3m4 2h3m7-2h3m-3 5h3m8-1h3m0-4h3m1 5h3m-1-4h3m-1 2h3m-2 0h3m-1 2h3m-3-1h3m-2-1h3m0-3h3m-2 0h3m-2 4h3m-2-2h3m-3-2h3m-3 1h3m0 1h3m-2 0h3m-3 3h3m-3-3h3m-2-1h3m-2 1h3m-3 1h3m-3-2h3m-3 1h3m-2 0h3m-2 3h3m-3-4h3m-2 1h3m-3-1h3m-2 4h3m-2 0h3m-3-5h3m-3 4h3m-2-2h3m-2-2h3m-2 0h3m-3 4h3m-1-4h3m0 1h3m-2 4h3m-1-1h3m-3 1h3m-2-2h3m0-1h3m-1 2h3m9-2h3m-3 3h3m-2 0h3m-3 0h3m-2-1h3m0 0h3m-2-4h3m-99 9h3m11 1h3m7-1h3m0 1h3m1-1h3m-2 2h3m-1-3h3m-3-1h3m-2 4h3m-3 0h3m3-4h3m-3 1h3m-3-1h3m0 2h3m-1-3h3m-3 0h3m-3 5h3m-2-5h3m-1 4h3m-3-3h3m-2 0h3m-2 1h3m-3 1h3m-2-1h3m-3-2h3m-3 2h3m-3-2h3m-2 1h3m-3-1h3m-3 4h3m-2 1h3m-3-3h3m-3-2h3m-2 2h3m-2 2h3m-2-3h3m-3-1h3m-2 4h3m-2-2h3m-3 0h3m-3-1h3m-3 4h3m-2-5h3m-1 4h3m-2 0h3m-3-1h3m-2 1h3m-3-4h3m-3 1h3m-3 3h3m-2-3h3m-1 0h3m-3 2h3m-3-1h3m0-1h3m-2-1h3m-3 3h3m-3 1h3m-2 1h3m-3-5h3m-2 1h3m-2-1h3m-3 2h3m-2 0h3m-2-1h3m-2 3h3m-3-2h3m0 2h3m-2 0h3m5-1h3m2-1h3m-2 2h3m4-4h3m1 5h3m-100 1h3m-1 5h3m2 0h3m2 0h3m2-5h3m-3 0h3m-1 3h3m-3-3h3m-1 4h3m-2-2h3m-1-1h3m-2-1h3m-2 4h3m-1-3h3m-2 1h3m-3 1h3m-2 1h3m-3-2h3m-1-2h3m-2 3h3m-3 2h3m-2-1h3m-2 1h3m-3-3h3m-2-2h3m-2 2h3m-2 2h3m-3 0h3m-2-4h3m-2 3h3m-3 2h3m-2-4h3m-3 0h3m-2 1h3m0 3h3m-3-3h3m-2-2h3m-2 5h3m-2-4h3m-2 2h3m-3-3h3m-3 2h3m-2-1h3m-2 0h3m-1 3h3m-2 1h3m-2-3h3m-3 3h3m-3-4h3m-3 2h3m-3 0h3m-2-1h3m-3 3h3m-3-5h3m-2 1h3m-3-1h3m-2 5h3m-3 0h3m-2-5h3m-3 2h3m0 0h3m-2-2h3m-3 5h3m-1-3h3m0 2h3m-2-1h3m8 0h3m5-3h3m-1 5h3m-102 3h3m-3 3h3m-2-1h3m18-2h3m-2-1h3m-1-1h3m-2 1h3m2 2h3m-2-1h3m-2 2h3m-2-1h3m-1 2h3m-2-4h3m-3 1h3m-3 1h3m-2 1h3m-3-4h3m-2 2h3m-3 2h3m-2 1h3m-3-2h3m-2-1h3m-2-1h3m-1 3h3m-2-4h3m0 2h3m-2 0h3m-2 1h3m-2-1h3m-3 3h3m-2-5h3m-3 3h3m-3 2h3m-2-4h3m-3 3h3m-1-1h3m-3 2h3m-3-1h3m-2-3h3m-2 0h3m-3 1h3m-2 2h3m-2 1h3m-3-1h3m-2-4h3m-3 2h3m-3 3h3m-3-3h3m-2 2h3m-3-3h3m-2 0h3m-2 1h3m-3-1h3m-2 3h3m-3-4h3m-3 0h3m-3 5h3m-3-4h3m-1-1h3m-2 5h3m-2 0h3m-3-1h3m-3-2h3m-3 2h3m-3-1h3m-2-1h3m-3-1h3m-2-1h3m-2 1h3m-1 4h3m-1-3h3m-3 2h3m1-1h3m-2-3h3m-3 1h3m1 3h3m-3-4h3m-2 5h3m1-3h3m-92 9h3m-3-3h3m-2-1h3m5 1h3m4-1h3m3 4h3m2-1h3m0 0h3m-2-4h3m-1 5h3m-2-4h3m1-1h3m-2 1h3m-3 1h3m-2 3h3m-3-4h3m-2 3h3m0-1h3m-3 1h3m-2-4h3m-1 0h3m-3 1h3m-3 3h3m-2-3h3m-2 1h3m-3 2h3m-2-2h3m-3 2h3m-3-2h3m-2-1h3m-2 2h3m-3 0h3m-2 2h3m-2-5h3m-3 4h3m-3 0h3m-3-1h3m-3 0h3m-1 0h3m-2-1h3m-3 2h3m-2 1h3m-2-2h3m-2 0h3m-2 1h3m-2 0h3m-2-3h3m-3 2h3m-3-3h3m-1 4h3m-1-2h3m3 0h3m-1 1h3m-2-3h3m-2 2h3m-2 0h3m-3 3h3m-1 0h3m-3 0h3m-84 2h3m2 0h3m3 3h3m3-1h3m-2-2h3m-2 1h3m-2 2h3m-2-4h3m-2 0h3m1 4h3m0-3h3m-1-1h3m-2 4h3m-1-1h3m-2 0h3m0 2h3m-2-3h3m-3 1h3m-1-1h3m0-1h3m1-1h3m-3 3h3m-2-2h3m-3 3h3m-1 0h3m-3-4h3m-2 4h3m-2-4h3m-2 0h3m-2 4h3m-3 1h3m-3-1h3m-3-2h3m-2 1h3m-3 2h3m-3-3h3m-2 3h3m-3-3h3m-1-2h3m-3 0h3m-2 1h3m-2 4h3m-1-3h3m-3 0h3m-2 1h3m-2 1h3m-3 1h3m-3-4h3m-2 1h3m-2 0h3m-3 3h3m-2-3h3m0 3h3m0-1h3m-3-3h3m-2 3h3m-1 0h3m-1-3h3m-2 2h3m-3 1h3m-3-3h3m-1 2h3m-3 1h3m-3-2h3m-1 1h3m-3-3h3m-2 2h3m13 0h3m-104 8h3m5-3h3m1 3h3m12-2h3m-2-1h3m-3 2h3m-2-3h3m0 5h3m-3-5h3m0 0h3m-2 5h3m-3-3h3m-3 3h3m-1 0h3m-2 0h3m-3-1h3m-1-3h3m-2 1h3m-3 1h3m-3 0h3m-2-1h3m0 3h3m-3-2h3m-3 2h3m-3-2h3m-2-1h3m-3-1h3m-3 1h3m-3 1h3m-3 0h3m-2-1h3m-2 0h3m0-1h3m-3-1h3m-2 1h3m-3 4h3m-2-5h3m-3 5h3m-3-5h3m-2 4h3m-2-1h3m-2-3h3m-3 4h3m-2 1h3m-1-4h3m-3 1h3m-3 2h3m-3 0h3m-3 1h3m-3-5h3m-2 1h3m0-1h3m-3 1h3m-2 4h3m-3-2h3m-3 2h3m-3-1h3m1-2h3m-1-1h3m-3 2h3m-1-1h3m-3 0h3m-3-1h3m-2 4h3m1-3h3m-1-1h3m-2 3h3m1-3h3m-1 2h3m-1 2h3m-1-4h3m0-1h3m5 5h3m12-4h3m-120 10h3m-3-4h3m1-1h3m0 4h3m-1-3h3m1 4h3m-2-2h3m-1 0h3m5 1h3m-2-4h3m-2 4h3m-3-4h3m1 2h3m-3-1h3m-2 1h3m-2 2h3m-2 1h3m-3-4h3m-3 0h3m-3 2h3m-2-1h3m-3 3h3m-1-5h3m-3 1h3m-3-1h3m-3 2h3m-2 1h3m-1 1h3m-2 0h3m-3-4h3m-3 0h3m-3 2h3m-2-1h3m-2 0h3m-3 0h3m-2 2h3m-3-2h3m-1 3h3m-3-4h3m-1 2h3m-3 2h3m-2 0h3m-2-3h3m-3 2h3m-2 1h3m-3-4h3m-3 3h3m-3-3h3m-1 3h3m-2 0h3m-1 2h3m-1-5h3m-3 2h3m-2-2h3m-2 3h3m-3 1h3m-2-2h3m-2 1h3m-3 2h3m-2 0h3m-3-2h3m-3-2h3m-2 0h3m-2 4h3m-3-5h3m-2 0h3m-3 2h3m-2 3h3m1-5h3m-3 3h3m-3-3h3m-2 1h3m1 1h3m1 2h3m5-4h3m0 0h3m-92 8h3m9 2h3m-1-2h3m-1 0h3m-3 1h3m-1 2h3m3-2h3m-2-2h3m-3 1h3m-2-2h3m-2 2h3m-2 0h3m-1 2h3m-3 0h3m-2 0h3m-1-3h3m-2 2h3m-1 1h3m-3-4h3m-2 2h3m-1 2h3m-3-2h3m-2 3h3m-1 0h3m-3-3h3m-2 2h3m-2-1h3m-2-1h3m-2 0h3m-3 2h3m-3-1h3m-1 2h3m-3-4h3m-3 2h3m-3 0h3m-2 0h3m-1 2h3m-3 0h3m0-5h3m-3 3h3m-2-1h3m-2 0h3m-1 3h3m-3 0h3m-3-2h3m-3-3h3m-2 4h3m-3-3h3m-2-1h3m0 3h3m-2 1h3m-2 1h3m-2-2h3m-2 0h3m-1-1h3m-3 2h3m-3 1h3m6 0h3m-2 0h3m0-1h3m4-3h3m9 1h3m3 0h3m-102 5h3m-2 4h3m-2-1h3m1-1h3m2-1h3m-1-2h3m-2 3h3m0-2h3m-1 1h3m-2 2h3m0-4h3m-2 5h3m-2-5h3m-2 2h3m-3 1h3m-2 0h3m-3 0h3m-1-2h3m0 2h3m-3 0h3m-2-1h3m-3 3h3m-2-3h3m-2-1h3m-3 1h3m-3-1h3m-2 0h3m-2 0h3m-3-1h3m-2 3h3m-1 0h3m-2 1h3m0-4h3m-3 5h3m-3-4h3m-3-1h3m-2 0h3m-3 1h3m-2 0h3m-2 1h3m-2 2h3m-3 1h3m-3-2h3m-3 0h3m-2-1h3m-1 3h3m-3 0h3m-3-5h3m0 0h3m-3 4h3m-2-2h3m-2 3h3m-2-1h3m-3 0h3m-3-3h3m-3-1h3m-2 3h3m-3 1h3m-2-1h3m-2 0h3m-3 1h3m-3-1h3m-1 0h3m-2-1h3m-2 0h3m-1 3h3m-3-5h3m0 5h3m2-3h3m-1 1h3m-2-1h3m-1 1h3m-3-2h3m8 1h3m-94 5h3m0 3h3m-2-2h3m-2 0h3m-1 2h3m-2-2h3m-1-1h3m1-1h3m-3 4h3m-2-4h3m-2 5h3m-3-4h3m2 4h3m-3 0h3m0-1h3m-3-3h3m-1-1h3m-3 1h3m-2 2h3m-3-1h3m-2 2h3m-3 1h3m-2 0h3m-3-3h3m-2 0h3m-2 2h3m-3-2h3m-3-1h3m-3 2h3m-2 1h3m-3-4h3m-2 1h3m-3 3h3m-2-1h3m-2-1h3m-3-2h3m-3 0h3m-2 3h3m-3-2h3m-2 1h3m-3-2h3m-2 1h3m-3 1h3m-2-2h3m-3 2h3m-1 2h3m-2-1h3m-2 1h3m-3-4h3m-3 2h3m-2 2h3m-2 0h3m-2-3h3m-3 1h3m0 1h3m-2 0h3m-3-1h3m-2 1h3m-2-2h3m-1 4h3m-2-5h3m-1 4h3m-2 1h3m-3-5h3m-3 0h3m-2 1h3m-2 3h3m-2-4h3m-2 1h3m-2-1h3m-3 0h3m-2 1h3m-3 2h3m-2 0h3m0 1h3m-3-3h3m1 0h3m-3 3h3m5 1h3m1-2h3m-1-1h3m-96 9h3m-3 0h3m8 0h3m1-3h3m1 0h3m-3 1h3m-3 0h3m-2-1h3m-3 0h3m0 0h3m-1 3h3m-1 0h3m-3 0h3m-2 0h3m-2-4h3m-3-1h3m-1 3h3m-3 0h3m2-1h3m-2 3h3m-3-3h3m-3 3h3m0-5h3m-3 0h3m-3 4h3m-2 0h3m-2-3h3m-3 2h3m-2-3h3m-2 2h3m-1 1h3m0 0h3m-2-3h3m0 5h3m-2-1h3m-2 0h3m-3-1h3m-2 1h3m-2 1h3m-3-2h3m-2 1h3m-2-3h3m-2 0h3m-2 1h3m-1 0h3m-2-1h3m0 4h3m-3-2h3m-2-2h3m-3-1h3m-1 3h3m-1-1h3m-3-2h3m-2 0h3m0 2h3m2-2h3m-2 1h3m-2 2h3m1-2h3m-3 0h3m-1 0h3m9 0h3m-90 6h3m1 3h3m-2 1h3m-2-3h3m-1-1h3m-2 3h3m-3-4h3m-2 4h3m0 1h3m-1-4h3m-1 3h3m-2 0h3m-3-1h3m-3 0h3m0-2h3m-3-1h3m-2 3h3m-3 1h3m-3-2h3m-3 1h3m-2-1h3m-1-2h3m-2 5h3m0-2h3m-2-1h3m-2 0h3m-3-1h3m-3 3h3m-2 0h3m-2-1h3m-3 0h3m-3-2h3m-1 1h3m-3 2h3m-2-2h3m-3 1h3m-3-3h3m-3 2h3m-2 1h3m-3 2h3m-3-5h3m0 4h3m-3-1h3m-2-2h3m-3 4h3m-3-4h3m-2 0h3m-1 3h3m2 0h3m-1-1h3m0 0h3m0-1h3m0-1h3m18 1h3m-98 8h3m5-4h3m0 5h3m2 0h3m-2-2h3m-1-2h3m-1 4h3m1-2h3m-1 1h3m-3-4h3m1 2h3m1-2h3m-3 2h3m-2 2h3m-3 0h3m-2-2h3m-2 1h3m-2-2h3m0 4h3m1-5h3m-1 0h3m-1 4h3m-2-2h3m-3 0h3m-2 0h3m-3 3h3m-1 0h3m0-1h3m-1 1h3m-3 0h3m2-2h3m-2-1h3m0 0h3m-3 0h3m-1-2h3m2 0h3m-3 3h3m0-2h3m-1 3h3m-2 1h3m1-3h3m-89 7h3m-1-2h3m-3 3h3m5 0h3m-1-4h3m4 2h3m1 3h3m7-2h3m-3 0h3m-3 0h3m-3-3h3m2 1h3m-2 3h3m-2 0h3m-3 0h3m-2-2h3m-3 1h3m-3 0h3m-2-2h3m1 3h3m-3-3h3m-2 2h3m-1 2h3m-3-4h3m-2 1h3m-3-2h3m-3 2h3m0-1h3m-3 0h3m-2 4h3m-1-2h3m-1-2h3m-3 1h3m-2 2h3m-3-3h3m-1 0h3m-1 4h3m2-3h3m1-2h3m-2 4h3m1-3h3m1 3h3m-2 0h3m5-3h3m2 4h3m-96 2h3m0 1h3m0 0h3m1 1h3m1-2h3m1 3h3m5-4h3m-2 2h3m-2-1h3m-1-1h3m-3 3h3m2 0h3m0-1h3m-3 2h3m-3 0h3m1 0h3m2 0h3m4-4h3m-3 3h3m-2-1h3m-1 2h3m-3-2h3m-2 1h3m-3-3h3m-2 2h3m-3 2h3m-3-3h3m-1 3h3m-2-2h3m-2 3h3m-2 0h3m0-2h3m-3-2h3m-3 0h3m-3-1h3m1 0h3m-2 5h3m3-4h3m-73 5h3m-3 0h3m12 4h3m-1-1h3m4-1h3m0 0h3m-2 1h3m0-1h3m-3-2h3m0 2h3m-2-2h3m0 3h3m-2-2h3m-1 4h3m-2-2h3m0-2h3m-2 2h3m0 0h3m-1 1h3m-3 0h3m-2-1h3m6-2h3m-3 3h3m-3 1h3m-1-1h3m-2 1h3m2 0h3m2 0h3m-72 5h3m2 1h3m2 0h3m-1 0h3m-1-5h3m-2 2h3m0 0h3m0-2h3m-3 2h3m-2-2h3m-1 1h3m-2 0h3m-3 4h3m-2-5h3m0 1h3m-2 1h3m1 0h3m-2 3h3m-2-2h3m-1 1h3m-2-2h3m-1-1h3m-3 2h3m-1-3h3m-2 0h3m-2 3h3m-2-2h3m7 4h3m5-3h3m-77 4h3m12 1h3m3 4h3m1 0h3m-2-4h3m-2 4h3m-1-1h3m2-4h3m2 4h3m-2-2h3m1 3h3m-2-3h3m-2 3h3m7 0h3m26-2h3m-91 3h3m12 4h3m1-1h3m0 2h3m-2-3h3m2 2h3m2 1h3m2-5h3m0 2h3m-3-1h3m3 2h3m-3-1h3m4 3h3m-1-4h3m-1 1h3m1 2h3m8 1h3m19-3h3m-87 7h3m11 1h3m6-3h3m-1 2h3m-3 2h3m1-3h3m-1 3h3m5-3h3m2 3h3m-31 4h3m-2 2h3m9-2h3m-2-3h3m12 3h3m6 2h3m2-4h3m-2 0h3m18 4h3m-62 3h3m4 3h3m-2-3h3m0 3h3m8-1h3m1-4h3m-2 3h3m0 1h3m-2-2h3m-48 7h3m14-1h3m7-1h3m10 2h3m1-2h3m-43 5h3m17 4h3m-3 0h3m8-4h3m-28 6h3m23 5h3m1-3h3m-14 7h3m-3-2h3m1 2h3m-3 5h3m-24 5h3m26 0h3m0 5h3" stroke="#ff0000" stroke-width="3" stroke-opacity="0.6" fill="none"/>
<path transform="scale(.5)" d="M937 553h3m-13 6h3m-2 0h3m-3 1h3m14 6h3m12 3h3m-60 1h3m5 4h3m11 1h3m1-3h3m-2-2h3m0 5h3m2-1h3m9-4h3m2 5h3m-57 2h3m4 4h3m3-4h3m-1 1h3m0-1h3m-2 1h3m-1 1h3m0-3h3m-2 1h3m-3 4h3m0-1h3m-1 0h3m5-3h3m-3 1h3m2-2h3m7 3h3m-98 5h3m45 2h3m-2-1h3m-1 2h3m-2-4h3m1 0h3m1 2h3m-2-1h3m-2-1h3m1 3h3m-2-3h3m-2 3h3m-3-1h3m2-2h3m-2-1h3m0 5h3m2-2h3m-1-1h3m0 0h3m1 3h3m-93 4h3m24 2h3m6 0h3m7-4h3m2 2h3m-3 0h3m-2-3h3m1 4h3m-3-1h3m-2-3h3m-3 0h3m0 0h3m-3 3h3m-1 1h3m-2 1h3m-3-5h3m-2 4h3m0-2h3m-3-2h3m-2 2h3m2 2h3m-3-2h3m-2 0h3m-2 1h3m-2 0h3m-3-1h3m-2-2h3m-3 4h3m-2-1h3m-3 0h3m-3 2h3m-1-4h3m1 3h3m-77 4h3m32 3h3m5-4h3m-2 1h3m1 1h3m-3 0h3m-2-2h3m0 3h3m-1-2h3m-3-2h3m2 2h3m-1 1h3m2 1h3m-1 1h3m0-3h3m-1 0h3m-1-1h3m-2 4h3m-89 1h3m-3 2h3m3 0h3m22 1h3m-2-2h3m8 2h3m0-3h3m-3 2h3m-3 2h3m-3-4h3m-3 2h3m-1-2h3m-1 3h3m-3 1h3m-2-1h3m-3 2h3m-1-4h3m-2 0h3m-3 4h3m-1-5h3m-3 3h3m-3-1h3m-2-1h3m-2 4h3m-2-4h3m-3 0h3m-3 4h3m-1-3h3m-2-2h3m-2 3h3m-2 0h3m-2 0h3m-1-2h3m-3 3h3m-2 0h3m-3 1h3m-3-3h3m-2-1h3m-3 0h3m-2 0h3m-3 1h3m2 2h3m-2 0h3m-2 0h3m4 0h3m3-1h3m3-1h3m-3 3h3m4-1h3m-106 7h3m10-3h3m7 2h3m-2-3h3m12-1h3m-1 3h3m0-2h3m-3 0h3m-2 1h3m-2-2h3m-3 4h3m-2-3h3m-3 0h3m-2 1h3m-3 1h3m-1-1h3m-1 0h3m-2 2h3m-3-4h3m2 3h3m-3-3h3m-3 0h3m-3 2h3m-3-1h3m-3 3h3m-2 1h3m-3-5h3m-3 2h3m-2 2h3m-3 1h3m-3-2h3m-2 1h3m-1-4h3m-1 2h3m-3-1h3m-3-1h3m0 5h3m-3-4h3m-3 0h3m-2 4h3m-3-4h3m-2 1h3m-3-1h3m-2 3h3m-2 1h3m-3 0h3m-3 0h3m-2 0h3m-1-2h3m-2-1h3m-1-1h3m-1 0h3m-3 1h3m-1 1h3m-2-1h3m-2 0h3m-2 2h3m2-1h3m-94 4h3m-1 0h3m-3 1h3m19 3h3m-2 0h3m-2-2h3m-2 2h3m-2-3h3m0-1h3m-2 3h3m2 1h3m-2-4h3m-2 0h3m-2 4h3m-3 0h3m-2-4h3m-2-1h3m-2 2h3m-3 0h3m-2-2h3m1 2h3m-3-1h3m0 4h3m-3-4h3m-2 0h3m-2-1h3m-3 4h3m-1-2h3m-2-2h3m-2 4h3m-3-3h3m-2 1h3m-1 0h3m-3 3h3m-2-2h3m0 1h3m-3 0h3m-2 0h3m-3-4h3m-2 1h3m-3-1h3m-3 3h3m-3 2h3m-1-1h3m-2-4h3m-3 1h3m-3 0h3m-2 3h3m-2-4h3m-3 1h3m-2-1h3m-1 4h3m-3-2h3m-1 0h3m1 2h3m-2 0h3m-2 1h3m-3 0h3m-2-2h3m-2 0h3m-2 0h3m-2 0h3m1 0h3m-3 0h3m10 1h3m0 1h3m-108 5h3m14 0h3m0-1h3m0-2h3m-3 4h3m1 0h3m-2-3h3m4 1h3m-2 0h3m-1 0h3m-3 0h3m2 1h3m-2-1h3m-1 2h3m-2-4h3m-2 4h3m-2-1h3m-1-1h3m-2-2h3m0-1h3m-2 2h3m-3 2h3m-2-1h3m-3-2h3m-3 0h3m-2-1h3m-3 5h3m-2-3h3m-2 3h3m-3-4h3m0 1h3m-2 1h3m-1 1h3m-3-3h3m-3 3h3m-1-1h3m-2 1h3m-3-1h3m-3 2h3m-2 0h3m-1-2h3m-2-1h3m-3 1h3m-3 2h3m-1-4h3m-3 1h3m-3-2h3m-2 5h3m-2 0h3m-1-4h3m6 3h3m0-1h3m1-3h3m19 1h3m-121 5h3m-3 4h3m20-3h3m-2 2h3m-3-1h3m-1-2h3m-3 5h3m-2-5h3m-2 4h3m-2-1h3m-1 0h3m-2-1h3m-1-2h3m-2 5h3m-3-2h3m-3 1h3m-2 0h3m1-1h3m0 1h3m-2 1h3m-2-2h3m-3-3h3m-1 2h3m-3-2h3m-3 2h3m-2 2h3m-3-1h3m-1 0h3m-3-2h3m-3 3h3m-3-3h3m-2 2h3m-1-1h3m-3 1h3m-3 0h3m-1 1h3m-1-3h3m-2 3h3m-3-4h3m-3 1h3m-3 2h3m-3-1h3m-2 3h3m-2-1h3m-3-2h3m-1 2h3m-3-2h3m-2 0h3m-3 0h3m-3-2h3m-3 0h3m-3 0h3m-2 3h3m-3 1h3m-3-2h3m-2-1h3m-2 2h3m-3-2h3m-2 0h3m-3 1h3m-3 2h3m-2-1h3m-3-3h3m-3 4h3m-2-2h3m-1 2h3m-3-4h3m-3 0h3m-2 3h3m-3 1h3m-3-3h3m-3 3h3m-1-2h3m0-2h3m-3 2h3m-1 0h3m-2 0h3m0-2h3m-3 1h3m-3 4h3m1-1h3m1-3h3m0 2h3m0 2h3m-100 6h3m-2-2h3m17 1h3m1 1h3m5-4h3m-2-1h3m0 1h3m-2-1h3m-2 1h3m-3 3h3m-2-2h3m-1 1h3m-3 1h3m-2 1h3m-3 0h3m-3-2h3m-2 1h3m-3-2h3m-3-1h3m-2 1h3m-2 0h3m-3 0h3m-3 0h3m-2-1h3m-3 0h3m-1 4h3m-3-4h3m-3 3h3m-3-2h3m-3 2h3m-2 0h3m-3-4h3m-2 3h3m-2-1h3m-2 1h3m-3-1h3m-2 0h3m-2 3h3m-2 0h3m-3-2h3m-3-3h3m0 5h3m-3-3h3m-2 2h3m-3 1h3m-2-2h3m0 1h3m-3 1h3m-2-2h3m0 2h3m-2-5h3m-3 2h3m-3-1h3m-2 0h3m-2 4h3m-3-5h3m-2 2h3m-1 0h3m-3 0h3m-1 1h3m-2-1h3m-2-2h3m-1 5h3m-1-3h3m2-2h3m-3 3h3m-1 1h3m-1 1h3m-3-4h3m0 0h3m-2 1h3m-1 2h3m11-1h3m-114 4h3m-2-1h3m-3 3h3m5-3h3m0 4h3m2 1h3m-2 0h3m4-4h3m-1 3h3m1 1h3m-3-5h3m-1 3h3m-3-3h3m-3 1h3m-3 4h3m-2 0h3m-1-2h3m-3 0h3m0 1h3m-2-4h3m-3 1h3m1 3h3m-3-4h3m-2 4h3m-2-4h3m-3 2h3m-2 1h3m-3 2h3m-3-4h3m-3 3h3m-2-2h3m-1 0h3m-3 3h3m-3-3h3m-2 1h3m-2-2h3m-3-1h3m-2 4h3m-3-4h3m-3 3h3m-3-3h3m-2 0h3m-2 5h3m-2-2h3m-3 2h3m-2-5h3m-3 5h3m-2 0h3m-3-3h3m-2-2h3m-1 3h3m-2-2h3m-3-1h3m-1 4h3m-2-3h3m-3-1h3m-2 1h3m-3-1h3m-3 2h3m-2 0h3m-3 0h3m-3 1h3m-2-2h3m-3 3h3m-2-3h3m-2 4h3m-1-5h3m-3 3h3m-2 1h3m-2-4h3m4 1h3m0 4h3m-3-3h3m0 3h3m1-5h3m2 0h3m4 3h3m-105 5h3m8-1h3m-3 2h3m2-1h3m-2 1h3m0 2h3m-1-5h3m-1 3h3m-1-2h3m-3-1h3m-3 5h3m-1 0h3m-3-3h3m-2-1h3m-3 2h3m1 0h3m-1-1h3m-1 3h3m-2-2h3m-2-2h3m-1 3h3m-3-2h3m-3 1h3m-1 2h3m-2-1h3m-3-1h3m-2 1h3m-2 0h3m-3-4h3m-2 2h3m-1-1h3m-3 1h3m-3 3h3m-2-3h3m-3 3h3m-3-5h3m-2 2h3m-1-2h3m-2 1h3m-3 0h3m-2-1h3m-3 2h3m-2-2h3m-2 5h3m-2-3h3m-1 2h3m-3-4h3m-2 3h3m-1 2h3m-2-1h3m0-1h3m-1 2h3m-2-4h3m-3 4h3m-3-1h3m-2 0h3m-1-1h3m-1-2h3m-2 1h3m-1-1h3m-3 3h3m-3-4h3m5 2h3m1-1h3m-2 4h3m-95 4h3m-2-2h3m-3-1h3m-2 0h3m10 5h3m1 0h3m-1 0h3m-3-4h3m-1 3h3m2-1h3m0-2h3m-3-1h3m-1 5h3m-2-5h3m-1 3h3m-3 1h3m-2 1h3m-3-5h3m-3 3h3m-2-2h3m-3 3h3m-3 1h3m-3-3h3m-1 3h3m-3-5h3m-3 3h3m-2-3h3m-3 2h3m-3 3h3m-1-5h3m-2 4h3m-2-1h3m-3 2h3m-2-5h3m-2 0h3m-3 2h3m-1 3h3m-3 0h3m-2-3h3m-2 3h3m-3 0h3m-3-1h3m-2-1h3m-3-3h3m-2 3h3m-3 1h3m-1 1h3m-2 0h3m-3-5h3m-3 3h3m-2 2h3m-3 0h3m-3 0h3m-2 0h3m-3-5h3m-1 1h3m-3 4h3m-2-3h3m-2 2h3m-3 0h3m-3-4h3m-2 2h3m-3 1h3m-3-3h3m-3 5h3m-3-3h3m-2 2h3m-2 1h3m-2 0h3m-3-1h3m-2-1h3m-2 0h3m-2 0h3m-1 0h3m-2 0h3m-1-2h3m-2 2h3m-2-3h3m-1 0h3m-3 2h3m-2 3h3m-3-4h3m-3 3h3m-2-4h3m-3 2h3m-3-1h3m1 1h3m-3 1h3m-3 2h3m-2-2h3m-1 2h3m-2-3h3m-2 1h3m1-3h3m-96 10h3m-2-2h3m11 2h3m4-2h3m-1 0h3m-2 0h3m-3 2h3m-2-3h3m-3 1h3m-3 1h3m-2 1h3m-2-1h3m-2-2h3m-2 1h3m-3 2h3m-1-2h3m-2-2h3m-3 4h3m0-3h3m-2 3h3m0-4h3m-2 5h3m-3-5h3m-2 2h3m-2 0h3m-2 2h3m-3-4h3m-3 1h3m-2 2h3m-3-1h3m-3 3h3m-1 0h3m-3-1h3m-2 1h3m-3 0h3m-3-3h3m-3 0h3m-2 3h3m-3 0h3m-3-5h3m-2 3h3m-2 2h3m-2-5h3m-2 3h3m-3 1h3m-1-2h3m-3 2h3m-3 1h3m-1-1h3m-3 1h3m-2-2h3m-2 1h3m-3-1h3m-2-2h3m0 1h3m-2-1h3m-2 1h3m-2-2h3m-2 1h3m-2-1h3m-1 5h3m-2-5h3m-2 4h3m-3-3h3m0-1h3m-2 4h3m-3-2h3m-2-2h3m-2 4h3m-1-2h3m4 3h3m-3-1h3m-88 2h3m2 1h3m0 0h3m1 3h3m-1-4h3m-2 2h3m-2 0h3m-3-1h3m-1 2h3m-3 0h3m-2-1h3m-2 2h3m-3 1h3m-3 0h3m-3-5h3m-1 0h3m-1 3h3m-2 0h3m0-2h3m-3 3h3m-3-1h3m4-1h3m-3 2h3m-3-3h3m-3 2h3m-2 1h3m-1 0h3m-3-2h3m-3 0h3m-2 1h3m-2-1h3m-2 0h3m-2 3h3m-3-2h3m-2-1h3m-2-1h3m-3 0h3m-3-1h3m-3 4h3m-2-1h3m0-2h3m-1 0h3m-3 3h3m-3-4h3m-3 2h3m-2 3h3m-3-2h3m-2-1h3m-3 2h3m1-1h3m-3-3h3m-3 3h3m-3-2h3m-3-1h3m0 5h3m-1 0h3m-3-2h3m-3 2h3m-3-3h3m-2 3h3m-3-2h3m-2-2h3m-2 3h3m0-3h3m-1 4h3m-2-1h3m-2-1h3m4 1h3m-2-1h3m-2-1h3m-2-2h3m-1 2h3m-3 1h3m-2 1h3m0-2h3m-1 3h3m2-3h3m3-2h3m-104 9h3m7-1h3m0 3h3m0-4h3m-1 0h3m-2-1h3m-2 3h3m1-3h3m0 3h3m-2-3h3m-3 0h3m-3 0h3m-2 1h3m-3-1h3m-2 5h3m0-1h3m-3-2h3m-3 2h3m-1-1h3m-1-2h3m-3 4h3m-2-3h3m-2-2h3m-2 0h3m-3 5h3m-3-3h3m-1 3h3m-3-1h3m-2-4h3m-2 4h3m-3-3h3m-2 2h3m-2-1h3m-1 2h3m-2 0h3m-2-2h3m-3 0h3m-3-1h3m-3 4h3m-2-2h3m-2 2h3m-2 0h3m-3-3h3m0 2h3m-3-2h3m-3 1h3m-3-3h3m-2 5h3m-3-1h3m-2-2h3m-1 2h3m-2 0h3m-3-1h3m-2-2h3m-3 4h3m-3-5h3m-1 2h3m-2-1h3m-3-1h3m-1 1h3m-2 1h3m1 2h3m-2 1h3m-3-1h3m1 1h3m-2-1h3m-2-2h3m-3-2h3m1 2h3m-3 1h3m-2-1h3m-3 3h3m2 0h3m2-4h3m-2 0h3m-94 5h3m11 0h3m-3 4h3m-2 0h3m-2-4h3m0 2h3m3 1h3m-3-1h3m-2-2h3m-2 1h3m-3-1h3m-2 5h3m-3-3h3m-2 2h3m-3-3h3m-2 4h3m-3 0h3m-3-3h3m-1 2h3m-2-3h3m-3 1h3m0-1h3m-2 4h3m-3-4h3m-3 1h3m-2 0h3m-3 1h3m-2-1h3m-3-1h3m-3-1h3m-2 0h3m-3 5h3m-2-3h3m-2 2h3m-2-1h3m-1-2h3m-1 1h3m-3 3h3m-3-1h3m-1-2h3m-3 3h3m-3-5h3m-3 4h3m-1-1h3m-2-3h3m-2 2h3m-2 0h3m-1-2h3m-2 3h3m-1-2h3m-2 2h3m-2-1h3m-3 3h3m-2-1h3m-3-3h3m-2 2h3m-3 2h3m-2-1h3m-3-1h3m-3 2h3m-2-5h3m-3 5h3m-3 0h3m2 0h3m2-2h3m-3 0h3m-2-3h3m-1 5h3m5 0h3m1-2h3m-98 6h3m4 2h3m1-1h3m0 0h3m4 1h3m0-3h3m3-2h3m-2 1h3m-3 4h3m-2-1h3m-2 0h3m-2-3h3m-2 0h3m-1 3h3m-1-1h3m-2 2h3m-3-2h3m-2 0h3m-2 0h3m-3-3h3m-3 5h3m-3-1h3m-2-3h3m-3 3h3m-1-4h3m-3 0h3m-3 2h3m-3-2h3m-2 3h3m-3-3h3m-3 0h3m-2 5h3m-1-2h3m-3-3h3m-2 1h3m-1-1h3m-2 4h3m-1-2h3m-3 2h3m-3 0h3m-2-4h3m-2 1h3m0 3h3m-3 0h3m-1-4h3m1 4h3m0-1h3m-3-3h3m-1 4h3m2-1h3m-2 1h3m4-1h3m21-3h3m-109 11h3m7-2h3m0-3h3m-1 4h3m-2 1h3m3-2h3m-2-1h3m-2 2h3m1-1h3m-2-3h3m2 1h3m-2 2h3m0 1h3m-3-2h3m-3 1h3m0-1h3m-3 0h3m-2 0h3m-3 2h3m-2-2h3m-3 3h3m-3-5h3m-2 1h3m-3-1h3m-1 0h3m-2 2h3m-1-1h3m-1 4h3m-2-5h3m-1 2h3m-1 0h3m-3-2h3m-2 3h3m-3 0h3m-1-1h3m0 2h3m-3 1h3m-2-4h3m-2 4h3m-2-3h3m-2-2h3m1 5h3m0-1h3m0-2h3m2-2h3m-2 2h3m-82 9h3m1-1h3m-1 0h3m-1 1h3m6 0h3m-2-5h3m-3 1h3m-1 4h3m0-5h3m-3 3h3m-1 2h3m-2 0h3m-2-5h3m-1 5h3m-2-3h3m-2-1h3m-3 0h3m-2 1h3m-2-1h3m-3 2h3m-3-3h3m-3 0h3m-1 4h3m-2 0h3m-1 0h3m-1-4h3m-2 0h3m-2 2h3m-3 2h3m-2 0h3m-2 1h3m-3-2h3m-3-2h3m-3 4h3m-2-2h3m-2-1h3m-3-1h3m-2-1h3m0 5h3m-2-2h3m0-2h3m-3 2h3m-2-3h3m-2 4h3m-3-4h3m-2 5h3m-2-5h3m-3 0h3m-2 1h3m4-1h3m-2 2h3m-1-1h3m2 0h3m1 4h3m3 0h3m-3-5h3m-91 9h3m10-2h3m0 2h3m2 2h3m-1-2h3m0-3h3m-2 5h3m-3-3h3m-2 0h3m2 1h3m0-2h3m-1 3h3m-3-1h3m-2 0h3m0-2h3m-3 2h3m-3-2h3m-3 0h3m-2 1h3m-1 0h3m3 2h3m-3-3h3m0 3h3m-1-4h3m0 1h3m-3 2h3m-1-2h3m-3 3h3m-1-4h3m-2 3h3m-1 2h3m0-3h3m2 3h3m-2-1h3m1 1h3m0-4h3m-3-1h3m-2 4h3m-1-2h3m-3-2h3m8 1h3m-100 7h3m-1-2h3m-1 1h3m10 0h3m2 0h3m-2 1h3m-2 0h3m0 0h3m-2 2h3m2-2h3m-3-1h3m0 2h3m4-3h3m-1 5h3m1-4h3m-2 1h3m-1 2h3m-2 0h3m-3 0h3m-3-3h3m-2 0h3m-3-1h3m1 4h3m-1-4h3m-1 3h3m-1 1h3m2-4h3m-3 5h3m2-4h3m1 0h3m9 4h3m-92 5h3m9-3h3m1-1h3m1 3h3m2-2h3m1 3h3m-3-3h3m4 3h3m-3-2h3m-1 1h3m-3 1h3m1-3h3m-1 0h3m-3 3h3m-2-3h3m-2 2h3m-2-3h3m-1 5h3m-2-1h3m-2-1h3m-1 2h3m-2-1h3m-3-3h3m-1 3h3m-3-1h3m-3-3h3m2 4h3m4 1h3m1-4h3m13 0h3m-1-1h3m5 1h3m-85 10h3m-3-4h3m8 1h3m-2 0h3m0 1h3m2 1h3m-2-4h3m7 3h3m-2 2h3m-3-5h3m-1 3h3m-1 2h3m-1 0h3m-1-2h3m-3-1h3m-2 0h3m-3 1h3m-2 0h3m-3 0h3m1-2h3m-1 1h3m-1-1h3m-1 4h3m12 0h3m2-2h3m21 2h3m-111 1h3m12 0h3m-1 1h3m-1 3h3m-2-4h3m-3 4h3m-3-1h3m4-3h3m9 3h3m-1-1h3m-3-2h3m-1 5h3m-3-5h3m-2 0h3m-2 0h3m1 2h3m-1 2h3m-2-4h3m-2 2h3m-2-2h3m-2 3h3m-1-2h3m0-1h3m-3 4h3m-2 0h3m7-4h3m-2 2h3m-3 1h3m-3-1h3m-63 7h3m3-1h3m4-1h3m0 1h3m0 2h3m-2-2h3m-1 1h3m-1 0h3m-1 2h3m-3 0h3m1-4h3m-3 1h3m-2 3h3m-1-3h3m-2 3h3m-2-5h3m-2 1h3m3 3h3m-3-2h3m0 0h3m0-2h3m-2 0h3m-3 5h3m0-3h3m-2-1h3m0-1h3m-3 2h3m0-1h3m3-1h3m-82 8h3m18-1h3m-1 3h3m1-2h3m-1-1h3m2 3h3m-2-2h3m-2 1h3m-2-1h3m-1 2h3m0 1h3m-1-5h3m0 0h3m8 0h3m-2 2h3m-1 2h3m0 0h3m-2-2h3m-2-2h3m2 0h3m-3 3h3m-3-3h3m-1 1h3m2 2h3m-2-1h3m-85 6h3m24 2h3m4-4h3m8 0h3m-2 0h3m-1 1h3m1 0h3m-1 3h3m-1-4h3m1 3h3m-1-1h3m2 2h3m-1 1h3m-1-5h3m4 0h3m-69 9h3m13-3h3m13 0h3m-3 2h3m-2 3h3m1-5h3m1 4h3m-1-1h3m6 2h3m0 0h3m9-5h3m-60 8h3m6-1h3m2 0h3m0 1h3m4-1h3m1 1h3m1 1h3m2 1h3m-29 3h3m2 2h3m23-2h3m2 1h3m-2 1h3m1-3h3m-41 6h3m8 4h3m-19 7h3m32-2h3m6-3h3m-65 7h3m32-1h3m15 1h3m5 1h3m-8 4h3m-21 8h3m5-1h3m-7 12h3" stroke="#ff0000" stroke-width="3" stroke-opacity="0.6" fill="none"/>
<path transform="scale(.5)" d="M947 552h3m-24 7h3m-1 4h3m-1 0h3m20-1h3m-34 7h3m14-4h3m-34 10h3m4-2h3m-2 2h3m-1-4h3m1 2h3m-2 0h3m0-3h3m-2 2h3m2-2h3m0 3h3m11 1h3m-2 1h3m-61 4h3m2 1h3m-2-1h3m19 1h3m0 0h3m-2 1h3m-3 0h3m0-2h3m1 2h3m0-1h3m-3-2h3m0 3h3m11-5h3m-93 9h3m38 2h3m3-4h3m6 1h3m-2-1h3m-3 4h3m-2-1h3m-2-3h3m-3 2h3m-1 0h3m0-2h3m-3 0h3m-2 0h3m-2 2h3m-1 2h3m-2-5h3m-3 3h3m-3-3h3m-2 1h3m-3 0h3m0 4h3m-3-1h3m0-1h3m1-3h3m2 4h3m-1-3h3m7 4h3m-71 3h3m3-2h3m3 1h3m3 3h3m-3 0h3m0-2h3m-2 3h3m-2-5h3m1 5h3m-3-4h3m2 0h3m-1 2h3m-3 1h3m-2 1h3m-2-4h3m-3 0h3m-1 2h3m-1 0h3m0-1h3m-1-1h3m-2 3h3m-1 1h3m-3 0h3m-1-1h3m1 0h3m9-2h3m-63 8h3m-3 1h3m-2 0h3m2-2h3m1 1h3m-1 1h3m-2 0h3m2-5h3m-3 4h3m0 0h3m-2 0h3m-2 1h3m0 0h3m-3 0h3m-3 0h3m0-1h3m-1-1h3m-3-3h3m-3 2h3m-3 3h3m-2-3h3m-3-2h3m0 1h3m-3 2h3m-1 2h3m-1-2h3m-1 1h3m-1 1h3m1-1h3m-87 2h3m13 5h3m4-3h3m-1 3h3m8-4h3m-1 3h3m3 1h3m-2-1h3m-3-2h3m-2 2h3m-2-1h3m-2 2h3m-2-5h3m-2 3h3m-3-1h3m-1 2h3m-1-1h3m-1 2h3m-1-3h3m-1 1h3m2-2h3m-2 4h3m-3 0h3m-2-4h3m-3 4h3m0-2h3m-3-1h3m-2-2h3m-3 1h3m-3-1h3m-2 0h3m-2 0h3m-3 1h3m-2 4h3m-2-3h3m-3 3h3m-3-1h3m-3-4h3m-3 0h3m-3 2h3m-3 3h3m-2-5h3m-2 4h3m0-4h3m-2 1h3m-1 0h3m-2 1h3m-1 0h3m-3-2h3m-2 0h3m-2 2h3m5 2h3m-98 3h3m-2 2h3m21 0h3m5 2h3m3-3h3m-2 3h3m-3 0h3m0 0h3m-2-4h3m-3 2h3m-3-3h3m0 3h3m-3-3h3m-3 1h3m-2 0h3m-1 3h3m-1-3h3m-2 1h3m-3-1h3m-1 4h3m-2 0h3m-3-5h3m-2 1h3m-2-1h3m-2 5h3m-2-5h3m-2 5h3m-3-5h3m-2 5h3m-3-5h3m-3 0h3m-2 5h3m-2 0h3m-2-5h3m-2 2h3m-1 3h3m-2-5h3m-3 4h3m-2-3h3m0-1h3m0 5h3m0-3h3m0 1h3m-3-1h3m8 3h3m-95 1h3m24 3h3m10 0h3m-2 0h3m-1 2h3m-1-5h3m-1 0h3m0 3h3m-3 1h3m-3 0h3m-1 0h3m-2-4h3m-1 3h3m-2-2h3m-3 1h3m-3-2h3m-2 3h3m0 0h3m-3 0h3m-2 0h3m-3-2h3m1-1h3m-1 4h3m-3 1h3m-3-5h3m-2 0h3m-2 3h3m-3-1h3m-2 0h3m-3-1h3m-1 4h3m-2-5h3m-2 4h3m-3 1h3m-2 0h3m-2-5h3m-3 3h3m2 1h3m0-4h3m-1 5h3m4 0h3m-1-5h3m-99 10h3m-3-3h3m-3 2h3m-3 0h3m12 0h3m2 2h3m0-2h3m2 1h3m-3-3h3m-3-1h3m0 0h3m-1 5h3m-3-4h3m0 4h3m-3 0h3m-2-2h3m-1-2h3m-2 0h3m-2 3h3m-2-4h3m-3 3h3m-2 1h3m-2 1h3m-3-3h3m-1-1h3m-3-1h3m-2 5h3m-3-2h3m4-3h3m-3 4h3m-2-4h3m-2 1h3m-2-1h3m-2 2h3m-2 3h3m-3-2h3m-2-3h3m-1 2h3m-3-2h3m-2 3h3m-3 1h3m-2-1h3m-3 1h3m-3 1h3m-1-3h3m-2 2h3m-2-4h3m-2 4h3m-3-4h3m-1 2h3m-3 0h3m-2 2h3m-3-2h3m-3-2h3m-2 1h3m-1 2h3m-2 1h3m-3-3h3m-2 2h3m-1-2h3m-2 1h3m1-1h3m-1 2h3m4-2h3m-3 1h3m1 3h3m0-5h3m-104 7h3m-2 4h3m-3 0h3m1 0h3m6-4h3m0 4h3m2-5h3m2 2h3m0 0h3m0 2h3m-3-1h3m-2 1h3m-2 1h3m-2-5h3m-3 2h3m-3-1h3m0-1h3m-3 3h3m-3-2h3m-2-1h3m-2 4h3m-2 0h3m-3 1h3m-3-2h3m-1-2h3m-2 1h3m-2 3h3m-3 0h3m-2-3h3m-3 3h3m-2-4h3m-3-1h3m-2 4h3m-2-4h3m-3 1h3m-2 4h3m-2-1h3m-3-1h3m-2 2h3m-3-4h3m-2 3h3m-3 1h3m-3-2h3m-2-2h3m-3 0h3m-3 4h3m-2-3h3m-3 1h3m-2 0h3m-3 0h3m-3 1h3m-3 1h3m-2 0h3m-2-3h3m-2 1h3m-3 2h3m-2-4h3m-3 1h3m-1-1h3m-3 0h3m-3 2h3m-2-2h3m-2 2h3m-2 2h3m-3-1h3m-1-3h3m-3 3h3m0-1h3m-2-3h3m-3 4h3m1 1h3m-3-4h3m-1 4h3m-2-1h3m-1-3h3m-2 0h3m-2-1h3m-2 0h3m4 5h3m-94 6h3m-2 0h3m0-4h3m1 4h3m5-3h3m3 1h3m0-1h3m1 2h3m-3 0h3m1-2h3m-2 1h3m-2-1h3m-2 3h3m0-2h3m-1-1h3m-2-1h3m-2-1h3m-2 2h3m-3 0h3m2 2h3m-1-2h3m-3 1h3m-3 1h3m-2-3h3m-2 2h3m-3 2h3m-3 0h3m-1-2h3m-2-2h3m-3 2h3m-2-1h3m-3 2h3m-2-2h3m-3-2h3m-2 5h3m-3 0h3m0 0h3m-3-1h3m-2 1h3m-3-4h3m-2 4h3m-3 0h3m-1-5h3m-3 5h3m-3-5h3m-1 5h3m-2-1h3m-3 1h3m-3-1h3m-3 0h3m-3-2h3m-2 1h3m-3 1h3m-2-2h3m-3 0h3m-2 2h3m-3-3h3m-2 0h3m-2 1h3m-3 2h3m-3 1h3m-3 0h3m-2-2h3m-1 2h3m-3-1h3m-2 0h3m3-3h3m5 0h3m-95 5h3m7 3h3m2-3h3m-2 4h3m0 0h3m5 0h3m-3-3h3m-1 0h3m-2 4h3m-3-2h3m-3 0h3m-2-2h3m-2 4h3m-3-5h3m-1 0h3m-2 5h3m-1 0h3m-1-4h3m-2 2h3m-3 2h3m2-5h3m-3 2h3m-3-1h3m-2 0h3m-3 2h3m-3-1h3m-2 3h3m-2-5h3m0 2h3m-2-2h3m-2 1h3m-3 3h3m0 0h3m-3-1h3m-3 0h3m-2 0h3m-3-3h3m-3 4h3m-3-1h3m-3-3h3m-2 5h3m-3-3h3m-2 2h3m-3-2h3m-3-1h3m-2-1h3m-3 4h3m0 1h3m-3-3h3m-3-2h3m-1 5h3m-1-2h3m-2-3h3m-3 3h3m-3 1h3m-2-2h3m-3 2h3m0 1h3m4-4h3m2 3h3m4-2h3m-2-2h3m-95 6h3m-2 0h3m-2 3h3m3-1h3m-3-1h3m2 4h3m3 0h3m2 0h3m0-4h3m-2-1h3m-3 0h3m4 5h3m-3-5h3m-2 0h3m-3 2h3m-1-2h3m-2 4h3m-2 0h3m-1 0h3m-2-4h3m-1 3h3m-2-3h3m-3 3h3m-2-2h3m-3 2h3m-3-3h3m-2 2h3m-3 1h3m-3-2h3m-2-1h3m-2 4h3m-3-2h3m-2 3h3m-2-3h3m-3 0h3m-2 1h3m-3-1h3m-2-1h3m-3 1h3m-2 2h3m-2-1h3m0 2h3m-2-1h3m-3-3h3m-3 3h3m-1-3h3m-2 1h3m-3-1h3m-3 3h3m-3-4h3m-2 4h3m-1-1h3m-3 0h3m-3-2h3m-3 4h3m-3-4h3m-2 2h3m-3 1h3m-2 1h3m-2-4h3m-3 3h3m-2-3h3m-3-1h3m-3 2h3m-1-1h3m-3 2h3m-1-2h3m2 0h3m-3 2h3m-3 2h3m-3-5h3m-2 0h3m-1 0h3m-3 4h3m1-4h3m0 0h3m-2 0h3m1 3h3m1-1h3m-2-1h3m-101 9h3m0-1h3m6 0h3m-2-3h3m-2 3h3m-2 0h3m0-2h3m-2 2h3m-3 0h3m-3 2h3m-2-4h3m-3 2h3m-3 2h3m-2-3h3m-2 0h3m0 3h3m-2-1h3m-3-1h3m-2 1h3m-2 1h3m-2-2h3m2-1h3m-3 1h3m-2 1h3m-3-4h3m-1 0h3m-1 5h3m-3-5h3m-2 4h3m-2-3h3m1 4h3m-3-3h3m-1 3h3m-3-2h3m-3 0h3m-2 0h3m-3-3h3m-3 1h3m-3 1h3m-3 0h3m-2 0h3m-3-1h3m-3 4h3m-2-3h3m-2-1h3m-3 1h3m-3 0h3m-3 0h3m-2 1h3m-1 0h3m-3 2h3m-3-3h3m-2 1h3m-1 0h3m-2-3h3m-1 4h3m-2-4h3m-2 1h3m-3 3h3m-2-3h3m-3-1h3m-3 3h3m-3 1h3m-3 0h3m0 0h3m-3-3h3m-2 3h3m-3-2h3m-2 3h3m-3-1h3m-1-1h3m1 1h3m1-1h3m0 2h3m-3-3h3m2 0h3m-3 1h3m0-1h3m-91 5h3m-1 3h3m0-4h3m0 4h3m4 1h3m-3-2h3m-1 0h3m0 0h3m-1-1h3m-2-2h3m-3 3h3m-1-2h3m-3 2h3m0 0h3m0-1h3m-2-1h3m-3 3h3m-1-3h3m-2 2h3m-2 0h3m-3-3h3m-2 2h3m-3 0h3m-3 1h3m-2-3h3m-3 1h3m-1 0h3m-3 1h3m-2 1h3m-2 2h3m-3-1h3m-3-3h3m-1 1h3m-3-1h3m-3 0h3m0 2h3m-2 1h3m-2-2h3m-2 3h3m-2-2h3m-2-2h3m-2 3h3m-2-4h3m-2 5h3m-3-5h3m-3 4h3m-2 1h3m-1-1h3m-2 1h3m-2-4h3m-3 4h3m-3-5h3m-2 2h3m-2 3h3m-2-1h3m-1-3h3m-1 0h3m-3 1h3m-2-1h3m0 1h3m-1-2h3m-3 4h3m-3-3h3m-2 0h3m-2 0h3m-2 1h3m-3 0h3m-1 2h3m-3-2h3m-3-2h3m0 1h3m0 1h3m2 1h3m-1-2h3m1-1h3m-100 6h3m1 5h3m5-4h3m-3-1h3m1 5h3m-1-2h3m-2-1h3m-3 0h3m0 0h3m-3 3h3m-1-3h3m-3 2h3m-2 0h3m-2 1h3m1-5h3m-3 4h3m-3 1h3m0-5h3m-3 3h3m-2 1h3m-3 0h3m-2-2h3m-3 0h3m-2 1h3m-2-1h3m-3 3h3m-3-2h3m-2 1h3m-2 1h3m-3 0h3m-2-1h3m-3-3h3m-1 3h3m-2-3h3m0 0h3m-2-1h3m-2 5h3m-2-1h3m-2-1h3m-2 1h3m-2-1h3m-3 0h3m-3 2h3m-3-5h3m-1 4h3m-1-3h3m-3 4h3m-2-2h3m-2 1h3m-1-2h3m-2-2h3m-2 4h3m-2 0h3m-3 0h3m-2-2h3m-2 2h3m-3-1h3m-2 1h3m-3-3h3m-3 1h3m-3 1h3m-2 0h3m-3 1h3m-2-1h3m1-1h3m-2 3h3m-3-4h3m-2 1h3m1 0h3m0-1h3m-1 0h3m-1 3h3m4-1h3m-3 0h3m4-1h3m15 0h3m-119 9h3m-2-2h3m6 2h3m-1-2h3m4 1h3m-3 1h3m2 0h3m-3 0h3m-3-3h3m-2 0h3m-1 2h3m1-2h3m-1 0h3m-2 1h3m-3-3h3m-3 2h3m0 3h3m-2 0h3m-2-3h3m-3-1h3m-2 0h3m-2 2h3m-2 0h3m-2 0h3m-3 0h3m-3 0h3m-3-3h3m-1 4h3m-3 0h3m-3-2h3m-3-2h3m-2 0h3m-3 1h3m-2 2h3m-3 0h3m-1-1h3m3-2h3m-2 3h3m-3 0h3m-2-1h3m-2 0h3m-2 0h3m-3 0h3m-1-1h3m-1 2h3m-2 0h3m2-3h3m-3 5h3m-3-4h3m-2 4h3m-3-1h3m1-3h3m-2 0h3m0 0h3m0 4h3m2-3h3m-3 2h3m3-3h3m1 1h3m-1 0h3m-102 9h3m-2-4h3m9 0h3m-3 2h3m-2-3h3m3 0h3m1 0h3m-2 4h3m-2-2h3m-1 3h3m-1-1h3m-3-2h3m-3-2h3m-3 4h3m1-2h3m-2 1h3m-3 0h3m-2 0h3m0-1h3m-3 3h3m-2-2h3m-3-3h3m0 4h3m-3 0h3m2-2h3m-3 0h3m-1 0h3m-2-2h3m-3 2h3m-3 0h3m-2 3h3m-3-3h3m-2 0h3m-2 0h3m-3 3h3m-2-2h3m1 2h3m-3-2h3m1 2h3m-3 0h3m-2 0h3m-2-5h3m-3 5h3m-2 0h3m-3-4h3m-2-1h3m-3 4h3m3 1h3m-1-5h3m-2 5h3m0 0h3m1-1h3m7 1h3m-1 0h3m4-3h3m-104 8h3m-2-2h3m1 0h3m8 1h3m-1 1h3m1-1h3m-1 1h3m-3-4h3m1 0h3m-1 4h3m0-1h3m-3 2h3m-1-5h3m-3 0h3m-3 1h3m-2-1h3m-1 1h3m-3-1h3m-2 0h3m-2 5h3m-3-2h3m-2-3h3m-3 4h3m-2-1h3m-1-2h3m-3 1h3m-2 2h3m-3 0h3m-2-1h3m-2-1h3m0 1h3m-3 2h3m-3-2h3m-2 0h3m-3 0h3m-2 1h3m-3-1h3m-1-3h3m-3 3h3m-2 0h3m-2 2h3m-3-2h3m-1 1h3m-3-3h3m-2-1h3m-1 2h3m-3-2h3m-2 0h3m-3 3h3m-2 0h3m-1-3h3m-2 2h3m-3 3h3m-3-2h3m4 2h3m-2-4h3m27 3h3m-108 2h3m-3 3h3m-1 0h3m0-1h3m5-1h3m3 2h3m-2 1h3m-3-2h3m-2 1h3m-2-1h3m-1 1h3m-1-1h3m-2-2h3m-3 4h3m-2 0h3m0 1h3m0-1h3m-3-4h3m-3 0h3m-2 1h3m-2 3h3m-3 1h3m-1 0h3m0-4h3m-1 0h3m-2 4h3m-3-4h3m-2-1h3m-1 3h3m-1-3h3m-3 5h3m-3-1h3m-2-4h3m1 2h3m-3 3h3m-2-3h3m-2 1h3m-2 0h3m-2 1h3m-3 1h3m-2-2h3m-2 0h3m-2 0h3m-1-2h3m-3 1h3m-3 1h3m-3 1h3m-2-4h3m0 1h3m-1 4h3m-2-5h3m-2 3h3m-2-1h3m-1 0h3m-2 1h3m0 0h3m0-3h3m1 4h3m1 0h3m0-3h3m2 3h3m10-1h3m-111 8h3m3-4h3m1 3h3m0 1h3m2-4h3m1 2h3m-2-1h3m-2-2h3m1 0h3m-3 2h3m-2 0h3m2-2h3m-3 5h3m-1-1h3m-3-1h3m-1 2h3m2-1h3m-3-4h3m-2 1h3m-2-1h3m-3 1h3m-1-1h3m-2 4h3m-2-4h3m-2 5h3m-3-4h3m-3 0h3m-1 2h3m-2 0h3m-2 1h3m-1-4h3m-2 4h3m6-3h3m2 0h3m2 4h3m-2-5h3m-2 3h3m2 1h3m-2 1h3m-79 6h3m2-2h3m0 1h3m1 1h3m-1-3h3m0 0h3m0 1h3m-3 0h3m-1 2h3m-1-2h3m-3-3h3m-2 3h3m-3-3h3m-2 1h3m-1 4h3m-3-3h3m-1 2h3m-1-3h3m-2 2h3m-3-1h3m-1-2h3m-3 5h3m-2-2h3m-3-1h3m-3 0h3m-2 2h3m0 1h3m-2 0h3m-3 0h3m-2-4h3m-2 4h3m0-3h3m-3 0h3m-2 2h3m-3-4h3m-2 0h3m-3 5h3m-2-3h3m-3 0h3m-2-1h3m-1 4h3m0 0h3m-2-2h3m-3-1h3m-2 1h3m4 1h3m-72 4h3m4 1h3m11-3h3m-1 1h3m-2 0h3m-1 1h3m-2 0h3m-3 0h3m-2-1h3m-2 1h3m1 3h3m-2 0h3m-3 0h3m-2-1h3m-3 0h3m-2-1h3m-2-2h3m-3 4h3m-1-2h3m-3-3h3m-3 0h3m-2 1h3m-3 2h3m-1 2h3m-3-5h3m-2 2h3m-3-1h3m-2 1h3m-1-1h3m0-1h3m-3 3h3m-1 2h3m-2-5h3m-3 0h3m-1 2h3m-2 1h3m-1-3h3m-2 0h3m-2 0h3m-1 2h3m-3 3h3m-1-4h3m-1 0h3m-3 1h3m0 0h3m-2-1h3m-3 4h3m-3-3h3m-1-2h3m-2 3h3m-2-2h3m-2 1h3m5 2h3m-83 5h3m10 2h3m-2-4h3m-2 2h3m0 1h3m-2-2h3m-3-1h3m-2 0h3m-3 4h3m-1 0h3m3-4h3m-3 0h3m-2 3h3m-2-4h3m-1 0h3m-2 2h3m-3 2h3m0-1h3m-3-1h3m-2 0h3m-1 1h3m-1 2h3m-1-1h3m-3 0h3m0-3h3m-3-1h3m-2 4h3m0-3h3m-2 4h3m1-2h3m-2 2h3m-3 0h3m-2-4h3m-2 2h3m-3 1h3m-2-1h3m-1-1h3m-2 1h3m2 0h3m-2-2h3m0 1h3m-73 7h3m21-1h3m-1-2h3m-2 2h3m0-2h3m1 2h3m-2-2h3m-2 2h3m-2-2h3m-2 1h3m0 0h3m-2-1h3m-2 0h3m-2 5h3m1-4h3m-2-1h3m-2 1h3m-1 0h3m-2 1h3m-2-1h3m5 4h3m3-2h3m-3-1h3m-2 2h3m0-2h3m0 3h3m11 0h3m-97 3h3m3 3h3m7-3h3m-2-1h3m0 2h3m-2-1h3m-1 0h3m0 1h3m-3-3h3m-1 1h3m1 0h3m0 2h3m10-1h3m-1 1h3m-1 1h3m-2-4h3m-2 1h3m-1 0h3m-2 0h3m-1 0h3m-2-1h3m-2 3h3m1-3h3m2 3h3m-1-3h3m-3 1h3m0 1h3m0-1h3m5-1h3m0 0h3m0 1h3m-3 0h3m-71 10h3m-1-5h3m-3 5h3m1-2h3m-2 2h3m4 0h3m-2-2h3m-3-3h3m-2 4h3m-1-2h3m3-2h3m-2 0h3m-2 1h3m2 3h3m-1-2h3m-3 3h3m1-5h3m-3 1h3m-3 1h3m-2 0h3m-3 3h3m-2-4h3m-2 3h3m6-4h3m-75 6h3m9 0h3m-2 0h3m8 0h3m6 1h3m-1 1h3m-2-1h3m-3 2h3m-1 0h3m0-2h3m2 4h3m7-5h3m-2 3h3m-1 1h3m-2 1h3m-3-2h3m9 0h3m-1 0h3m-2-2h3m7 0h3m-71 9h3m2-4h3m0 4h3m0-3h3m-2 4h3m-1-4h3m-2 3h3m11-3h3m1 3h3m5 1h3m-2-5h3m23 3h3m-76 8h3m3-5h3m7 2h3m-2-2h3m-2 1h3m11 1h3m0 0h3m12 3h3m2 0h3m-1 0h3m-1-2h3m13-3h3m-57 8h3m1 1h3m-3-3h3m3 1h3m10-1h3m-1 3h3m3-2h3m4 4h3m13-5h3m-71 7h3m8 0h3m1 1h3m-1-2h3m5 5h3m-3-1h3m3-3h3m3-1h3m6 5h3m3-5h3m3 0h3m-1 4h3m3-3h3m-76 8h3m12-3h3m0 2h3m3 2h3m0-3h3m3 4h3m-1-2h3m17-3h3m-43 10h3m33 0h3m15-3h3m2 0h3m-32 8h3m20 3h3m-55 13h3m20 6h3" stroke="#ff0000" stroke-width="3" stroke-opacity="0.6" fill="none"/>
</svg>
<svg x="630.3" y="240" width="152.9000000000001" height="164.60000000000002" viewBox="630.3 240 152.9000000000001 164.60000000000002" overflow="hidden">
<ellipse cx="700" cy="396" rx="24" ry="11" transform="rotate(0 700 396)" fill="#ff0000" opacity="1" filter="url(#b3)"/>
<path transform="scale(.5)" d="M1383 682h3m-55 13h3m116 3h3m-139 15h3m87-5h3m4 2h3m-121 7h3m22 1h3m40-4h3m10 0h3m68 0h3m-79 10h3m48 0h3m19 0h3m91-3h3m-185 10h3m3 0h3m90-5h3m24 0h3m-219 11h3m2-3h3m-2-2h3m9 5h3m2 0h3m60 0h3m2-4h3m32-1h3m9 0h3m0 1h3m-3 0h3m-1 1h3m10-2h3m12 0h3m-161 11h3m6-3h3m6 1h3m16-3h3m2 4h3m-3-1h3m1-3h3m12 5h3m-2-5h3m2 1h3m-2 4h3m4-1h3m-2-3h3m5 0h3m-1 3h3m0-2h3m-1 0h3m-2 1h3m-2-3h3m-3 5h3m-2 0h3m-2-1h3m-3-4h3m3 3h3m0 2h3m-1-5h3m2 4h3m-2-4h3m-2 4h3m-1-1h3m-1 1h3m-1-4h3m-2 4h3m5-3h3m20 3h3m5-1h3m-3 0h3m12-2h3m-2-1h3m7 1h3m-2 3h3m-202 4h3m4 0h3m1-2h3m1 3h3m17-2h3m-1 0h3m5 2h3m0-3h3m0 4h3m24 1h3m5 0h3m2-4h3m5-1h3m1 3h3m6 0h3m19-2h3m3 2h3m38 2h3m-2-4h3m31 3h3m-220 5h3m0 1h3m0-4h3m9 4h3m11-3h3m-3 0h3m-2 4h3m-3-3h3m-1-2h3m10 5h3m13-4h3m0-1h3m3 4h3m2-2h3m10 3h3m-3-3h3m0-2h3m2 4h3m-3-4h3m-1 3h3m1 2h3m-2-1h3m-3-3h3m0 3h3m-3-1h3m-2 2h3m-2-3h3m4 3h3m0-5h3m4 0h3m-2 4h3m-3 0h3m-3 1h3m-1-3h3m2 1h3m0 0h3m3 2h3m-1-1h3m-2-2h3m9 3h3m-2-2h3m5 1h3m0 1h3m3-4h3m0 2h3m0 2h3m54-1h3m-241 7h3m8-4h3m4 4h3m-3-3h3m1-2h3m-2 1h3m3 3h3m2 1h3m33 0h3m-3-4h3m-1 3h3m-3 0h3m-2-3h3m-1-1h3m0 4h3m0 1h3m-3-5h3m10 3h3m0-2h3m-1 2h3m-1-1h3m-1 0h3m-3 1h3m-3-2h3m-1 0h3m0 4h3m1-4h3m6 4h3m-3-2h3m-1 1h3m-2-1h3m0 1h3m-3-1h3m-1-3h3m-3 1h3m-1 4h3m1-4h3m3-1h3m-1 4h3m-2 0h3m9-4h3m3 3h3m-2 2h3m1 0h3m4-5h3m-2 3h3m-3-3h3m1 1h3m3 4h3m5-3h3m27 2h3m-229 3h3m4 1h3m-3 3h3m9-5h3m-3 4h3m-3-3h3m5 1h3m4 0h3m3 3h3m3-5h3m0 0h3m0 4h3m7 1h3m-3-5h3m0 2h3m-3 3h3m3-1h3m-2-2h3m-3-2h3m-2 2h3m0 3h3m3-2h3m0 0h3m1-2h3m1 3h3m0 1h3m-2-4h3m0 4h3m-1-2h3m0-1h3m-3-2h3m-1 3h3m-2-2h3m-3 1h3m-2-2h3m-1 4h3m-3-4h3m-2 2h3m-2 1h3m-3 1h3m-2 0h3m-2 0h3m0 0h3m-3-3h3m-2 2h3m-3-1h3m-2-2h3m-1 4h3m0-4h3m-1 2h3m0-2h3m-2 5h3m0-4h3m1 4h3m-3-3h3m-2 2h3m-3-4h3m-1 2h3m-2 3h3m0-5h3m-1 3h3m-1-2h3m0-1h3m0 3h3m-2 2h3m-1-1h3m1-4h3m-3 3h3m-3 1h3m0-1h3m-3 2h3m-3-5h3m-2 3h3m-3-1h3m-1 0h3m6-2h3m-1 5h3m1-4h3m-1 0h3m-2-1h3m32 5h3m-225 4h3m-2-1h3m-3-1h3m-3 2h3m-2-3h3m14 0h3m-1 2h3m-1 1h3m-3-1h3m3 0h3m-3 0h3m-2 2h3m-1 1h3m-1-4h3m-3 1h3m1-1h3m-2-1h3m-2 2h3m0 1h3m0-1h3m3 2h3m0-2h3m-1 1h3m-2 0h3m-2 2h3m-2 0h3m1-1h3m-1-1h3m-3-1h3m0-2h3m3 4h3m-3 1h3m0-3h3m-2-2h3m-3 4h3m-1-1h3m-3-3h3m-2 4h3m-3-3h3m-2-1h3m-2 2h3m-2 2h3m-2-3h3m-2 2h3m-2 1h3m4-1h3m0-3h3m-2 3h3m-3 0h3m-3 0h3m-3 1h3m0 1h3m-2-3h3m0 0h3m-2 0h3m-1 1h3m-2 1h3m-2-3h3m-3-1h3m1 1h3m-1 3h3m1-1h3m-2 0h3m0 2h3m-2-3h3m-1 3h3m-1-5h3m-2 2h3m-2-1h3m-3 2h3m-1 0h3m-3-2h3m0 2h3m-1 1h3m-1 1h3m-2-4h3m2 4h3m-1-5h3m-2 4h3m-3 1h3m-1-2h3m0 1h3m-2-4h3m-1 0h3m-3 2h3m-1 2h3m-1 1h3m-3 0h3m-2-2h3m-2 1h3m-2-4h3m-2 0h3m-3 2h3m-2 1h3m-3-3h3m0 4h3m1-2h3m0 3h3m1-1h3m1-2h3m-2 1h3m1 1h3m-1-4h3m-2 4h3m-2 1h3m-3-3h3m9 2h3m1-4h3m5 4h3m-3 1h3m-2 0h3m36-5h3m16 0h3m-280 10h3m-1 1h3m3-1h3m9-2h3m1 1h3m-1-3h3m-2 4h3m5-4h3m4 3h3m-3-2h3m-2 1h3m-3 1h3m-3-2h3m2 4h3m-3-5h3m-1 3h3m-1-1h3m3-2h3m3 4h3m-1-2h3m-1 3h3m0-2h3m-2-3h3m-1 2h3m-3-2h3m-2 2h3m-3 0h3m-2 1h3m-3-3h3m-2 5h3m-3-2h3m1-2h3m-2 4h3m-1-4h3m1 1h3m-3 0h3m-2-1h3m0 2h3m-2 2h3m-2-5h3m-2 2h3m-3 1h3m-2-1h3m-1-1h3m-1-1h3m-2 5h3m-2-3h3m-3 2h3m-2-3h3m-2 1h3m-1-2h3m-2 5h3m-2-2h3m-1 2h3m-3-2h3m-1 2h3m-2-2h3m-3-2h3m-2 1h3m0 0h3m-2 1h3m-1-1h3m-3 3h3m1-3h3m-1-2h3m-3 3h3m-3 2h3m-3-4h3m1 1h3m-3 3h3m-2 0h3m-3-3h3m-2 3h3m-3-1h3m-2 0h3m-3 1h3m-3-1h3m-2-4h3m-2 5h3m0-3h3m-3-2h3m-1 4h3m-2-1h3m-2 0h3m-3-3h3m-3 5h3m-2-4h3m-1 3h3m-2-3h3m-1 0h3m3 3h3m-3-4h3m0 0h3m-2 3h3m-2-1h3m-2-1h3m-3 3h3m-1-1h3m-3-3h3m-2 1h3m-3 4h3m-2-1h3m-2-4h3m-1 3h3m3-3h3m-1 0h3m-2 2h3m-2-2h3m2 1h3m-1 1h3m-1 2h3m-2 0h3m-3-2h3m1 3h3m-2-1h3m1-2h3m-3-1h3m-1 4h3m-2-3h3m6-2h3m2 4h3m18-4h3m-236 11h3m7 0h3m-2-3h3m-1 1h3m3 0h3m0-3h3m0 4h3m0-4h3m-3 3h3m2-3h3m-3 1h3m0 3h3m-1-2h3m-2 2h3m-1-4h3m-1 4h3m1-1h3m-1-3h3m1 1h3m-1 1h3m0-1h3m-2 3h3m-3-3h3m3 0h3m0 4h3m-1-4h3m-2 2h3m-2-1h3m2 2h3m-3-1h3m-3-1h3m2 2h3m-1-4h3m-2 5h3m-2-2h3m-2 2h3m-2-4h3m-3 1h3m1 1h3m-3-1h3m0 3h3m-2-1h3m-2-1h3m-2-3h3m-1 5h3m-3-5h3m-3 2h3m-3 2h3m-2-3h3m-2 4h3m-3-2h3m-3 1h3m-1-3h3m-1 2h3m-3-3h3m-2 5h3m-3-4h3m-3 2h3m-2-2h3m-2 3h3m-3 1h3m-3-5h3m-2 0h3m-2 0h3m-3 3h3m0 1h3m-2-2h3m-3-2h3m-2 0h3m-3 1h3m-2 4h3m-2-5h3m-3 3h3m-2-2h3m-3 2h3m-3 2h3m-2-5h3m0 5h3m-2-3h3m-2 2h3m-3-1h3m-2-1h3m0 1h3m-2-1h3m-2 2h3m-3-2h3m-2-1h3m-3 4h3m-3-5h3m-2 4h3m-3 0h3m1-1h3m-2-1h3m-3 1h3m-3 1h3m-3-3h3m-3 1h3m-2-1h3m-3 2h3m-3-2h3m-3 1h3m-2 0h3m-2 3h3m-3-5h3m-2 5h3m-1-1h3m-3-1h3m-2 1h3m-2-1h3m0 1h3m0-3h3m-3-1h3m-3 2h3m-1 2h3m-3-2h3m-1-1h3m-2 1h3m-3 1h3m-2 1h3m-2 0h3m-3-1h3m-3 1h3m-2 1h3m-2-5h3m-1 5h3m-3-4h3m-3 3h3m3-1h3m-2-2h3m2 4h3m-2-4h3m1 2h3m-1-1h3m0 2h3m-2-2h3m2-2h3m-3 2h3m0 1h3m2-2h3m1 1h3m6 2h3m6-1h3m23-1h3m-235 8h3m1 1h3m-2-1h3m-1-2h3m-1-1h3m-3 1h3m1 1h3m-2 2h3m1-5h3m1 2h3m-2 3h3m-1 0h3m3-4h3m-1 2h3m-2-1h3m0 0h3m1 2h3m-2-3h3m2 4h3m-3-5h3m-2 0h3m-1 5h3m0-1h3m0 0h3m-3-2h3m-1 1h3m-2 0h3m1 1h3m1-4h3m-2 0h3m-2 0h3m-3 0h3m-2 1h3m-3 0h3m-2-1h3m-1 0h3m-1 5h3m-1-5h3m-2 0h3m-3 0h3m-2 1h3m-2 3h3m-2 1h3m-3-3h3m-2 1h3m-2 1h3m-1 0h3m3-1h3m-2 0h3m-2 2h3m-3 0h3m-2-3h3m-2 3h3m-2-1h3m-1-3h3m-2-1h3m0 2h3m-3-1h3m-2 0h3m-3 3h3m-1-2h3m-3 2h3m-2-3h3m-3 1h3m-2 1h3m-2-2h3m-3-1h3m-2 3h3m-3 0h3m-3-1h3m-1 0h3m-3 3h3m0-2h3m-3 1h3m-2 0h3m-3-4h3m-1 4h3m-2-2h3m-2 0h3m-3 1h3m-3 0h3m-3 0h3m-3 2h3m-3-4h3m-1 3h3m-3 0h3m-2-2h3m-1-1h3m-2-1h3m-3 1h3m-2 0h3m-2 3h3m-1-4h3m-2 2h3m6 3h3m-2-3h3m0 3h3m-3 0h3m-3 0h3m-3-5h3m-2 3h3m-3-2h3m-2 2h3m-2-1h3m-2 3h3m-3 0h3m-2 0h3m-1-4h3m-2 4h3m-2-5h3m-2 1h3m-2 2h3m-2-3h3m-2 0h3m-1 0h3m-1 3h3m-3-3h3m2 2h3m-2 1h3m0 0h3m-3-3h3m-1 0h3m-2 2h3m-1 2h3m-1 1h3m-2 0h3m2-3h3m-3-1h3m1 2h3m2 2h3m-3-3h3m-1-2h3m1 5h3m7-5h3m2 5h3m-231 6h3m-2-3h3m-2-1h3m3 4h3m5-5h3m3 2h3m1-1h3m-2 0h3m-1 0h3m-2 1h3m-3 3h3m-2-2h3m7 2h3m2-2h3m-3 1h3m-2 0h3m-3-1h3m-1 2h3m-2 0h3m1-3h3m-3 2h3m-3-1h3m-2 0h3m0 2h3m0-3h3m-2 0h3m0 3h3m3 0h3m3-2h3m-3 1h3m0 0h3m-3-1h3m0 0h3m-2 0h3m-2 1h3m-3-2h3m0 3h3m-2 0h3m-3-2h3m0 2h3m-2-2h3m-1 0h3m-3-1h3m-1-1h3m0-1h3m0 3h3m-3 0h3m-1-3h3m-3 5h3m-2-2h3m-2 0h3m-2-1h3m-2-1h3m-2 3h3m-3-4h3m-3 4h3m0 1h3m-3-4h3m-2 4h3m-3-3h3m-2 3h3m-1-1h3m-2 0h3m-3 1h3m-1-5h3m-2 3h3m-2 1h3m-2-2h3m-2 0h3m-2 1h3m-3-2h3m-3 2h3m-3-1h3m-3 3h3m-2-3h3m-1 1h3m-2-2h3m-3 3h3m-3 1h3m-2-5h3m-2 2h3m-2-1h3m-3-1h3m-2 5h3m0-2h3m-2-1h3m0 2h3m-2-2h3m-3-2h3m-2 2h3m-2 3h3m-2-3h3m-1-2h3m-2 3h3m-1 1h3m-3-3h3m-3 0h3m-2 1h3m-3 1h3m-3 0h3m-3-2h3m-1 4h3m-2-5h3m-2 4h3m-3 1h3m-3-2h3m-2-3h3m-2 1h3m-2 1h3m-3 2h3m-1-3h3m-3 1h3m-1 1h3m-1 2h3m-2 0h3m-2-5h3m-3 1h3m-2 0h3m-2-1h3m-3 0h3m-3 4h3m-2 0h3m-3-2h3m-2 3h3m2-1h3m-1 1h3m-2 0h3m-3-2h3m-2-3h3m1 1h3m-2 3h3m-1-4h3m-2 3h3m-3-1h3m-2-1h3m2 3h3m-2 1h3m2-5h3m-3 0h3m-2 4h3m-1 0h3m14-4h3m8 4h3m2 0h3m1-1h3m3-2h3m-245 10h3m-3-2h3m7 2h3m-1-1h3m5-4h3m-3 2h3m0 0h3m1 3h3m-2 0h3m-3-3h3m-1 1h3m-1 2h3m7 0h3m-3-2h3m0 0h3m7 1h3m2-2h3m-2 1h3m-1-2h3m-2 0h3m-3 1h3m0 0h3m0 3h3m0-5h3m-1 3h3m-3 1h3m-3 0h3m-1 1h3m-3-3h3m-1-1h3m-2 1h3m-2 0h3m-3 1h3m0-2h3m-3 1h3m-2-2h3m-1 1h3m2 1h3m-3 1h3m-2-1h3m1 2h3m-3-3h3m-1 3h3m-1-1h3m-3 2h3m-3-1h3m-2 1h3m-3-2h3m-3 0h3m-1 0h3m0 0h3m-3 0h3m0-1h3m-3 0h3m-3-1h3m-3 3h3m-2-4h3m-2 0h3m2 0h3m-3 3h3m-3 1h3m-2-2h3m-2 2h3m-2-1h3m-2 0h3m-3-3h3m-2 5h3m-3-1h3m-3-3h3m-2-1h3m-3 1h3m-2 4h3m-2-1h3m-3 1h3m-3-5h3m-2 5h3m-2 0h3m-3-1h3m-1-2h3m-2-2h3m-3 2h3m-3-1h3m-2 2h3m-2 2h3m-1 0h3m-2-5h3m-2 2h3m-3-2h3m-3 1h3m-1 0h3m-3 3h3m-1-3h3m-3 0h3m-3 4h3m-2-1h3m-2-1h3m-2 1h3m-1-1h3m-3 2h3m-3-1h3m-2 0h3m-3-1h3m-1 1h3m-2 1h3m-3 0h3m-2-4h3m-2 0h3m0 3h3m-2-2h3m2-2h3m-1 5h3m-2-2h3m-2-1h3m-2-1h3m-2 1h3m-3 3h3m0-3h3m-3-1h3m1 2h3m-1 1h3m2 1h3m0-4h3m-2 1h3m1 3h3m1-4h3m1 2h3m-2-3h3m2 0h3m0 3h3m0 0h3m1-1h3m8 3h3m10 0h3m-238 1h3m-3 2h3m0-1h3m-2 0h3m-1-1h3m-3 1h3m4 1h3m0-2h3m-1 1h3m-2 2h3m0-3h3m3 0h3m0 1h3m1 1h3m-1-1h3m0-1h3m8 1h3m1 1h3m13-2h3m-2 3h3m-2-1h3m2-1h3m4 0h3m0 1h3m-2 0h3m0 1h3m-2-1h3m-3 1h3m1 0h3m-2-1h3m-1-2h3m-3 2h3m-3 0h3m0 1h3m-3-3h3m1 2h3m-2-2h3m-3 3h3m-3-1h3m2-2h3m-1 1h3m-2 0h3m0-1h3m-2 2h3m-2-1h3m-2 2h3m0-3h3m-3 1h3m-3-1h3m-3 1h3m-1 1h3m-2-1h3m-1 1h3m0-1h3m2-1h3m-3 1h3m-2 0h3m-2-1h3m0 0h3m-2 1h3m-2 0h3m-3-1h3m-3 1h3m0 2h3m1-3h3m-1 1h3m-1 2h3m2 0h3m-2-3h3m5 0h3m-1 1h3m-2-1h3m7 0h3m7 0h3m-1 1h3m0-1h3m2 1h3m12-1h3m-2 2h3m37-2h3" stroke="#ff0000" stroke-width="3" stroke-opacity="0.6" fill="none"/>
<path transform="scale(.5)" d="M1392 694h3m-78 2h3m79 5h3m-58 4h3m-5 13h3m33-4h3m-63 6h3m64 4h3m13 1h3m42-5h3m4 3h3m-158 3h3m1 4h3m13 0h3m-2 0h3m13-1h3m2 1h3m34-3h3m52 1h3m17-1h3m-1 3h3m22 0h3m-174 5h3m11 1h3m20-4h3m0 4h3m4-4h3m14 0h3m-1 3h3m24 1h3m5-2h3m2-1h3m0 0h3m24 3h3m17-1h3m21-2h3m-217 7h3m8 2h3m2 0h3m5-2h3m4 3h3m4-5h3m17 1h3m5 4h3m2-3h3m0-2h3m19 3h3m35 2h3m9-1h3m20 0h3m16-4h3m13 0h3m-219 9h3m1-3h3m-1 0h3m6 1h3m27 1h3m2 3h3m0 0h3m-3-2h3m-2 2h3m18-2h3m-3-3h3m-2 3h3m2-3h3m4 2h3m0 2h3m-3-1h3m4 1h3m-2 1h3m-1-4h3m-1 2h3m-2 1h3m-3 0h3m2-3h3m11 3h3m0-3h3m0 3h3m1-2h3m0 2h3m11-3h3m-1 0h3m5 3h3m89-4h3m-232 6h3m3 0h3m5 5h3m3-1h3m6-3h3m1 4h3m-1-1h3m4-1h3m-1 0h3m18 1h3m-2-4h3m-2 0h3m-2 4h3m-2-1h3m-2 1h3m-3-2h3m4-2h3m3 4h3m13 0h3m-3 0h3m2-1h3m-2 2h3m-2-2h3m-1-2h3m0 1h3m0 0h3m-3 0h3m-1 0h3m5 1h3m-3 0h3m-2 2h3m-1-5h3m8 3h3m3-2h3m1 3h3m-2-2h3m-3 3h3m3 0h3m-1-3h3m-1 3h3m10-2h3m7 2h3m-3-3h3m16-2h3m-226 6h3m-3 3h3m7 0h3m-2 2h3m0-3h3m6-2h3m-2 2h3m6 3h3m0-5h3m-2 4h3m0 0h3m0 1h3m1-3h3m2 3h3m-2-4h3m-1 4h3m-1-2h3m5 2h3m-2-5h3m-2 5h3m8 0h3m-3-2h3m-2-1h3m0-1h3m-3 0h3m-1 4h3m-1-5h3m-1 2h3m-1-1h3m-2 2h3m-1-2h3m-2 3h3m3-4h3m-2 4h3m-2-2h3m-3 0h3m-3 2h3m-3 1h3m-2-1h3m9 0h3m0-1h3m-2 1h3m-2-2h3m-3 0h3m0 2h3m1-1h3m3-2h3m-2 2h3m2-2h3m-3 2h3m-2 2h3m-2-2h3m-1-2h3m4 1h3m0-2h3m1 4h3m-1-3h3m5 3h3m-1 0h3m-1 1h3m-1 0h3m0-3h3m0 2h3m-3-1h3m1 2h3m-2-1h3m-2-4h3m-2 5h3m4-4h3m20 2h3m-1 0h3m16 1h3m-2 0h3m-241 2h3m-3 2h3m-2 0h3m-2 1h3m31 0h3m-1-1h3m-3-2h3m0 0h3m0 0h3m-3 3h3m-2-2h3m-1 4h3m-1-5h3m-3 0h3m-3 4h3m2 0h3m-2-1h3m12 1h3m11-3h3m-1 1h3m0 0h3m-1 1h3m-3 0h3m-1 1h3m-2-2h3m0 3h3m-2-3h3m-2 3h3m-2-5h3m-2 5h3m-3-3h3m-3 3h3m-2-2h3m0 2h3m-1-2h3m-3-3h3m-1 4h3m-2-1h3m-1-3h3m-1 1h3m-2-1h3m-3 4h3m-3-3h3m0 2h3m-2-1h3m-2 1h3m-2-3h3m1 1h3m-3 3h3m2-3h3m-2 1h3m-3-1h3m-2 2h3m-3 1h3m-3 0h3m-1-4h3m-1 4h3m-2-2h3m-2 1h3m-1 1h3m-1-4h3m-1 4h3m-3 0h3m-3-1h3m-2 0h3m-3-1h3m0 0h3m-3 0h3m-2 1h3m-2 2h3m-1-2h3m-3-2h3m-2 1h3m-1-1h3m-3 1h3m-2 3h3m-1-4h3m-2 3h3m-2-4h3m-1 4h3m-1-3h3m-3-1h3m0 5h3m-3-4h3m-2 1h3m-1-2h3m-3 3h3m3-3h3m-1 1h3m-2 3h3m-1 0h3m3 0h3m6-3h3m-2 1h3m29 1h3m12-3h3m31 5h3m-281 5h3m3-2h3m25 2h3m-1 1h3m-2-1h3m-1-2h3m-3-1h3m-2 3h3m-3-2h3m-1 1h3m-3-1h3m3 3h3m0-2h3m-2 0h3m1-3h3m-2 1h3m-2 4h3m-3-2h3m-2 0h3m6-2h3m0 3h3m-3 1h3m-3-4h3m-2 3h3m1 0h3m3-4h3m-3 0h3m-2 3h3m-2-3h3m-3 5h3m-3-3h3m-3 2h3m4 1h3m0-1h3m-2 1h3m0-5h3m-1 5h3m-1-1h3m-2-3h3m-2 4h3m1-2h3m-2-2h3m0 3h3m1 0h3m-2 1h3m-3-1h3m-1-3h3m-2 0h3m-1 0h3m-2 3h3m1 1h3m-2-5h3m-2 3h3m-2-2h3m-2 0h3m-1 3h3m-3-1h3m-2-1h3m-1-1h3m-1 4h3m-3-5h3m2 3h3m-3-3h3m-2 0h3m-2 5h3m-1-4h3m-3-1h3m-2 4h3m0 0h3m-1-3h3m-2-1h3m0 3h3m-3-1h3m-2 3h3m-1-1h3m-3-3h3m1-1h3m-1 3h3m-3 0h3m-2-3h3m-3 1h3m0-1h3m-2 0h3m-2 0h3m-2 2h3m1-2h3m-1 2h3m2 1h3m4-1h3m0 1h3m2-1h3m8 3h3m-214 4h3m-2-2h3m-3 1h3m-1 1h3m-1 0h3m0-1h3m5 2h3m10-4h3m4 4h3m1-2h3m-1-2h3m-2 0h3m-2 4h3m-2 1h3m1-1h3m-3-2h3m1-1h3m-1 0h3m1 4h3m-1-2h3m-2 1h3m-1 1h3m-3-5h3m-3 4h3m0-2h3m0-1h3m-3 0h3m-3 1h3m-2-2h3m-1 2h3m0 2h3m0-1h3m-2 0h3m1 1h3m-3-1h3m-3 1h3m3-2h3m-1-2h3m-2 1h3m-2-1h3m0 0h3m-3 4h3m-2-4h3m-3 2h3m-2-1h3m0 0h3m-2 0h3m-3-1h3m-2 5h3m-3 0h3m-3 0h3m1-2h3m-3-3h3m-2 1h3m0 4h3m-3-3h3m0 0h3m-3 3h3m-2-2h3m-2 0h3m-3 0h3m-2 0h3m-1 0h3m-3 2h3m-3-5h3m-1 3h3m-2 0h3m-2 0h3m-2-2h3m-1-1h3m-2 3h3m-3 1h3m-2-4h3m-3 0h3m-3 3h3m2 2h3m-3 0h3m-2-2h3m-3 2h3m-3-1h3m-3-3h3m-2 1h3m-2 2h3m-2-2h3m-2 0h3m-2 0h3m-2 2h3m-3 1h3m-3-5h3m-2 4h3m0-4h3m-2 1h3m-2 1h3m-1 3h3m-2 0h3m-3-1h3m-3-4h3m-1 0h3m-2 5h3m-2-2h3m-2-2h3m-1 0h3m-2 3h3m-3 1h3m-2-4h3m-2 4h3m-2-1h3m-3-1h3m-3 2h3m-3-1h3m-1 1h3m0-2h3m-3 1h3m-1-1h3m0 0h3m-2 2h3m5-1h3m-3-1h3m-2 2h3m-3-2h3m-2-3h3m1 1h3m-1 2h3m3 0h3m3 1h3m63-3h3m-269 6h3m1-1h3m7 3h3m-2-3h3m2 4h3m-2-4h3m-3 3h3m-2 1h3m3 1h3m4-1h3m1 1h3m-3-2h3m2-3h3m-2 3h3m-1 1h3m-3-3h3m-2 3h3m-2 0h3m-1-3h3m-1 0h3m-1-1h3m1 1h3m-2 1h3m-2 1h3m1 2h3m-2-2h3m-2-2h3m-2-1h3m-1 4h3m-3 1h3m-1-2h3m-2 1h3m-1-3h3m1-1h3m1 0h3m-3 5h3m1-3h3m-3 1h3m-3-2h3m-2-1h3m-3 0h3m-3 4h3m1-4h3m-2 4h3m-1 0h3m-3 0h3m-1-3h3m0 4h3m-2-2h3m-3-3h3m-1 1h3m-2 0h3m-3 2h3m-2-2h3m-2 1h3m-2 1h3m-3 0h3m-1 2h3m-1-2h3m-1 1h3m-2-3h3m-2 4h3m-2-5h3m-3 2h3m-2-1h3m-1 2h3m1-1h3m-1 3h3m-2-1h3m-3-1h3m-3-2h3m-2 2h3m-2 0h3m-2 1h3m-1-1h3m-1 2h3m-1-1h3m-3-3h3m-2 0h3m-3 0h3m-2-1h3m-3 1h3m0 2h3m-3-2h3m-2-1h3m-2 2h3m-3 0h3m0 3h3m-2-4h3m-3 4h3m-2-5h3m-3 2h3m-1-2h3m-1 3h3m-3 0h3m1 2h3m-3-5h3m-1 3h3m-3 1h3m-1-3h3m-1 2h3m-3-1h3m-3 2h3m-2-2h3m-2-2h3m0 0h3m-3 1h3m-1 2h3m-1 1h3m-3-3h3m-1 0h3m-2 4h3m-3-3h3m-1 3h3m-1-2h3m1-1h3m-3 3h3m-1-5h3m-2 3h3m4-2h3m3 4h3m0 0h3m3-4h3m2 2h3m0 1h3m10-2h3m8 0h3m10-1h3m-254 9h3m-2 0h3m-3-4h3m-2 1h3m12 3h3m0-2h3m3 1h3m-2-1h3m0-1h3m-1 3h3m-3-3h3m-3 1h3m12-2h3m1 5h3m-2-1h3m-2-4h3m-1 3h3m-1-2h3m2 4h3m-1 0h3m-3-1h3m2-2h3m-1 3h3m0-1h3m-2-2h3m-2 2h3m-2-1h3m-3-1h3m-2-1h3m-2 0h3m-1 0h3m-1-1h3m-3 2h3m-2 0h3m-3-2h3m-2 2h3m0-2h3m-2 5h3m-3-3h3m-2-2h3m5 3h3m-1 0h3m-3 2h3m-2-4h3m0 2h3m-2-2h3m-1 0h3m-2-1h3m-2 3h3m-3 2h3m1-2h3m-3-2h3m-2 4h3m-3 0h3m-2-5h3m-2 4h3m-1-2h3m-3 0h3m-3 3h3m-2-3h3m-2 3h3m-3-1h3m-3-3h3m-1 1h3m-1-1h3m-1 1h3m-1 1h3m-3 1h3m-2-1h3m-2 0h3m-3 1h3m-2-4h3m-2 5h3m-1-3h3m-2 0h3m-3-2h3m0 2h3m-2 2h3m-3-3h3m-2-1h3m-3 1h3m-2 2h3m-3-2h3m-2 3h3m-3-3h3m-2 3h3m0 0h3m-3-4h3m-2 0h3m-2 3h3m-2 2h3m-3-2h3m-2 2h3m-1-2h3m-3 2h3m-2-5h3m-3 2h3m-3-2h3m-1 2h3m-3 0h3m-2-2h3m-3 2h3m-2 2h3m-2-2h3m-2 1h3m-2-2h3m-1 3h3m-3-3h3m-2 3h3m-2-4h3m-1 5h3m-2-2h3m-2-3h3m-3 2h3m-2-2h3m-1 4h3m-2 0h3m-2-2h3m-2-1h3m-3 2h3m-2 1h3m4 1h3m-1-3h3m3 3h3m-3-2h3m0-1h3m0-2h3m-1 0h3m2 5h3m-2-2h3m-1 1h3m-3-4h3m0 5h3m3-5h3m9 0h3m-230 11h3m-2-4h3m2 4h3m3-3h3m-1-2h3m2 1h3m4 1h3m1 0h3m-2-2h3m-2 4h3m2-4h3m2 4h3m-1-2h3m-2-2h3m-1 1h3m-2-1h3m-3 1h3m4 2h3m-2 0h3m8-2h3m-2 3h3m-3 0h3m0 1h3m-2-2h3m-1 2h3m-3 0h3m0-3h3m3 1h3m1 1h3m1-3h3m-2 4h3m-2-3h3m-2 3h3m-3-5h3m-1 3h3m-3 2h3m-3-3h3m-2-1h3m-2-1h3m-1 3h3m-3-2h3m-2 3h3m-3-3h3m-3 0h3m-2 4h3m0 0h3m0-1h3m-2-4h3m-2 3h3m-3 0h3m-2-2h3m-2 3h3m-2-3h3m-3 0h3m-2 2h3m-3 1h3m-2-1h3m-2 1h3m-3-2h3m-2 2h3m-2-4h3m-2 5h3m-3-5h3m-1 0h3m-3 4h3m-3 0h3m-2 1h3m-3-3h3m-2 2h3m-3 1h3m-2-2h3m-3 1h3m-2-3h3m-3-1h3m-2 3h3m-2-2h3m-3 3h3m-1-3h3m-3 4h3m-2-5h3m-3 3h3m-2-1h3m-3 1h3m-3 0h3m-2-1h3m-2 0h3m-2 1h3m-3-1h3m-3 3h3m-2-5h3m-3 2h3m-3 3h3m-2-3h3m0 0h3m-3 3h3m-1-3h3m-2 2h3m-2 1h3m-2-5h3m-2 1h3m-3 0h3m-2 1h3m-2-2h3m1 0h3m-1 0h3m-2 2h3m-1 1h3m-3 1h3m-3-2h3m-2-1h3m-3 3h3m-2-3h3m-3 1h3m-1 1h3m-2-2h3m-2 4h3m-2-5h3m-2 5h3m0-2h3m-2-2h3m-2 2h3m-3 2h3m-3-2h3m-2-3h3m-1 5h3m-2-2h3m-1 2h3m-2-5h3m-2 2h3m-1-1h3m-2-1h3m0 1h3m2 1h3m4-1h3m-2 2h3m-2-1h3m1-2h3m4 0h3m-2 0h3m-2 3h3m-3-1h3m-2-1h3m-1 0h3m-2 3h3m2-2h3m0 0h3m48 3h3m6-5h3m8 4h3m-295 5h3m-2-1h3m-3-2h3m2 3h3m-1-2h3m3 4h3m-2-5h3m-1 3h3m10 2h3m2-5h3m-2 5h3m-2 0h3m-2 0h3m-2-4h3m-1 2h3m-3-2h3m0 3h3m-3-3h3m-2 4h3m1-1h3m-2-3h3m2 0h3m-1-1h3m-1 2h3m0-2h3m0 3h3m-3 1h3m-3 0h3m-3-3h3m-1 2h3m-1-1h3m-2-2h3m0 2h3m4 1h3m0 2h3m-3-1h3m-3-1h3m-2 2h3m-2-3h3m-2 1h3m-1-1h3m-2-1h3m-3-1h3m-2 4h3m-2-2h3m-1 0h3m-1 3h3m-2 0h3m-2-1h3m0-2h3m-3 2h3m-2 1h3m-2-2h3m-3 2h3m1-1h3m-3-1h3m-2-1h3m-3-2h3m-2 5h3m-2-5h3m0 2h3m-2 2h3m-3-4h3m-2 1h3m-2-1h3m-2 2h3m-2 3h3m-2-4h3m-2 1h3m-3-2h3m-1 4h3m-2-1h3m-2 2h3m-2-2h3m-3 0h3m-3-2h3m-1 4h3m-3-2h3m-3-3h3m-2 0h3m-3 1h3m-3 1h3m-2 3h3m-3 0h3m-2-3h3m-3 2h3m1-3h3m-2 2h3m-3-3h3m-2 3h3m-2 2h3m-2-4h3m-2 0h3m-3 3h3m0 0h3m-2-4h3m-2 1h3m-1 0h3m-3-1h3m-2 5h3m-2-1h3m-2-4h3m-3 1h3m-1 0h3m-1 1h3m-3 0h3m-3 0h3m-2 0h3m-1 3h3m-3-4h3m-3 4h3m-2-3h3m1 3h3m-3-5h3m-3 4h3m-2 0h3m-1-3h3m1 4h3m-3-2h3m-2 1h3m-3 1h3m-2-2h3m-3-2h3m-1 1h3m-3 2h3m-2-3h3m-3-1h3m-1 3h3m-1-3h3m-2 0h3m-2 5h3m-2-1h3m-3-1h3m-1 0h3m-2-1h3m-2 1h3m-2-2h3m-3 1h3m-3 2h3m0-1h3m-2-2h3m5-1h3m0 4h3m5-1h3m2-1h3m2-1h3m32 0h3m-248 7h3m4 0h3m21-2h3m-3 2h3m-1 1h3m6-2h3m0 0h3m21 0h3m-1 0h3m3 0h3m-3 0h3m-1-1h3m0 1h3m-2 1h3m3-1h3m-3-1h3m0 3h3m-2-1h3m-2-2h3m-1 2h3m-1 0h3m0 1h3m-1-3h3m0 2h3m-2-2h3m-3 2h3m-1-1h3m-1 0h3m-1 0h3m2-1h3m-1 2h3m-2-2h3m-3 1h3m1-1h3m-2 3h3m-2-3h3m-2 1h3m-2 2h3m-2 0h3m-1-3h3m-2 3h3m-3-2h3m-2-1h3m-3 3h3m0-3h3m2 1h3m-2 0h3m0-1h3m-1 0h3m-2 2h3m1 1h3m-1-2h3m2-1h3m-3 1h3m-1 0h3m-1 1h3m-3-2h3m1 3h3m-3-3h3m2 1h3m-3 0h3m-2 1h3m-2 0h3m-3 0h3m-1-1h3m-1 0h3m-2 1h3m-2-1h3m-1-1h3m-1 3h3m-3-1h3m0 0h3m18 1h3m26-2h3" stroke="#ff0000" stroke-width="3" stroke-opacity="0.6" fill="none"/>
<path transform="scale(.5)" d="M1399 681h3m-106 3h3m144 16h3m17 0h3m-153 9h3m134 1h3m-143 7h3m0 0h3m-1-1h3m36 3h3m11-4h3m19 1h3m-1 3h3m15-1h3m-138 7h3m45-1h3m13-1h3m31-2h3m22-1h3m1 5h3m-132 4h3m25-3h3m30 5h3m15-1h3m9 0h3m10 1h3m3-1h3m2-3h3m9 3h3m5 0h3m1 0h3m-106 7h3m3 0h3m15-2h3m23 1h3m8 0h3m-2 1h3m-3-1h3m-2-2h3m2 3h3m1 0h3m2-1h3m14-1h3m16 1h3m10-2h3m18 1h3m-189 7h3m1-3h3m0 2h3m0 0h3m1-1h3m39 3h3m1-2h3m0 1h3m14-3h3m4 1h3m0 1h3m8-1h3m4 2h3m8 0h3m10 1h3m4-1h3m0 1h3m3 0h3m20 0h3m-1-3h3m-165 5h3m6 3h3m4-3h3m-2 3h3m8-3h3m-2 3h3m1 0h3m7-1h3m-2-2h3m5 2h3m-2-2h3m-2-1h3m-2 5h3m6-1h3m0-1h3m4 1h3m-2-4h3m1 2h3m-1 2h3m4 0h3m0 0h3m26-4h3m-1 5h3m1-3h3m12 1h3m13 0h3m-1-2h3m9-1h3m-177 11h3m-2-3h3m0 2h3m4-3h3m1 3h3m1-3h3m2 4h3m-2-1h3m3-1h3m1-2h3m1 3h3m-2 0h3m4 1h3m6-2h3m-2 2h3m-2-3h3m12 0h3m-2 3h3m-3-1h3m-1-2h3m-1 3h3m4-5h3m-3 2h3m-2 0h3m3 0h3m2 2h3m0 0h3m-2-2h3m-3 3h3m1-5h3m2 1h3m2 1h3m-3 1h3m0 0h3m-1-3h3m-2 5h3m-3-2h3m0-1h3m-2 2h3m-1 1h3m-1-5h3m1 1h3m3 0h3m-2 4h3m-2-4h3m8 4h3m-2 0h3m-1-1h3m0-2h3m-3 1h3m0 1h3m6-1h3m22 1h3m-2 1h3m29-3h3m-246 8h3m8 0h3m5-1h3m12-1h3m1 2h3m7-1h3m7-3h3m6 0h3m-2 0h3m1 1h3m3 2h3m-2-3h3m-3 4h3m8-3h3m0 2h3m-2-3h3m-2 4h3m-3-1h3m-2-1h3m-1 1h3m-2-2h3m-2 2h3m-3-3h3m-2 1h3m-3 0h3m0 2h3m0 1h3m-1 1h3m7 0h3m-2-1h3m-2 0h3m1-2h3m-1-2h3m-3 2h3m-3 2h3m-3-4h3m-2 4h3m-1-1h3m-3 1h3m-2 0h3m-1-4h3m-1 2h3m-3 0h3m-1 0h3m-1 1h3m-2-3h3m-2 2h3m-2 3h3m-3-4h3m-2 3h3m7 1h3m-2-5h3m0 5h3m-2 0h3m-3-4h3m0 2h3m-2 0h3m-2 1h3m-1-1h3m-3 2h3m-2-1h3m-2-1h3m6-3h3m-3 2h3m-3 0h3m17 2h3m10-3h3m-3 2h3m14-3h3m-2 2h3m25 3h3m-251 4h3m-1 2h3m11-3h3m8 2h3m-2-1h3m-1-3h3m-2 5h3m0-3h3m-2 3h3m-1 0h3m-2-2h3m0-3h3m0 0h3m1 3h3m-3 1h3m0-2h3m-1 0h3m0 2h3m-3-1h3m-2 2h3m-1-5h3m0 5h3m-2-4h3m-2 2h3m-3-2h3m-3 1h3m4 3h3m-2-4h3m-3 3h3m1-3h3m-3 3h3m-2-2h3m-3 2h3m1 1h3m1-1h3m-2-1h3m-3 2h3m0-4h3m-2 1h3m-2 1h3m-2 1h3m-2-3h3m-2 2h3m0 0h3m4-2h3m0 1h3m-3 3h3m-2-5h3m-1 5h3m-3-1h3m-3 1h3m-2-4h3m1 2h3m-3 2h3m-2-5h3m1 3h3m7 2h3m-1-3h3m-1 3h3m1-2h3m-3-1h3m5-2h3m-2 2h3m-3-2h3m-2 2h3m-2 3h3m1-5h3m-3 5h3m-2-2h3m-1 1h3m10-3h3m-2 1h3m-1-1h3m0 3h3m7-1h3m5-3h3m1 5h3m0-3h3m0-2h3m6 5h3m12-5h3m-238 8h3m-3 3h3m-2-2h3m1 1h3m-3-4h3m1 2h3m1-2h3m1 1h3m-1 4h3m11-4h3m-3 4h3m4-1h3m-2-3h3m-2 0h3m-3 3h3m-3 1h3m4-5h3m-3 3h3m0 1h3m-1-1h3m0 2h3m2 0h3m-1-1h3m-3 0h3m-1 1h3m1-4h3m-1 3h3m-3-1h3m-2-2h3m0 2h3m0-2h3m-1 0h3m1 2h3m-2 0h3m-3 1h3m1-3h3m-3 2h3m-3 0h3m-2-2h3m-2 2h3m-1-1h3m0-1h3m-1 1h3m-2 3h3m-2-4h3m0 0h3m-1 0h3m-2 2h3m-3 0h3m-3 2h3m-3-2h3m1 2h3m0-2h3m-2-3h3m-1 4h3m-1-3h3m-2-1h3m-2 3h3m-2-3h3m-2 5h3m-3-2h3m-3-3h3m-2 0h3m-3 0h3m-2 3h3m-3 1h3m-3-2h3m-1 1h3m-2 1h3m-3-4h3m-3 1h3m-2 4h3m-1-3h3m3 3h3m-3-4h3m-3-1h3m-2 4h3m-3-3h3m0-1h3m-3 4h3m-2-3h3m-2 0h3m-1 2h3m-3-2h3m-3 0h3m-2 0h3m-3-1h3m0 2h3m-1 3h3m-3-2h3m1 1h3m-2 1h3m-2 0h3m-3-4h3m-2 2h3m-3-2h3m-3 4h3m-3-4h3m0 2h3m-3-2h3m-2-1h3m0 5h3m-2-4h3m-3-1h3m-2 4h3m-2-4h3m-1 4h3m-3 1h3m-3-3h3m-2-2h3m0 4h3m1 0h3m-2 1h3m-2-2h3m6 0h3m4 0h3m7-1h3m-3-1h3m-2 3h3m14-3h3m37 1h3m-266 6h3m-3 1h3m-2 2h3m-2-5h3m1 5h3m8-5h3m-1 2h3m0-1h3m-1-1h3m4 5h3m-2-5h3m1 5h3m-2-1h3m-3 0h3m0-1h3m-2-2h3m-2-1h3m-2 2h3m0-1h3m2 4h3m-1-3h3m-1-2h3m-1 0h3m-2 5h3m-3-5h3m-2 4h3m-1-1h3m2 1h3m-1-4h3m-2 3h3m-2-1h3m-3-2h3m-3 4h3m3 1h3m1 0h3m-3-5h3m-1 0h3m-2 5h3m-3 0h3m-1-5h3m-1 3h3m-3-3h3m-3 1h3m-2 4h3m-2-4h3m1 2h3m-3 0h3m-1-2h3m-2 4h3m-3-2h3m0 2h3m-3-4h3m-2 2h3m-3-3h3m-3 1h3m-3 1h3m-2 2h3m-2 1h3m0-2h3m-2 0h3m-1-1h3m-3 0h3m-2-2h3m0 0h3m-2 3h3m-3 0h3m0 2h3m-2-2h3m-2-1h3m-3-2h3m-2 4h3m-2 1h3m-2-5h3m-3 0h3m-3 4h3m-1-3h3m-3-1h3m-3 4h3m2 0h3m-3-3h3m-2 0h3m-3 2h3m-2 1h3m-3-1h3m0 2h3m-3-3h3m-2 3h3m-2-3h3m-2-2h3m-3 3h3m-2 1h3m-1 0h3m-2-2h3m-3 0h3m-2-1h3m-3 2h3m0 2h3m-2-2h3m-2 2h3m-3-2h3m0 1h3m-3 1h3m-1-5h3m-2 5h3m-1-5h3m-3 0h3m-3 1h3m-2 1h3m-1 0h3m-2-2h3m-3 2h3m-3 1h3m-2 1h3m-3 0h3m1-2h3m-2 2h3m-2-1h3m-1 2h3m-3-3h3m-2 2h3m-2-3h3m-3 1h3m1 0h3m-3 3h3m-2-4h3m-2-1h3m3 0h3m-1 4h3m5-2h3m-2 2h3m3-2h3m-2 1h3m-1-2h3m14 0h3m2 4h3m10 0h3m49-1h3m-292 3h3m-2 1h3m-3 0h3m-1 0h3m7 2h3m17-3h3m-1 0h3m-3 3h3m7-3h3m-1 0h3m14 4h3m-1-1h3m1-2h3m-2-1h3m-2 0h3m-2 3h3m-2-2h3m-2 0h3m-3 1h3m0 2h3m0-4h3m-1-1h3m-3 0h3m-1 4h3m-2 0h3m-2-2h3m-3 1h3m-3-2h3m-2 2h3m3-1h3m-3 3h3m-1-5h3m-3 4h3m-3-4h3m-2 4h3m0-1h3m-2 2h3m-3-4h3m-2 2h3m-2-1h3m-2-1h3m-3 3h3m1-3h3m-2 0h3m-2 3h3m-2-3h3m-2 0h3m-2 3h3m-3-1h3m-1-3h3m-2 1h3m-3 3h3m-1-2h3m-2 3h3m-2-2h3m-2 0h3m-1 1h3m-3 0h3m-3 1h3m-2-5h3m-1 5h3m-3-4h3m-3-1h3m-1 1h3m1 0h3m-1-1h3m3 2h3m-2 2h3m-3-1h3m-3 2h3m-3-3h3m-1 0h3m-2 1h3m-3 0h3m-3 0h3m-2-3h3m-2 2h3m-1-1h3m-3 0h3m-3-1h3m-2 5h3m-3-3h3m-2-1h3m-2 3h3m-3-2h3m-2 3h3m-3-4h3m-2 1h3m-2-1h3m-3 1h3m0 2h3m-2-2h3m-3-1h3m-1 0h3m1 2h3m-1-2h3m-3 2h3m0 2h3m-1 0h3m-2-1h3m-2-4h3m-2 1h3m-3 3h3m1 0h3m3-1h3m-2-1h3m-1-1h3m1-1h3m2 0h3m4 1h3m12 2h3m-220 3h3m-2 3h3m-3 0h3m-3 2h3m2-2h3m-1-3h3m3 4h3m2-1h3m-2 0h3m-1 0h3m0 1h3m-3 1h3m-3-3h3m-1 2h3m-2-3h3m1 1h3m2 1h3m0-1h3m-2 3h3m-1 0h3m-3-5h3m-2 3h3m-2 1h3m4 0h3m0-4h3m4 4h3m-3 0h3m-3 0h3m-2-1h3m-3 0h3m-2-1h3m-3-2h3m0 5h3m-3-5h3m2 0h3m-3 4h3m-2 1h3m-2-1h3m1-3h3m-1 1h3m-1 2h3m-2 0h3m-3-2h3m-3 2h3m0-1h3m-3 2h3m-1-2h3m7-3h3m-3 2h3m-2 1h3m-1-1h3m-2 3h3m-3-4h3m-2 4h3m-3-2h3m1-3h3m2 3h3m-3-1h3m-3 1h3m-3 0h3m-3-1h3m-2-1h3m-2 2h3m-3-1h3m-1-2h3m-3 2h3m-2 1h3m-2-3h3m-3 5h3m-1-3h3m-2-2h3m-2 3h3m-2-2h3m-3 3h3m1 0h3m-2-3h3m-1 4h3m-2 0h3m-3-2h3m1 2h3m-3-4h3m-2 3h3m-2 1h3m-3-3h3m-2 1h3m0-2h3m-3 2h3m-2 1h3m-1 1h3m-3-2h3m-3 2h3m-3-3h3m-2-2h3m-2 4h3m-3-3h3m-1 4h3m-3 0h3m-1-3h3m-1-2h3m-3 5h3m-2 0h3m0-4h3m-2-1h3m-3 4h3m-3-1h3m-2 1h3m-2-3h3m-2 1h3m-2 3h3m-3-5h3m-2 2h3m-3 2h3m-2-4h3m-3 3h3m-2 1h3m1-1h3m-1-2h3m-1 0h3m-2 1h3m-2 1h3m-1 0h3m-2-2h3m-2 1h3m-2-2h3m-2 4h3m-2-3h3m-1 1h3m-2-1h3m-1 2h3m-3-3h3m-3 4h3m-2-2h3m-3 2h3m-2-4h3m-1 4h3m3-4h3m-3 0h3m9 2h3m1 1h3m-3 1h3m3 1h3m-1-2h3m16 2h3m-227 1h3m-2 5h3m3-3h3m5 1h3m1-3h3m-1 0h3m0 2h3m-3-2h3m1 5h3m1-5h3m2 0h3m-3 0h3m-2 5h3m-2-1h3m-1-2h3m6 0h3m-1 3h3m-2-2h3m-2-2h3m0 3h3m0 0h3m-2-2h3m-3-2h3m0 0h3m3 2h3m-2 2h3m-1 1h3m-1-3h3m-2 0h3m-2 2h3m-1 0h3m-3-2h3m1 3h3m-2-1h3m-3 0h3m-3-2h3m0 1h3m-3-2h3m-3 4h3m-1-4h3m-3-1h3m-3 2h3m-2 0h3m-3 2h3m-2-1h3m-2 2h3m-1-5h3m-3 4h3m-2 1h3m-3 0h3m-2 0h3m-2-3h3m-3-1h3m-2-1h3m-2 5h3m0-4h3m-2 1h3m-2 2h3m2-2h3m-1 0h3m-2-1h3m-3 4h3m-3-5h3m-3 4h3m-2 0h3m0 1h3m-3-2h3m-2-3h3m-3 0h3m-2 1h3m-3 3h3m-3 0h3m0 0h3m-2-4h3m-2 2h3m-2 2h3m-3-4h3m-2 5h3m-2-3h3m-3-1h3m-3 3h3m-2 0h3m-3 0h3m-2 1h3m-3-4h3m-2 2h3m-2-1h3m-2-2h3m-3 0h3m-2 5h3m-3-2h3m-1-2h3m2-1h3m-1 2h3m-3 3h3m-3-5h3m-3 1h3m-1 3h3m-2 1h3m-3-4h3m-2 2h3m-3-1h3m0 1h3m-3-3h3m-2 1h3m-2 3h3m3-4h3m-2 3h3m-3 0h3m-3-1h3m-1-1h3m-3 1h3m-2 0h3m-3 0h3m-2 3h3m-2-4h3m-2 1h3m-2-1h3m-2 0h3m-2 0h3m-2 2h3m-3-3h3m-3 5h3m-1-5h3m-1 2h3m-3 1h3m-3 2h3m0-2h3m1 1h3m-2-3h3m-1 2h3m8 2h3m0 0h3m-2-5h3m3 0h3m31 4h3m-255 3h3m-2 4h3m-3-2h3m-1 1h3m-3 0h3m5 1h3m-1-4h3m1 1h3m-3 3h3m-1-2h3m0 2h3m2 0h3m7-3h3m-2-2h3m-3 0h3m3 3h3m0-3h3m-2 2h3m-2 1h3m-3-1h3m-1-1h3m3-1h3m-2 3h3m0 0h3m-3-3h3m1 4h3m1-4h3m1 2h3m6 3h3m-2-3h3m-1-1h3m-3 0h3m-2 2h3m-2-2h3m-1 4h3m-2-3h3m-3 2h3m-2-2h3m-1 2h3m-1 0h3m0-1h3m-3 1h3m-2 0h3m-3-1h3m-3-1h3m-2 1h3m-2-1h3m-3 0h3m-2 0h3m-3 1h3m-1-1h3m-2 1h3m-3-2h3m-3 1h3m-2 3h3m-3-2h3m-2-1h3m0 1h3m-3 1h3m-2-1h3m-2-2h3m-3 3h3m-2-3h3m0 3h3m-1-3h3m-2 0h3m-1 3h3m-3 1h3m-3-4h3m-2 3h3m-1 0h3m-2 0h3m-2-3h3m-2 3h3m-1-3h3m-3 0h3m-3 0h3m-1 1h3m-3 2h3m-2 1h3m-2-3h3m-2 3h3m-3-1h3m-2-3h3m-3 2h3m-1-2h3m-2 1h3m-3-2h3m-1 3h3m-1 2h3m-3-1h3m-1-3h3m-3 4h3m0 0h3m-1-2h3m-3-1h3m-2 0h3m-1 1h3m0-2h3m-3-1h3m-3 2h3m-3 2h3m0-2h3m-2 3h3m-2-4h3m-2 2h3m0-2h3m-3 3h3m-3 0h3m-2-3h3m-3 4h3m-3-3h3m-1 0h3m-2 3h3m-2-5h3m-2 0h3m0 3h3m-2-3h3m-3 0h3m-2 5h3m-3 0h3m-3-2h3m0 2h3m-1-3h3m-3-1h3m-1 0h3m0-1h3m0 0h3m-1 0h3m4 2h3m-2 2h3m-1-4h3m-2 0h3m14 4h3m-2-3h3m-2-1h3m0 4h3m-222 3h3m8 0h3m5 2h3m2 0h3m-1-3h3m2 1h3m10 2h3m0-3h3m-2 3h3m8-3h3m1 1h3m-1 1h3m-1 0h3m1-1h3m-2 2h3m0-2h3m-2-1h3m-3 2h3m1 1h3m-3 0h3m-1-3h3m-2 2h3m-3-1h3m-1 2h3m-2-3h3m-1 3h3m-1 0h3m4-1h3m0 1h3m-1 0h3m-3-2h3m-2 0h3m-3-1h3m-1 3h3m-2-3h3m-3 1h3m-1-1h3m-2 2h3m-1 0h3m-2-1h3m-1 1h3m3-1h3m-1 0h3m-2 1h3m-2-1h3m-2 2h3m-3-1h3m1-1h3m0 1h3m-2-2h3m-2 1h3m-2-1h3m-2 2h3m-1 0h3m-1-2h3m0 2h3m-2 0h3m-2-2h3m-2 1h3m2 1h3m0-2h3m2 1h3m0-1h3m1 2h3m-3-2h3m-3 1h3m-2 0h3m2 0h3m3-1h3m-2 0h3m2 3h3m-1-1h3m6-2h3m-2 0h3m5 3h3" stroke="#ff0000" stroke-width="3" stroke-opacity="0.6" fill="none"/>
</svg>
<text x="8.3" y="12.3" font-family="'Liberation Sans', Arial, sans-serif" font-weight="bold" font-size="15.5">A</text>
<text transform="translate(19.2 159.2) rotate(-90)" font-family="'Liberation Sans', Arial, sans-serif" font-size="6.1" fill="#000" stroke="#000" stroke-width=".2">10</text><text transform="translate(15 150.9) rotate(-90)" font-family="'Liberation Sans', Arial, sans-serif" font-size="6.1" fill="#000" stroke="#000" stroke-width=".2">2</text>
<text transform="translate(19.2 117.7) rotate(-90)" font-family="'Liberation Sans', Arial, sans-serif" font-size="6.1" fill="#000" stroke="#000" stroke-width=".2">10</text><text transform="translate(15 109.4) rotate(-90)" font-family="'Liberation Sans', Arial, sans-serif" font-size="6.1" fill="#000" stroke="#000" stroke-width=".2">3</text>
<text transform="translate(19.2 75.9) rotate(-90)" font-family="'Liberation Sans', Arial, sans-serif" font-size="6.1" fill="#000" stroke="#000" stroke-width=".2">10</text><text transform="translate(15 67.6) rotate(-90)" font-family="'Liberation Sans', Arial, sans-serif" font-size="6.1" fill="#000" stroke="#000" stroke-width=".2">4</text>
<text transform="translate(19.2 34.1) rotate(-90)" font-family="'Liberation Sans', Arial, sans-serif" font-size="6.1" fill="#000" stroke="#000" stroke-width=".2">10</text><text transform="translate(15 25.8) rotate(-90)" font-family="'Liberation Sans', Arial, sans-serif" font-size="6.1" fill="#000" stroke="#000" stroke-width=".2">5</text>
<text x="56.2" y="192.8" text-anchor="middle" font-family="'Liberation Sans', Arial, sans-serif" font-size="7.5" fill="#000" stroke="#000" stroke-width=".2">50</text>
<text x="85.6" y="192.8" text-anchor="middle" font-family="'Liberation Sans', Arial, sans-serif" font-size="7.5" fill="#000" stroke="#000" stroke-width=".2">100</text>
<text x="115" y="192.8" text-anchor="middle" font-family="'Liberation Sans', Arial, sans-serif" font-size="7.5" fill="#000" stroke="#000" stroke-width=".2">150</text>
<text x="144.4" y="192.8" text-anchor="middle" font-family="'Liberation Sans', Arial, sans-serif" font-size="7.5" fill="#000" stroke="#000" stroke-width=".2">200</text>
<text x="173.8" y="192.8" text-anchor="middle" font-family="'Liberation Sans', Arial, sans-serif" font-size="7.5" fill="#000" stroke="#000" stroke-width=".2">250</text>
<text x="181" y="200.8" text-anchor="end" font-family="'Liberation Sans', Arial, sans-serif" font-size="7.5" fill="#111" stroke="#111" stroke-width=".15">(x 1,000)</text>
<path d="M23.5 175.4H27M23.5 170.2H27M23.5 166.2H27M23.5 162.9H27M23.5 160.1H27M23.5 157.7H27M23.5 155.6H27M21 153.7H27M23.5 141.2H27M23.5 133.9H27M23.5 128.7H27M23.5 124.7H27M23.5 121.4H27M23.5 118.6H27M23.5 116.2H27M23.5 114.1H27M21 112.2H27M23.5 99.6H27M23.5 92.3H27M23.5 87H27M23.5 83H27M23.5 79.7H27M23.5 76.9H27M23.5 74.5H27M23.5 72.3H27M21 70.4H27M23.5 57.8H27M23.5 50.5H27M23.5 45.2H27M23.5 41.2H27M23.5 37.9H27M23.5 35.1H27M23.5 32.7H27M23.5 30.5H27M21 28.6H27M23.5 16H27M32.7 178.3V182.3M38.6 178.3V182.3M44.4 178.3V182.3M50.3 178.3V182.3M56.2 178.3V185.3M62.1 178.3V182.3M68 178.3V182.3M73.8 178.3V182.3M79.7 178.3V182.3M85.6 178.3V185.3M91.5 178.3V182.3M97.4 178.3V182.3M103.2 178.3V182.3M109.1 178.3V182.3M115 178.3V185.3M120.9 178.3V182.3M126.8 178.3V182.3M132.6 178.3V182.3M138.5 178.3V182.3M144.4 178.3V185.3M150.3 178.3V182.3M156.2 178.3V182.3M162 178.3V182.3M167.9 178.3V182.3M173.8 178.3V185.3M179.7 178.3V182.3" stroke="#333" stroke-width="1" fill="none"/>
<rect x="27" y="11" width="154" height="167.3" fill="none" stroke="#555" stroke-width="1.5"/>
<text x="104" y="203.2" text-anchor="middle" font-family="'Liberation Sans', Arial, sans-serif" font-size="9.3" fill="#333">FSC-A</text>
<text transform="translate(9.2 94.7) rotate(-90)" text-anchor="middle" font-family="'Liberation Sans', Arial, sans-serif" font-size="9.2" fill="#333">SSC-A</text>
<path d="M181 30.7L100 35.9L37.5 42.4L35.8 86L41.3 143.5L100 138.5L181 131.7" fill="none" stroke="#555" stroke-width="1.3"/>
<text x="96" y="120" font-family="'Liberation Sans', Arial, sans-serif" font-size="9.3" fill="#333">P2</text>
<text x="200.6" y="12.3" font-family="'Liberation Sans', Arial, sans-serif" font-weight="bold" font-size="15.5">B</text>
<text transform="translate(222.2 158.4) rotate(-90)" font-family="'Liberation Sans', Arial, sans-serif" font-size="6.1" fill="#000" stroke="#000" stroke-width=".2">10</text><text transform="translate(218 150.1) rotate(-90)" font-family="'Liberation Sans', Arial, sans-serif" font-size="6.1" fill="#000" stroke="#000" stroke-width=".2">2</text>
<text transform="translate(222.2 118.1) rotate(-90)" font-family="'Liberation Sans', Arial, sans-serif" font-size="6.1" fill="#000" stroke="#000" stroke-width=".2">10</text><text transform="translate(218 109.8) rotate(-90)" font-family="'Liberation Sans', Arial, sans-serif" font-size="6.1" fill="#000" stroke="#000" stroke-width=".2">3</text>
<text transform="translate(222.2 75.8) rotate(-90)" font-family="'Liberation Sans', Arial, sans-serif" font-size="6.1" fill="#000" stroke="#000" stroke-width=".2">10</text><text transform="translate(218 67.5) rotate(-90)" font-family="'Liberation Sans', Arial, sans-serif" font-size="6.1" fill="#000" stroke="#000" stroke-width=".2">4</text>
<text transform="translate(222.2 35.7) rotate(-90)" font-family="'Liberation Sans', Arial, sans-serif" font-size="6.1" fill="#000" stroke="#000" stroke-width=".2">10</text><text transform="translate(218 27.4) rotate(-90)" font-family="'Liberation Sans', Arial, sans-serif" font-size="6.1" fill="#000" stroke="#000" stroke-width=".2">5</text>
<text transform="translate(246.2 193.1) scale(.8 1)" font-family="'Liberation Sans', Arial, sans-serif" font-size="7.2" fill="#000" stroke="#000" stroke-width=".25">10</text><text transform="translate(253.7 187.8) scale(.9 1)" font-family="'Liberation Sans', Arial, sans-serif" font-size="5.8" fill="#000" stroke="#000" stroke-width=".2">2</text>
<text transform="translate(283.7 193.1) scale(.8 1)" font-family="'Liberation Sans', Arial, sans-serif" font-size="7.2" fill="#000" stroke="#000" stroke-width=".25">10</text><text transform="translate(291.2 187.8) scale(.9 1)" font-family="'Liberation Sans', Arial, sans-serif" font-size="5.8" fill="#000" stroke="#000" stroke-width=".2">3</text>
<text transform="translate(321.2 193.1) scale(.8 1)" font-family="'Liberation Sans', Arial, sans-serif" font-size="7.2" fill="#000" stroke="#000" stroke-width=".25">10</text><text transform="translate(328.7 187.8) scale(.9 1)" font-family="'Liberation Sans', Arial, sans-serif" font-size="5.8" fill="#000" stroke="#000" stroke-width=".2">4</text>
<text transform="translate(359.1 193.1) scale(.8 1)" font-family="'Liberation Sans', Arial, sans-serif" font-size="7.2" fill="#000" stroke="#000" stroke-width=".25">10</text><text transform="translate(366.6 187.8) scale(.9 1)" font-family="'Liberation Sans', Arial, sans-serif" font-size="5.8" fill="#000" stroke="#000" stroke-width=".2">5</text>
<path d="M226.5 174H230M226.5 168.9H230M226.5 165H230M226.5 161.8H230M226.5 159.1H230M226.5 156.8H230M226.5 154.7H230M224 152.9H230M226.5 140.8H230M226.5 133.7H230M226.5 128.6H230M226.5 124.7H230M226.5 121.5H230M226.5 118.8H230M226.5 116.5H230M226.5 114.4H230M224 112.6H230M226.5 99.9H230M226.5 92.4H230M226.5 87.1H230M226.5 83H230M226.5 79.7H230M226.5 76.9H230M226.5 74.4H230M226.5 72.2H230M224 70.3H230M226.5 58.2H230M226.5 51.2H230M226.5 46.2H230M226.5 42.3H230M226.5 39.1H230M226.5 36.4H230M226.5 34.1H230M226.5 32H230M224 30.2H230M226.5 18.1H230M232.1 177.8V181.8M236.8 177.8V181.8M240.4 177.8V181.8M243.4 177.8V181.8M245.9 177.8V181.8M248.1 177.8V181.8M250 177.8V181.8M251.7 177.8V184.8M263 177.8V181.8M269.6 177.8V181.8M274.3 177.8V181.8M277.9 177.8V181.8M280.9 177.8V181.8M283.4 177.8V181.8M285.6 177.8V181.8M287.5 177.8V181.8M289.2 177.8V184.8M300.5 177.8V181.8M307.1 177.8V181.8M311.8 177.8V181.8M315.4 177.8V181.8M318.4 177.8V181.8M320.9 177.8V181.8M323.1 177.8V181.8M325 177.8V181.8M326.7 177.8V184.8M338.1 177.8V181.8M344.8 177.8V181.8M349.5 177.8V181.8M353.2 177.8V181.8M356.2 177.8V181.8M358.7 177.8V181.8M360.9 177.8V181.8M362.9 177.8V181.8M364.6 177.8V184.8M376 177.8V181.8" stroke="#333" stroke-width="1" fill="none"/>
<rect x="230" y="12" width="150.7" height="165.8" fill="none" stroke="#555" stroke-width="1.5"/>
<text x="305" y="203.3" text-anchor="middle" font-family="'Liberation Sans', Arial, sans-serif" font-size="9.3" fill="#333">SSC-A</text>
<text transform="translate(208.2 94.9) rotate(-90)" text-anchor="middle" font-family="'Liberation Sans', Arial, sans-serif" font-size="9.2" fill="#333">CD45 PerCP-Cy5-5-A</text>
<path d="M277.1 37.1L283.4 31.9L291.5 30.2L301.3 32.5L305.9 37.7L309.4 49.2L307 53.8L298.4 61.9L292.6 68.8L282.3 70.5L274.8 65.3L270.8 53.8L271.3 46.9Z" fill="none" stroke="#555" stroke-width="1.2"/>
<path d="M297 62.1L310.8 52L328.3 44.6L338.4 44.6L348.6 49.2L353.2 60.3L351.3 76.9L342.1 93.4L331.1 106.3L318.2 114.6L309 112.8L297.9 104.5L292.4 91.6L290.5 78.7L293.3 67.6Z" fill="none" stroke="#555" stroke-width="1.2"/>
<path d="M270.3 178V117.4H332V178" fill="none" stroke="#555" stroke-width="1.2"/>
<g font-family="'Liberation Serif', 'Times New Roman', serif" font-weight="bold" font-size="12.5" fill="#111"><text x="278.8" y="45.8">2.6%</text><text x="319.5" y="58.5">96.0%</text><text x="273" y="129">1.1%</text></g>
<g font-family="'Liberation Sans', Arial, sans-serif" font-size="9.8" fill="#111"><text x="279.3" y="56">P4</text><text x="312.8" y="86">P3</text><text x="295.3" y="151.2">P5</text></g>
<text x="396.4" y="12.3" font-family="'Liberation Sans', Arial, sans-serif" font-weight="bold" font-size="15.5">C</text>
<text transform="translate(419.6 157.4) rotate(-90)" font-family="'Liberation Sans', Arial, sans-serif" font-size="6.1" fill="#000" stroke="#000" stroke-width=".2">10</text><text transform="translate(415.4 149.1) rotate(-90)" font-family="'Liberation Sans', Arial, sans-serif" font-size="6.1" fill="#000" stroke="#000" stroke-width=".2">2</text>
<text transform="translate(419.6 116.2) rotate(-90)" font-family="'Liberation Sans', Arial, sans-serif" font-size="6.1" fill="#000" stroke="#000" stroke-width=".2">10</text><text transform="translate(415.4 107.9) rotate(-90)" font-family="'Liberation Sans', Arial, sans-serif" font-size="6.1" fill="#000" stroke="#000" stroke-width=".2">3</text>
<text transform="translate(419.6 75.1) rotate(-90)" font-family="'Liberation Sans', Arial, sans-serif" font-size="6.1" fill="#000" stroke="#000" stroke-width=".2">10</text><text transform="translate(415.4 66.8) rotate(-90)" font-family="'Liberation Sans', Arial, sans-serif" font-size="6.1" fill="#000" stroke="#000" stroke-width=".2">4</text>
<text transform="translate(419.6 35.1) rotate(-90)" font-family="'Liberation Sans', Arial, sans-serif" font-size="6.1" fill="#000" stroke="#000" stroke-width=".2">10</text><text transform="translate(415.4 26.8) rotate(-90)" font-family="'Liberation Sans', Arial, sans-serif" font-size="6.1" fill="#000" stroke="#000" stroke-width=".2">5</text>
<text transform="translate(444.2 190.1) scale(.8 1)" font-family="'Liberation Sans', Arial, sans-serif" font-size="7.2" fill="#000" stroke="#000" stroke-width=".25">10</text><text transform="translate(451.7 184.8) scale(.9 1)" font-family="'Liberation Sans', Arial, sans-serif" font-size="5.8" fill="#000" stroke="#000" stroke-width=".2">2</text>
<text transform="translate(481.7 190.1) scale(.8 1)" font-family="'Liberation Sans', Arial, sans-serif" font-size="7.2" fill="#000" stroke="#000" stroke-width=".25">10</text><text transform="translate(489.2 184.8) scale(.9 1)" font-family="'Liberation Sans', Arial, sans-serif" font-size="5.8" fill="#000" stroke="#000" stroke-width=".2">3</text>
<text transform="translate(520.2 190.1) scale(.8 1)" font-family="'Liberation Sans', Arial, sans-serif" font-size="7.2" fill="#000" stroke="#000" stroke-width=".25">10</text><text transform="translate(527.7 184.8) scale(.9 1)" font-family="'Liberation Sans', Arial, sans-serif" font-size="5.8" fill="#000" stroke="#000" stroke-width=".2">4</text>
<text transform="translate(558.7 190.1) scale(.8 1)" font-family="'Liberation Sans', Arial, sans-serif" font-size="7.2" fill="#000" stroke="#000" stroke-width=".25">10</text><text transform="translate(566.2 184.8) scale(.9 1)" font-family="'Liberation Sans', Arial, sans-serif" font-size="5.8" fill="#000" stroke="#000" stroke-width=".2">5</text>
<path d="M423.9 173.4H427.4M423.9 168.3H427.4M423.9 164.3H427.4M423.9 161H427.4M423.9 158.3H427.4M423.9 155.9H427.4M423.9 153.8H427.4M421.4 151.9H427.4M423.9 139.5H427.4M423.9 132.2H427.4M423.9 127.1H427.4M423.9 123.1H427.4M423.9 119.8H427.4M423.9 117.1H427.4M423.9 114.7H427.4M423.9 112.6H427.4M421.4 110.7H427.4M423.9 98.3H427.4M423.9 91.1H427.4M423.9 86H427.4M423.9 82H427.4M423.9 78.7H427.4M423.9 76H427.4M423.9 73.6H427.4M423.9 71.5H427.4M421.4 69.6H427.4M423.9 57.6H427.4M423.9 50.5H427.4M423.9 45.5H427.4M423.9 41.6H427.4M423.9 38.5H427.4M423.9 35.8H427.4M423.9 33.5H427.4M423.9 31.4H427.4M421.4 29.6H427.4M423.9 17.6H427.4M430.1 174.8V178.8M434.8 174.8V178.8M438.4 174.8V178.8M441.4 174.8V178.8M443.9 174.8V178.8M446.1 174.8V178.8M448 174.8V178.8M449.7 174.8V181.8M461 174.8V178.8M467.6 174.8V178.8M472.3 174.8V178.8M475.9 174.8V178.8M478.9 174.8V178.8M481.4 174.8V178.8M483.6 174.8V178.8M485.5 174.8V178.8M487.2 174.8V181.8M498.8 174.8V178.8M505.6 174.8V178.8M510.4 174.8V178.8M514.1 174.8V178.8M517.2 174.8V178.8M519.7 174.8V178.8M522 174.8V178.8M523.9 174.8V178.8M525.7 174.8V181.8M537.3 174.8V178.8M544.1 174.8V178.8M548.9 174.8V178.8M552.6 174.8V178.8M555.7 174.8V178.8M558.2 174.8V178.8M560.5 174.8V178.8M562.4 174.8V178.8M564.2 174.8V181.8M575.8 174.8V178.8" stroke="#333" stroke-width="1" fill="none"/>
<rect x="427.4" y="12" width="153.4" height="162.8" fill="none" stroke="#555" stroke-width="1.5"/>
<text x="504" y="201.7" text-anchor="middle" font-family="'Liberation Sans', Arial, sans-serif" font-size="9.3" fill="#333">CD15 FITC-A</text>
<text transform="translate(408.4 93.4) rotate(-90)" text-anchor="middle" font-family="'Liberation Sans', Arial, sans-serif" font-size="9.2" fill="#333">CD13 PE-A</text>
<path d="M488 12V174.8M427.4 110.7H580.8" stroke="#555" stroke-width="1.5"/>
<g font-family="'Liberation Sans', Arial, sans-serif" font-size="8.7" fill="#222"><text x="439.2" y="70.8">Q1</text><text x="517.4" y="70.8">Q2</text><text x="437.9" y="160.6">Q3</text><text x="517.4" y="160.6">Q4</text></g>
<g font-family="'Liberation Serif', 'Times New Roman', serif" font-weight="bold" font-size="13.3" fill="#111"><text x="431.6" y="27.3">69.3%</text><text x="580" y="27.3" text-anchor="end">6.2%</text><text x="430.8" y="172.8">21.4%</text><text x="580.2" y="172.8" text-anchor="end">3.0%</text></g>
<text x="599.2" y="12.3" font-family="'Liberation Sans', Arial, sans-serif" font-weight="bold" font-size="15.5">D</text>
<text transform="translate(620.6 156.8) rotate(-90)" font-family="'Liberation Sans', Arial, sans-serif" font-size="6.1" fill="#000" stroke="#000" stroke-width=".2">10</text><text transform="translate(616.4 148.5) rotate(-90)" font-family="'Liberation Sans', Arial, sans-serif" font-size="6.1" fill="#000" stroke="#000" stroke-width=".2">2</text>
<text transform="translate(620.6 118.2) rotate(-90)" font-family="'Liberation Sans', Arial, sans-serif" font-size="6.1" fill="#000" stroke="#000" stroke-width=".2">10</text><text transform="translate(616.4 109.9) rotate(-90)" font-family="'Liberation Sans', Arial, sans-serif" font-size="6.1" fill="#000" stroke="#000" stroke-width=".2">3</text>
<text transform="translate(620.6 74.4) rotate(-90)" font-family="'Liberation Sans', Arial, sans-serif" font-size="6.1" fill="#000" stroke="#000" stroke-width=".2">10</text><text transform="translate(616.4 66.1) rotate(-90)" font-family="'Liberation Sans', Arial, sans-serif" font-size="6.1" fill="#000" stroke="#000" stroke-width=".2">4</text>
<text transform="translate(620.6 34.7) rotate(-90)" font-family="'Liberation Sans', Arial, sans-serif" font-size="6.1" fill="#000" stroke="#000" stroke-width=".2">10</text><text transform="translate(616.4 26.4) rotate(-90)" font-family="'Liberation Sans', Arial, sans-serif" font-size="6.1" fill="#000" stroke="#000" stroke-width=".2">5</text>
<text transform="translate(643.8 190.9) scale(.8 1)" font-family="'Liberation Sans', Arial, sans-serif" font-size="7.2" fill="#000" stroke="#000" stroke-width=".25">10</text><text transform="translate(651.3 185.6) scale(.9 1)" font-family="'Liberation Sans', Arial, sans-serif" font-size="5.8" fill="#000" stroke="#000" stroke-width=".2">2</text>
<text transform="translate(682.1 190.9) scale(.8 1)" font-family="'Liberation Sans', Arial, sans-serif" font-size="7.2" fill="#000" stroke="#000" stroke-width=".25">10</text><text transform="translate(689.6 185.6) scale(.9 1)" font-family="'Liberation Sans', Arial, sans-serif" font-size="5.8" fill="#000" stroke="#000" stroke-width=".2">3</text>
<text transform="translate(720.6 190.9) scale(.8 1)" font-family="'Liberation Sans', Arial, sans-serif" font-size="7.2" fill="#000" stroke="#000" stroke-width=".25">10</text><text transform="translate(728.1 185.6) scale(.9 1)" font-family="'Liberation Sans', Arial, sans-serif" font-size="5.8" fill="#000" stroke="#000" stroke-width=".2">4</text>
<text transform="translate(759.1 190.9) scale(.8 1)" font-family="'Liberation Sans', Arial, sans-serif" font-size="7.2" fill="#000" stroke="#000" stroke-width=".25">10</text><text transform="translate(766.6 185.6) scale(.9 1)" font-family="'Liberation Sans', Arial, sans-serif" font-size="5.8" fill="#000" stroke="#000" stroke-width=".2">5</text>
<path d="M624.9 171.5H628.4M624.9 166.7H628.4M624.9 162.9H628.4M624.9 159.9H628.4M624.9 157.3H628.4M624.9 155H628.4M624.9 153.1H628.4M622.4 151.3H628.4M624.9 139.7H628.4M624.9 132.9H628.4M624.9 128.1H628.4M624.9 124.3H628.4M624.9 121.3H628.4M624.9 118.7H628.4M624.9 116.4H628.4M624.9 114.5H628.4M622.4 112.7H628.4M624.9 99.5H628.4M624.9 91.8H628.4M624.9 86.3H628.4M624.9 82.1H628.4M624.9 78.6H628.4M624.9 75.7H628.4M624.9 73.1H628.4M624.9 70.9H628.4M622.4 68.9H628.4M624.9 56.9H628.4M624.9 50H628.4M624.9 45H628.4M624.9 41.2H628.4M624.9 38H628.4M624.9 35.3H628.4M624.9 33H628.4M624.9 31H628.4M622.4 29.2H628.4M624.9 17.2H628.4M634.1 175.6V179.6M637.8 175.6V179.6M640.8 175.6V179.6M643.4 175.6V179.6M645.6 175.6V179.6M647.5 175.6V179.6M649.3 175.6V182.6M660.8 175.6V179.6M667.6 175.6V179.6M672.4 175.6V179.6M676.1 175.6V179.6M679.1 175.6V179.6M681.7 175.6V179.6M683.9 175.6V179.6M685.8 175.6V179.6M687.6 175.6V182.6M699.2 175.6V179.6M706 175.6V179.6M710.8 175.6V179.6M714.5 175.6V179.6M717.6 175.6V179.6M720.1 175.6V179.6M722.4 175.6V179.6M724.3 175.6V179.6M726.1 175.6V182.6M737.7 175.6V179.6M744.5 175.6V179.6M749.3 175.6V179.6M753 175.6V179.6M756.1 175.6V179.6M758.6 175.6V179.6M760.9 175.6V179.6M762.8 175.6V179.6M764.6 175.6V182.6M776.2 175.6V179.6" stroke="#333" stroke-width="1" fill="none"/>
<rect x="628.4" y="11.4" width="153" height="164.2" fill="none" stroke="#555" stroke-width="1.5"/>
<text x="705" y="201.7" text-anchor="middle" font-family="'Liberation Sans', Arial, sans-serif" font-size="9.3" fill="#333">CD13 PE-A</text>
<text transform="translate(608.6 93.5) rotate(-90)" text-anchor="middle" font-family="'Liberation Sans', Arial, sans-serif" font-size="8.8" fill="#333">HLA-DR APC-A</text>
<path d="M688.2 11.4V175.6M628.4 113.9H781.4" stroke="#555" stroke-width="1.5"/>
<g font-family="'Liberation Sans', Arial, sans-serif" font-size="8.7" fill="#222"><text x="643.8" y="79.2">Q1-1</text><text x="715.3" y="79.2">Q2-1</text><text x="643.8" y="161.8">Q3-1</text><text x="715.9" y="161.8">Q4-1</text></g>
<g font-family="'Liberation Serif', 'Times New Roman', serif" font-weight="bold" font-size="13.3" fill="#111"><text x="632.5" y="26.2">0.3%</text><text x="781.2" y="26.2" text-anchor="end">0.5%</text><text x="630.8" y="172.4">24.1%</text><text x="781.6" y="172.4" text-anchor="end">75.1%</text></g>
<text x="8.6" y="239" font-family="'Liberation Sans', Arial, sans-serif" font-weight="bold" font-size="15.5">E</text>
<text transform="translate(18.5 387.2) rotate(-90)" font-family="'Liberation Sans', Arial, sans-serif" font-size="6.1" fill="#000" stroke="#000" stroke-width=".2">10</text><text transform="translate(14.3 378.9) rotate(-90)" font-family="'Liberation Sans', Arial, sans-serif" font-size="6.1" fill="#000" stroke="#000" stroke-width=".2">2</text>
<text transform="translate(18.5 346.2) rotate(-90)" font-family="'Liberation Sans', Arial, sans-serif" font-size="6.1" fill="#000" stroke="#000" stroke-width=".2">10</text><text transform="translate(14.3 337.9) rotate(-90)" font-family="'Liberation Sans', Arial, sans-serif" font-size="6.1" fill="#000" stroke="#000" stroke-width=".2">3</text>
<text transform="translate(18.5 304.5) rotate(-90)" font-family="'Liberation Sans', Arial, sans-serif" font-size="6.1" fill="#000" stroke="#000" stroke-width=".2">10</text><text transform="translate(14.3 296.2) rotate(-90)" font-family="'Liberation Sans', Arial, sans-serif" font-size="6.1" fill="#000" stroke="#000" stroke-width=".2">4</text>
<text transform="translate(18.5 265.7) rotate(-90)" font-family="'Liberation Sans', Arial, sans-serif" font-size="6.1" fill="#000" stroke="#000" stroke-width=".2">10</text><text transform="translate(14.3 257.4) rotate(-90)" font-family="'Liberation Sans', Arial, sans-serif" font-size="6.1" fill="#000" stroke="#000" stroke-width=".2">5</text>
<text transform="translate(41.8 420.5) scale(.8 1)" font-family="'Liberation Sans', Arial, sans-serif" font-size="7.2" fill="#000" stroke="#000" stroke-width=".25">10</text><text transform="translate(49.3 415.2) scale(.9 1)" font-family="'Liberation Sans', Arial, sans-serif" font-size="5.8" fill="#000" stroke="#000" stroke-width=".2">2</text>
<text transform="translate(80.3 420.5) scale(.8 1)" font-family="'Liberation Sans', Arial, sans-serif" font-size="7.2" fill="#000" stroke="#000" stroke-width=".25">10</text><text transform="translate(87.8 415.2) scale(.9 1)" font-family="'Liberation Sans', Arial, sans-serif" font-size="5.8" fill="#000" stroke="#000" stroke-width=".2">3</text>
<text transform="translate(118.6 420.5) scale(.8 1)" font-family="'Liberation Sans', Arial, sans-serif" font-size="7.2" fill="#000" stroke="#000" stroke-width=".25">10</text><text transform="translate(126.1 415.2) scale(.9 1)" font-family="'Liberation Sans', Arial, sans-serif" font-size="5.8" fill="#000" stroke="#000" stroke-width=".2">4</text>
<text transform="translate(157.3 420.5) scale(.8 1)" font-family="'Liberation Sans', Arial, sans-serif" font-size="7.2" fill="#000" stroke="#000" stroke-width=".25">10</text><text transform="translate(164.8 415.2) scale(.9 1)" font-family="'Liberation Sans', Arial, sans-serif" font-size="5.8" fill="#000" stroke="#000" stroke-width=".2">5</text>
<path d="M22.8 403.1H26.3M22.8 398H26.3M22.8 394H26.3M22.8 390.8H26.3M22.8 388.1H26.3M22.8 385.7H26.3M22.8 383.6H26.3M20.3 381.7H26.3M22.8 369.4H26.3M22.8 362.1H26.3M22.8 357H26.3M22.8 353H26.3M22.8 349.8H26.3M22.8 347.1H26.3M22.8 344.7H26.3M22.8 342.6H26.3M20.3 340.7H26.3M22.8 328.1H26.3M22.8 320.8H26.3M22.8 315.6H26.3M22.8 311.6H26.3M22.8 308.3H26.3M22.8 305.5H26.3M22.8 303H26.3M22.8 300.9H26.3M20.3 299H26.3M22.8 287.3H26.3M22.8 280.5H26.3M22.8 275.6H26.3M22.8 271.9H26.3M22.8 268.8H26.3M22.8 266.2H26.3M22.8 264H26.3M22.8 262H26.3M20.3 260.2H26.3M22.8 248.5H26.3M32 405.2V409.2M35.7 405.2V409.2M38.8 405.2V409.2M41.3 405.2V409.2M43.6 405.2V409.2M45.5 405.2V409.2M47.3 405.2V412.2M58.9 405.2V409.2M65.7 405.2V409.2M70.5 405.2V409.2M74.2 405.2V409.2M77.3 405.2V409.2M79.8 405.2V409.2M82.1 405.2V409.2M84 405.2V409.2M85.8 405.2V412.2M97.3 405.2V409.2M104.1 405.2V409.2M108.9 405.2V409.2M112.6 405.2V409.2M115.6 405.2V409.2M118.2 405.2V409.2M120.4 405.2V409.2M122.3 405.2V409.2M124.1 405.2V412.2M135.7 405.2V409.2M142.6 405.2V409.2M147.4 405.2V409.2M151.2 405.2V409.2M154.2 405.2V409.2M156.8 405.2V409.2M159 405.2V409.2M161 405.2V409.2M162.8 405.2V412.2M174.4 405.2V409.2" stroke="#333" stroke-width="1" fill="none"/>
<rect x="26.3" y="241.9" width="153.5" height="163.3" fill="none" stroke="#555" stroke-width="1.5"/>
<text x="102.7" y="431.2" text-anchor="middle" font-family="'Liberation Sans', Arial, sans-serif" font-size="9.3" fill="#333">CD14 FITC-A</text>
<text transform="translate(8.5 323.6) rotate(-90)" text-anchor="middle" font-family="'Liberation Sans', Arial, sans-serif" font-size="10" fill="#333">CD33 PE-A</text>
<path d="M86.5 241.9V405.2M26.3 340.7H179.8" stroke="#555" stroke-width="1.5"/>
<g font-family="'Liberation Sans', Arial, sans-serif" font-size="8.7" fill="#222"><text x="37.8" y="301.6">Q1</text><text x="116.8" y="301.6">Q2</text><text x="38.2" y="390.8">Q3</text><text x="116.8" y="390.8">Q4</text></g>
<g font-family="'Liberation Serif', 'Times New Roman', serif" font-weight="bold" font-size="13.3" fill="#111"><text x="31.3" y="257.7">98.9%</text><text x="180.2" y="257.7" text-anchor="end">0.6%</text><text x="31.3" y="402.7">0.2%</text><text x="180.2" y="402.7" text-anchor="end">0.3%</text></g>
<text x="200.8" y="239" font-family="'Liberation Sans', Arial, sans-serif" font-weight="bold" font-size="15.5">F</text>
<text transform="translate(219.8 387.8) rotate(-90)" font-family="'Liberation Sans', Arial, sans-serif" font-size="6.1" fill="#000" stroke="#000" stroke-width=".2">10</text><text transform="translate(215.6 379.5) rotate(-90)" font-family="'Liberation Sans', Arial, sans-serif" font-size="6.1" fill="#000" stroke="#000" stroke-width=".2">2</text>
<text transform="translate(219.8 348.6) rotate(-90)" font-family="'Liberation Sans', Arial, sans-serif" font-size="6.1" fill="#000" stroke="#000" stroke-width=".2">10</text><text transform="translate(215.6 340.3) rotate(-90)" font-family="'Liberation Sans', Arial, sans-serif" font-size="6.1" fill="#000" stroke="#000" stroke-width=".2">3</text>
<text transform="translate(219.8 306.2) rotate(-90)" font-family="'Liberation Sans', Arial, sans-serif" font-size="6.1" fill="#000" stroke="#000" stroke-width=".2">10</text><text transform="translate(215.6 297.9) rotate(-90)" font-family="'Liberation Sans', Arial, sans-serif" font-size="6.1" fill="#000" stroke="#000" stroke-width=".2">4</text>
<text transform="translate(219.8 265) rotate(-90)" font-family="'Liberation Sans', Arial, sans-serif" font-size="6.1" fill="#000" stroke="#000" stroke-width=".2">10</text><text transform="translate(215.6 256.7) rotate(-90)" font-family="'Liberation Sans', Arial, sans-serif" font-size="6.1" fill="#000" stroke="#000" stroke-width=".2">5</text>
<text transform="translate(243.2 421.9) scale(.8 1)" font-family="'Liberation Sans', Arial, sans-serif" font-size="7.2" fill="#000" stroke="#000" stroke-width=".25">10</text><text transform="translate(250.7 416.6) scale(.9 1)" font-family="'Liberation Sans', Arial, sans-serif" font-size="5.8" fill="#000" stroke="#000" stroke-width=".2">2</text>
<text transform="translate(281.7 421.9) scale(.8 1)" font-family="'Liberation Sans', Arial, sans-serif" font-size="7.2" fill="#000" stroke="#000" stroke-width=".25">10</text><text transform="translate(289.2 416.6) scale(.9 1)" font-family="'Liberation Sans', Arial, sans-serif" font-size="5.8" fill="#000" stroke="#000" stroke-width=".2">3</text>
<text transform="translate(320.2 421.9) scale(.8 1)" font-family="'Liberation Sans', Arial, sans-serif" font-size="7.2" fill="#000" stroke="#000" stroke-width=".25">10</text><text transform="translate(327.7 416.6) scale(.9 1)" font-family="'Liberation Sans', Arial, sans-serif" font-size="5.8" fill="#000" stroke="#000" stroke-width=".2">4</text>
<text transform="translate(358.7 421.9) scale(.8 1)" font-family="'Liberation Sans', Arial, sans-serif" font-size="7.2" fill="#000" stroke="#000" stroke-width=".25">10</text><text transform="translate(366.2 416.6) scale(.9 1)" font-family="'Liberation Sans', Arial, sans-serif" font-size="5.8" fill="#000" stroke="#000" stroke-width=".2">5</text>
<path d="M224.1 402.8H227.6M224.1 397.9H227.6M224.1 394.1H227.6M224.1 391H227.6M224.1 388.4H227.6M224.1 386.1H227.6M224.1 384.1H227.6M221.6 382.3H227.6M224.1 370.5H227.6M224.1 363.6H227.6M224.1 358.7H227.6M224.1 354.9H227.6M224.1 351.8H227.6M224.1 349.2H227.6M224.1 346.9H227.6M224.1 344.9H227.6M221.6 343.1H227.6M224.1 330.3H227.6M224.1 322.9H227.6M224.1 317.6H227.6M224.1 313.5H227.6M224.1 310.1H227.6M224.1 307.3H227.6M224.1 304.8H227.6M224.1 302.6H227.6M221.6 300.7H227.6M224.1 288.3H227.6M224.1 281H227.6M224.1 275.9H227.6M224.1 271.9H227.6M224.1 268.6H227.6M224.1 265.9H227.6M224.1 263.5H227.6M224.1 261.4H227.6M221.6 259.5H227.6M224.1 247.1H227.6M233.4 406.6V410.6M237.1 406.6V410.6M240.2 406.6V410.6M242.7 406.6V410.6M245 406.6V410.6M246.9 406.6V410.6M248.7 406.6V413.6M260.3 406.6V410.6M267.1 406.6V410.6M271.9 406.6V410.6M275.6 406.6V410.6M278.7 406.6V410.6M281.2 406.6V410.6M283.5 406.6V410.6M285.4 406.6V410.6M287.2 406.6V413.6M298.8 406.6V410.6M305.6 406.6V410.6M310.4 406.6V410.6M314.1 406.6V410.6M317.2 406.6V410.6M319.7 406.6V410.6M322 406.6V410.6M323.9 406.6V410.6M325.7 406.6V413.6M337.3 406.6V410.6M344.1 406.6V410.6M348.9 406.6V410.6M352.6 406.6V410.6M355.7 406.6V410.6M358.2 406.6V410.6M360.5 406.6V410.6M362.4 406.6V410.6M364.2 406.6V413.6M375.8 406.6V410.6" stroke="#333" stroke-width="1" fill="none"/>
<rect x="227.6" y="241.4" width="153.2" height="165.2" fill="none" stroke="#555" stroke-width="1.5"/>
<text x="303.5" y="431.2" text-anchor="middle" font-family="'Liberation Sans', Arial, sans-serif" font-size="9.3" fill="#333">CD33 PE-A</text>
<text transform="translate(210.2 324) rotate(-90)" text-anchor="middle" font-family="'Liberation Sans', Arial, sans-serif" font-size="9.2" fill="#333">CD34 APC-A</text>
<path d="M287.5 241.4V406.6M227.6 344.1H380.8" stroke="#555" stroke-width="1.5"/>
<g font-family="'Liberation Sans', Arial, sans-serif" font-size="8.7" fill="#222"><text x="243.4" y="310">Q1-1</text><text x="314.9" y="310">Q2-1</text><text x="243.8" y="392.2">Q3-1</text><text x="314.9" y="392.2">Q4-1</text></g>
<g font-family="'Liberation Serif', 'Times New Roman', serif" font-weight="bold" font-size="13.3" fill="#111"><text x="233.7" y="257.9">0.0%</text><text x="381.6" y="257.9" text-anchor="end">4.4%</text><text x="233.7" y="402.7">0.4%</text><text x="381.6" y="402.7" text-anchor="end">95.2%</text></g>
<text x="396.6" y="239" font-family="'Liberation Sans', Arial, sans-serif" font-weight="bold" font-size="15.5">G</text>
<text transform="translate(421 385.8) rotate(-90)" font-family="'Liberation Sans', Arial, sans-serif" font-size="6.1" fill="#000" stroke="#000" stroke-width=".2">10</text><text transform="translate(416.8 377.5) rotate(-90)" font-family="'Liberation Sans', Arial, sans-serif" font-size="6.1" fill="#000" stroke="#000" stroke-width=".2">2</text>
<text transform="translate(421 345.1) rotate(-90)" font-family="'Liberation Sans', Arial, sans-serif" font-size="6.1" fill="#000" stroke="#000" stroke-width=".2">10</text><text transform="translate(416.8 336.8) rotate(-90)" font-family="'Liberation Sans', Arial, sans-serif" font-size="6.1" fill="#000" stroke="#000" stroke-width=".2">3</text>
<text transform="translate(421 303.4) rotate(-90)" font-family="'Liberation Sans', Arial, sans-serif" font-size="6.1" fill="#000" stroke="#000" stroke-width=".2">10</text><text transform="translate(416.8 295.1) rotate(-90)" font-family="'Liberation Sans', Arial, sans-serif" font-size="6.1" fill="#000" stroke="#000" stroke-width=".2">4</text>
<text transform="translate(421 263.7) rotate(-90)" font-family="'Liberation Sans', Arial, sans-serif" font-size="6.1" fill="#000" stroke="#000" stroke-width=".2">10</text><text transform="translate(416.8 255.4) rotate(-90)" font-family="'Liberation Sans', Arial, sans-serif" font-size="6.1" fill="#000" stroke="#000" stroke-width=".2">5</text>
<text transform="translate(444.8 419) scale(.8 1)" font-family="'Liberation Sans', Arial, sans-serif" font-size="7.2" fill="#000" stroke="#000" stroke-width=".25">10</text><text transform="translate(452.3 413.7) scale(.9 1)" font-family="'Liberation Sans', Arial, sans-serif" font-size="5.8" fill="#000" stroke="#000" stroke-width=".2">2</text>
<text transform="translate(483.1 419) scale(.8 1)" font-family="'Liberation Sans', Arial, sans-serif" font-size="7.2" fill="#000" stroke="#000" stroke-width=".25">10</text><text transform="translate(490.6 413.7) scale(.9 1)" font-family="'Liberation Sans', Arial, sans-serif" font-size="5.8" fill="#000" stroke="#000" stroke-width=".2">3</text>
<text transform="translate(521.6 419) scale(.8 1)" font-family="'Liberation Sans', Arial, sans-serif" font-size="7.2" fill="#000" stroke="#000" stroke-width=".25">10</text><text transform="translate(529.1 413.7) scale(.9 1)" font-family="'Liberation Sans', Arial, sans-serif" font-size="5.8" fill="#000" stroke="#000" stroke-width=".2">4</text>
<text transform="translate(560.7 419) scale(.8 1)" font-family="'Liberation Sans', Arial, sans-serif" font-size="7.2" fill="#000" stroke="#000" stroke-width=".25">10</text><text transform="translate(568.2 413.7) scale(.9 1)" font-family="'Liberation Sans', Arial, sans-serif" font-size="5.8" fill="#000" stroke="#000" stroke-width=".2">5</text>
<path d="M425.3 401.6H428.8M425.3 396.5H428.8M425.3 392.6H428.8M425.3 389.3H428.8M425.3 386.6H428.8M425.3 384.2H428.8M425.3 382.2H428.8M422.8 380.3H428.8M425.3 368H428.8M425.3 360.9H428.8M425.3 355.8H428.8M425.3 351.9H428.8M425.3 348.6H428.8M425.3 345.9H428.8M425.3 343.5H428.8M425.3 341.5H428.8M422.8 339.6H428.8M425.3 327H428.8M425.3 319.7H428.8M425.3 314.5H428.8M425.3 310.5H428.8M425.3 307.2H428.8M425.3 304.4H428.8M425.3 301.9H428.8M425.3 299.8H428.8M422.8 297.9H428.8M425.3 285.9H428.8M425.3 279H428.8M425.3 274H428.8M425.3 270.2H428.8M425.3 267H428.8M425.3 264.3H428.8M425.3 262H428.8M425.3 260H428.8M422.8 258.2H428.8M425.3 246.2H428.8M430.3 403.7V407.7M435.1 403.7V407.7M438.8 403.7V407.7M441.8 403.7V407.7M444.4 403.7V407.7M446.6 403.7V407.7M448.5 403.7V407.7M450.3 403.7V410.7M461.8 403.7V407.7M468.6 403.7V407.7M473.4 403.7V407.7M477.1 403.7V407.7M480.1 403.7V407.7M482.7 403.7V407.7M484.9 403.7V407.7M486.8 403.7V407.7M488.6 403.7V410.7M500.2 403.7V407.7M507 403.7V407.7M511.8 403.7V407.7M515.5 403.7V407.7M518.6 403.7V407.7M521.1 403.7V407.7M523.4 403.7V407.7M525.3 403.7V407.7M527.1 403.7V410.7M538.9 403.7V407.7M545.8 403.7V407.7M550.6 403.7V407.7M554.4 403.7V407.7M557.5 403.7V407.7M560.1 403.7V407.7M562.4 403.7V407.7M564.4 403.7V407.7M566.2 403.7V410.7M578 403.7V407.7" stroke="#333" stroke-width="1" fill="none"/>
<rect x="428.8" y="240.4" width="153.8" height="163.3" fill="none" stroke="#555" stroke-width="1.5"/>
<text x="505" y="431.2" text-anchor="middle" font-family="'Liberation Sans', Arial, sans-serif" font-size="9.3" fill="#333">CD7 FITC-A</text>
<text transform="translate(410.4 322.1) rotate(-90)" text-anchor="middle" font-family="'Liberation Sans', Arial, sans-serif" font-size="9.2" fill="#333">CD64 PE-A</text>
<path d="M489.1 240.4V403.7M428.8 339.5H582.6" stroke="#555" stroke-width="1.5"/>
<g font-family="'Liberation Sans', Arial, sans-serif" font-size="8.7" fill="#222"><text x="439.9" y="300">Q1</text><text x="518.8" y="300">Q2</text><text x="439.9" y="389.4">Q3</text><text x="518.8" y="389.4">Q4</text></g>
<g font-family="'Liberation Serif', 'Times New Roman', serif" font-weight="bold" font-size="13.3" fill="#111"><text x="433.8" y="255.9">79.3%</text><text x="582.6" y="255.9" text-anchor="end">0.0%</text><text x="433.1" y="401.3">20.6%</text><text x="582.6" y="401.3" text-anchor="end">0.0%</text></g>
<text x="599.2" y="239" font-family="'Liberation Sans', Arial, sans-serif" font-weight="bold" font-size="15.5">H</text>
<text transform="translate(622.5 386.2) rotate(-90)" font-family="'Liberation Sans', Arial, sans-serif" font-size="6.1" fill="#000" stroke="#000" stroke-width=".2">10</text><text transform="translate(618.3 377.9) rotate(-90)" font-family="'Liberation Sans', Arial, sans-serif" font-size="6.1" fill="#000" stroke="#000" stroke-width=".2">2</text>
<text transform="translate(622.5 346.6) rotate(-90)" font-family="'Liberation Sans', Arial, sans-serif" font-size="6.1" fill="#000" stroke="#000" stroke-width=".2">10</text><text transform="translate(618.3 338.3) rotate(-90)" font-family="'Liberation Sans', Arial, sans-serif" font-size="6.1" fill="#000" stroke="#000" stroke-width=".2">3</text>
<text transform="translate(622.5 302.9) rotate(-90)" font-family="'Liberation Sans', Arial, sans-serif" font-size="6.1" fill="#000" stroke="#000" stroke-width=".2">10</text><text transform="translate(618.3 294.6) rotate(-90)" font-family="'Liberation Sans', Arial, sans-serif" font-size="6.1" fill="#000" stroke="#000" stroke-width=".2">4</text>
<text transform="translate(622.5 263.7) rotate(-90)" font-family="'Liberation Sans', Arial, sans-serif" font-size="6.1" fill="#000" stroke="#000" stroke-width=".2">10</text><text transform="translate(618.3 255.4) rotate(-90)" font-family="'Liberation Sans', Arial, sans-serif" font-size="6.1" fill="#000" stroke="#000" stroke-width=".2">5</text>
<text transform="translate(645.8 419.9) scale(.8 1)" font-family="'Liberation Sans', Arial, sans-serif" font-size="7.2" fill="#000" stroke="#000" stroke-width=".25">10</text><text transform="translate(653.3 414.6) scale(.9 1)" font-family="'Liberation Sans', Arial, sans-serif" font-size="5.8" fill="#000" stroke="#000" stroke-width=".2">2</text>
<text transform="translate(684.1 419.9) scale(.8 1)" font-family="'Liberation Sans', Arial, sans-serif" font-size="7.2" fill="#000" stroke="#000" stroke-width=".25">10</text><text transform="translate(691.6 414.6) scale(.9 1)" font-family="'Liberation Sans', Arial, sans-serif" font-size="5.8" fill="#000" stroke="#000" stroke-width=".2">3</text>
<text transform="translate(722.6 419.9) scale(.8 1)" font-family="'Liberation Sans', Arial, sans-serif" font-size="7.2" fill="#000" stroke="#000" stroke-width=".25">10</text><text transform="translate(730.1 414.6) scale(.9 1)" font-family="'Liberation Sans', Arial, sans-serif" font-size="5.8" fill="#000" stroke="#000" stroke-width=".2">4</text>
<text transform="translate(761.1 419.9) scale(.8 1)" font-family="'Liberation Sans', Arial, sans-serif" font-size="7.2" fill="#000" stroke="#000" stroke-width=".25">10</text><text transform="translate(768.6 414.6) scale(.9 1)" font-family="'Liberation Sans', Arial, sans-serif" font-size="5.8" fill="#000" stroke="#000" stroke-width=".2">5</text>
<path d="M626.8 401.4H630.3M626.8 396.5H630.3M626.8 392.6H630.3M626.8 389.5H630.3M626.8 386.8H630.3M626.8 384.5H630.3M626.8 382.5H630.3M624.3 380.7H630.3M626.8 368.8H630.3M626.8 361.8H630.3M626.8 356.9H630.3M626.8 353H630.3M626.8 349.9H630.3M626.8 347.2H630.3M626.8 344.9H630.3M626.8 342.9H630.3M624.3 341.1H630.3M626.8 327.9H630.3M626.8 320.2H630.3M626.8 314.8H630.3M626.8 310.6H630.3M626.8 307.1H630.3M626.8 304.2H630.3M626.8 301.6H630.3M626.8 299.4H630.3M624.3 297.4H630.3M626.8 285.6H630.3M626.8 278.7H630.3M626.8 273.8H630.3M626.8 270H630.3M626.8 266.9H630.3M626.8 264.3H630.3M626.8 262H630.3M626.8 260H630.3M624.3 258.2H630.3M626.8 246.4H630.3M636.1 404.6V408.6M639.8 404.6V408.6M642.8 404.6V408.6M645.4 404.6V408.6M647.6 404.6V408.6M649.5 404.6V408.6M651.3 404.6V411.6M662.8 404.6V408.6M669.6 404.6V408.6M674.4 404.6V408.6M678.1 404.6V408.6M681.1 404.6V408.6M683.7 404.6V408.6M685.9 404.6V408.6M687.8 404.6V408.6M689.6 404.6V411.6M701.2 404.6V408.6M708 404.6V408.6M712.8 404.6V408.6M716.5 404.6V408.6M719.6 404.6V408.6M722.1 404.6V408.6M724.4 404.6V408.6M726.3 404.6V408.6M728.1 404.6V411.6M739.7 404.6V408.6M746.5 404.6V408.6M751.3 404.6V408.6M755 404.6V408.6M758.1 404.6V408.6M760.6 404.6V408.6M762.9 404.6V408.6M764.8 404.6V408.6M766.6 404.6V411.6M778.2 404.6V408.6" stroke="#333" stroke-width="1" fill="none"/>
<rect x="630.3" y="240" width="152.9" height="164.6" fill="none" stroke="#555" stroke-width="1.5"/>
<text x="706.5" y="431.2" text-anchor="middle" font-family="'Liberation Sans', Arial, sans-serif" font-size="9.3" fill="#333">CD117 PE-A</text>
<text transform="translate(611.9 322.3) rotate(-90)" text-anchor="middle" font-family="'Liberation Sans', Arial, sans-serif" font-size="9.2" fill="#333">CD19 APC-A</text>
<path d="M690 240V404.6M630.3 341.4H783.2" stroke="#555" stroke-width="1.5"/>
<g font-family="'Liberation Sans', Arial, sans-serif" font-size="8.7" fill="#222"><text x="645.8" y="307">Q1-1</text><text x="717.3" y="307">Q2-1</text><text x="645.8" y="390.2">Q3-1</text><text x="716.9" y="390.2">Q4-1</text></g>
<g font-family="'Liberation Serif', 'Times New Roman', serif" font-weight="bold" font-size="13.3" fill="#111"><text x="634.1" y="256.3">0.0%</text><text x="782.8" y="256.3" text-anchor="end">0.0%</text><text x="634.1" y="401.7">44.5%</text><text x="783.6" y="401.7" text-anchor="end">55.5%</text></g>
</svg></div></body></html>
